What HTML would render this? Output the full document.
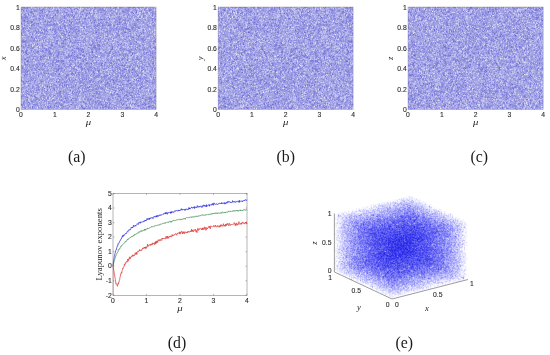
<!DOCTYPE html>
<html lang="en"><head><meta charset="utf-8"><title>Figure</title>
<style>
html,body{margin:0;padding:0;background:#fff;}
body{width:550px;height:355px;overflow:hidden;}
svg{display:block;}
.t{font-family:"Liberation Sans",Arial,sans-serif;font-size:6.8px;fill:#2e2e2e;stroke:#2e2e2e;stroke-width:0.12px;}
.i{font-family:"Liberation Serif","Times New Roman",serif;font-style:italic;font-size:8.5px;fill:#222;}
.s{font-family:"Liberation Serif","Times New Roman",serif;font-size:8.7px;fill:#222;}
.c{font-family:"Liberation Serif","DejaVu Serif",serif;font-size:15.8px;fill:#1a1a1a;}
</style></head><body>
<svg width="550" height="355" viewBox="0 0 550 355">
<defs>
<filter id="hzf" x="-5%" y="-5%" width="110%" height="110%" color-interpolation-filters="sRGB">
<feTurbulence type="fractalNoise" baseFrequency="0.7" numOctaves="2" seed="11" result="n"/>
<feColorMatrix in="n" type="matrix" values="0 0 0 0 1  0 0 0 0 1  0 0 0 0 1  1 0 0 0 0" result="na"/>
<feComposite in="SourceGraphic" in2="na" operator="arithmetic" k1="1.6" k2="0.2" k3="0" k4="0"/>
</filter>
</defs>
<defs><svg id="sc" width="135.2" height="102.6" viewBox="0 0 135.2 102.6"><rect width="135.2" height="102.6" fill="#a0a0e4"/><g transform="scale(0.1)" fill="none" stroke-linecap="round"><path d="M27 20h0m5-17h0m-5 23h0m-14-11h0m15 18h0m0 4h0m-14-13h0m16 5h0m-20-23h0m11 2h0m-17 19h0m27-27h0m32 10h0m-22 6h0m38 18h0m-23 2h0m-9-20h0m12-4h0m3 27h0m2-31h0m35 14h0m9 1h0m-24-8h0m31 12h0m7-11h0m18 17h0m11-19h0m17 10h0m20-3h0m-23-20h0m2 7h0m19 4h0m-21 23h0m31-21h0m-28 15h0m27 5h0m14-17h0m-2 1h0m26-10h0m-26 25h0m0-5h0m20-7h0m-12 6h0m32-24h0m28 2h0m4 34h0m-8-9h0m-8-8h0m32-12h0m15 4h0m-25 0h0m-5-12h0m29 12h0m50 24h0m-20-11h0m9 3h0m-19 1h0m70-29h0m-9 12h0m-23 15h0m26 1h0m3-14h0m-29 18h0m-2-33h0m71 15h0m6-8h0m19 21h0m-18-25h0m21 4h0m37 24h0m-2-9h0m4 9h0m8-4h0m-10-24h0m-17-3h0m9 15h0m-8-8h0m18 1h0m-2 17h0m18-24h0m23 14h0m-4 9h0m20-7h0m-32 5h0m59-23h0m-12 35h0m10-6h0m-17-5h0m35-14h0m24 21h0m-6-28h0m7 34h0m11-15h0m37-8h0m5-5h0m-23 19h0m6 7h0m3-24h0m40 9h0m-16 16h0m5-14h0m19-13h0m-33-2h0m57-4h0m5 5h0m-2 17h0m-16 7h0m16-13h0m47 9h0m6-7h0m0-13h0m0 1h0m-22 24h0m21-20h0m38 20h0m-17-10h0m24 12h0m-36-3h0m14-14h0m-8-6h0m10 17h0m51-2h0m-17-25h0m44 35h0m-5-20h0m2 0h0m11 20h0m-4-14h0m-4-16h0m44 18h0m13-21h0m-6 4h0m-22 7h0m2 0h0m30 9h0m-12-3h0m46 9h0m-23-14h0m22-7h0m14 2h0m8 8h0m-11-9h0m70 23h0m-7-12h0m10-9h0m-25 14h0m31-4h0m-28 17h0m38-37h0m0 0h0m-9 0h0m22 31h0m11-15h0m24 5h0m-1-23h0m12 20h0m-16-16h0m-10 32h0m0-28h0m36 29h0m-1-19h0m-6 11h0m22-16h0m1-8h0m11 12h0m-7-14h0m3 10h0m0 10h0m54 0h0m-4 14h0m-19-33h0m-7 32h0m67-19h0m-10-14h0m-19 4h0m36 30h0m-26-12h0m14-23h0m6 13h0m-11 21h0m-12-19h0m53 20h0m6 2h0m-21-13h0m-1 9h0m1 0h0m12-10h0m-4-12h0m54 3h0m-25 14h0m5-18h0m22 65h0m-25-31h0m15 16h0m5-18h0m-30 15h0m-13-3h0m11 15h0m-11-7h0m11-22h0m4 24h0m-54-11h0m-7 2h0m17 15h0m-14-9h0m-23-22h0m-7 4h0m-5 22h0m-18-27h0m17 22h0m-21-17h0m3 11h0m-31 22h0m0-16h0m12-15h0m-62 19h0m30-11h0m-35-12h0m32 12h0m6-2h0m-5 20h0m1 2h0m-13-13h0m3-19h0m-21 18h0m31-17h0m-44 32h0m-3-19h0m2-5h0m6 9h0m-5 4h0m-23 5h0m28-16h0m-35-10h0m-40 7h0m2 22h0m5-2h0m20 6h0m-1-37h0m-15 32h0m22-4h0m-6-3h0m4 13h0m2-4h0m-60-34h0m-11 24h0m19-16h0m-7 15h0m11-11h0m7 6h0m-10-16h0m-3 26h0m-52 2h0m19-8h0m11-6h0m-37 6h0m34 3h0m-35 2h0m26 4h0m-29 0h0m-35-30h0m21 1h0m-50 32h0m20-9h0m6 9h0m-46-7h0m-33 3h0m23-4h0m-15-12h0m-8 15h0m31-18h0m-20-8h0m-19 0h0m-18 36h0m-9-26h0m24 14h0m-34-7h0m-23-13h0m-40 15h0m3-3h0m0 5h0m21-19h0m-6 17h0m-17 4h0m-3-17h0m1-2h0m-39-4h0m-2 22h0m12-15h0m-17 5h0m-1 9h0m-24 7h0m11 3h0m-2-6h0m1 0h0m-13-27h0m19 38h0m-8-25h0m-58-9h0m-4-1h0m16 16h0m15 18h0m-21-5h0m16-12h0m-31 3h0m26-16h0m-32 31h0m-25-6h0m23-30h0m-25 4h0m31 13h0m-28 9h0m-9-4h0m-17-4h0m-23 14h0m6-13h0m23 0h0m-35-8h0m-24 24h0m26-15h0m1-12h0m-15-2h0m-33 29h0m4-35h0m-21 15h0m-14-14h0m9 15h0m4-1h0m-41 12h0m15 8h0m-13-27h0m0 0h0m24-5h0m-75 8h0m10-3h0m25 11h0m-26-22h0m-11 31h0m-14 3h0m-26-16h0m5 6h0m23 2h0m-68 7h0m8 6h0m27-27h0m-34-2h0m4-3h0m27 3h0m-23 4h0m-42 24h0m31-13h0m-37-15h0m22 16h0m-53-9h0m2-14h0m-13 34h0m33-28h0m-18-9h0m23 17h0m-19 3h0m-13-3h0m1 4h0m-9 1h0m-15-3h0m-42 6h0m-9 11h0m-6-18h0m26-16h0m-31 24h0m15-25h0m23 19h0m-74 12h0m11-18h0m0 15h0m3-23h0m10-1h0m-27 0h0m9 15h0m16-2h0m2-1h0m-38 13h0m-21 2h0m-5-22h0m26 17h0m6-10h0m2 21h0m-42 1h0m0-7h0m-28-25h0m-1 28h0m24 30h0m-27-9h0m17 12h0m-15-12h0m11 19h0m-11-1h0m9-28h0m-1 16h0m45 5h0m12-26h0m-9 20h0m-2-9h0m-18 15h0m33 7h0m-30-21h0m0 17h0m28-27h0m-22 8h0m49-6h0m-5-3h0m-4 31h0m-6 2h0m9-27h0m26 11h0m20-5h0m-9-2h0m23 2h0m-12 17h0m12-1h0m-35-29h0m75 11h0m-8-4h0m12 5h0m-18-10h0m3 29h0m-4 6h0m37 0h0m-13-3h0m0-3h0m28-21h0m3-9h0m-20 9h0m12 20h0m-5-28h0m5 34h0m10-32h0m22 4h0m6-2h0m-6-3h0m8-2h0m4 32h0m22-1h0m-2-11h0m1-17h0m24 26h0m3-6h0m1-6h0m0-19h0m2 9h0m6 13h0m2 10h0m15-28h0m-17 15h0m17-17h0m41 35h0m7-8h0m38-13h0m5 18h0m-1-7h0m-33-10h0m11-16h0m10 15h0m11-3h0m-13-1h0m29 9h0m-10-20h0m16-1h0m6 11h0m-9 19h0m23-30h0m42 5h0m-8 11h0m-6-3h0m-21 7h0m29-19h0m23 8h0m-8 6h0m21 15h0m3-29h0m-28 23h0m4 6h0m9-23h0m53 15h0m6-11h0m-23-3h0m63 9h0m-11 1h0m-22-1h0m17-14h0m57 12h0m-1 3h0m-22-16h0m4 3h0m-9 26h0m9-15h0m-17 22h0m7-6h0m22-20h0m-28 24h0m48-17h0m13-9h0m5 26h0m-7-31h0m-20 32h0m17-13h0m18-10h0m15 12h0m-10-24h0m30 20h0m-12-1h0m-4-13h0m1 16h0m56 14h0m47-13h0m-36-5h0m45 19h0m12-18h0m-5 17h0m-10-16h0m28 10h0m8-7h0m24-15h0m-8 0h0m-11 26h0m28-8h0m25 8h0m-9-12h0m17-18h0m11 12h0m-23 5h0m-2-13h0m25-9h0m-9 17h0m-19 0h0m8-11h0m55 26h0m-14-7h0m18 10h0m-13-19h0m41-7h0m5 7h0m5-15h0m-29 37h0m65-17h0m-6-4h0m6 0h0m45 4h0m-22-19h0m-2 33h0m13-27h0m-11-5h0m5 26h0m28-24h0m11 21h0m13-11h0m12 5h0m35 0h0m-9-17h0m-14 35h0m11 0h0m2-18h0m19 12h0m-5-33h0m30 29h0m8-22h0m-17 2h0m3 2h0m2 14h0m50 1h0m6 6h0m2-24h0m30-8h0m-26 33h0m23-22h0m0 22h0m-31 3h0m66-27h0m-4-6h0m-6 24h0m-12 5h0m11-14h0m0 37h0m-12-7h0m11 25h0m3-11h0m-13 15h0m19-37h0m-8 9h0m15 3h0m-33 6h0m-4-7h0m-1-11h0m-9 3h0m-16 7h0m29 29h0m-30-14h0m-10-3h0m-15 11h0m-13-25h0m22 16h0m-13-24h0m-13 24h0m5 4h0m-45-1h0m9-23h0m6 27h0m15-21h0m-6 19h0m-18-28h0m17 5h0m-60 28h0m-3-27h0m18-4h0m-12 9h0m3-9h0m-5 15h0m-41-3h0m31 2h0m0-12h0m-74 33h0m29-35h0m-69 1h0m20 15h0m-18 0h0m30-5h0m-59-10h0m13 14h0m-10-7h0m-12-8h0m4-1h0m8 11h0m-11 18h0m4-10h0m-6 16h0m7-37h0m-30 36h0m-23-15h0m24-1h0m0 16h0m1-31h0m5 0h0m-16 32h0m5-34h0m18 34h0m-48-24h0m7 23h0m-38-11h0m26 6h0m-62-26h0m-20 30h0m7-19h0m-9-16h0m-12 31h0m4 8h0m-7-1h0m-39-33h0m15 4h0m5 14h0m10-22h0m-30 4h0m26-5h0m-9 28h0m-49 11h0m3-20h0m15 15h0m-18-27h0m20-3h0m-30 11h0m-34 16h0m4-25h0m12 0h0m-15 9h0m11 23h0m-22-31h0m25 6h0m-14 19h0m16-25h0m-66 26h0m10-18h0m14 24h0m-13-29h0m-49 17h0m12 6h0m-7-22h0m28-11h0m-15 20h0m-26 11h0m-4-16h0m-24-6h0m20-8h0m-13 22h0m20 4h0m-17 9h0m9-25h0m-60-8h0m7 28h0m15-26h0m-7 0h0m-15 5h0m15 15h0m4 11h0m-38-24h0m6 21h0m-6-28h0m-3 21h0m0-5h0m-58-4h0m-4-6h0m-2 26h0m-2-19h0m21 17h0m2-23h0m-17 10h0m19 9h0m14-7h0m-9 9h0m-56 3h0m-7 2h0m16-24h0m-53 16h0m-8-27h0m3 21h0m29 6h0m-12 0h0m12-15h0m-49 0h0m14-1h0m-15 2h0m12-14h0m-38 37h0m-17-25h0m-18-6h0m24 3h0m-11 21h0m-48 7h0m0-5h0m20-34h0m-25 5h0m36 29h0m-6-6h0m-5-8h0m-28 8h0m1-7h0m18 2h0m-32 10h0m-23-2h0m16-14h0m-16 7h0m8-5h0m-10-1h0m-17 1h0m-6 15h0m-24-24h0m-8 0h0m0 25h0m8 4h0m-36-32h0m-18 25h0m-18-28h0m36 1h0m-37 7h0m33 19h0m-42-4h0m-16-4h0m13 16h0m8-16h0m-29-19h0m18 29h0m10-25h0m-13 23h0m5 0h0m-57-2h0m18-11h0m-5-14h0m2 28h0m-5-6h0m-26-3h0m-4-9h0m-1-6h0m-11 10h0m13-3h0m-5 9h0m9 46h0m-29-24h0m2 18h0m24-15h0m4 29h0m-20-26h0m-3 26h0m21-13h0m-36-20h0m62 5h0m16-6h0m-21 33h0m22-8h0m-12-25h0m35 34h0m9-17h0m-7 4h0m15-10h0m16 12h0m-11-11h0m34-9h0m-6 13h0m-14-17h0m17 12h0m-24-11h0m47-4h0m-1 2h0m-2 20h0m-8-15h0m10 1h0m-15 6h0m74 3h0m-27 1h0m4-17h0m55 17h0m3 10h0m-24 4h0m12-31h0m7-1h0m-6 18h0m54 9h0m-27 1h0m11-8h0m-18-5h0m21 2h0m38-12h0m-5 17h0m7 17h0m-16-23h0m32-16h0m-28 9h0m17 9h0m42-16h0m-25 8h0m-3 6h0m57-14h0m16 36h0m-2-14h0m-30 8h0m35-17h0m-30 12h0m30-6h0m-12-10h0m-6 25h0m22 2h0m0-12h0m25 5h0m6-26h0m32 32h0m-18-21h0m-1 5h0m9 9h0m3-18h0m10-7h0m16 15h0m27-13h0m3 28h0m17 1h0m-6-28h0m32 31h0m18-6h0m-1-11h0m18 13h0m-5-32h0m-12 3h0m48 15h0m8 3h0m-6 11h0m8-3h0m-11 4h0m1-20h0m32 19h0m10-18h0m3-6h0m52 5h0m-4-16h0m-7 28h0m2-6h0m-16 11h0m6-24h0m54 18h0m-18-20h0m-1 17h0m14 9h0m-27-21h0m24-3h0m-18 19h0m-5 6h0m56-34h0m-5 15h0m19 12h0m-29-22h0m18 19h0m-3 4h0m60-4h0m-35-8h0m33 9h0m-21 2h0m8-10h0m15-6h0m16 23h0m-4-3h0m8-12h0m4-11h0m-7 22h0m-10-10h0m42-1h0m18 10h0m-9 2h0m-5-3h0m38 5h0m16-21h0m-15 3h0m-2-6h0m-8 7h0m54-3h0m-12-10h0m35 4h0m22 29h0m-8-10h0m0-11h0m-4-12h0m-7 0h0m14 32h0m-6-19h0m35-14h0m1 3h0m9 6h0m0 6h0m2-5h0m14 1h0m40 9h0m-17 2h0m6-18h0m4 26h0m0-19h0m-8 12h0m26-21h0m38 32h0m28-33h0m38 13h0m-12-5h0m23 26h0m-10-9h0m46 0h0m-9-9h0m-21-14h0m8 24h0m8 10h0m9-28h0m-22 8h0m5-15h0m10 1h0m5 32h0m22-6h0m8-23h0m0 24h0m1 7h0m-1-7h0m-9-9h0m16 43h0m-2 2h0m-10 7h0m-3-33h0m-40 8h0m9 20h0m8-22h0m-51 23h0m-2 8h0m-5-12h0m9-5h0m2-7h0m-32 17h0m-2-7h0m-4-24h0m12 5h0m-45 7h0m-17-10h0m21 13h0m-19-7h0m4 4h0m-10 8h0m-12-17h0m-20 29h0m15-12h0m-23-16h0m-23 7h0m17-5h0m-6 12h0m0 0h0m-27 8h0m26-27h0m-34 29h0m-16-12h0m12 4h0m-24-5h0m10-16h0m11 26h0m-16-13h0m5 14h0m-16-10h0m-26-12h0m0 24h0m2-5h0m19-19h0m-22 27h0m-12-10h0m23 14h0m-1-26h0m-54 26h0m12-11h0m-6-13h0m1 8h0m-55 6h0m35-16h0m-10 12h0m-6-6h0m9-7h0m-20 23h0m22-14h0m-39 14h0m-18-27h0m2 3h0m15 4h0m-8 8h0m-14 16h0m-40-26h0m24 1h0m-16 14h0m6 12h0m-53-22h0m7 2h0m-10-17h0m-5 19h0m-1 1h0m22 11h0m11-22h0m-13 24h0m-56 1h0m6-34h0m7 15h0m-5 19h0m-16-22h0m10 13h0m10-12h0m-5 10h0m-38-17h0m17 0h0m-9 24h0m10-9h0m-19-4h0m-3-9h0m15-1h0m-49 8h0m-47-11h0m2 1h0m14-2h0m8 36h0m0-1h0m-63-24h0m14 25h0m8-20h0m-7-15h0m-9 9h0m14 1h0m-7 15h0m-17 1h0m-25-7h0m-14-4h0m11 15h0m-21-10h0m18 9h0m-54-19h0m16 17h0m12-14h0m-15-13h0m17 12h0m-5 10h0m-34-5h0m-25-6h0m19 21h0m-4-20h0m-10 3h0m4 12h0m-21 1h0m1-22h0m-33-4h0m3 4h0m-4 18h0m9 1h0m-44 6h0m4-19h0m-13 17h0m12-32h0m-11 20h0m35-1h0m-28 14h0m15-30h0m-51 14h0m25-17h0m-21 18h0m14 7h0m3-12h0m-6 22h0m-18-27h0m25-1h0m-55 7h0m5 23h0m3-10h0m-17 1h0m-13-8h0m-3 9h0m-24-9h0m3 6h0m19 4h0m-55 6h0m-18-13h0m13 12h0m2-15h0m-10 6h0m22-26h0m-8 38h0m-29-14h0m7 14h0m-30-33h0m-2 30h0m29-14h0m-39-18h0m-10 0h0m-12 13h0m-2 17h0m-35-6h0m9-21h0m4-3h0m-21 21h0m27-22h0m-16 20h0m12 7h0m-63 3h0m-4-26h0m6 10h0m-10 14h0m12-18h0m12 18h0m-25-3h0m-32-6h0m-5-13h0m27-8h0m-4 18h0m0-12h0m-38 5h0m-3 5h0m-18 11h0m10-5h0m6-3h0m-6-17h0m-5 0h0m-7 45h0m3 23h0m15-24h0m7 30h0m-28-14h0m30-12h0m19-2h0m5 9h0m20-17h0m39 34h0m0-13h0m-20-6h0m2-1h0m-2-2h0m52-12h0m9 19h0m-2-13h0m6 12h0m-12 20h0m-8-35h0m-12-3h0m53 24h0m19-1h0m-2-13h0m-19 27h0m-5-31h0m4 31h0m3-35h0m10 6h0m24 11h0m-10-18h0m34 1h0m-2 19h0m-17-1h0m-8-5h0m19 14h0m46 0h0m-11-26h0m-7 33h0m16-5h0m41-15h0m-20 10h0m-14 1h0m18-9h0m5-16h0m48 11h0m-11 23h0m-8-1h0m2-28h0m-10 0h0m20 21h0m-23 0h0m22-6h0m1-11h0m-10 5h0m5-7h0m52 13h0m-19 12h0m-2-10h0m47-2h0m18 14h0m-34-15h0m22-22h0m-5 28h0m-13 3h0m22-4h0m23 12h0m12-38h0m14 30h0m-29 7h0m7-36h0m-12 33h0m10-25h0m40 19h0m-7-20h0m31 30h0m-33-26h0m22 0h0m6 6h0m-22-2h0m6-17h0m-15 15h0m42-11h0m32 22h0m-14-25h0m8 15h0m10 12h0m38 11h0m-19-39h0m-2 29h0m10-29h0m-8 30h0m-13-27h0m65-1h0m-27 21h0m16 14h0m15-10h0m-3-21h0m-22 3h0m53-6h0m17 13h0m-34 10h0m5 9h0m17-12h0m49-1h0m-10-20h0m46 2h0m-30 14h0m31-3h0m-27 5h0m22-1h0m5-4h0m-22 10h0m48-12h0m-17 8h0m7 8h0m19-2h0m21-14h0m17 21h0m-8-7h0m47-19h0m12-8h0m-19 7h0m1-6h0m-16 8h0m22 23h0m24-21h0m18 1h0m-16-6h0m22 25h0m40-12h0m-23 20h0m17-37h0m-12 21h0m4-1h0m34-5h0m0-13h0m20 26h0m-26-2h0m19 11h0m1-19h0m-11-13h0m63 8h0m-7 11h0m-32-14h0m32 11h0m-21 0h0m27-12h0m32-1h0m-18-6h0m-6 10h0m1 0h0m1-4h0m26 20h0m-22-8h0m67 3h0m-31-1h0m-4-19h0m6 21h0m7-5h0m5-9h0m-6-9h0m60 31h0m-25-30h0m48 29h0m17-17h0m2 17h0m-12-31h0m-6 24h0m-20-24h0m65 9h0m5 23h0m-26-8h0m15 7h0m7-15h0m38 17h0m4-27h0m-8 12h0m-9 11h0m67-9h0m-26 1h0m7 13h0m-15-23h0m-3 25h0m49-22h0m21 28h0m0 31h0m-4-24h0m-14 14h0m-7-6h0m-39 8h0m20 9h0m-21-15h0m-15-20h0m5 19h0m-14-5h0m-61 20h0m18 3h0m11-14h0m4-11h0m-21 18h0m23-25h0m-13 33h0m-50-16h0m10-17h0m14 16h0m-7-10h0m-24-2h0m14 8h0m-60 6h0m35-16h0m-14-1h0m-18 17h0m-6-3h0m-19-2h0m15 8h0m-5-19h0m-12-8h0m-4 31h0m-14-11h0m-36 10h0m9-14h0m22-6h0m-14 18h0m-42-2h0m1-22h0m1 16h0m-13 5h0m14-6h0m-50-10h0m29 20h0m-6 0h0m-25-28h0m18 19h0m-1-2h0m-23 10h0m13-23h0m-37 15h0m-14 13h0m3-30h0m24 16h0m6 4h0m-46 2h0m-21 2h0m3-22h0m-35 11h0m-10 17h0m-5-14h0m24 0h0m-40-14h0m-14 34h0m6-30h0m6 14h0m-31 3h0m0 0h0m-25-8h0m28-17h0m-22 7h0m7 31h0m-29-36h0m-9 15h0m15 5h0m-59 2h0m9 13h0m-13-34h0m-17 33h0m-36-21h0m4-3h0m-3 6h0m-6 18h0m-23-14h0m1 13h0m-42-26h0m4-8h0m-14 9h0m5 13h0m-42-9h0m-4 15h0m4 3h0m4-11h0m-11-21h0m26 23h0m13 10h0m-17-4h0m-33 1h0m-25-26h0m0 31h0m4-9h0m26 0h0m-62 0h0m-5-17h0m-6 20h0m5-29h0m32 3h0m-11 30h0m-44-27h0m9-1h0m-20 0h0m19 24h0m-19-28h0m-1 26h0m4-28h0m4 2h0m4 30h0m13-13h0m-39 11h0m-17-16h0m-17 20h0m30 3h0m-1-14h0m-52-1h0m15-12h0m-25-1h0m-5 17h0m6 11h0m-15-13h0m-17-2h0m1-22h0m-19 33h0m-36-10h0m22-8h0m11 21h0m-64-10h0m-9-1h0m15 7h0m8 6h0m11-21h0m-31-17h0m-34 5h0m1 31h0m16-27h0m0-6h0m-11 26h0m1-25h0m-7 15h0m-27 0h0m-19 15h0m24 1h0m-8-29h0m-4 18h0m11 12h0m-19-28h0m-12 11h0m34 1h0m-49-6h0m4 9h0m10 10h0m-32-32h0m17 29h0m-22-10h0m21-5h0m-32 3h0m-22-16h0m-26 37h0m-10-34h0m22 20h0m-12 33h0m-20 16h0m17 3h0m-6-16h0m7 3h0m12 2h0m2 0h0m-14 4h0m-14-18h0m72-2h0m-15 24h0m14-9h0m-30-2h0m4-6h0m-9 15h0m62 5h0m-5-10h0m-1-17h0m25 11h0m8-10h0m23 17h0m-32-4h0m9-21h0m0-3h0m-2 9h0m57 11h0m-21-12h0m19 8h0m-22 8h0m3-12h0m59 3h0m11 13h0m-9 10h0m-4-19h0m49 19h0m5 0h0m-13-6h0m-16-13h0m61 20h0m-26-11h0m57-10h0m-20 17h0m38-18h0m1-3h0m-30-5h0m28 21h0m6-7h0m7-8h0m24 13h0m-17 1h0m22 8h0m24-11h0m3-26h0m-2 27h0m10-20h0m-22 2h0m18 29h0m0-32h0m9 4h0m-8 23h0m-23-25h0m14 7h0m23-12h0m4 2h0m8 29h0m-4-29h0m8 34h0m34-17h0m-13 8h0m15-16h0m19 25h0m-9-20h0m-12 6h0m45-13h0m0 26h0m-3-7h0m12-13h0m-15-5h0m38 17h0m-5 4h0m22-1h0m-22-24h0m18 5h0m14 15h0m-17 7h0m-13-2h0m20-15h0m-13-4h0m3-3h0m51 26h0m-6-29h0m5-9h0m5 36h0m4-12h0m-7 15h0m-9-21h0m13-10h0m11 18h0m20 13h0m-16-21h0m1-5h0m-2 7h0m66 3h0m-21-16h0m-7 6h0m8-13h0m59 18h0m-34 20h0m29-31h0m5 9h0m0-10h0m-2-5h0m41 21h0m-33 13h0m28-2h0m-20-32h0m5 8h0m-12 0h0m33 7h0m-8-2h0m-20 24h0m55-11h0m-3-16h0m21 7h0m16-7h0m21 6h0m-3-12h0m5 1h0m-31 20h0m31 11h0m2-17h0m1 3h0m18-20h0m3 20h0m42-12h0m-3 20h0m-17-24h0m-4 12h0m35-11h0m24 24h0m-9-3h0m29 6h0m-27-3h0m26-27h0m-36 19h0m59-4h0m18-11h0m-5 3h0m-2 14h0m11 2h0m24-6h0m-24-16h0m47 16h0m-4-12h0m9 7h0m13-17h0m-9 34h0m59-27h0m-37-1h0m33 25h0m3 3h0m-7-7h0m-14-5h0m37-20h0m62 5h0m-18-1h0m17 8h0m-27-14h0m19 21h0m-10-10h0m6 27h0m4-6h0m35-23h0m-11-4h0m17-4h0m-11 26h0m58-25h0m-34 32h0m11-3h0m16-9h0m-14 5h0m51-1h0m-11-8h0m8-12h0m-19 26h0m9-31h0m6 4h0m-5 19h0m-7 22h0m-37-3h0m4 26h0m25-2h0m-27 7h0m-41-13h0m4-20h0m-16 19h0m-20-4h0m18-1h0m-12 15h0m6-8h0m-11 6h0m-21 5h0m-27-5h0m23-8h0m-29-17h0m5-3h0m18 16h0m1 11h0m1-22h0m-2-2h0m-31 8h0m-28-1h0m13 26h0m-12-17h0m21 1h0m-51-10h0m12-5h0m-24 31h0m9-25h0m3 2h0m2 2h0m-16 1h0m-31 1h0m7 8h0m-26-15h0m-31-6h0m20 28h0m-58-2h0m32-15h0m-22 2h0m-3 6h0m9-18h0m-51 20h0m-8 13h0m0-29h0m-10 29h0m-23-14h0m12-18h0m7 22h0m-29-5h0m33-22h0m-49-1h0m8 2h0m-21 30h0m-10-14h0m30 9h0m-55-8h0m14-4h0m-45-4h0m-7 17h0m-4 0h0m14 6h0m-18-19h0m-5 10h0m16-11h0m4 8h0m-52 15h0m-4-37h0m7 18h0m1 14h0m5-9h0m-44-14h0m10 12h0m11 5h0m-2-20h0m-29 12h0m14 7h0m-58-6h0m6-3h0m27-12h0m-25 21h0m16 2h0m-28-1h0m-9-3h0m-30-7h0m29 9h0m-29 8h0m-7-33h0m1 14h0m-31 25h0m8-25h0m-51 11h0m-1-23h0m-5 30h0m-14-2h0m-19 2h0m-6-4h0m-31-20h0m1-8h0m-23 3h0m-14-2h0m10 33h0m12-22h0m-1-9h0m-3 33h0m-17-33h0m-29 25h0m5 10h0m-16-7h0m14-13h0m-15 1h0m-1 5h0m-1-20h0m-12 0h0m-33 0h0m35 32h0m-11-30h0m-9 18h0m-7 11h0m-25-10h0m8-4h0m-2-3h0m-8 0h0m13 16h0m-76-11h0m21 5h0m-16 3h0m-20 5h0m-20-34h0m11 20h0m-2-2h0m2 10h0m19-4h0m-13 10h0m-48-4h0m-11-31h0m1 16h0m4-14h0m2 15h0m-31 10h0m15-28h0m-28 14h0m19 3h0m-3-6h0m-40 4h0m4-9h0m3 27h0m-7-17h0m-19 8h0m10-16h0m13 21h0m-30-4h0m-24-5h0m-4-9h0m-3 11h0m10 8h0m-39-11h0m-9 9h0m19 9h0m-17-9h0m15-13h0m-9 62h0m-1-8h0m9-1h0m7-25h0m40 1h0m-15 20h0m-4 15h0m11 0h0m-6-11h0m13-23h0m39 3h0m6 4h0m-21-5h0m7 30h0m-1-21h0m27-12h0m12 32h0m-15-15h0m15 10h0m-3-28h0m14 16h0m32-15h0m4 5h0m-1 24h0m-1 3h0m-4-28h0m-1 7h0m-9 8h0m0-11h0m10-8h0m39 11h0m-8-6h0m26 6h0m-32-2h0m10 22h0m7 3h0m-21 1h0m51-17h0m1-2h0m17 1h0m3 1h0m-16 12h0m3-12h0m22-19h0m29 18h0m-25 15h0m8-26h0m0 0h0m-11 6h0m50 6h0m-12 14h0m36 1h0m-3-28h0m-23-5h0m69 15h0m-20 12h0m13-26h0m16 0h0m-6 1h0m12 1h0m-11 7h0m20 8h0m-12-19h0m59 35h0m-8-19h0m-12 15h0m7-16h0m35-10h0m25 14h0m-17 14h0m32-19h0m16 4h0m-27 7h0m34-17h0m44 19h0m-15-6h0m-8-8h0m-6 2h0m24-1h0m-20-8h0m-12 12h0m11-6h0m43 3h0m20-1h0m-31 20h0m17-11h0m11-25h0m-17 21h0m63-16h0m-6 1h0m30 16h0m14-12h0m-7 18h0m-15-20h0m31-7h0m8 19h0m23-2h0m-13-13h0m2-4h0m0 9h0m-14-6h0m19 25h0m46-29h0m-14 17h0m3 8h0m1-10h0m-16 6h0m11-13h0m48-9h0m-19 22h0m5-10h0m8 25h0m41-27h0m-16-10h0m13 1h0m-10 25h0m3-26h0m57 27h0m1-19h0m-20 30h0m-2-17h0m22-3h0m-6 7h0m11-16h0m-6 11h0m42 19h0m-24-24h0m-1-4h0m12 23h0m-13-12h0m7 12h0m-4-29h0m50 16h0m11 15h0m1-20h0m6-2h0m20 9h0m17-16h0m-28-3h0m-3 30h0m27-13h0m1 3h0m-29-24h0m60 34h0m-11-4h0m-11-18h0m36 23h0m39-19h0m-8 11h0m-21 2h0m19-1h0m47 5h0m-7-13h0m-1 0h0m5 12h0m45-31h0m-19 9h0m-9-4h0m29 22h0m-23-9h0m-10 3h0m21 2h0m4-11h0m-26-4h0m24-6h0m-25 35h0m72-29h0m-9 15h0m12 9h0m-15 3h0m-10-27h0m52-4h0m8 32h0m2-32h0m-34 17h0m25-5h0m-24-6h0m64-2h0m1 18h0m-20-15h0m6-11h0m-3 36h0m6-29h0m48 20h0m0-19h0m-4-6h0m12 5h0m-25-5h0m14 15h0m6 5h0m5 36h0m-10-4h0m6 11h0m-8-9h0m-25 4h0m-20 1h0m-4-17h0m11 16h0m8 3h0m9 8h0m-6-10h0m6-16h0m-41 20h0m-18-18h0m11 8h0m-15 8h0m20 12h0m-21-21h0m25 10h0m-73-3h0m17 1h0m16-10h0m-32 11h0m9 10h0m-1-5h0m21 5h0m-31-13h0m-41 2h0m31 11h0m4-24h0m-11-1h0m-25 7h0m-17 10h0m-8-26h0m0 26h0m-18-7h0m-12-13h0m-13 2h0m-9-8h0m6 19h0m23 8h0m-6-14h0m4 5h0m1 20h0m5-8h0m-30-28h0m-3 18h0m-37-16h0m15 10h0m4 0h0m-11 12h0m-11 7h0m-34-31h0m14 30h0m-20-14h0m20-17h0m-20 1h0m10 21h0m-54 2h0m36 1h0m-24-13h0m21-7h0m-32 33h0m21-4h0m4 0h0m-61-14h0m17 15h0m-5-20h0m-10 15h0m23-13h0m-10-7h0m-55 10h0m4-10h0m4-5h0m-6 3h0m-7 11h0m36 16h0m-29-13h0m-35-14h0m-13-2h0m29 27h0m-30-14h0m23 1h0m12 18h0m-27-30h0m26 24h0m-55-11h0m-3 16h0m-12-17h0m8 3h0m-12-2h0m-1-7h0m-7 9h0m-29-4h0m-9-17h0m-28 31h0m-35-14h0m20-4h0m8-13h0m-9 7h0m0-7h0m2 15h0m-31 21h0m33-31h0m-33 11h0m11-4h0m-36 10h0m1 8h0m-38-18h0m5-11h0m1 4h0m-15-5h0m-20 24h0m6 8h0m-22-34h0m-8 11h0m-30 2h0m22-10h0m-22 33h0m1-29h0m-17 13h0m-1 14h0m-4-20h0m1-14h0m-34 38h0m15-37h0m15 16h0m-29 5h0m-6 7h0m-37-27h0m30 23h0m-29-11h0m30 7h0m-46 9h0m0-21h0m7-6h0m-20 3h0m-9 29h0m23-27h0m-52 29h0m2-23h0m-9-13h0m4-2h0m17 16h0m-27-14h0m29 0h0m-12 27h0m-6-7h0m-17 6h0m-13-21h0m-22 22h0m-30-20h0m-9-5h0m2 18h0m13 2h0m6 11h0m-19 4h0m6-9h0m1-20h0m12 13h0m-32-4h0m-23-19h0m-7 13h0m30-3h0m-5-8h0m-45 11h0m-17 14h0m17-13h0m-8-6h0m-39 3h0m5-4h0m-15 1h0m34 5h0m-19-10h0m13 0h0m-27 23h0m10-26h0m16 38h0m7-34h0m-39 6h0m-25 19h0m8-21h0m3 30h0m-19-31h0m16 27h0m17-20h0m-8-7h0m-23 5h0m-16 21h0m-12 4h0m15-10h0m-8-26h0m0 30h0m-22-12h0m-1-16h0m-37 12h0m0-15h0m2 3h0m5 1h0m10-2h0m-7 15h0m17 20h0m-12-12h0m-19 12h0m19-10h0m12 9h0m-2-4h0m-16-20h0m7 24h0m-9-11h0m-3-24h0m3 3h0m18 0h0m-42 11h0m1 21h0m-20-33h0m22 9h0m-10 1h0m-19 26h0m44 31h0m13 7h0m7-9h0m-27-23h0m12 7h0m8 21h0m5-5h0m-13 6h0m30-17h0m19-11h0m-21 14h0m47-8h0m23 1h0m-26 21h0m7-20h0m61 1h0m7 0h0m-6-9h0m1 24h0m-31 3h0m62-20h0m-20 3h0m14-14h0m8 4h0m12-1h0m-24 1h0m23 10h0m-11 3h0m-18 6h0m32-21h0m24 18h0m2-5h0m23-4h0m-5 13h0m1-12h0m5 22h0m-2-8h0m11-1h0m40 11h0m-20 0h0m9-10h0m10 9h0m-19-35h0m31 16h0m2 4h0m-28-22h0m25 20h0m-5-18h0m16 2h0m6 29h0m17-2h0m-16-12h0m17 0h0m11 9h0m-25-21h0m-8 10h0m19 10h0m12-10h0m-9 18h0m31-24h0m22 25h0m-35-26h0m27 6h0m6 5h0m39-10h0m-15 16h0m16-24h0m-7 21h0m-18-14h0m26 26h0m-21-14h0m41-13h0m-6 9h0m11-15h0m4 2h0m-18 8h0m3 22h0m21-4h0m-31 3h0m72 5h0m-26-31h0m-4-7h0m29 13h0m-17 3h0m9 15h0m-11 4h0m11-10h0m46 8h0m-28-9h0m34 2h0m-1 7h0m-27-7h0m14-2h0m-15-20h0m-7 13h0m71-13h0m2 10h0m-20-10h0m-1 33h0m8-36h0m0 0h0m14 16h0m9 14h0m2-10h0m71 3h0m-24-4h0m16 7h0m-1-7h0m8-15h0m-11-3h0m13 31h0m-37-8h0m39-12h0m-32-11h0m57 16h0m-1 19h0m-4-35h0m1-3h0m11 15h0m-1-4h0m-27 9h0m8 19h0m-7 0h0m10-2h0m-5 0h0m36-16h0m-4 6h0m24-16h0m-10 6h0m-3-10h0m25 22h0m-28-1h0m40-27h0m25 35h0m-23-34h0m16 1h0m-4 5h0m-15 12h0m61-6h0m-2-4h0m1 2h0m-21 21h0m8-1h0m55-15h0m1 9h0m-24-18h0m46-3h0m-2 18h0m11 13h0m32-23h0m15-9h0m9 27h0m27-30h0m9 23h0m-13-11h0m2 18h0m-1 6h0m28 0h0m-3-37h0m18 4h0m6 18h0m-15-18h0m-14 11h0m70-3h0m-31 6h0m22-17h0m4 6h0m3 14h0m42 4h0m-24-8h0m-3-12h0m1 2h0m67 10h0m-28-3h0m1 8h0m27 15h0m-23-23h0m-8 22h0m3-22h0m63 21h0m-22-14h0m5-19h0m-1 34h0m28-18h0m38 15h0m-2 3h0m0-27h0m-34 28h0m54-30h0m12 4h0m10 6h0m-12-4h0m-15-5h0m27 18h0m29 7h0m-23-10h0m0 24h0m-2 19h0m6 13h0m-2-10h0m19-24h0m-36 3h0m-17 13h0m-9 16h0m-41-34h0m13 20h0m26-1h0m-3-11h0m0-6h0m-33 9h0m25 4h0m-1 14h0m-45 0h0m-4-18h0m21 25h0m-31-12h0m10-9h0m-47-13h0m7 32h0m6-15h0m-13-10h0m-11 0h0m11 11h0m-6-17h0m33 17h0m-31 0h0m20-18h0m-42-4h0m-12 36h0m-10-25h0m-2 1h0m38-12h0m-2 23h0m-38-15h0m-28 16h0m-4 9h0m27-31h0m-49 12h0m0-12h0m0 8h0m-12 10h0m3 9h0m-35 7h0m17-11h0m-24-25h0m-13 3h0m6 7h0m7-4h0m-33-7h0m-4 2h0m-16 4h0m30 8h0m-20-11h0m27 14h0m-14-4h0m-52 12h0m25-17h0m-35 21h0m-8-29h0m-12 28h0m5 6h0m-13-19h0m-10 16h0m20-22h0m-16 20h0m-45 7h0m-1-1h0m24-24h0m4 2h0m-1 6h0m-56-6h0m-13-13h0m21 7h0m13 29h0m-36-25h0m-25 0h0m9-7h0m-49 30h0m23-4h0m-14 2h0m-16-11h0m27-1h0m-29 2h0m30 16h0m-52-24h0m14 13h0m3-6h0m-28-21h0m-43 7h0m-6-6h0m13 9h0m11 21h0m-40-11h0m9-12h0m-13 5h0m2 13h0m-15 6h0m10-9h0m-22-14h0m-23 19h0m-1 8h0m-52-23h0m23 3h0m0-13h0m-20 31h0m-17-17h0m9-3h0m-33 14h0m6-8h0m21-13h0m-18-7h0m2 10h0m20 22h0m-27-28h0m1 13h0m-32-13h0m-28 14h0m-22 17h0m3-19h0m-7 9h0m36 8h0m-18-10h0m4 0h0m-10-9h0m-12-2h0m-25 12h0m-3-4h0m-8 1h0m29 6h0m-35-10h0m21-1h0m-52-1h0m28 10h0m-35 4h0m-1-6h0m21 14h0m11-30h0m-4 28h0m-55-26h0m13-2h0m-15 21h0m25 10h0m-34-1h0m-1 1h0m-29-17h0m0-12h0m15-4h0m-3 34h0m-63-2h0m19-27h0m-11 6h0m-39 14h0m23-25h0m4-3h0m-25 17h0m-15-11h0m-19 3h0m-18 6h0m21-8h0m0-7h0m-32-1h0m-17 1h0m23 8h0m-53 15h0m-2-3h0m-15-17h0m11 18h0m15 6h0m-9-10h0m13-2h0m-6 7h0m-5 0h0m-19-7h0m-10 17h0m3-24h0m-5-9h0m5 9h0m-4 45h0m-22 4h0m2-17h0m20 3h0m-32 10h0m4-12h0m0 28h0m30-24h0m12 12h0m29 17h0m-17-7h0m7 10h0m-4-21h0m-19-2h0m43-6h0m-4 12h0m14 2h0m16 6h0m-26-29h0m69 10h0m-8 23h0m-20-11h0m52 6h0m4-18h0m-3 0h0m-5-7h0m-5 19h0m17-11h0m-26 2h0m73 20h0m-23-32h0m6 12h0m1-11h0m-5 29h0m-15-27h0m22 11h0m-15-9h0m7 19h0m4 2h0m15-20h0m-20 10h0m5 16h0m26-16h0m18 0h0m-18 12h0m18-20h0m-16 11h0m2 2h0m28-21h0m41 22h0m-18-20h0m18 18h0m-33-22h0m15 7h0m-5 28h0m44-22h0m21 1h0m-28 9h0m17 15h0m26-8h0m10 2h0m-17-21h0m4 28h0m-5-30h0m69 22h0m-22-18h0m12-8h0m-17 11h0m67-3h0m-19-5h0m12 21h0m8-17h0m-7 2h0m1 16h0m28 6h0m-1-20h0m-6 7h0m-5-11h0m15-8h0m7 5h0m-20 20h0m55 3h0m-15 1h0m15-17h0m-11 21h0m10-15h0m-10 17h0m7-38h0m7 12h0m28 18h0m18-16h0m-15 15h0m20-30h0m-28 1h0m11 15h0m59 2h0m-39 17h0m27-8h0m-26-22h0m3 2h0m0 30h0m48-33h0m9-2h0m-8 3h0m25 23h0m-11-7h0m-23-15h0m25 0h0m15 10h0m17-11h0m0 1h0m-13 22h0m8 11h0m9-33h0m-23 20h0m19-17h0m-13 29h0m70-10h0m-26-28h0m50 9h0m-19 3h0m39 15h0m12 12h0m-3-10h0m26 2h0m-21-21h0m-10-1h0m8-7h0m18 31h0m-27-20h0m30 5h0m-33-15h0m2 23h0m73-6h0m-25 19h0m-1-27h0m14 22h0m-23-3h0m70-3h0m-8-23h0m-20 11h0m20 21h0m6-8h0m-23 7h0m27-7h0m-1 8h0m-18-36h0m37 9h0m22-2h0m4 13h0m-7-15h0m-18 3h0m19 4h0m-29 2h0m59 14h0m-8-14h0m-1 21h0m52-17h0m-6 2h0m-5 4h0m2-15h0m-14 16h0m35 3h0m-32 0h0m61-1h0m4-4h0m-10-23h0m-7 0h0m-10 19h0m-3 2h0m70-15h0m-14 31h0m13-28h0m-11 4h0m15 24h0m-10-12h0m-20-19h0m7 26h0m42-6h0m16-19h0m-21 2h0m-4 5h0m7 17h0m9-8h0m-5 7h0m6 6h0m24-6h0m1-5h0m4-1h0m22 13h0m-4-9h0m-1 8h0m31-24h0m16 12h0m-26-21h0m72 4h0m-28 27h0m5-3h0m11 0h0m37-28h0m-15 18h0m10 17h0m20-34h0m-30 29h0m22-6h0m1-18h0m-19 5h0m-9 18h0m-1-19h0m9 22h0m43-5h0m-7 8h0m-3-7h0m3-25h0m-2 45h0m3-5h0m16-1h0m-9 7h0m-14 25h0m28-22h0m-63 2h0m28 1h0m-3-13h0m-25 18h0m17 11h0m-2-26h0m8 11h0m-47-5h0m-4-11h0m2 16h0m18 6h0m-35 12h0m22-18h0m-61-19h0m24 28h0m-2-3h0m-9-17h0m21 26h0m-27-21h0m-3 25h0m-2-29h0m2 29h0m20-16h0m-23 16h0m-23-31h0m-9 3h0m-51 10h0m8-15h0m12 4h0m0 13h0m-14 8h0m22-30h0m-14 23h0m-21 1h0m-1 6h0m-30-26h0m30 21h0m-28-25h0m-29 19h0m-17 4h0m38 2h0m-37-3h0m35 10h0m-13-28h0m-14 23h0m-23-9h0m-10 18h0m19-37h0m-5 0h0m3 27h0m1-11h0m-45 9h0m-23 1h0m-4-13h0m28-2h0m7 24h0m-26-33h0m10 2h0m-3-4h0m5 0h0m-5 22h0m-21-18h0m-11 33h0m-1-36h0m-12 17h0m-28-4h0m-10 25h0m-11-38h0m28 2h0m2 32h0m-51-8h0m-8-8h0m-11 1h0m-4 2h0m35 16h0m0-30h0m1 20h0m-72 4h0m9-13h0m23-8h0m-8 14h0m-21-7h0m-28-17h0m-2 36h0m-13 0h0m23-18h0m-23-11h0m10 29h0m22-7h0m-8 8h0m-21-28h0m-40-2h0m0 11h0m4 19h0m12-6h0m-7-22h0m6 10h0m-9-19h0m-38 0h0m18 10h0m-27-3h0m22-8h0m-10 36h0m3-8h0m-28 7h0m-10-13h0m-15-3h0m28 4h0m-12 4h0m-56-4h0m9 6h0m-7-10h0m22-1h0m-25-16h0m3 33h0m-8-19h0m7-1h0m25 7h0m-31 15h0m-36-3h0m21-6h0m3-24h0m-22 1h0m-20 22h0m-4 11h0m11-11h0m-34-9h0m36 17h0m-26-12h0m-9-9h0m-5 3h0m-9 9h0m-3-23h0m-11 22h0m-47-17h0m-7 19h0m-31-20h0m-6 5h0m34 20h0m-30-15h0m-1 19h0m-4-27h0m31 21h0m-32-7h0m29 16h0m-61-12h0m4 2h0m11-13h0m-9 21h0m4-21h0m-11-5h0m-3 19h0m5-7h0m25-7h0m-65 22h0m6-23h0m14 4h0m6 11h0m-13-28h0m-62 22h0m4 7h0m31-25h0m-38 17h0m23 16h0m-6-18h0m5-7h0m-62 23h0m26 0h0m-2-35h0m-53 26h0m9 3h0m11-3h0m-29-20h0m25 15h0m-41 4h0m-16 4h0m-3-15h0m12 12h0m0-1h0m-11-26h0m-15 35h0m-5-27h0m-15 8h0m15 10h0m5-16h0m-36 2h0m-19-11h0m-18 30h0m34-11h0m-12 9h0m-32 5h0m-13-5h0m14-25h0m-21 33h0m24-17h0m-29-14h0m10 15h0m-45-19h0m6 9h0m2-1h0m14 17h0m-20-21h0m21 53h0m-12-8h0m16 20h0m1-10h0m15-8h0m-7 18h0m19-15h0m-7 22h0m-12-35h0m16 28h0m3-28h0m-2 7h0m-10 13h0m40-2h0m-2-4h0m0 20h0m24-10h0m-8-14h0m-24 10h0m61-13h0m0-10h0m-15 14h0m0 13h0m10-18h0m12-9h0m7 35h0m-7-21h0m8-13h0m-15-1h0m55 6h0m-37 9h0m6-1h0m31 9h0m-3 12h0m-2 2h0m25-16h0m4 0h0m-21 9h0m31-2h0m-25-3h0m22-15h0m-21 25h0m23-7h0m40 1h0m5-2h0m-31-14h0m10 9h0m3 8h0m7-15h0m33 16h0m6-19h0m2 20h0m-19-14h0m-6 0h0m47-16h0m11 22h0m-14-24h0m19 5h0m-23 15h0m3 1h0m28-17h0m-8 24h0m13-21h0m25 24h0m0-5h0m0 5h0m12-32h0m-27 35h0m12-2h0m17-25h0m25 6h0m9-4h0m-7 6h0m49 22h0m31-14h0m-16-22h0m8 5h0m-5-6h0m24 18h0m1 6h0m-12 11h0m27 1h0m2-11h0m14-1h0m-6-8h0m-17 15h0m14-16h0m36 9h0m-8-8h0m9-5h0m-5 23h0m12 2h0m5-19h0m26-2h0m38-1h0m22-3h0m4-4h0m-31 14h0m1-16h0m33 23h0m12-19h0m8-2h0m6 27h0m29-9h0m-14-10h0m1-2h0m6 25h0m0-12h0m-5-26h0m11 10h0m-10-10h0m56 3h0m1 18h0m-12 15h0m3 1h0m21-32h0m-15 1h0m13 12h0m-11-11h0m53 19h0m-9 11h0m0-31h0m12 10h0m-16-12h0m18 28h0m-5-31h0m21 11h0m22-7h0m-30 8h0m1 6h0m12-3h0m-9-17h0m62 33h0m-24 2h0m-4 2h0m42-32h0m24 17h0m-22-20h0m16 3h0m8 7h0m21 8h0m9 2h0m6 6h0m1-17h0m-10 5h0m12 10h0m23 1h0m6-1h0m-20-7h0m19-19h0m12 20h0m-30 17h0m65-8h0m-24 10h0m30-2h0m-13-33h0m-18 16h0m3-1h0m39-12h0m24-7h0m12 8h0m-6 7h0m-5-1h0m-24-3h0m29 22h0m35-27h0m-6 5h0m17 16h0m-12 1h0m38 2h0m-23-10h0m-1 14h0m38-2h0m11-31h0m-9 16h0m28 6h0m-15 7h0m-6-30h0m-7 38h0m11-37h0m57 27h0m2-12h0m-31 20h0m6 0h0m22-15h0m-12-7h0m44 0h0m0 19h0m-7 6h0m-4-37h0m-7 6h0m23-5h0m-7 25h0m-4 9h0m28 26h0m4 6h0m19-5h0m-55-21h0m7 21h0m13-6h0m-7 8h0m-42-14h0m-2-11h0m-13 22h0m6-2h0m-25 1h0m-27 1h0m36 8h0m-21-1h0m2 1h0m-20 4h0m-20 0h0m-7-31h0m4 3h0m4-1h0m10 32h0m5-6h0m-5-12h0m-25-14h0m5 28h0m-14-23h0m-6 25h0m-15-18h0m21-3h0m-15-12h0m-21 26h0m-12-7h0m-19 6h0m-6-3h0m4-8h0m-24-4h0m-15 17h0m-3-29h0m19 29h0m13-8h0m-8-19h0m-20 2h0m10 23h0m-18-26h0m-17 2h0m-16 0h0m0 17h0m14-7h0m14 1h0m-4 11h0m-69 3h0m9-25h0m0 12h0m-6 4h0m2 13h0m2-16h0m29-17h0m-3 24h0m-72-17h0m6 21h0m0 4h0m12-20h0m11 5h0m7 6h0m-6-22h0m-29 9h0m-11 26h0m-17-17h0m-28-12h0m2-2h0m-9 1h0m14 24h0m-20-28h0m-1 21h0m-20 9h0m-28-15h0m23-6h0m11 9h0m0-12h0m-21 16h0m-17 4h0m38-18h0m-60 19h0m-13-19h0m20-8h0m-8 19h0m0-18h0m-27 11h0m-9 23h0m-2-25h0m-9 15h0m16-24h0m-16 27h0m-3-22h0m31 15h0m-61-20h0m-3 7h0m17 28h0m-3-29h0m-13-1h0m-40 24h0m16-27h0m2 25h0m4-6h0m-25-17h0m-36-7h0m5 10h0m3 2h0m-5-7h0m0 28h0m1-6h0m-7-26h0m-5 2h0m-9 36h0m-11-36h0m-28 22h0m9 6h0m-1-16h0m-40 14h0m7-21h0m-5 31h0m26-29h0m-22 10h0m20-15h0m-29 19h0m-3-17h0m-21 22h0m14-27h0m-8 10h0m-17 26h0m-46-19h0m21-18h0m4 6h0m6 30h0m-19-34h0m0 25h0m-5-4h0m1-16h0m4-5h0m-51 22h0m31 10h0m-6 2h0m-30-19h0m2-14h0m-34 8h0m8 12h0m-3-3h0m9 17h0m9-16h0m-13 16h0m-22-23h0m-14 10h0m8 3h0m-50-6h0m-5 17h0m23-9h0m-8-15h0m8-13h0m-60 14h0m5 20h0m-20-27h0m12 28h0m16-5h0m6-17h0m-6 16h0m-31-20h0m-22 9h0m-5 3h0m7-14h0m4 1h0m-46-7h0m-3 15h0m13-15h0m-29-2h0m0 37h0m16-37h0m-1 12h0m-28 21h0m-26 4h0m35-4h0m-8-6h0m-49 0h0m-14-11h0m-17 17h0m-33-29h0m2 6h0m-32 32h0m22 24h0m-1 4h0m-7-10h0m-13-5h0m48 16h0m3-26h0m-3 24h0m15-7h0m5 0h0m14-9h0m-2 12h0m12 4h0m7-20h0m8 8h0m-1-10h0m-10-1h0m-1 6h0m39 3h0m-20-13h0m30 29h0m-18-4h0m-4-10h0m2 21h0m-4-1h0m16-17h0m-2-9h0m22-6h0m12 28h0m3-7h0m20-6h0m-26-16h0m46 20h0m-13-3h0m13-18h0m-15 33h0m2-3h0m71-2h0m1 1h0m-6 5h0m-8-28h0m17 22h0m23-7h0m-16-3h0m13 15h0m-19-7h0m25-29h0m-11 7h0m60 21h0m-15-17h0m18 15h0m-27-8h0m58-11h0m-10 20h0m1 2h0m1-2h0m6-25h0m-25 7h0m65 0h0m6 27h0m-22-1h0m28 0h0m-4-31h0m2 23h0m-23-28h0m46 15h0m-1 9h0m1 8h0m-11 0h0m61-31h0m-16 22h0m-9-7h0m0-10h0m9 25h0m4-15h0m-2 10h0m18 3h0m32-7h0m-3-13h0m-18 9h0m18-16h0m-19-1h0m9 11h0m-10 10h0m23 4h0m6 11h0m-9-29h0m27 9h0m-8-12h0m21 24h0m12 0h0m5-8h0m-16-16h0m19 31h0m24-28h0m-2 31h0m14-37h0m-1 19h0m-1 18h0m-21-19h0m15-20h0m-14 6h0m41 10h0m3 16h0m-4-26h0m-13 9h0m18 24h0m11-16h0m3-23h0m-20 1h0m26 33h0m13-26h0m-5 23h0m7-24h0m-4-2h0m24 26h0m-16-18h0m-4 19h0m-16-19h0m9 2h0m13-4h0m48 23h0m-23-10h0m57 10h0m7-27h0m4-6h0m-22 27h0m10-17h0m-7 20h0m31-1h0m32-16h0m-17 4h0m-19 9h0m36 2h0m-1 0h0m-36 3h0m22-31h0m49 0h0m-6 37h0m-17-19h0m15 19h0m-11-30h0m30-8h0m24 6h0m-22 33h0m29-10h0m1-22h0m-27 20h0m5-7h0m25 1h0m-5 9h0m21 1h0m15-15h0m-29 22h0m21-33h0m-16 8h0m-1 7h0m2 18h0m-3-25h0m26 6h0m12-14h0m34 28h0m-1 5h0m-7-17h0m11 17h0m-38-32h0m11 18h0m67 0h0m-9-11h0m-9 4h0m-18 8h0m8-1h0m28-10h0m30 5h0m4-10h0m-7 18h0m10-9h0m-2 3h0m36-3h0m-25-4h0m14 2h0m19 6h0m-21-19h0m38 4h0m-11 17h0m10-15h0m20-3h0m-4 8h0m-17 19h0m24-28h0m25 19h0m-12-18h0m2 7h0m22-2h0m-18 24h0m-2-18h0m36 16h0m15-27h0m12 28h0m0-1h0m-2-6h0m-25 4h0m4-22h0m6 8h0m41 14h0m-1-22h0m7 6h0m-5-1h0m-1 9h0m-10-10h0m22 6h0m-26-9h0m7-6h0m3-3h0m-17 16h0m26 7h0m10-1h0m9 9h0m14 6h0m18-10h0m-22-25h0m3 1h0m-6 17h0m15-10h0m-23 21h0m49-5h0m-2-20h0m-2-5h0m-6 9h0m0 30h0m-7 5h0m1-5h0m-28 38h0m-37-24h0m-8-13h0m18 34h0m5-23h0m-30 21h0m-33 2h0m23 3h0m-3-26h0m-13 25h0m-1-23h0m0-9h0m-13 16h0m-29-22h0m12 6h0m-27 8h0m-23-8h0m7 1h0m16 18h0m-11-3h0m-18 14h0m-2-3h0m-40-27h0m5 9h0m3-1h0m-8-13h0m19 21h0m11 6h0m-18-27h0m3 3h0m-41 6h0m13 11h0m-10-6h0m-49 8h0m22-5h0m-32-1h0m21-8h0m-3 8h0m-50-3h0m-8-1h0m28 14h0m9 2h0m-74 8h0m0-8h0m8-22h0m-11 8h0m-21 19h0m-15-25h0m21 9h0m-19 3h0m-45 3h0m34-17h0m-31 6h0m22-11h0m-20 30h0m8-20h0m-30 5h0m-19-15h0m-16 26h0m9 9h0m-17-5h0m-11 3h0m16-35h0m-20 30h0m-23-3h0m16-23h0m-27 2h0m23 15h0m-14 9h0m-38-13h0m-4 13h0m-13 7h0m-3-5h0m24-19h0m-4-8h0m-14 32h0m-2 0h0m-43-19h0m0 16h0m-23-30h0m-17 17h0m33 11h0m-31-25h0m7 21h0m9-1h0m-40 11h0m3 0h0m4-13h0m-1-22h0m-3 19h0m8 10h0m-11 5h0m12-32h0m-61 27h0m13-3h0m2-4h0m-11-3h0m21-21h0m-30 37h0m17-9h0m13-7h0m-71 6h0m10 11h0m-9-15h0m19-6h0m9 18h0m-36-11h0m-25 1h0m12-4h0m-12-5h0m4 22h0m1-22h0m15 13h0m-40-12h0m-27 8h0m29-1h0m-25 10h0m7-12h0m13 0h0m-24-4h0m5-14h0m-24 16h0m0-9h0m6-1h0m-15-4h0m4 16h0m-30 0h0m-11-1h0m-13-4h0m11 21h0m-35 0h0m-2-3h0m-19-27h0m0 12h0m21-9h0m-44 13h0m-17 0h0m19 7h0m-12 1h0m10 6h0m2-2h0m-37-1h0m7-34h0m-48 2h0m-25 19h0m0-9h0m7 12h0m-40 7h0m25 6h0m3-14h0m3 0h0m-75-18h0m27 2h0m1 11h0m-22 15h0m23-3h0m6-27h0m-23-1h0m20 19h0m-3 1h0m-15 5h0m15 10h0m-70-34h0m33 23h0m-8-19h0m8 13h0m-15-17h0m-19 31h0m-17-30h0m-25 20h0m36-20h0m-19 7h0m-13 11h0m17 20h0m-11 33h0m-6-17h0m47-15h0m23 12h0m-26 21h0m5-35h0m4 30h0m35-22h0m-1 21h0m22-22h0m-21-9h0m40 17h0m25 18h0m-5-9h0m29 5h0m-3-8h0m9-24h0m-16 1h0m5 11h0m1-10h0m-3 24h0m29 11h0m9-28h0m6 18h0m18 9h0m-7-33h0m-19 23h0m-9-21h0m34 11h0m31 2h0m-16-18h0m21 27h0m-6-24h0m5 25h0m-4 5h0m12-26h0m-19 8h0m27-15h0m-1 5h0m28 32h0m-23-3h0m3-5h0m0-4h0m59-18h0m-24 11h0m29 14h0m-4 7h0m-16-3h0m-1-16h0m8 9h0m-4-5h0m-12-13h0m10 14h0m49-13h0m-1 9h0m-25-12h0m70 13h0m-1-16h0m-7 2h0m-22 4h0m4 5h0m11-16h0m23 25h0m-15 8h0m22-26h0m5 4h0m-8 23h0m23-15h0m-16 16h0m59-34h0m-25 0h0m33 27h0m-25 5h0m23-25h0m-6-2h0m-9 25h0m43-2h0m-22-20h0m4 28h0m10-4h0m37 2h0m-9-4h0m13-16h0m5-6h0m9 29h0m-17-36h0m19 35h0m-20-33h0m18 32h0m-14-15h0m34-3h0m19 9h0m-11 3h0m16-8h0m2-8h0m-24-11h0m22 11h0m-18 8h0m52-18h0m-23 34h0m2-35h0m17 3h0m-15 16h0m24 14h0m3-30h0m-22 17h0m13 15h0m42-16h0m4 11h0m-6-27h0m-15 13h0m-9-20h0m3 0h0m3 23h0m9 12h0m51-9h0m-20-20h0m25 20h0m3 5h0m-4-17h0m-24 12h0m15-11h0m47 13h0m-31-1h0m37-17h0m-29-5h0m0 10h0m-8-10h0m15 32h0m2-26h0m12 21h0m29-19h0m2 8h0m14-14h0m-29-7h0m16 4h0m-18 22h0m35 6h0m0 7h0m-9-33h0m-21 10h0m57 15h0m-4-25h0m-19 20h0m73-1h0m-32-24h0m27 5h0m-23 10h0m48 17h0m24-12h0m-6 10h0m-28-28h0m6 35h0m14-34h0m-17 27h0m49-10h0m9 2h0m8-13h0m1 15h0m-35 14h0m26-4h0m-5-28h0m28 27h0m0-5h0m10-29h0m12 32h0m-14-12h0m5-2h0m-22-9h0m74 23h0m-26-15h0m10-16h0m-7 15h0m41-8h0m19-1h0m-24 11h0m2-11h0m8-1h0m-2-2h0m29 28h0m-2-14h0m9-1h0m18-8h0m16-5h0m26 13h0m-1 3h0m-28-20h0m14 32h0m-1-10h0m16-14h0m-24 2h0m34-7h0m22 18h0m-11-16h0m-11 11h0m57 20h0m-16-24h0m13 3h0m10-5h0m-17-3h0m26 18h0m18 12h0m9-29h0m-10 16h0m45 11h0m10-30h0m4 23h0m-12-12h0m-15 31h0m19 6h0m-13-7h0m-36 5h0m6 16h0m-9-25h0m16 16h0m-63 3h0m7-16h0m3 7h0m20-8h0m4 20h0m-37 8h0m6-28h0m24 9h0m4 18h0m-47-27h0m-46 34h0m18 0h0m-25-30h0m-8 19h0m31-6h0m-9-10h0m-4 24h0m-5-4h0m-43-17h0m-10-9h0m17 27h0m11-19h0m-54 11h0m-9 11h0m27-16h0m1-7h0m-26-8h0m9 8h0m16 3h0m-14-5h0m-21 19h0m4-11h0m1-7h0m-24 8h0m-12 16h0m20-23h0m-24-1h0m18 10h0m-4-18h0m-35 21h0m-11-16h0m-5 12h0m17-9h0m11 16h0m-2-1h0m-75 10h0m8 3h0m26-25h0m-33 16h0m-3-2h0m19 8h0m-58-11h0m0-16h0m18 13h0m-16 17h0m17-21h0m3-18h0m-9 15h0m10-14h0m-33 30h0m-8 1h0m5-12h0m-26-12h0m21-3h0m-55 20h0m-30-10h0m-6 20h0m27-25h0m-79 16h0m0-12h0m23-12h0m-3 33h0m2-13h0m-2-20h0m-8 18h0m15-5h0m-24 23h0m3-29h0m-7 25h0m-1-23h0m-21 0h0m4 23h0m15-31h0m-18 23h0m20-3h0m-18 16h0m-42-31h0m5 23h0m-16-3h0m6-27h0m-26 12h0m-27-9h0m10-2h0m0 33h0m-37-23h0m-10 3h0m0 2h0m22-4h0m-53 15h0m11-13h0m-2 24h0m6-6h0m-7-31h0m-18 6h0m-10 3h0m-20 7h0m22 2h0m-4 19h0m-30-13h0m25-20h0m-59 6h0m-4 27h0m2-21h0m28-5h0m-7-9h0m12-1h0m-1 17h0m-15 4h0m-44 5h0m-3-19h0m-14 5h0m0-12h0m28 9h0m10 17h0m-58-17h0m1 9h0m-3 14h0m-18-30h0m27 2h0m-17-1h0m-11-4h0m-9 2h0m1 34h0m2-35h0m-10 26h0m10-6h0m-11-7h0m9-1h0m-26 11h0m32-20h0m-45 32h0m-3 0h0m-23-27h0m22-4h0m3 12h0m-43-4h0m-6-13h0m-48 26h0m3-25h0m-37 7h0m-5 1h0m2 24h0m12-13h0m-22 4h0m-47-10h0m1 0h0m1-12h0m23 30h0m-42-6h0m3 8h0m0-20h0m2-6h0m-10 25h0m-6-25h0m-6-2h0m-25-8h0m4 9h0m4 12h0m-31 17h0m-29-22h0m-1 18h0m19-9h0m-3-20h0m-39 6h0m-18 1h0m3-1h0m0 13h0m0 42h0m17-26h0m-15 16h0m-11 5h0m11-11h0m29 1h0m23 20h0m-1-5h0m-10-20h0m7 17h0m44-18h0m-21-3h0m7 4h0m28 6h0m31 16h0m-11-25h0m5 17h0m-10-9h0m16 13h0m-16-8h0m33-13h0m-4 25h0m1-2h0m33-7h0m-15-15h0m39 24h0m19-4h0m-37-13h0m27 17h0m-10-21h0m5 1h0m16-1h0m29 24h0m4-8h0m-32 11h0m28-2h0m-29 6h0m29-35h0m24 10h0m-6-10h0m17 11h0m-11-1h0m64 4h0m-33 3h0m12-16h0m20 32h0m-27-31h0m43 2h0m-9 14h0m17-19h0m-14 27h0m7-24h0m55 28h0m-26-25h0m3 13h0m-3 1h0m0-4h0m12 4h0m28 9h0m26-25h0m-28 10h0m30 21h0m-8-10h0m-18 9h0m32-36h0m-32 36h0m75 0h0m-21-6h0m-1-12h0m-12-1h0m15 12h0m59-17h0m-37 26h0m13-10h0m-14 8h0m27 0h0m18-24h0m3 6h0m24 5h0m32-5h0m47 15h0m-18-20h0m-7 26h0m-2 0h0m-5-9h0m11-12h0m28-6h0m2 3h0m13 9h0m-2 9h0m1 5h0m12-6h0m5-1h0m-5-2h0m13-25h0m0 9h0m17 0h0m11-10h0m6 30h0m-10-24h0m-16 6h0m25 16h0m13-9h0m-1 3h0m18 8h0m13-19h0m7 9h0m47-6h0m2 3h0m28 17h0m32-33h0m-24 32h0m4-1h0m19 2h0m4-11h0m-3-17h0m-11 6h0m30 24h0m-8-17h0m26 16h0m-25-19h0m1 12h0m19-10h0m3 3h0m35-14h0m9 26h0m-7-18h0m-5 1h0m12 14h0m7-16h0m28 7h0m15-18h0m-4 0h0m-25 23h0m24-11h0m19-12h0m19 13h0m-5-19h0m-17 13h0m4 21h0m-1-26h0m19 29h0m-9-21h0m17-9h0m7 26h0m28-15h0m-1 5h0m2 1h0m-21-24h0m1 6h0m14 2h0m-3 3h0m23 9h0m8 8h0m3-10h0m38 1h0m-18 6h0m32 2h0m5 11h0m40-27h0m-24 23h0m13 1h0m-26-12h0m22-17h0m-12 18h0m30-16h0m17 17h0m9 14h0m-19-16h0m54 16h0m-15-6h0m-7-10h0m20 13h0m-3-3h0m-9-11h0m51 5h0m-5-13h0m-4 9h0m-8 8h0m29-9h0m-5-11h0m-5-1h0m6 2h0m-16 63h0m2-23h0m-8 21h0m23-17h0m-11 22h0m10-11h0m-45 5h0m4-25h0m-18 19h0m-4-26h0m34 27h0m-26-5h0m-52-7h0m7 6h0m-2-16h0m9 1h0m13 3h0m8-5h0m4-2h0m-7 12h0m-72 10h0m28 5h0m-17-16h0m-11-10h0m2 29h0m3-1h0m-37-22h0m31 24h0m-18-23h0m14 18h0m0 5h0m-38-5h0m-17-28h0m15 16h0m-5 13h0m-28-13h0m-4-14h0m-7-2h0m-21 9h0m-1 22h0m4 8h0m23 0h0m-23-23h0m-49 8h0m25-14h0m-1-8h0m11 31h0m-15-31h0m-9 28h0m-26-19h0m-12-7h0m6-3h0m-16 37h0m12-30h0m0-7h0m-19 2h0m1 14h0m-28 19h0m9-9h0m12-14h0m5 23h0m-35-29h0m-43 7h0m20 21h0m-4 0h0m17-17h0m-8-16h0m-5 6h0m14-3h0m-57-3h0m20 25h0m-35-11h0m4 19h0m20 3h0m-62-4h0m16 2h0m-3-21h0m-5 20h0m18-26h0m7-9h0m-35 21h0m-38 18h0m32-26h0m-11 21h0m-25-11h0m17-11h0m21 5h0m-42 13h0m-13 8h0m8-18h0m-25-1h0m4-3h0m-19 13h0m-29-8h0m25 14h0m-24-16h0m34 3h0m-14 6h0m-58 9h0m-3-30h0m-3 13h0m13-17h0m-23 33h0m-13-28h0m12-3h0m-8 9h0m15-7h0m-18 26h0m-42-8h0m-15 7h0m24-16h0m14-1h0m-6-13h0m3 25h0m-16-4h0m10 9h0m-5-3h0m3-2h0m-100 10h0m25-4h0m0-26h0m-9 31h0m5-24h0m-43 1h0m-1-12h0m-43 30h0m-21-6h0m14 9h0m9 0h0m-8-20h0m-1-14h0m16 5h0m-19 0h0m25 30h0m-32-1h0m-18-27h0m-24-2h0m32 20h0m-26-15h0m2 4h0m23 20h0m-7-4h0m-43-29h0m-16 29h0m24-16h0m-2 15h0m-6-1h0m-12-24h0m6 23h0m-15-8h0m-33-8h0m3 7h0m20-14h0m0 26h0m-28-30h0m-5 10h0m-3 14h0m-13-6h0m11-3h0m-36-11h0m-21 30h0m13-12h0m-19-14h0m16 25h0m7-14h0m-66 13h0m4-15h0m23-1h0m-5 9h0m-24-26h0m-2 29h0m-22 7h0m-6-37h0m10 11h0m11 27h0m-14-3h0m-14-34h0m16 9h0m-32-2h0m5-4h0m-22 5h0m10 4h0m-26 5h0m-37-4h0m7-4h0m6-5h0m16 16h0m-15 15h0m14-6h0m7-21h0m-14 14h0m-33 11h0m-17-16h0m-2-8h0m13-3h0m13 32h0m-14-32h0m-4 1h0m-29 20h0m1-7h0m-11 11h0m-17 19h0m7 27h0m1-27h0m0 10h0m10-16h0m-22 10h0m10 24h0m19-27h0m5 18h0m32-18h0m-26-5h0m24 12h0m12-8h0m-4 12h0m2 10h0m-28 3h0m42-1h0m29-1h0m-17-3h0m-19-13h0m31 21h0m-30-35h0m65 9h0m10-11h0m-35 32h0m-2 4h0m15-21h0m-2-11h0m-10 7h0m12 4h0m5 9h0m38-17h0m-8 0h0m8 25h0m-1-9h0m18-18h0m-36 9h0m4 11h0m36-12h0m3-7h0m30 15h0m-27-4h0m11 17h0m58 1h0m-15-33h0m-9 31h0m26-26h0m-35 4h0m34 14h0m-10 10h0m-22-32h0m18-2h0m24 1h0m24 20h0m-17 7h0m3 5h0m-14-1h0m56-6h0m7-4h0m-2-18h0m14-2h0m-28 16h0m28 8h0m-23-9h0m19-5h0m2 12h0m-15-22h0m49 1h0m2 2h0m8 0h0m-25 24h0m7 0h0m-20 6h0m41-14h0m11-2h0m-2-12h0m-11-10h0m27 32h0m8-28h0m-33 18h0m70 2h0m-2 9h0m-15 6h0m20-28h0m-8-11h0m-14 36h0m5 0h0m56-35h0m-11 11h0m-3-1h0m-1 6h0m-16 20h0m16-22h0m56 7h0m-15 7h0m18-9h0m27-19h0m-2 12h0m-4-10h0m17 8h0m-26 9h0m26-8h0m-31 18h0m68-25h0m-29 32h0m18-15h0m-17-1h0m28 2h0m-22 9h0m43 4h0m22-29h0m-2 28h0m1-8h0m-30-22h0m14 1h0m-13 14h0m56 12h0m10-24h0m-16 8h0m-6-1h0m-3-6h0m62 28h0m3-32h0m-27 32h0m21-28h0m25 12h0m6-16h0m-12 21h0m1-14h0m8 21h0m4-21h0m-7-1h0m58 11h0m-10 6h0m-9 6h0m-3-21h0m7-1h0m-6 10h0m-7-1h0m37 15h0m-38-23h0m5 0h0m62-8h0m-12 13h0m-11 21h0m26-23h0m-19-10h0m5 32h0m2-32h0m-12 6h0m-1 22h0m0-13h0m11-2h0m43-8h0m-12 5h0m-4 22h0m33-25h0m-26-11h0m-1 12h0m2 25h0m-1-39h0m51 28h0m-11-1h0m21-3h0m-10-15h0m-13 5h0m44-8h0m-6 33h0m6-12h0m27-21h0m3-2h0m11 19h0m-11 16h0m16-22h0m13-8h0m6 28h0m0-5h0m-10-30h0m-4 14h0m34 12h0m-14-6h0m12 4h0m-6-25h0m-1 15h0m70 2h0m-28-3h0m14 6h0m13-14h0m1 22h0m-13 7h0m-5-25h0m7 6h0m50 8h0m-18-18h0m19 5h0m-17-6h0m-6 11h0m39 9h0m15-8h0m0-11h0m-14 13h0m2 12h0m7-21h0m-13 14h0m46-9h0m22-7h0m-28 0h0m14 6h0m9 12h0m2-24h0m10 22h0m8-21h0m6 11h0m14 16h0m3 5h0m-4-36h0m2 6h0m-2 3h0m4 23h0m-30-16h0m67 3h0m5 9h0m-36 7h0m16-8h0m-7-21h0m25-2h0m-28 27h0m58-11h0m-7-8h0m-15 17h0m17 32h0m8-13h0m-9-5h0m-20 6h0m27 2h0m-21-10h0m-5 10h0m-42-10h0m13 11h0m26-3h0m-35 0h0m6-1h0m12-7h0m-20 24h0m32-13h0m-57-2h0m-10-5h0m7 4h0m1 15h0m-36-12h0m20 0h0m-34 9h0m25-13h0m-67 16h0m32-12h0m-53-2h0m-43-1h0m16 6h0m-26-2h0m-31 2h0m13-12h0m-8 19h0m-10-14h0m-7 13h0m12-21h0m9 6h0m-49-3h0m19 16h0m-30-6h0m-20-7h0m7 17h0m-13-7h0m-44 4h0m-2-18h0m-4 2h0m-7 9h0m29 9h0m-27-11h0m-1 11h0m-17-6h0m-31-5h0m-3-9h0m-31 21h0m34-8h0m-57 5h0m2-14h0m-17 1h0m13 12h0m-4-10h0m2-6h0m-18 4h0m-18-1h0m-17 8h0m28 6h0m-55-20h0m21 3h0m-5 11h0m-71-11h0m21 8h0m-6 0h0m4 8h0m19-7h0m-37 3h0m-26-15h0m11 16h0m-16-6h0m12 9h0m-57-18h0m17 17h0m8-1h0m4-2h0m-19-9h0m18 15h0m-19-5h0m-4 6h0m10-7h0m-11-12h0m-5 4h0m-44 15h0m20-6h0m-31 7h0m-6-23h0m-69 19h0m-10 4h0m-14-2h0m-50 5h0m16-24h0m-4 17h0m-34 6h0m-25-7h0m-18-15h0m-12 14h0m-33-11h0m-7 19h0m10-2h0m16-2h0m-19-15h0m21-1h0m-22 10h0m-10 5h0m-9-17h0m3 14h0m-16-1h0m-17 3h0m5-18h0m-24 10h0m1 0h0m8-11h0m-21 12h0m-9 10h0m15 3h0m-42-24h0m-49 0h0m-9 16h0m-24-10h0m24-3h0m-75 18h0m3-6h0m16-12h0m-1 15h0m-28-13h0m-12 17h0m5-20h0" stroke="#5c5cd6" stroke-width="9" stroke-opacity="0.75"/><path d="M3 7h0m11 5h0m19 20h0m-16 7h0m8-17h0m21 11h0m-3-12h0m26 12h0m-19-25h0m40 14h0m-3-5h0m16-4h0m-22 14h0m38-18h0m-14-7h0m1 3h0m9 25h0m-1 1h0m16-15h0m21-2h0m-8 2h0m-20-12h0m56 4h0m-14-4h0m3 25h0m24-23h0m-18 8h0m24 3h0m-29 13h0m34-7h0m16-23h0m-11 10h0m-6 4h0m25-11h0m-11 6h0m53 0h0m3 12h0m-4 9h0m-14-20h0m1 8h0m-12-10h0m8 27h0m68-3h0m-22-15h0m6 16h0m11-5h0m-24 6h0m17-30h0m-22-4h0m23 16h0m21 12h0m0-22h0m21 19h0m-27-14h0m33 10h0m-29-2h0m2-4h0m-4-6h0m58 24h0m-5-18h0m-2-9h0m6 19h0m13-7h0m-14 2h0m-16-16h0m67 1h0m-25 21h0m25-2h0m-23-15h0m44 24h0m25-7h0m-27-23h0m16 12h0m-26-14h0m43 16h0m15 15h0m-12 7h0m24-33h0m-13 19h0m14-10h0m-12-12h0m25 10h0m18 20h0m8 2h0m-30 2h0m33-36h0m-12 6h0m9 17h0m-31 2h0m11-19h0m15-6h0m48 14h0m-22-15h0m-5 38h0m27-4h0m-15 2h0m14-13h0m-8 1h0m5-1h0m4-13h0m-19 3h0m19-2h0m10-6h0m10 14h0m20 19h0m-27-14h0m4-10h0m-8 23h0m20-23h0m56-8h0m-5 14h0m-6 4h0m-15-7h0m62-14h0m-29 13h0m21-6h0m-7-10h0m2 30h0m11 2h0m29 6h0m7-14h0m-29-1h0m4-11h0m19 21h0m-17-29h0m71-1h0m2 4h0m32-7h0m-30 14h0m34 11h0m0-10h0m20 7h0m7-2h0m-7 13h0m-11-30h0m27 26h0m33-18h0m10-6h0m-26 12h0m6 12h0m35-2h0m29 10h0m-3-9h0m1 10h0m-29-8h0m16 9h0m-22-21h0m14 8h0m33-15h0m5-2h0m21 23h0m-17-31h0m-10 2h0m4 12h0m40 7h0m28-16h0m-30 8h0m-9 15h0m67-9h0m-19-15h0m60 28h0m-7-15h0m3 11h0m-9 8h0m21-15h0m40 2h0m1-11h0m-22 6h0m58-4h0m-29 1h0m13 11h0m13 0h0m-28-15h0m8 11h0m11-12h0m-4 18h0m26-3h0m23 5h0m-8-16h0m21-13h0m-4 1h0m-3 7h0m-29 20h0m58-11h0m4 5h0m2-7h0m1 14h0m-13-5h0m19-25h0m-12 4h0m8 11h0m31-3h0m8 26h0m27-7h0m4-25h0m0 20h0m11 8h0m-7-28h0m-23 24h0m16-2h0m-1-18h0m-6 29h0m9 12h0m-35 21h0m-15-13h0m18 3h0m-21 3h0m-1 7h0m22-29h0m-37 19h0m1-20h0m8 14h0m-32 19h0m-6-1h0m31-7h0m4-13h0m-41-11h0m-8-2h0m6 3h0m-16 11h0m1-16h0m3 3h0m12 12h0m-67-1h0m2 8h0m-4-18h0m23 24h0m-4-11h0m-14 7h0m28-9h0m-28 11h0m6-25h0m16 31h0m-4-16h0m-3 14h0m-13-11h0m13 9h0m13-17h0m-46 25h0m-14-15h0m-15 18h0m6-24h0m11 11h0m-13-25h0m16 4h0m-41 27h0m18-24h0m-35 5h0m-1-2h0m14 24h0m4-35h0m-3 25h0m-17 2h0m32 2h0m-32 1h0m-25 8h0m-10-6h0m17 2h0m-42-13h0m-20 11h0m18-4h0m-19-3h0m16 12h0m21-11h0m-31-10h0m-15-16h0m7 8h0m-8 4h0m-18 14h0m3 5h0m4-12h0m-30 18h0m-12-14h0m3 11h0m13-29h0m2 2h0m-60 8h0m17-8h0m-16 20h0m20 7h0m-49-26h0m-12 13h0m17 9h0m-9 3h0m16-11h0m-5 10h0m-35-23h0m-22 21h0m13-7h0m-31 3h0m-29 12h0m15-31h0m-3 24h0m3-4h0m-29-13h0m-16 0h0m0 5h0m15-12h0m-5 31h0m-8-4h0m11-34h0m-8 24h0m-13-12h0m-25 0h0m1-9h0m-4 32h0m10-25h0m1 20h0m-9-19h0m6-10h0m-16 8h0m-3 7h0m21-6h0m-30-9h0m22 38h0m-39-1h0m-16-35h0m27 27h0m-8-15h0m-21-14h0m20 2h0m-40 11h0m-24 9h0m29 15h0m-10-12h0m-3-5h0m-49 11h0m-9 1h0m19-17h0m0-13h0m17 7h0m-35-8h0m6 18h0m20-15h0m-5 3h0m3 20h0m-16-7h0m-32-11h0m-14 3h0m7 11h0m-7 0h0m1-5h0m-16 7h0m-6-1h0m-15-3h0m-44 4h0m28-9h0m-31 18h0m7-33h0m-2 3h0m23 2h0m-34 27h0m-23-34h0m-2 22h0m-4-6h0m9 12h0m-1 1h0m-2 4h0m-9 1h0m-5-3h0m-38 6h0m36-33h0m-10 35h0m-3-29h0m-58 28h0m0-19h0m17-7h0m8 17h0m3 5h0m-14-15h0m-55 5h0m32 9h0m-14-1h0m10-16h0m-32 12h0m28-15h0m-17 3h0m-8 16h0m-34-9h0m16 2h0m-22-21h0m24 10h0m-15 2h0m4 6h0m8-12h0m-26 13h0m-21 10h0m-15-14h0m19-9h0m7-1h0m-52 0h0m-11 11h0m31 16h0m-46-13h0m-3-3h0m-14 4h0m21-4h0m1 7h0m-31-13h0m8 21h0m5-17h0m-52 11h0m-1-2h0m5 6h0m2-5h0m-6-26h0m-9 10h0m-37 5h0m4-9h0m10 27h0m10-3h0m-7-14h0m-50-1h0m-2-3h0m24 10h0m-13 12h0m-9-34h0m8 39h0m-7 10h0m9-10h0m2 28h0m51-21h0m-5-6h0m1 5h0m10 22h0m9-11h0m27-16h0m-7 18h0m6 11h0m-20 5h0m-2 3h0m23-38h0m-14 7h0m-7-8h0m11 31h0m26-5h0m29-14h0m-9-12h0m-21 36h0m20-13h0m32 1h0m-19-12h0m0 12h0m13-14h0m-11 3h0m15-13h0m51 1h0m-17 22h0m20 12h0m-28-21h0m1 22h0m31-10h0m8-12h0m-3 19h0m1 6h0m2-34h0m28 1h0m-32-4h0m21 31h0m45-18h0m10 0h0m-9-5h0m-12 1h0m24-4h0m18 13h0m-6 7h0m60-15h0m0 6h0m-11-18h0m-7 20h0m11 6h0m-5 11h0m45-35h0m-24 36h0m5-17h0m17-8h0m-6-12h0m52 34h0m-17-8h0m13-1h0m-8-13h0m22 11h0m17 13h0m7-5h0m12-11h0m-32 13h0m22-11h0m-5-6h0m51 11h0m1-14h0m-23-12h0m22 0h0m-3 8h0m-2 27h0m-2 1h0m-20-38h0m40 7h0m27 1h0m9-5h0m-16 1h0m-22 4h0m9 29h0m14-23h0m-6 12h0m59-14h0m-4 10h0m-15 5h0m13-11h0m-27 22h0m11-27h0m6 0h0m-1 8h0m15-17h0m35 15h0m6-14h0m-14 18h0m-5 6h0m-4-2h0m11-10h0m18-5h0m19-2h0m-2 15h0m-18-15h0m-1 6h0m55 6h0m21-4h0m-9-3h0m5 2h0m5-13h0m-21 11h0m16 18h0m-17-22h0m4-5h0m5 22h0m16 2h0m1-18h0m10 16h0m26-20h0m-10 23h0m-3-12h0m0 15h0m27 2h0m-6-10h0m50-4h0m8-5h0m0 24h0m-23-11h0m7 5h0m19-17h0m-21-5h0m14 11h0m28-5h0m-2 8h0m32-1h0m-15-8h0m-12 5h0m-8 3h0m33-7h0m-10 14h0m-22-28h0m64 25h0m-23-18h0m7 7h0m27-10h0m-19 3h0m16 4h0m-9-6h0m-22 12h0m15-7h0m-3 11h0m44-20h0m-18-3h0m35 8h0m20 27h0m12-19h0m-6 19h0m-14-31h0m22 13h0m-15 2h0m25-12h0m17 11h0m-15-9h0m6 7h0m25 2h0m-1 0h0m41 9h0m-17-20h0m-3 15h0m12-20h0m21 29h0m0 0h0m26-31h0m-5 30h0m-22-16h0m15 13h0m36-14h0m15 21h0m-20-8h0m-9-12h0m25-10h0m-22 12h0m9-13h0m5 2h0m5 29h0m-14 2h0m59-6h0m-23-5h0m22 10h0m-18-16h0m-2-3h0m18 20h0m-11-34h0m-8 20h0m0-5h0m-1 18h0m-5-31h0m54 20h0m23 6h0m-26 4h0m-10-6h0m29-29h0m-11 12h0m-4-1h0m1-8h0m57 22h0m-28 12h0m-6-25h0m15-6h0m22 18h0m-12-11h0m27 9h0m8-17h0m-13 17h0m2-22h0m17 29h0m-21-12h0m11 57h0m-7-15h0m21 16h0m-16-2h0m-9-30h0m-3 11h0m16 6h0m-37-16h0m-9 4h0m11 30h0m-9 1h0m7-12h0m-13-4h0m-38-1h0m6-14h0m-7 25h0m10-33h0m-14 24h0m23 4h0m8 8h0m-71-2h0m32-7h0m-26 2h0m-1-25h0m25 10h0m-9-7h0m-45 7h0m-50-1h0m-11 21h0m13-33h0m24 29h0m-22-16h0m-2-8h0m-33 13h0m5 12h0m0 0h0m9-23h0m-34 21h0m31-22h0m-39 28h0m-15-1h0m0-4h0m2-28h0m-48 4h0m1 31h0m12-11h0m-10 4h0m9-8h0m-15-15h0m-4 10h0m16 12h0m-49 10h0m27-39h0m-62 12h0m-12 6h0m5-5h0m-10 10h0m-7 2h0m-14-11h0m14 23h0m5-26h0m-17 6h0m-59 12h0m9-19h0m17-1h0m8-8h0m-4 24h0m4 1h0m-46 5h0m-5-16h0m10 17h0m-16-5h0m-59-17h0m29 17h0m-8 6h0m-14-13h0m-7-2h0m9 13h0m-21 8h0m-10-35h0m14-3h0m-40 12h0m-32-6h0m7 28h0m-6-19h0m1-7h0m2 22h0m19-8h0m-16 8h0m14-31h0m-21 5h0m-17 29h0m-4-28h0m0 16h0m-9-3h0m18 7h0m-51-10h0m6-1h0m-12 18h0m28-4h0m-1-10h0m-16-15h0m-20 7h0m1 25h0m22-16h0m-59 2h0m29-17h0m-19 16h0m16-6h0m-48 10h0m-3 11h0m16-17h0m1-2h0m-66-6h0m13 8h0m14-4h0m-61-4h0m-6 23h0m26-26h0m-5 18h0m-28-10h0m-1 3h0m29 19h0m-55-6h0m11-28h0m-15 31h0m-9-19h0m27-13h0m-9 25h0m-46 11h0m10-37h0m-23 21h0m21-2h0m-20 14h0m-6-23h0m-21-5h0m13 16h0m-3-19h0m-9 29h0m12 2h0m-14-2h0m-38-32h0m-17 19h0m1-6h0m7-4h0m16 27h0m9-26h0m3 17h0m-38-19h0m-23 12h0m-4-6h0m15-7h0m-16 26h0m24-29h0m-76 19h0m30-11h0m-28 14h0m0 1h0m18-6h0m-21-8h0m-19 16h0m-10 8h0m-10-4h0m7-32h0m6 27h0m25-13h0m-36-8h0m-11 24h0m3-12h0m-18 11h0m-13-3h0m25-6h0m-33-6h0m-32-11h0m32-5h0m-6 8h0m-55 5h0m5 20h0m-36-4h0m-16-13h0m11 27h0m7 19h0m12 12h0m-11-1h0m-16-13h0m16 16h0m-18-11h0m58-14h0m7 10h0m-27-8h0m5-8h0m-6-2h0m45 33h0m5-21h0m0 21h0m1-15h0m16-19h0m-30 34h0m9-24h0m59 11h0m-10 14h0m3-26h0m55 16h0m-17-6h0m-20-6h0m24-14h0m5 18h0m38 19h0m-13-35h0m-14 19h0m6-19h0m6-3h0m-3 26h0m2-7h0m28-16h0m17-2h0m13 35h0m6-27h0m37-9h0m-11 36h0m6 2h0m-1 0h0m-18-34h0m56-4h0m28 4h0m20 7h0m-13 7h0m-2 5h0m9-10h0m-3 3h0m-18-16h0m38 28h0m31-22h0m-26-4h0m10 27h0m19-14h0m-33 20h0m42-30h0m11 8h0m5-5h0m-7 8h0m58-14h0m2-2h0m-4 29h0m-23-22h0m-3-6h0m35 10h0m32 10h0m5 6h0m-9-3h0m30 0h0m13 10h0m-7-15h0m-15 5h0m47-3h0m15 3h0m-9-11h0m0 9h0m43 1h0m3-2h0m-26 6h0m20 6h0m11-11h0m11-6h0m19 0h0m13-5h0m1 8h0m-8 11h0m-12-16h0m-7-9h0m56-3h0m8 11h0m0-6h0m42 17h0m-17 10h0m-13-32h0m35 14h0m3-4h0m41-2h0m8 18h0m1 9h0m12-25h0m52 4h0m-15-11h0m12 22h0m-18 7h0m18-17h0m27 16h0m-19-32h0m31 1h0m-5 27h0m9 0h0m-8 0h0m36-2h0m-8-3h0m27-4h0m1-14h0m4-4h0m60 11h0m-4 25h0m-8-8h0m6-17h0m-19 22h0m25-9h0m-4-4h0m-20-5h0m27-11h0m26 7h0m-10-7h0m11 5h0m-21-5h0m56 31h0m34-36h0m11 21h0m1-1h0m-15-16h0m26 13h0m17 12h0m15-20h0m-22 1h0m17 7h0m-16 13h0m20-14h0m16 6h0m23-14h0m-6 28h0m15-31h0m36 29h0m-3-15h0m-12-8h0m3 1h0m-14 8h0m8-10h0m-1 13h0m0-11h0m8-2h0m4 14h0m19-15h0m6-5h0m20 0h0m-4 32h0m-13 1h0m3 36h0m13 1h0m-6-9h0m-4-17h0m3 28h0m2-5h0m-8-12h0m8 9h0m-56-11h0m1-7h0m7 19h0m1-4h0m-6-2h0m-1-5h0m23-16h0m-49 27h0m-8-11h0m9 2h0m-14 17h0m-1-4h0m-15-23h0m-31 0h0m39 6h0m-19-3h0m7-7h0m-21 12h0m30 6h0m-32 4h0m4-22h0m-7 12h0m-18 5h0m-8 3h0m-1-1h0m14 11h0m-24-24h0m21 26h0m11-13h0m-40 8h0m3-20h0m0 5h0m-61-7h0m-16-9h0m14 8h0m-45 27h0m15-34h0m-12 30h0m21-33h0m-42 32h0m-19 0h0m-34-13h0m-5-16h0m-30 18h0m-1-17h0m-30-5h0m-14 0h0m15 29h0m-42-3h0m3-15h0m-5-4h0m-13-5h0m-17 22h0m3 13h0m32-37h0m-17 35h0m12-26h0m-20 15h0m-31 7h0m3-9h0m-5 2h0m-11-14h0m29-10h0m-61 11h0m24 26h0m-4-33h0m-31 3h0m6 10h0m24-6h0m-5 10h0m-17 18h0m-35-17h0m-9-9h0m10 16h0m17-5h0m-23-18h0m25-1h0m-61 23h0m-3-27h0m21 1h0m-11 31h0m-9-9h0m-42-14h0m-2 0h0m-4 1h0m24 28h0m-24-32h0m31 26h0m-31-29h0m24 14h0m-45 0h0m-12-15h0m20 36h0m-16-38h0m-7 4h0m-10 2h0m28 19h0m-17 5h0m3-17h0m23 14h0m-35-22h0m11 21h0m-3-3h0m9 6h0m-29-3h0m4-23h0m-2 35h0m4-38h0m-9 19h0m-25 15h0m6-16h0m-15-10h0m-3 5h0m-69 15h0m0-2h0m21 7h0m-21-23h0m-17 19h0m-6-20h0m-6-8h0m10 7h0m-2-8h0m-12 38h0m18-16h0m-11-7h0m-43-10h0m19 19h0m5 7h0m-22-3h0m9-11h0m-14 13h0m16-26h0m-63 8h0m22 6h0m14 5h0m-52-18h0m-60 7h0m22 8h0m-17-18h0m25-2h0m-10 12h0m-24 0h0m2-6h0m-2 30h0m6-37h0m13 33h0m-24-14h0m-29 1h0m15-14h0m10 3h0m5 4h0m-5 3h0m-9 19h0m-19-15h0m-35-20h0m4 37h0m-35-22h0m10 24h0m-27-3h0m-1-35h0m30 35h0m2-9h0m-1 12h0m-31-36h0m19 5h0m11 15h0m-44-21h0m-11 23h0m18 2h0m-30 2h0m-26 4h0m-16-7h0m3-4h0m20 12h0m10 4h0m-38-17h0m-11 4h0m1-20h0m-22 32h0m29-27h0m-28-10h0m27 1h0m-21 23h0m-49-9h0m1 11h0m-1-25h0m12 0h0m-13 14h0m19 58h0m-13-27h0m16 29h0m51 0h0m-15-27h0m4 17h0m-15-4h0m21 18h0m-13-30h0m8 9h0m12-2h0m-22 4h0m38-11h0m16 10h0m-13 8h0m9 8h0m34-25h0m-10 28h0m14-28h0m-11 16h0m6 1h0m21 9h0m17 0h0m8-6h0m-7 5h0m22 2h0m-17-5h0m42-28h0m-18 1h0m16 15h0m1-18h0m52 24h0m-24-15h0m32-8h0m17 3h0m-8 9h0m-12 6h0m0-12h0m39 10h0m-11 12h0m-16-4h0m0-1h0m20-2h0m-12-11h0m26-12h0m-5 23h0m-1-17h0m2 2h0m19 19h0m-1-14h0m-14 1h0m45-13h0m17 25h0m-14 5h0m17-1h0m-20-4h0m20-10h0m-16-5h0m20 23h0m14-31h0m3 29h0m8 1h0m25-19h0m21 14h0m6-24h0m-27 20h0m7 9h0m36-6h0m26-28h0m-24 30h0m10-15h0m0-14h0m15 36h0m-32-8h0m41 9h0m10-4h0m5-13h0m32 1h0m26 6h0m-5 6h0m2-7h0m-5 1h0m44-20h0m-4 0h0m-23 13h0m6-14h0m30 7h0m15 5h0m8-6h0m6 5h0m-25 6h0m53-1h0m13-4h0m-31 18h0m-1-9h0m52-19h0m6 24h0m-14 0h0m9-15h0m34 4h0m26-19h0m-1 8h0m-1 22h0m-29-7h0m56-22h0m-3 8h0m0 27h0m18-15h0m-22-17h0m21 26h0m43-29h0m-20 27h0m1 8h0m54-29h0m-7 2h0m21 19h0m13 2h0m20-28h0m-25 15h0m-12-1h0m28-10h0m-2 19h0m-12-28h0m-6 26h0m5 11h0m13-10h0m51-8h0m-7-6h0m-6 15h0m10-25h0m0 32h0m-30-35h0m5 11h0m14 6h0m3 3h0m-1-20h0m21 6h0m28 23h0m22-5h0m-13 2h0m13-20h0m12-4h0m2 37h0m9-10h0m8-13h0m28 16h0m-3-8h0m-24 7h0m30-21h0m-6 28h0m-7-27h0m-23 24h0m9-18h0m60-2h0m-21 15h0m12 7h0m-2 0h0m-9-21h0m8-12h0m-1 17h0m43-13h0m8-1h0m-26 23h0m13 6h0m4-9h0m12-4h0m37 16h0m-14-5h0m-12-34h0m64 0h0m-11 20h0m-7 11h0m-9-1h0m0-26h0m35 13h0m-9 19h0m-25-35h0m1 3h0m72 13h0m-19 4h0m1 4h0m20-24h0m1 1h0m-18 18h0m38 13h0m-2 4h0m-6-10h0m6-9h0m8 21h0m7-25h0m-12 17h0m9 39h0m-24-3h0m28-9h0m-11-4h0m-24-1h0m-30 9h0m-2-1h0m1 18h0m21-8h0m-5-20h0m-17 23h0m-33-30h0m-10 14h0m29 19h0m5-3h0m-13 5h0m1-5h0m9-11h0m-62 7h0m-2-27h0m9 6h0m18-5h0m-12-1h0m-6 7h0m-24 14h0m3-16h0m-31 15h0m-14-5h0m-2-17h0m-6 15h0m-9 2h0m-15-10h0m-32 29h0m27 0h0m-3-31h0m-25 17h0m11 8h0m-7 8h0m-11-14h0m-37 1h0m20-18h0m-12-6h0m-2 31h0m-5-15h0m-34-12h0m7 31h0m12-12h0m-6 4h0m-8-15h0m-14 11h0m10 0h0m-8-21h0m8 26h0m6-5h0m-24-3h0m6 16h0m-4-27h0m-27 16h0m12-8h0m-43-14h0m2 6h0m-9 11h0m30 11h0m-29-30h0m-39 19h0m19 16h0m3 1h0m-17-22h0m8-13h0m-12 7h0m-8-6h0m9 7h0m22 12h0m-32-9h0m-36-15h0m25 25h0m-28-3h0m6 6h0m9 2h0m-20-10h0m-4-16h0m-1 32h0m-15-6h0m-18 8h0m10-22h0m16-13h0m-18 20h0m27-5h0m-69-11h0m32 14h0m-9-8h0m-66 16h0m25-16h0m3-9h0m-32 23h0m16-18h0m8-4h0m-30 24h0m-10-11h0m-1-11h0m-9 28h0m-3-35h0m19 9h0m8 22h0m-19-14h0m-48 13h0m16 7h0m1-36h0m-14 35h0m-7-22h0m2-11h0m-38 4h0m13-2h0m9 14h0m-14 15h0m9-13h0m9-3h0m-22-12h0m8 27h0m-43-32h0m-1 24h0m3-11h0m-7-13h0m-4 30h0m23 8h0m5-20h0m-31 4h0m-47-7h0m3 19h0m-3-5h0m26 5h0m-25-1h0m-27-11h0m3 3h0m16-3h0m-55-12h0m-7 24h0m7-25h0m12 15h0m-15-20h0m-41 15h0m16 11h0m-29-28h0m6 11h0m31-5h0m-25 6h0m3 7h0m-5-8h0m19 16h0m-24-3h0m12-23h0m1 28h0m-39-1h0m-21-2h0m23 4h0m-63-29h0m23-1h0m-3 1h0m-15 35h0m11-30h0m-44-8h0m2 29h0m12 6h0m-6-18h0m-8-12h0m23 24h0m0-6h0m-4 7h0m-29-13h0m17 8h0m-17-4h0m23-11h0m-59 23h0m31 1h0m-18-27h0m6 21h0m7-28h0m-2 10h0m3 4h0m-4 5h0m-64 8h0m0-13h0m11-14h0m6 30h0m-14-30h0m-6 13h0m31-9h0m-36 13h0m-14-18h0m-9 1h0m-6 20h0m2 16h0m19-12h0m-13-23h0m-53 16h0m24 19h0m-4-36h0m-4 13h0m-2 10h0m-1-11h0m5-9h0m-38 35h0m-15-17h0m4-12h0m-11-6h0m27 3h0m-67 10h0m-26 1h0m19 3h0m-2 18h0m-21-23h0m-3 20h0m4-21h0m15 19h0m1-19h0m-21 35h0m-3 27h0m68-14h0m-28-20h0m44-1h0m5 31h0m10 6h0m40-36h0m16 3h0m-32 26h0m22-29h0m8 28h0m-6-24h0m-27-7h0m47 1h0m8 38h0m-2-25h0m5 14h0m-11-21h0m22 19h0m-28 6h0m29 7h0m14-10h0m27-21h0m-26 30h0m25-15h0m-20-8h0m20 6h0m-17-2h0m-6 1h0m10 3h0m47 16h0m2-10h0m-8-16h0m1 2h0m30 19h0m5-19h0m15 12h0m16-19h0m15 14h0m-23 1h0m34-16h0m-35 10h0m77 22h0m-1-8h0m-21-2h0m-12-23h0m24 33h0m-1-30h0m-6 19h0m18-20h0m-23 27h0m56-4h0m-31-3h0m15-24h0m10 2h0m13 28h0m-20-12h0m34-22h0m25 21h0m-18 13h0m2-8h0m2-6h0m11-15h0m-1 29h0m9-12h0m20-5h0m13 5h0m-11-22h0m30 16h0m-2-16h0m4 2h0m26-1h0m31 23h0m-9 8h0m-16-3h0m10-5h0m-1-22h0m20-2h0m-16 11h0m6 14h0m43-16h0m-13-8h0m-6 5h0m-5 26h0m33-6h0m1 2h0m18-9h0m5-19h0m0 34h0m-12-27h0m24-7h0m-20 12h0m42 17h0m7 8h0m-16-23h0m0 25h0m9-18h0m4-14h0m8 30h0m-11-30h0m6 32h0m41-15h0m-5-14h0m18-8h0m-5 30h0m-8-30h0m25 3h0m19 6h0m-9 1h0m-3 26h0m-1-32h0m-14 14h0m63-2h0m-11 14h0m-11-12h0m24-9h0m-9 0h0m-1 3h0m21 20h0m3-1h0m17-9h0m4-11h0m-10 3h0m22 14h0m-28 7h0m15-25h0m28 6h0m19 16h0m-7-19h0m-4 23h0m-16 0h0m34-33h0m-12 16h0m-23 5h0m35 11h0m-26-27h0m49-5h0m21 13h0m-2-15h0m-21 7h0m9-7h0m-19 33h0m25-27h0m-26-1h0m16 23h0m10-22h0m-13 16h0m-8 8h0m-6 3h0m73-9h0m-8 11h0m0 0h0m-11-13h0m-17-10h0m31 15h0m16 4h0m31-19h0m-1-2h0m-33 6h0m27 3h0m-10 7h0m13 8h0m7-9h0m6 8h0m15-26h0m10 22h0m-5-30h0m29 0h0m2 7h0m0 18h0m44-15h0m9 4h0m-13 22h0m4-29h0m53 19h0m-27 4h0m17-1h0m-19-1h0m-2 1h0m15 4h0m6-2h0m-14-5h0m23 5h0m42-7h0m-5-25h0m38 13h0m-12 22h0m-6-20h0m2-7h0m-1 12h0m63-12h0m2 27h0m-10-8h0m-11 4h0m19-18h0m-35 19h0m46-30h0m6 2h0m15 58h0m0-19h0m-1 6h0m3-4h0m-26 20h0m18-7h0m-27 13h0m-7-21h0m4 7h0m-6-12h0m-65 1h0m3 2h0m0 21h0m5-6h0m-7-4h0m15 15h0m9-2h0m-6-20h0m-52 6h0m23 14h0m-18-4h0m8-29h0m-16 32h0m32-7h0m0-6h0m-11-15h0m-66 19h0m1-15h0m32-6h0m-7 2h0m10 7h0m-5 4h0m-34 18h0m-19-8h0m17 7h0m-22-4h0m-29-1h0m-15-7h0m30-7h0m-37-3h0m30-1h0m-12 20h0m11-5h0m-59 1h0m15-15h0m-13-6h0m-3-2h0m-4 7h0m18 10h0m10 19h0m-11-10h0m-16-7h0m-22 17h0m-7-32h0m-8 33h0m15-2h0m-40 1h0m-20-13h0m9-20h0m-53 14h0m18 7h0m-13-15h0m12 26h0m14-34h0m4 15h0m-32 5h0m-9-19h0m-34 7h0m13 8h0m-51-2h0m-2 18h0m30-9h0m-9 6h0m12-26h0m-15 23h0m-3 5h0m-40-33h0m11 23h0m-25-6h0m-14-9h0m0-5h0m-39 8h0m-10 2h0m13 21h0m-54-30h0m-14 31h0m30-6h0m-42 2h0m-5-6h0m3-20h0m-23 20h0m20-15h0m-11-7h0m-6 9h0m-39 12h0m22 9h0m1-31h0m-1 18h0m-6-9h0m-1-1h0m-11-2h0m-8-7h0m24 37h0m-1-20h0m7-17h0m-49 17h0m-22 1h0m21-9h0m-6 23h0m12-23h0m-9 4h0m-5-10h0m-58 8h0m22-2h0m9 12h0m-56-13h0m0 10h0m20 2h0m-22 2h0m15-14h0m-18 6h0m5-10h0m-9 25h0m-16-22h0m-16 22h0m19-26h0m-23-3h0m-13 9h0m-65-1h0m18 7h0m-1-2h0m-10-6h0m-13 21h0m1 6h0m0-10h0m8-22h0m-49 9h0m7 10h0m2-16h0m-14 1h0m27 15h0m-69 3h0m38-26h0m-27 2h0m-11 32h0m-20-31h0m-17 31h0m9-33h0m14 21h0m-18-10h0m19-6h0m-18 29h0m2-35h0m-24 1h0m-4 33h0m11-10h0m-6-14h0m6 24h0m-42 4h0m-1-24h0m-13 23h0m-5-12h0m1-16h0m-9 27h0m-3-2h0m-39-11h0m17 7h0m14-26h0m-2 32h0m-4-29h0m-17 7h0m4-13h0m-16 18h0m17-7h0m-1 6h0m-20 18h0m3-20h0m-3 6h0m-24-17h0m11-5h0m10 30h0m-15-19h0m9-11h0m10 30h0m-17-10h0m-32-17h0m-3 27h0m0-13h0m-8 1h0m-44 2h0m10-14h0m2 15h0m12 4h0m-19-10h0m-18-8h0m32-1h0m-14 61h0m-16-20h0m23 19h0m-7-3h0m-13-6h0m45 9h0m25 6h0m4-12h0m-38 10h0m4-11h0m12-11h0m-14 30h0m43 0h0m11-30h0m-15 26h0m61-26h0m-6 2h0m12 7h0m-12-3h0m19 24h0m-34-8h0m26-9h0m-26 5h0m33-17h0m29-5h0m-17 17h0m19 7h0m-26-11h0m23-16h0m-1 13h0m0-12h0m3 28h0m-19-16h0m14 24h0m5-36h0m-14 24h0m60 4h0m-25-19h0m6 7h0m-10 17h0m1-31h0m63 0h0m-8 0h0m8 14h0m-9-18h0m-9 6h0m59 29h0m-23-16h0m16 6h0m16 8h0m-1-31h0m16 30h0m21-13h0m-14 19h0m-13-37h0m32 1h0m-22 18h0m64-7h0m-10 15h0m-19 8h0m28-1h0m-18-19h0m10 20h0m0-28h0m18 1h0m6 23h0m-1-10h0m-11 13h0m3-18h0m25 9h0m-12-13h0m47-3h0m-8 27h0m-5-35h0m8 24h0m11-12h0m-17-14h0m10 34h0m26-15h0m14-10h0m6 6h0m-14 15h0m-7-17h0m48 14h0m10-3h0m5 8h0m-2-32h0m-27 19h0m14-18h0m30 30h0m11-31h0m25 3h0m11 4h0m11 0h0m6 11h0m11 1h0m15-11h0m18 7h0m-14-15h0m-3 18h0m-5 14h0m-9-29h0m47 33h0m3-36h0m1 30h0m-9-10h0m46 18h0m4-8h0m59 8h0m-1-31h0m-3 2h0m47 0h0m-19 7h0m-9 13h0m4-24h0m-10 24h0m25-20h0m42 19h0m-20 3h0m20-18h0m2-5h0m-13 1h0m-13 0h0m44 7h0m-6 16h0m3-25h0m-7-2h0m4 28h0m30 4h0m13-30h0m24 26h0m3-21h0m-2-5h0m-7 19h0m-16-13h0m-4 19h0m-1-21h0m19 7h0m-6-5h0m-6 21h0m32-15h0m13-9h0m2 10h0m-6 6h0m10-24h0m48-1h0m2 1h0m6 37h0m-30-1h0m54-18h0m7-16h0m-27 1h0m28 0h0m-31 6h0m21-2h0m44-4h0m8 12h0m-27 1h0m55 21h0m17-22h0m-2 0h0m-19-14h0m14 35h0m29-31h0m0 0h0m13 7h0m-24 13h0m2-10h0m28-15h0m-36 36h0m43-25h0m-6-11h0m36 34h0m9-28h0m32 31h0m-9-32h0m40-6h0m-26 3h0m19 27h0m4 3h0m8-9h0m-8-24h0m-19 14h0m7 7h0m45 3h0m11 11h0m-23-11h0m0-8h0m17 47h0m-13-16h0m-44 13h0m-1 2h0m22-3h0m3 16h0m-61-34h0m27 23h0m-20-20h0m-13 5h0m21 17h0m-62-19h0m8 10h0m-8 10h0m12 5h0m1-29h0m-3 18h0m5-4h0m-24-10h0m-25 24h0m0-21h0m4 3h0m-12 15h0m8 10h0m7-10h0m-11 1h0m16-4h0m13 2h0m-26-3h0m21 8h0m-61-26h0m0 28h0m27 2h0m-10-4h0m4-1h0m-30-25h0m-13 13h0m13-16h0m-32 29h0m16-1h0m-5-3h0m12-23h0m-59-3h0m12-1h0m-8 11h0m-4-5h0m16 9h0m4 1h0m-4 0h0m-24-6h0m-20 7h0m13-9h0m-31 11h0m7-17h0m27 13h0m-43 1h0m-12-18h0m15 20h0m-2-9h0m-35 18h0m18 10h0m-8-15h0m22-19h0m-63 31h0m13-4h0m-12-16h0m25-12h0m-51 26h0m-5-20h0m-10 25h0m15-17h0m-8 14h0m-26-25h0m-1 31h0m-24-10h0m13-22h0m-43 12h0m12 1h0m6-15h0m-33 19h0m20-23h0m-11 32h0m-8-27h0m10-2h0m0 9h0m14-3h0m-57 11h0m25-17h0m-70 0h0m17 30h0m-11 5h0m6-12h0m-8 0h0m10-22h0m-48 18h0m1-21h0m8 20h0m-1 11h0m-4-11h0m-36-4h0m-12 20h0m-9-37h0m-23 25h0m24-5h0m-19 9h0m-50-17h0m-8 10h0m6-13h0m1-6h0m-23 28h0m14-27h0m-36 34h0m5-16h0m-48-9h0m17 13h0m17-21h0m-21 2h0m11 8h0m-23 11h0m15 11h0m-24-28h0m-29 12h0m-3-20h0m34 18h0m-30-7h0m-1-12h0m26 10h0m-1 25h0m-19-5h0m-4-8h0m22 0h0m-33-16h0m-8 1h0m-65-1h0m34 5h0m-57-7h0m15 24h0m-11 7h0m-18-10h0m-7 9h0m-14-28h0m6 2h0m5-5h0m-56 27h0m-17-25h0m24 5h0m-2 3h0m-59 15h0m18-7h0m-17 0h0m14-7h0m-2 18h0m-23-20h0m2 25h0m-29 0h0m18-33h0m13 14h0m-34 15h0m31-21h0m-12 8h0m-52 15h0m18-25h0m-26 12h0m9-22h0m25 30h0m-19-22h0m4 28h0m-60-25h0m4 25h0m7 2h0m24-30h0m-22-6h0m21 25h0m-11-1h0m-2 12h0m-39-18h0m13-16h0m2 26h0m-18-23h0m8-1h0m-60 23h0m26-8h0m1-18h0m-31 23h0m1 12h0m19-5h0m-4 0h0m-6-18h0m1 33h0m16-7h0m5 15h0m-35 7h0m48-11h0m-10-9h0m25 34h0m13-25h0m-28-12h0m9 19h0m-5 18h0m17-35h0m1 5h0m-27 17h0m-4 2h0m70 5h0m-10 0h0m7-1h0m33-27h0m10-1h0m-27 4h0m12 20h0m1 12h0m12-9h0m41-25h0m-4 23h0m-7-19h0m3 1h0m31 1h0m18-7h0m42 32h0m3-9h0m-17-1h0m2-17h0m-4 26h0m20 3h0m-10-17h0m-27 5h0m37-6h0m-34 5h0m75-2h0m-35-14h0m36 23h0m-4-3h0m2-23h0m-15 29h0m-3-12h0m6 5h0m54-4h0m-11-10h0m-15-2h0m10 26h0m9-4h0m-10-30h0m49 7h0m-7 9h0m-15 18h0m20-13h0m-1 12h0m34-3h0m-21-24h0m-1 14h0m27-4h0m-19-13h0m25 12h0m-4 14h0m-10-13h0m-5-12h0m44-6h0m1 0h0m-8 0h0m36 34h0m20-4h0m-24 6h0m-3-2h0m20-1h0m47-2h0m-12-27h0m15 24h0m34-19h0m25 28h0m-9-23h0m13 10h0m-3-12h0m24 20h0m-32-23h0m15 18h0m48-6h0m2 11h0m0-8h0m-27 0h0m5-3h0m8-12h0m24-9h0m-13 0h0m34 22h0m11-14h0m7 7h0m-14-9h0m7 27h0m21-1h0m22-29h0m-22 32h0m29-32h0m-10 35h0m5-33h0m-10-3h0m33 4h0m-6 20h0m2-16h0m-6 21h0m11-17h0m-4-1h0m11 1h0m-1 22h0m-1-18h0m6-11h0m-6 7h0m46 18h0m-9-29h0m-11 27h0m4-5h0m44-25h0m-7 30h0m-2-14h0m31 8h0m-19-7h0m-14 13h0m0-1h0m48-26h0m20 0h0m-29 33h0m2-25h0m4 2h0m4 3h0m29 15h0m4-4h0m14 2h0m-13-4h0m-8 9h0m4-12h0m21 6h0m-12 4h0m33-6h0m4-9h0m9 2h0m14-5h0m-27 17h0m27-2h0m-17 2h0m-14 6h0m23-5h0m30-19h0m-13 8h0m19 7h0m35 6h0m-7-6h0m-1-7h0m26 4h0m-22-17h0m61-3h0m-13 9h0m11 0h0m-28 2h0m17 16h0m-15-25h0m16 16h0m16-7h0m-28 8h0m3 2h0m22-18h0m-34 4h0m67-2h0m-5 9h0m3 14h0m-6-25h0m4 14h0m-18-18h0m65 26h0m-5-13h0m-11-10h0m-15 8h0m37-10h0m42-2h0m-25 28h0m1 0h0m4-10h0m-8 14h0m10 0h0m-2-8h0m50 11h0m4-8h0m-27-29h0m31 3h0m-16 8h0m-21 21h0m66-19h0m-6 24h0m-17-23h0m59-12h0m-7 75h0m7-11h0m-7-21h0m-14 14h0m23-14h0m-59 17h0m-3 11h0m15-32h0m17 10h0m-64 11h0m10-7h0m13-3h0m-11-3h0m8 16h0m-12-12h0m-8-12h0m-24 25h0m-15-24h0m6 14h0m-2-7h0m-55 4h0m5 16h0m4-9h0m-4 15h0m7-6h0m20 6h0m-1 0h0m-11-16h0m19-12h0m-37 12h0m15 4h0m-15-15h0m-19 6h0m-22-4h0m5 15h0m-40-27h0m-5 12h0m2 5h0m15-15h0m-2 34h0m11 3h0m-19-23h0m11 1h0m-49-5h0m1 12h0m28-6h0m-14 11h0m-11-6h0m-21 9h0m-28-3h0m20-10h0m-14 1h0m19 6h0m-32-12h0m-2-12h0m-11 36h0m11-33h0m-19 20h0m1 12h0m-34-25h0m-9 21h0m-14-26h0m27 1h0m-60 7h0m1 13h0m23-26h0m4 35h0m-8-13h0m-64-4h0m3-9h0m20 9h0m-44-16h0m12 26h0m3-30h0m-15 36h0m-16-13h0m23-23h0m-14 5h0m7 9h0m-11-6h0m-28 10h0m-12 9h0m-10-24h0m32-3h0m-14 4h0m-3 22h0m2-25h0m15 3h0m-55 13h0m-13-15h0m0-2h0m17 25h0m-12-2h0m-3 2h0m7-25h0m-1 32h0m24-30h0m-7 19h0m-16 5h0m-22 12h0m-15-10h0m5-11h0m-16-1h0m-23-9h0m-1 15h0m-23 8h0m20-25h0m-5 20h0m-44 13h0m-10-6h0m31-20h0m-13 27h0m-59-20h0m24 6h0m13-3h0m-19-19h0m-6 3h0m19 3h0m-9-1h0m9-2h0m-10 22h0m-22-4h0m-38 8h0m1-26h0m34 6h0m3 15h0m-39-18h0m20 18h0m-31-18h0m-10 17h0m-11-20h0m4 16h0m-24-11h0m0 15h0m4-21h0m-16 1h0m-9 25h0m2-19h0m20 16h0m4-3h0m-44-20h0m9 25h0m1-21h0m-29-5h0m-43 3h0m17-5h0m1 1h0m7 27h0m-60-8h0m11 2h0m-5 5h0m-52-4h0m11-20h0m9 28h0m-23-4h0m27-24h0m-10 18h0m-55-15h0m15 27h0m12-7h0m-4 4h0m-11-17h0m-44 0h0m-11 22h0m29-10h0m8-13h0m-10-1h0m-17 25h0m4-14h0m23-10h0m-14 20h0m-29-10h0m-20-24h0m-8 39h0m1-14h0m-45-12h0m25-12h0m-18 14h0m16 19h0m7-2h0m-8-6h0m-13-15h0m-3 3h0m-10 2h0m-20-14h0m-14 11h0m-40 8h0m4-5h0m-9 3h0m14 20h0m-26-30h0m-24 21h0m22 6h0m-15-11h0m-1 27h0m-5 3h0m32 17h0m-6-20h0m-22-7h0m23 30h0m-6-33h0m-13 18h0m-7-15h0m3 4h0m11 6h0m13 21h0m43-7h0m-11 4h0m-13-30h0m42 7h0m-9-6h0m11 24h0m37 10h0m9-36h0m-14-1h0m-2-1h0m22 2h0m-16 34h0m37-23h0m9 13h0m11-18h0m-4 31h0m21-9h0m22-3h0m-25-27h0m8 15h0m13 18h0m-6 4h0m34-28h0m12 20h0m-15-6h0m15-10h0m-7 12h0m-12-19h0m-2 7h0m24 1h0m20-14h0m14 26h0m-3-26h0m-13 2h0m68 4h0m-16 31h0m-5-12h0m1-12h0m32-8h0m-3 24h0m2-22h0m13 3h0m-4-4h0m32 12h0m4 1h0m46 3h0m8 3h0m9-5h0m-1-17h0m2 6h0m-21 1h0m17 10h0m38 5h0m11 10h0m-5-27h0m-6-8h0m-24 9h0m28 23h0m19-5h0m-3-4h0m9-6h0m-8 8h0m10-8h0m14-6h0m-33 10h0m8 9h0m-3-26h0m31-4h0m16 17h0m10-17h0m35 32h0m17 2h0m-8-18h0m-1 8h0m41-2h0m-26-17h0m52 27h0m22-29h0m0 20h0m-32 4h0m11-13h0m-13 7h0m60 16h0m-8-2h0m-9-19h0m39-9h0m5 17h0m-7 1h0m49 12h0m15 2h0m-6-24h0m5-2h0m5-10h0m33 15h0m8-8h0m7 9h0m3-6h0m-32 18h0m4-21h0m-10 27h0m56-22h0m6 20h0m-14 3h0m30-19h0m4-16h0m25 17h0m-27 11h0m28-22h0m-19 23h0m10-16h0m58 20h0m-21-8h0m-15-13h0m25 21h0m48-35h0m-21 6h0m12 8h0m26 1h0m20 0h0m2-5h0m-26 25h0m14-31h0m5 25h0m-12-13h0m-12 17h0m25-22h0m13 1h0m20 4h0m14-3h0m-33-6h0m35 19h0m-29-27h0m17 34h0m21-26h0m7 18h0m-5 9h0m29 3h0m-24-34h0m2 32h0m58-15h0m-23-2h0m-3-9h0m27 7h0m-19 3h0m6 10h0m24-12h0m0-6h0m16 13h0m5-23h0m8 5h0m16-1h0m16-6h0m-2 18h0m3 3h0m-16 7h0m-9 10h0m38-10h0m25-27h0m-8 11h0m12 11h0m-10-11h0m15 20h0m-11-12h0m40 9h0m-6-25h0m2 11h0m-6 21h0m10 3h0m8 13h0m-24 4h0m3-14h0m-6 14h0m-21-6h0m-15 8h0m4 9h0m-12-3h0m12-23h0m-8 0h0m4 20h0m-41-8h0m15-3h0m-6 2h0m3-6h0m-2 27h0m5-12h0m13-1h0m-75 9h0m22-11h0m16 12h0m-13 6h0m-29-7h0m-24-1h0m19-22h0m7-3h0m-37 14h0m13 20h0m-7-22h0m31 0h0m-51-7h0m1 8h0m-17-15h0m22 10h0m-9 10h0m9 1h0m6-15h0m-8 18h0m7-12h0m-62 0h0m5-1h0m3-12h0m-40 26h0m5-1h0m-17-9h0m11-1h0m-17 24h0m30-27h0m-15 25h0m-59-37h0m4 13h0m15-8h0m14 4h0m-48 28h0m-5 1h0m-6-35h0m-3 24h0m-42-16h0m22 27h0m4-24h0m-32 4h0m31 14h0m-67-28h0m-2 21h0m4 3h0m-11-5h0m23 3h0m1-14h0m-9-5h0m-45 21h0m22-9h0m-8 6h0m-6 4h0m-14-28h0m3 21h0m17 1h0m-3-21h0m-10 34h0m5-1h0m-56-10h0m31-24h0m-16 30h0m-5-16h0m17 22h0m4-1h0m-35-36h0m-7 12h0m7 19h0m-2-26h0m-23-2h0m-27-1h0m10 4h0m-24 27h0m-5-16h0m-8 9h0m2-22h0m-59 33h0m-1-14h0m-13-10h0m-27 23h0m12-4h0m-6-32h0m3 39h0m-27-20h0m-16-3h0m-19 3h0m30 14h0m-21 0h0m-7-5h0m26 10h0m-15-6h0m-1-5h0m-15-22h0m3 15h0m19 3h0m-36-14h0m4 3h0m-32-3h0m24-7h0m7 5h0m-9 29h0m4-34h0m-55 9h0m2-7h0m-11 21h0m13-20h0m19 25h0m-20-4h0m-7 11h0m5-12h0m-15-5h0m-33 16h0m20-19h0m4 16h0m-19-2h0m-5-9h0m-44-2h0m20 3h0m9 16h0m1-35h0m3 12h0m-18-16h0m-30 35h0m-22-26h0m-15-7h0m-29 1h0m22 33h0m-45-36h0m-13 24h0m11-8h0m6 10h0m-21-21h0m35 13h0m-26 9h0m-47 2h0m3-8h0m26-12h0m-15-4h0m21 10h0m-69 23h0m22-33h0m0 25h0m-69-12h0m19-4h0m-1 23h0m-16-12h0m9 10h0m-44-14h0m17-18h0m-57 16h0m6 18h0m24-25h0m-42-5h0m-15 24h0m14-10h0m0-12h0m-24 1h0m-15-2h0m-33-7h0m15 61h0m10 2h0m5 1h0m-28 13h0m66-18h0m5-3h0m-4 1h0m-16 6h0m24-3h0m25-5h0m8 15h0m-17-9h0m23 15h0m-10-33h0m-17 13h0m11 18h0m4-13h0m38 5h0m-9-21h0m10-1h0m1 10h0m1-11h0m-3-3h0m13 1h0m-30 0h0m36 18h0m29 18h0m-8-25h0m-16 4h0m22-13h0m-29 30h0m56-27h0m1 20h0m3 5h0m-22-3h0m15-17h0m-1 9h0m-5-16h0m41 10h0m5 20h0m11-19h0m2 19h0m34-18h0m-16-1h0m9 2h0m-11-18h0m23 0h0m-6 12h0m-14 7h0m26-11h0m-1-8h0m19 1h0m8 13h0m5-1h0m-14 14h0m-8-21h0m37 18h0m13-5h0m-9 17h0m31-36h0m-8 10h0m14 19h0m9 0h0m6 2h0m21-22h0m-30 7h0m23 1h0m-9 6h0m0 3h0m-19-8h0m52 2h0m26 0h0m11 1h0m2-9h0m0 3h0m36-1h0m15 21h0m-10-17h0m4 3h0m23 6h0m32 2h0m-29-23h0m9-2h0m-5 18h0m51-14h0m19 8h0m-19-11h0m49 4h0m-4-1h0m11 22h0m3-17h0m21-1h0m-6 24h0m7-14h0m6-8h0m3-1h0m-10-9h0m41 8h0m4 20h0m-3-30h0m14-1h0m-34 30h0m41 2h0m8 5h0m-3-24h0m-6 3h0m32-11h0m-2 5h0m-29 4h0m7-1h0m31-6h0m-38-4h0m50-2h0m24 15h0m-31 20h0m26-3h0m-28-31h0m5 13h0m32-6h0m-3-10h0m-22 38h0m45-12h0m-14 2h0m28-25h0m5 11h0m0-11h0m-3 34h0m0-14h0m-25-6h0m22-17h0m-25 23h0m22 16h0m26-16h0m7 10h0m-1-30h0m0 4h0m10-1h0m25 32h0m20-25h0m-21 18h0m23-15h0m-26 16h0m-8 6h0m22-33h0m39-3h0m-5 27h0m1-10h0m9 15h0m48 4h0m-34-21h0m26 20h0m-26-5h0m29-6h0m-1-1h0m13-10h0m12 23h0m7 1h0m-16-10h0m17-21h0m35-5h0m13 3h0m6-6h0m-27 37h0m12-12h0m-9-8h0m-13 20h0m63-11h0m7 11h0m33-6h0m10 6h0m-10 2h0m-20-21h0m29-18h0m17 3h0m10 29h0m3-23h0m13 6h0m-17-2h0m6 24h0m-11-34h0m6 2h0m4 1h0m6 19h0m19 4h0m-7-2h0m36-23h0m-13 0h0m-3 15h0m-12-9h0m3-2h0m15 26h0m3-34h0m4 14h0m27 0h0m-12 10h0m-1 3h0m16-27h0m43 34h0m-19-34h0m20 36h0m-27-20h0m18 2h0m-21 7h0m9-23h0m20 15h0m-21 23h0m5 35h0m11-20h0m-9 0h0m-19 6h0m-20 16h0m-9-34h0m7 24h0m18-24h0m-25 21h0m17 15h0m-6-4h0m11-5h0m7-11h0m-23 5h0m-32-10h0m18 3h0m-2-8h0m-14-5h0m-19 7h0m-9-6h0m-18 18h0m4-3h0m2-20h0m-3 4h0m-8 19h0m-26-13h0m-20 12h0m32-20h0m-17-1h0m-26 28h0m-18 4h0m-2 0h0m-15-17h0m39 4h0m-11 15h0m-17-8h0m-41 10h0m22-36h0m-7 31h0m13 4h0m-34-14h0m-29-15h0m-15 22h0m25-12h0m-53 22h0m5-12h0m-33-26h0m-17 20h0m2 17h0m7-3h0m6-8h0m7-19h0m-5 7h0m-34-12h0m6 6h0m-35 25h0m13-20h0m-3 16h0m-5-15h0m-21 19h0m-21-29h0m28 22h0m-28-17h0m-11 7h0m-10 8h0m-3 14h0m-35-2h0m-9-26h0m9-7h0m-23 1h0m-30 29h0m22-1h0m-29 5h0m5-2h0m20-13h0m-47-20h0m-11 7h0m-12 10h0m-20-5h0m2-12h0m-6 22h0m9 3h0m2-3h0m2-19h0m-13 21h0m21 8h0m-29-22h0m-7-3h0m5-10h0m-14 30h0m-25-30h0m-21 38h0m-2-27h0m-12-7h0m-48 26h0m4-20h0m26 11h0m2-18h0m-34 17h0m34 7h0m-69-24h0m-6 35h0m38-6h0m-3 2h0m-14-32h0m-14 30h0m12-1h0m-10-16h0m-10-3h0m30-2h0m-15 16h0m2-11h0m-24-2h0m-15-3h0m2 1h0m7 17h0m-3-19h0m-15-3h0m-9 11h0m15 18h0m-1-25h0m24 10h0m-54 11h0m2 0h0m-22-27h0m-8 34h0m-34-19h0m2-17h0m10 17h0m24-18h0m-10 32h0m-42 5h0m-14-14h0m8 1h0m9 8h0m6-6h0m-35-17h0m-10 24h0m-12-5h0m5-10h0m-21 6h0m37-2h0m-39 1h0m36-2h0m-20 2h0m-40-11h0m11 2h0m10 5h0m-24-1h0m4 0h0m4 14h0m-7-23h0m7 19h0m1-1h0m-49-11h0m24 15h0m-11-14h0m-26-18h0m2 13h0m14-12h0m1 1h0m2 34h0m17-33h0m-73 27h0m5-23h0m0 23h0m17-15h0m0 11h0m-19-10h0m-13-13h0m-22 36h0m12-35h0m-20 5h0m3 7h0m27 18h0m-12-7h0m-1-6h0m19-9h0m-47-12h0m-18 4h0m15 22h0m5 10h0m-73-26h0m25-7h0m-25 24h0m-10-4h0m-5 10h0m12-29h0m-69-2h0m-4 5h0m15 23h0m8-21h0m-12 1h0m1 32h0m2 7h0m9 2h0m-16-9h0m40 3h0m14 9h0m46-10h0m-8 34h0m-23-4h0m5-6h0m8 10h0m12-19h0m-18-10h0m30 17h0m19-21h0m-14 28h0m36-18h0m-9 19h0m-26-18h0m7 4h0m9-19h0m11 25h0m24 7h0m5-2h0m-1-2h0m2 2h0m-11-28h0m4 8h0m-5-9h0m63 37h0m-22-5h0m26-8h0m-4-26h0m4 38h0m-17-37h0m57 7h0m-12 8h0m15 15h0m-5-27h0m-9 28h0m-7-20h0m42 23h0m18 1h0m-18-11h0m-8-14h0m-12 16h0m22 8h0m2 2h0m-19 0h0m38-22h0m20-10h0m-9 20h0m11-3h0m-5-9h0m-11 18h0m43-24h0m-9 11h0m9-2h0m4 1h0m45 2h0m-2 5h0m18-16h0m38 7h0m-20-11h0m14 28h0m-21-14h0m39 20h0m6-34h0m-2 22h0m8-7h0m30-13h0m3-4h0m26 2h0m-16 14h0m10 9h0m-28 2h0m25 1h0m-1-6h0m50-21h0m-25 4h0m-4 3h0m1 11h0m65-4h0m-32-11h0m19 16h0m37-5h0m-8 21h0m11-36h0m10 30h0m-2-17h0m-30 2h0m56-10h0m12 25h0m-25-29h0m5 0h0m47 29h0m12-23h0m11 12h0m-1-20h0m40 0h0m-25 13h0m9-12h0m7 0h0m-1 0h0m-23 11h0m-4 23h0m22-31h0m3 28h0m46-13h0m4 7h0m-8 8h0m9-17h0m14 4h0m28-5h0m29 6h0m-20 13h0m29-12h0m-8 8h0m-22 6h0m32 0h0m25-36h0m51 34h0m-21-22h0m24-13h0m38 28h0m4-10h0m-6-13h0m-24 14h0m13 5h0m2-21h0m32 28h0m6-29h0m-19 23h0m70 5h0m2-30h0m-17 25h0m0-20h0m4 7h0m-14 19h0m2-7h0m21-7h0m5-14h0m1 14h0m31 11h0m-16 8h0m10-19h0m1-16h0m-14 11h0m17 21h0m-22-22h0m19 18h0m30 4h0m-5-29h0m17 27h0m-19-27h0m14-1h0m59 25h0m-11 3h0m4-11h0m-15-7h0m22-1h0m-16-11h0m10 14h0m-27 5h0m22 10h0m49-9h0m-8-12h0m4-7h0m-18 2h0m11 4h0m-2 26h0m36-32h0m8 9h0m-9 13h0m10-23h0m-13 4h0m-8 26h0m15-22h0m23 12h0m26 33h0m-21 17h0m3-11h0m10 17h0m-40-13h0m7-15h0m-18-4h0m-2 23h0m-28 8h0m-9-1h0m-7-22h0m3-2h0m15 13h0m9-17h0m-9 15h0m-5-4h0m-34-3h0m13-14h0m-35 20h0m19-10h0m8 6h0m-61-11h0m5-2h0m13 30h0m-26 4h0m26-6h0m-46-1h0m-4-8h0m-14 8h0m4-9h0m4-21h0m-44 26h0m27 7h0m-28-19h0m-38-15h0m20-1h0m-23 1h0m-5 23h0m-25 4h0m-12-15h0m28-8h0m-19 25h0m0 5h0m-36-30h0m11 2h0m-1 26h0m-27-33h0m33 36h0m-4-24h0m-4 24h0m-20 3h0m6-13h0m-35 3h0m16-11h0m-24 14h0m3-7h0m-11 0h0m-5-19h0m-2 10h0m-21 23h0m8-26h0m-92 21h0m29 2h0m-7-32h0m-6-3h0m-5 21h0m-15-18h0m13-4h0m-15 18h0m21 4h0m-27 1h0m-19 6h0m10-17h0m9 18h0m-1-4h0m-44-17h0m-18 19h0m-10-20h0m29 25h0m-69-9h0m-2 4h0m27-27h0m4 6h0m-11-3h0m-9 4h0m7 21h0m-59-29h0m39 21h0m-4 14h0m-6-8h0m-19 10h0m-40-27h0m18 20h0m-15-15h0m-12 1h0m1-10h0m10 31h0m-33-23h0m3 12h0m-13-1h0m5-24h0m-11 8h0m21 22h0m15-17h0m-34-7h0m-27 26h0m9-31h0m-11 20h0m22 13h0m-15-30h0m15 21h0m-71 1h0m11 0h0m-8 8h0m23-23h0m-24 24h0m-22-12h0m-1 11h0m-5-30h0m2 28h0m2-2h0m-60-12h0m19-2h0m-18 18h0m26-34h0m-32 12h0m1 22h0m24-13h0m-42-18h0m-18 18h0m8-14h0m3 18h0m-28-20h0m5 7h0m-22 23h0m20-29h0m-39 8h0m-16 9h0m-5 1h0m-3-12h0m4 7h0m1-9h0m-53 18h0m13 1h0m-12-24h0m25 1h0m-51 23h0m-2-2h0m2 5h0m3-22h0m5 17h0m9-28h0m2 37h0m-22-19h0m-25 2h0m-27 10h0m1-28h0m31 12h0m-8 16h0m-52-8h0m-4-22h0m7 28h0m13-20h0m11 16h0m-12 11h0m-28-30h0m-26 24h0m17-8h0m5-12h0m-15 13h0m-11 15h0m21-12h0m-1-8h0m-1 18h0m-48-18h0m5-6h0m-16 20h0m3-29h0m1 25h0m-7-9h0m9-16h0m3 14h0m-2-7h0m23 3h0m-15 0h0m-61 22h0m23-5h0m-24 0h0m0-29h0m-1 5h0m17 14h0m-4-10h0m2 20h0m-4-24h0m3 71h0m18 1h0m-7-7h0m34-18h0m11 5h0m-23 11h0m-7 0h0m22 1h0m9-27h0m-24 1h0m56 30h0m-21 1h0m9-26h0m9-2h0m16 19h0m10-6h0m20-17h0m2 23h0m48-20h0m-3 33h0m-12-26h0m12-12h0m42 4h0m-30 4h0m-5 14h0m35-18h0m-6 26h0m-30 9h0m77-21h0m-13-5h0m10 19h0m-31-24h0m1 23h0m31-27h0m-19 29h0m-13-5h0m5-24h0m3 10h0m22 20h0m-23-7h0m62 12h0m-12-7h0m-16-8h0m15-14h0m3-7h0m7 23h0m-24 13h0m2-10h0m64-2h0m-6-27h0m3 28h0m-2-6h0m6 13h0m-2-21h0m41-3h0m-22 28h0m11-20h0m-6 9h0m20 2h0m-19-16h0m55-1h0m-10-4h0m-15-1h0m31 21h0m-26-9h0m2 13h0m10-4h0m9-11h0m9-7h0m37 7h0m-20 16h0m-15 2h0m9-20h0m-9-11h0m73 15h0m2 10h0m-20-16h0m18-14h0m-11 37h0m1-12h0m30 14h0m-6-6h0m25 6h0m-21-26h0m59 12h0m-31 4h0m14 8h0m24-6h0m-17-12h0m-20-14h0m34 21h0m-18-26h0m1 33h0m18 0h0m38-12h0m-35-9h0m34-6h0m-12 18h0m2-1h0m-16 6h0m17 6h0m-22-31h0m64 21h0m-22 6h0m3 3h0m59-17h0m-1-7h0m-5 7h0m-5-6h0m-2 23h0m-7-22h0m11 2h0m49-6h0m-12 1h0m16 22h0m2 4h0m35 0h0m-25-24h0m16 25h0m1-6h0m3-8h0m15 13h0m-37-35h0m35 30h0m9 3h0m31-25h0m-9 0h0m-23 23h0m40 0h0m20-4h0m5 2h0m-26 3h0m27-9h0m-25 12h0m8-19h0m25 9h0m-22-19h0m0 13h0m-2-4h0m26-9h0m22 28h0m6 0h0m45-8h0m-11-1h0m-13 13h0m-8-22h0m45-16h0m27 10h0m-29 24h0m-4-30h0m3 22h0m22-2h0m-14 14h0m-10 0h0m80-31h0m15 3h0m-11 19h0m28-12h0m-25-3h0m22 8h0m-29 6h0m14-18h0m18 22h0m4-22h0m10 16h0m20 6h0m-1-21h0m-12 1h0m49-2h0m-5 16h0m-1 1h0m34-27h0m0 4h0m-6 1h0m10 5h0m-1 12h0m14 9h0m-9-31h0m-15 28h0m57-23h0m3 34h0m-2-17h0m-8-7h0m-2 2h0m22-16h0m-4 26h0m-24-6h0m70 16h0m-6-11h0m7 1h0m-27 3h0m1-2h0m10-9h0m-20-18h0m13 38h0m21-18h0m-2 13h0m20-23h0m-5-3h0m-6 21h0m6-27h0m18 19h0m3-21h0m16 11h0m22-1h0m-13-7h0m-7 18h0m13-5h0m-19 63h0m26-38h0m-39 2h0m-15 19h0m21 13h0m-32-4h0m2-9h0m17-22h0m7 12h0m-54 4h0m17-16h0m3 9h0m-8 14h0m-24-3h0m14 13h0m18-22h0m5 13h0m-19 7h0m-16-29h0m-39 29h0m16-25h0m10 26h0m-15-3h0m22-1h0m-45 4h0m-4-10h0m-24-10h0m23 12h0m3 9h0m-9-25h0m-53-4h0m7 11h0m-11-4h0m31 10h0m-76-12h0m36 25h0m-16-28h0m12 18h0m-19-23h0m3 28h0m-49-5h0m18 0h0m-21-4h0m-8 17h0m-34-13h0m28-8h0m-9-16h0m9 27h0m-8-20h0m-15 4h0m-24 16h0m-14-14h0m26-3h0m-35 1h0m-13 9h0m-26-1h0m7 3h0m7-18h0m-11 3h0m28 10h0m2-5h0m-58-2h0m4 2h0m-3 2h0m-12 13h0m16-19h0m-8 1h0m23 15h0m-1-24h0m-18 15h0m17 3h0m-34-2h0m-14 21h0m-12-27h0m17-2h0m-5-2h0m7 0h0m-26 22h0m5-24h0m-48 28h0m10-20h0m14-11h0m-12 29h0m-39-17h0m-9-6h0m-5 23h0m16-15h0m-43 0h0m12 20h0m-8-1h0m-20-27h0m-20 2h0m-11 6h0m21 14h0m-4-9h0m11 15h0m-18 1h0m-51-16h0m17-8h0m9 18h0m-21 1h0m-46-28h0m0 13h0m2-14h0m-11 17h0m-8 10h0m-4 4h0m-21-5h0m20 9h0m7 1h0m5-26h0m-51-6h0m-21 10h0m-40 8h0m23 13h0m-3-27h0m-21 16h0m4-8h0m18 18h0m-16-19h0m-3-7h0m19-4h0m-10 17h0m10-4h0m-65-10h0m34 15h0m-15-12h0m5-10h0m12 3h0m-65 28h0m6-20h0m-10 21h0m-6-26h0m9 3h0m21 15h0m-20 12h0m-45-36h0m-30 31h0m-10-19h0m12-6h0m-19 18h0m29-9h0m-25-8h0m19 4h0m2-6h0m0 25h0m13 7h0m-45-12h0m4-7h0m-10-20h0m-7 11h0m-27 28h0m-32-2h0m-30-4h0m13-20h0m-5 3h0m9 10h0m-8-21h0m13 20h0m5 9h0m-61-29h0m19 25h0m-12 2h0m-4-9h0m-17-15h0m28 14h0m6-3h0m-17 16h0m-31-31h0m-16-4h0m4 25h0m-2-13h0m13 14h0m-28 6h0m17 6h0m17-17h0m-13 8h0m5-21h0m-51 20h0m11-5h0m10-11h0m-74 9h0m23-6h0m-38 1h0m-23-3h0m29-6h0m-29 25h0m17-6h0m6-1h0m-13-21h0m-10 21h0m12 40h0m43 9h0m20 2h0m-13-33h0m11 4h0m-1 7h0m-14-10h0m-22 0h0m7-1h0m-3 0h0m74 29h0m-31-7h0m23-1h0m-9 6h0m-14-22h0m-1 6h0m-4 15h0m75-26h0m-13-2h0m-20 19h0m-3 12h0m37-16h0m-31 9h0m-7-22h0m69 7h0m-24-10h0m4 5h0m11 6h0m-2-5h0m-3 7h0m-6 14h0m-8-11h0m20 14h0m37 5h0m-4-3h0m-2-4h0m9-11h0m19 13h0m12 1h0m-2 1h0m-6-32h0m11 28h0m14-23h0m-15 15h0m37 5h0m-3 5h0m0-7h0m29-19h0m-30 32h0m-1-18h0m23-6h0m-8-2h0m13 24h0m-4-20h0m25 0h0m-13 15h0m2 8h0m-2-1h0m30-17h0m2-16h0m-32 32h0m12-5h0m41 8h0m1-8h0m1-28h0m-14 19h0m67 4h0m-24 12h0m5-27h0m-4 19h0m8-9h0m5-12h0m55-2h0m4 20h0m-9-22h0m32 29h0m5-18h0m-7 21h0m5-15h0m-10-9h0m-7-8h0m-2 6h0m13 21h0m-18 7h0m35-19h0m15-8h0m1 16h0m25-14h0m36 10h0m-8 6h0m9-1h0m-12 9h0m-7-13h0m3-2h0m22-8h0m25 24h0m10-27h0m1 3h0m1 10h0m-16 0h0m54-16h0m-33 28h0m17-27h0m22 9h0m13 3h0m25 7h0m-27 4h0m13-4h0m-5-6h0m36-10h0m18 21h0m-31 2h0m28-31h0m6 9h0m7-5h0m74 9h0m-22-5h0m13 7h0m-28-1h0m55-6h0m4 8h0m-11 5h0m42 2h0m13 11h0m-14 0h0m10-23h0m12 6h0m-7 13h0m-24-28h0m48 15h0m2-6h0m21 12h0m-8-11h0m-13 14h0m-1-12h0m22 21h0m-7-34h0m16 1h0m22 31h0m-4-12h0m29-8h0m13 1h0m-15-16h0m12 8h0m-16 19h0m15 9h0m11-37h0m33 30h0m10-3h0m-23-11h0m25-17h0m-23 16h0m39 0h0m-7 4h0m30 14h0m-15-18h0m-15 16h0m16-14h0m-14-17h0m61 13h0m0-5h0m-24 7h0m11 13h0m13-22h0m-1 26h0m12 5h0m10-35h0m25 4h0m-17 0h0m-14 32h0m31-39h0m8 4h0m-17 32h0m-21-7h0m37-11h0m2 15h0m37-11h0m2-4h0m-33 6h0m36-15h0m20 0h0m-11 22h0m22-21h0m24-7h0m-16 6h0m22-4h0m25 1h0m14 33h0m-20-10h0m1 4h0m27-10h0m-23-10h0m-3 36h0m8 28h0m15-9h0m-30 10h0m-2-32h0m-44 7h0m4-1h0m-6-12h0m-9 20h0m-46-15h0m14-4h0m-9 28h0m-6 1h0m23-9h0m-32-13h0m10 13h0m12-7h0m-18 13h0m9-5h0m-25-13h0m-5 4h0m8 20h0m-18-11h0m-28 7h0m-22-17h0m10 12h0m-5 12h0m2 2h0m-13-11h0m1-8h0m-16 6h0m-25 7h0m17-26h0m-9 12h0m25 14h0m-13-15h0m-11-5h0m-2 14h0m15 7h0m0-26h0m-18 27h0m-32-29h0m-12 14h0m8-13h0m14 33h0m-5 0h0m8-2h0m-6-20h0m12 16h0m-33-32h0m-14 34h0m-8-29h0m-9 19h0m24-19h0m-47-5h0m-39-1h0m-7 28h0m-1-9h0m-14-10h0m20 4h0m-10-13h0m4 11h0m-12 12h0m31-12h0m-39 18h0m-17-7h0m-10 11h0m23-27h0m-58 15h0m-12-4h0m20 12h0m-13-28h0m-1 19h0m-6 0h0m13 0h0m-33 18h0m-2-26h0m1 6h0m12 15h0m-14-22h0m-19 8h0m-36-13h0m31 8h0m-17-10h0m15 1h0m-65-3h0m1 18h0m24-19h0m1 19h0m-75-19h0m13 31h0m-27 7h0m2 0h0m-20-21h0m5-18h0m0 21h0m7 16h0m-9-25h0m21 24h0m-35-13h0m-23 4h0m-2-25h0m16 10h0m-6-11h0m14 17h0m-11-1h0m-41-6h0m-4 12h0m1-18h0m14-5h0m-3 13h0m-33 10h0m38-5h0m-16-6h0m-20 21h0m-33-30h0m7 36h0m-52-39h0m31 7h0m-72 12h0m16-13h0m3 28h0m-14 0h0m-18-34h0m-29 30h0m7 3h0m14-19h0m17-8h0m-8 4h0m-18 29h0m-24-11h0m-13-27h0m11 24h0m-26-19h0m6 17h0m20-1h0m-16-1h0m20-20h0m-42 26h0m-21-3h0m19 4h0m-15 10h0m18-36h0m9 15h0m-18 7h0m-57-24h0m-4 8h0m30 4h0m-8 0h0m1-2h0m-20 6h0m22 19h0m-41 2h0m-3-1h0m-19 0h0m31-18h0m0-3h0m-8 2h0m1 16h0m-53-8h0m4-25h0m-13 17h0m22 9h0m10-21h0m-26 34h0m-14-28h0m-17-10h0m-17 19h0m0-7h0m37 22h0m-13-10h0m-8 7h0m11-1h0m-58-31h0m-42 13h0m1-10h0m-6 17h0m3 4h0m7 14h0m-8-20h0m29-6h0m1-8h0m-16 33h0m-25-29h0m4 4h0m-8-5h0m-20 3h0m-8 15h0m-30-22h0m3 27h0m20-29h0m-14 13h0m-14 6h0m10-3h0m11 55h0m-27-32h0m0 37h0m0-2h0m14-31h0m55 6h0m-30-3h0m22 13h0m-13 10h0m-4-5h0m15 14h0m-13-22h0m29-9h0m25 11h0m2 4h0m2 8h0m11-8h0m-27 3h0m9 9h0m-14 1h0m64-34h0m-19 21h0m-5 16h0m2-34h0m10 2h0m49 28h0m2-24h0m-8 3h0m-4-3h0m3-10h0m6 29h0m-8-2h0m28-14h0m16 18h0m-21-23h0m13 24h0m3-31h0m22 0h0m-3 35h0m19-2h0m-10-14h0m22-17h0m0 16h0m-21 3h0m4-19h0m-2 16h0m21-3h0m7 10h0m-34-23h0m78 19h0m-33-9h0m24 7h0m-26 14h0m70-18h0m-6 14h0m0-10h0m-28 7h0m16-18h0m32 13h0m22 12h0m-1 0h0m-6-7h0m15-27h0m-11 34h0m49-19h0m-6 9h0m5-22h0m-35-3h0m62 35h0m2-25h0m-3 3h0m-16-1h0m3-2h0m9 4h0m19 22h0m-18-2h0m14-27h0m31-2h0m-6-1h0m-5 16h0m9 10h0m-20-26h0m16-3h0m-17 18h0m78 11h0m-9-21h0m6 26h0m-32-1h0m19-34h0m54 33h0m-16-26h0m-9 20h0m14-26h0m11 8h0m-9 12h0m-19-1h0m-8 19h0m28-20h0m-5 4h0m43-1h0m-6-17h0m4 25h0m-8-18h0m-5-1h0m23 12h0m-34-14h0m32-1h0m-1 6h0m2 12h0m6 6h0m0-6h0m27 0h0m12-16h0m-6 24h0m6-17h0m11 14h0m1-7h0m9-14h0m24 7h0m24 16h0m-21-9h0m13-19h0m-15 28h0m44-16h0m8 21h0m-16-12h0m3-21h0m20 34h0m27-39h0m-9 30h0m5 2h0m30-25h0m2 21h0m-23-18h0m64 1h0m-27-1h0m4-9h0m11 14h0m7-11h0m36-4h0m4 2h0m-1 29h0m-16-12h0m-2 11h0m14-28h0m23 14h0m-11 6h0m23-22h0m-22 9h0m19 7h0m-17-14h0m17 32h0m-4-32h0m3 36h0m35-38h0m20 9h0m3-9h0m-27 29h0m4-8h0m20 4h0m-28 0h0m48 10h0m10-4h0m9 6h0m-17-34h0m-12 20h0m32-1h0m5 4h0m28-1h0m-23-7h0m5-17h0m19 12h0m2 8h0m-25-13h0m-7 27h0m18 0h0m35 1h0m15-15h0m-10 5h0m-5-9h0m21 22h0m-10-37h0m-4 30h0m-4-4h0m11 9h0m11-9h0m-25-1h0m4-11h0m23 2h0m0 1h0m8 15h0m26-10h0m-26 2h0m55-19h0m0 8h0m-11 2h0m16-17h0m16 0h0m24 23h0m9 16h0m40-20h0m-8-18h0m-2 19h0m-13-19h0m13 24h0m-14 1h0m-13 10h0m56-34h0m15 10h0m7-7h0m-8 10h0m22 0h0m13 14h0m5-5h0m-11-5h0m-17 13h0m14-14h0m14 29h0m-23 7h0m-5 10h0m-33-6h0m24-17h0m-20 9h0m25 14h0m-76-18h0m26 13h0m-22 7h0m13-14h0m-52-9h0m-22 9h0m-22-3h0m22 3h0m-23 6h0m14-7h0m17 12h0m-44-18h0m-19-4h0m23 0h0m-11 5h0m-1 18h0m-32-22h0m-3 10h0m-3-8h0m15-1h0m-49 20h0m-9 2h0m-22-1h0m-5-7h0m-25-16h0m23 18h0m-20-1h0m-47-16h0m25 12h0m-3-5h0m11 15h0m-25-2h0m-6-6h0m0-2h0m24-1h0m-66 5h0m3-11h0m14 17h0m-16-7h0m-15 8h0m-47-8h0m-52 0h0m23-1h0m-30-7h0m3-9h0m-26 11h0m-7 0h0m3 8h0m-45 1h0m22-12h0m-31 2h0m-18-1h0m3 9h0m-9-15h0m3 11h0m-32 8h0m-12-15h0m2 13h0m-3-18h0m-46 18h0m-6-11h0m-32-5h0m7-4h0m-16 15h0m7-1h0m3 7h0m-18-7h0m-24 7h0m25-18h0m-6 18h0m-64-7h0m-4 5h0m14-13h0m12-6h0m-57 2h0m-14 19h0m-18 5h0m-40-3h0m13-18h0m-16 13h0m5-1h0m-31-6h0m-21 6h0m11-12h0m-46 8h0m-8 10h0m-4-5h0m29-6h0m-56 1h0m-5-5h0m-11 7h0m-2 6h0m-3-12h0m-22-6h0m10 9h0m-61-4h0m1 4h0m1-11h0m1 5h0m-31 19h0m14-25h0m10 7h0m-53-4h0m3 14h0m-52-4h0m0-2h0m11-3h0m4 14h0m-28 4h0m-18-9h0m-3-17h0m-13 10h0m-1 1h0m-6-10h0m1 20h0" stroke="#fff" stroke-width="9" stroke-opacity="0.62"/></g></svg></defs>
<use href="#sc" x="21" y="7"/>
<rect x="21" y="7" width="135.1" height="102.6" fill="none" stroke="#303060" stroke-width="0.5" stroke-opacity="0.45"/>
<text class="t" x="21.0" y="117.4" text-anchor="middle">0</text>
<text class="t" x="54.8" y="117.4" text-anchor="middle">1</text>
<text class="t" x="88.5" y="117.4" text-anchor="middle">2</text>
<text class="t" x="122.3" y="117.4" text-anchor="middle">3</text>
<text class="t" x="156.1" y="117.4" text-anchor="middle">4</text>
<text class="t" x="19.8" y="112.3" text-anchor="end">0</text>
<text class="t" x="19.8" y="91.8" text-anchor="end">0.2</text>
<text class="t" x="19.8" y="71.3" text-anchor="end">0.4</text>
<text class="t" x="19.8" y="50.7" text-anchor="end">0.6</text>
<text class="t" x="19.8" y="30.2" text-anchor="end">0.8</text>
<text class="t" x="19.8" y="9.7" text-anchor="end">1</text>
<text class="i" x="88.5" y="124.9" text-anchor="middle" textLength="5.4" lengthAdjust="spacingAndGlyphs">μ</text>
<text class="i" transform="translate(6.3 58.3) rotate(-90)" text-anchor="middle">x</text>
<g transform="translate(353.29999999999995 7) scale(-1 1)"><use href="#sc"/></g>
<rect x="218.1" y="7" width="135.00000000000003" height="102.6" fill="none" stroke="#303060" stroke-width="0.5" stroke-opacity="0.45"/>
<text class="t" x="218.1" y="117.4" text-anchor="middle">0</text>
<text class="t" x="251.8" y="117.4" text-anchor="middle">1</text>
<text class="t" x="285.6" y="117.4" text-anchor="middle">2</text>
<text class="t" x="319.4" y="117.4" text-anchor="middle">3</text>
<text class="t" x="353.1" y="117.4" text-anchor="middle">4</text>
<text class="t" x="216.9" y="112.3" text-anchor="end">0</text>
<text class="t" x="216.9" y="91.8" text-anchor="end">0.2</text>
<text class="t" x="216.9" y="71.3" text-anchor="end">0.4</text>
<text class="t" x="216.9" y="50.7" text-anchor="end">0.6</text>
<text class="t" x="216.9" y="30.2" text-anchor="end">0.8</text>
<text class="t" x="216.9" y="9.7" text-anchor="end">1</text>
<text class="i" x="285.6" y="124.9" text-anchor="middle" textLength="5.4" lengthAdjust="spacingAndGlyphs">μ</text>
<text class="i" transform="translate(203.4 58.3) rotate(-90)" text-anchor="middle">y</text>
<g transform="translate(408 109.6) scale(1 -1)"><use href="#sc"/></g>
<rect x="408" y="7" width="135.20000000000005" height="102.6" fill="none" stroke="#303060" stroke-width="0.5" stroke-opacity="0.45"/>
<text class="t" x="408.0" y="117.4" text-anchor="middle">0</text>
<text class="t" x="441.8" y="117.4" text-anchor="middle">1</text>
<text class="t" x="475.6" y="117.4" text-anchor="middle">2</text>
<text class="t" x="509.4" y="117.4" text-anchor="middle">3</text>
<text class="t" x="543.2" y="117.4" text-anchor="middle">4</text>
<text class="t" x="406.8" y="112.3" text-anchor="end">0</text>
<text class="t" x="406.8" y="91.8" text-anchor="end">0.2</text>
<text class="t" x="406.8" y="71.3" text-anchor="end">0.4</text>
<text class="t" x="406.8" y="50.7" text-anchor="end">0.6</text>
<text class="t" x="406.8" y="30.2" text-anchor="end">0.8</text>
<text class="t" x="406.8" y="9.7" text-anchor="end">1</text>
<text class="i" x="475.6" y="124.9" text-anchor="middle" textLength="5.4" lengthAdjust="spacingAndGlyphs">μ</text>
<text class="i" transform="translate(393.3 58.3) rotate(-90)" text-anchor="middle">z</text>
<text class="c" x="76.7" y="162.3" text-anchor="middle">(a)</text>
<text class="c" x="285.8" y="162.3" text-anchor="middle">(b)</text>
<text class="c" x="479.2" y="162.4" text-anchor="middle">(c)</text>
<text class="c" x="177" y="348.2" text-anchor="middle">(d)</text>
<text class="c" x="404.3" y="348.2" text-anchor="middle">(e)</text>
<rect x="113" y="193.5" width="134" height="101.80000000000001" fill="#fff" stroke="#6c6c6c" stroke-width="0.5"/>
<text class="t" x="113.0" y="303.1" text-anchor="middle">0</text>
<text class="t" x="146.5" y="303.1" text-anchor="middle">1</text>
<text class="t" x="180.0" y="303.1" text-anchor="middle">2</text>
<text class="t" x="213.5" y="303.1" text-anchor="middle">3</text>
<text class="t" x="247.0" y="303.1" text-anchor="middle">4</text>
<text class="t" x="111.8" y="297.5" text-anchor="end">-2</text>
<text class="t" x="111.8" y="283.0" text-anchor="end">-1</text>
<text class="t" x="111.8" y="268.4" text-anchor="end">0</text>
<text class="t" x="111.8" y="253.9" text-anchor="end">1</text>
<text class="t" x="111.8" y="239.3" text-anchor="end">2</text>
<text class="t" x="111.8" y="224.8" text-anchor="end">3</text>
<text class="t" x="111.8" y="210.2" text-anchor="end">4</text>
<text class="t" x="111.8" y="195.7" text-anchor="end">5</text>
<path d="M113.0 295.3v-1.4M113.0 193.5v1.4M146.5 295.3v-1.4M146.5 193.5v1.4M180.0 295.3v-1.4M180.0 193.5v1.4M213.5 295.3v-1.4M213.5 193.5v1.4M247.0 295.3v-1.4M247.0 193.5v1.4M113 295.3h1.4M247 295.3h-1.4M113 280.8h1.4M247 280.8h-1.4M113 266.2h1.4M247 266.2h-1.4M113 251.7h1.4M247 251.7h-1.4M113 237.1h1.4M247 237.1h-1.4M113 222.6h1.4M247 222.6h-1.4M113 208.0h1.4M247 208.0h-1.4M113 193.5h1.4M247 193.5h-1.4" stroke="#6c6c6c" stroke-width="0.5" fill="none"/>
<text class="i" x="180.0" y="310.6" text-anchor="middle" textLength="5.4" lengthAdjust="spacingAndGlyphs">μ</text>
<text class="s" transform="translate(101.6 244.3) rotate(-90)" text-anchor="middle">Lyapunov exponents</text>
<path d="M113.3 266.2V295.3" stroke="#e03030" stroke-width="0.6" stroke-opacity="0.55"/>
<path d="M113.0 266.2 L113.3 268.0 L113.7 269.9 L114.0 271.8 L114.3 273.6 L114.7 275.7 L115.0 277.6 L115.4 279.4 L115.7 282.1 L116.0 284.2 L116.4 283.7 L116.7 284.3 L117.0 284.9 L117.4 286.3 L117.7 285.1 L118.0 283.4 L118.4 284.1 L118.7 282.2 L119.0 282.4 L119.4 280.4 L119.7 279.5 L120.1 276.7 L120.4 276.3 L120.7 274.0 L121.1 273.1 L121.4 272.4 L121.7 273.4 L122.1 270.7 L122.4 269.3 L122.7 268.2 L123.1 268.7 L123.4 267.2 L123.7 267.1 L124.1 266.4 L124.4 264.2 L124.8 265.3 L125.1 264.0 L125.4 262.7 L125.8 263.4 L126.1 262.4 L126.4 261.7 L126.8 261.4 L127.1 262.2 L127.4 260.7 L127.8 259.2 L128.1 261.3 L128.4 258.9 L128.8 259.2 L129.1 259.5 L129.5 256.8 L129.8 257.5 L130.1 259.0 L130.5 257.6 L130.8 256.9 L131.1 257.3 L131.5 256.3 L131.8 256.7 L132.1 255.8 L132.5 254.8 L132.8 256.4 L133.2 255.4 L133.5 255.7 L133.8 254.9 L134.2 255.8 L134.5 255.0 L134.8 254.4 L135.2 253.2 L135.5 252.7 L135.8 254.6 L136.2 253.9 L136.5 252.4 L136.8 254.4 L137.2 252.8 L137.5 252.2 L137.9 250.8 L138.2 251.0 L138.5 251.7 L138.9 251.5 L139.2 251.2 L139.5 249.5 L139.9 251.0 L140.2 250.7 L140.5 249.9 L140.9 250.1 L141.2 250.0 L141.5 250.6 L141.9 249.4 L142.2 249.6 L142.6 248.0 L142.9 248.2 L143.2 248.6 L143.6 247.8 L143.9 248.5 L144.2 247.0 L144.6 247.8 L144.9 247.0 L145.2 248.5 L145.6 246.8 L145.9 248.4 L146.2 248.5 L146.6 246.8 L146.9 247.2 L147.3 246.1 L147.6 244.1 L147.9 246.6 L148.3 246.3 L148.6 245.4 L148.9 245.0 L149.3 245.4 L149.6 245.3 L149.9 244.3 L150.3 244.3 L150.6 245.5 L150.9 244.5 L151.3 244.3 L151.6 245.1 L152.0 243.7 L152.3 244.6 L152.6 242.8 L153.0 243.3 L153.3 243.3 L153.6 243.7 L154.0 243.1 L154.3 244.6 L154.6 243.7 L155.0 242.2 L155.3 244.2 L155.7 241.5 L156.0 243.6 L156.3 241.2 L156.7 242.5 L157.0 240.9 L157.3 241.3 L157.7 242.6 L158.0 240.0 L158.3 239.7 L158.7 240.8 L159.0 240.8 L159.3 240.6 L159.7 241.1 L160.0 239.2 L160.4 240.4 L160.7 239.9 L161.0 240.3 L161.4 240.0 L161.7 240.4 L162.0 238.1 L162.4 239.1 L162.7 238.0 L163.0 238.7 L163.4 239.1 L163.7 238.7 L164.0 238.8 L164.4 238.2 L164.7 238.4 L165.1 238.2 L165.4 239.1 L165.7 238.5 L166.1 236.2 L166.4 238.1 L166.7 238.4 L167.1 237.0 L167.4 236.0 L167.7 238.4 L168.1 237.2 L168.4 237.4 L168.7 238.3 L169.1 236.0 L169.4 236.6 L169.8 236.4 L170.1 237.0 L170.4 235.8 L170.8 236.6 L171.1 236.1 L171.4 236.8 L171.8 236.8 L172.1 234.5 L172.4 236.0 L172.8 235.2 L173.1 235.4 L173.5 235.6 L173.8 235.5 L174.1 234.4 L174.5 235.1 L174.8 234.9 L175.1 234.6 L175.5 233.5 L175.8 233.8 L176.1 234.0 L176.5 234.7 L176.8 235.3 L177.1 233.2 L177.5 233.0 L177.8 233.9 L178.2 233.2 L178.5 232.9 L178.8 232.7 L179.2 232.5 L179.5 233.6 L179.8 231.8 L180.2 234.1 L180.5 232.2 L180.8 232.5 L181.2 232.1 L181.5 231.1 L181.8 231.4 L182.2 233.6 L182.5 234.0 L182.9 231.8 L183.2 233.3 L183.5 232.4 L183.9 231.6 L184.2 233.7 L184.5 234.0 L184.9 231.9 L185.2 232.0 L185.5 232.2 L185.9 231.9 L186.2 232.6 L186.5 233.1 L186.9 231.9 L187.2 232.5 L187.6 233.0 L187.9 231.1 L188.2 231.5 L188.6 231.1 L188.9 232.2 L189.2 231.9 L189.6 232.1 L189.9 231.9 L190.2 230.9 L190.6 231.7 L190.9 230.7 L191.3 230.6 L191.6 229.1 L191.9 232.0 L192.3 229.9 L192.6 230.7 L192.9 230.6 L193.3 231.8 L193.6 230.9 L193.9 229.7 L194.3 230.4 L194.6 230.2 L194.9 230.5 L195.3 229.1 L195.6 230.1 L196.0 231.9 L196.3 230.5 L196.6 231.6 L197.0 232.7 L197.3 230.2 L197.6 228.5 L198.0 229.6 L198.3 230.6 L198.6 230.3 L199.0 228.4 L199.3 229.2 L199.6 229.3 L200.0 229.3 L200.3 229.1 L200.7 228.4 L201.0 228.6 L201.3 228.8 L201.7 229.8 L202.0 228.4 L202.3 229.4 L202.7 227.8 L203.0 229.8 L203.3 228.7 L203.7 228.5 L204.0 229.6 L204.3 226.9 L204.7 227.1 L205.0 228.7 L205.4 227.5 L205.7 227.8 L206.0 230.4 L206.4 227.8 L206.7 228.0 L207.0 227.8 L207.4 228.8 L207.7 228.0 L208.0 227.9 L208.4 226.6 L208.7 227.3 L209.1 227.5 L209.4 226.1 L209.7 227.9 L210.1 227.7 L210.4 228.8 L210.7 225.8 L211.1 226.3 L211.4 226.3 L211.7 226.4 L212.1 226.8 L212.4 226.7 L212.7 227.0 L213.1 226.9 L213.4 226.6 L213.8 225.3 L214.1 226.1 L214.4 226.6 L214.8 227.0 L215.1 227.0 L215.4 225.0 L215.8 225.9 L216.1 226.3 L216.4 226.6 L216.8 227.2 L217.1 226.3 L217.4 225.4 L217.8 226.5 L218.1 226.3 L218.5 226.2 L218.8 225.9 L219.1 227.4 L219.5 226.1 L219.8 226.6 L220.1 225.1 L220.5 226.5 L220.8 225.3 L221.1 224.4 L221.5 226.0 L221.8 226.2 L222.1 225.4 L222.5 225.6 L222.8 226.4 L223.2 225.1 L223.5 223.7 L223.8 225.6 L224.2 225.5 L224.5 226.2 L224.8 225.0 L225.2 226.3 L225.5 226.2 L225.8 224.0 L226.2 225.9 L226.5 224.1 L226.8 223.7 L227.2 224.8 L227.5 224.5 L227.9 223.2 L228.2 225.0 L228.5 225.3 L228.9 226.0 L229.2 224.7 L229.5 223.4 L229.9 223.8 L230.2 225.4 L230.5 225.3 L230.9 225.0 L231.2 224.2 L231.6 224.6 L231.9 224.2 L232.2 224.1 L232.6 224.6 L232.9 224.3 L233.2 224.1 L233.6 224.3 L233.9 223.7 L234.2 222.5 L234.6 223.6 L234.9 224.0 L235.2 225.5 L235.6 223.6 L235.9 225.6 L236.3 225.1 L236.6 223.1 L236.9 223.2 L237.3 223.9 L237.6 225.2 L237.9 224.0 L238.3 224.2 L238.6 223.1 L238.9 221.6 L239.3 223.3 L239.6 224.2 L239.9 224.5 L240.3 223.5 L240.6 223.5 L241.0 224.3 L241.3 223.2 L241.6 224.2 L242.0 222.2 L242.3 222.2 L242.6 222.2 L243.0 223.5 L243.3 222.6 L243.6 223.1 L244.0 223.3 L244.3 223.2 L244.6 224.0 L245.0 224.1 L245.3 222.1 L245.7 222.9 L246.0 222.5 L246.3 221.8 L246.7 224.1 L247.0 223.3" fill="none" stroke="#e03030" stroke-width="0.7" stroke-linejoin="round"/>
<path d="M113.0 266.2 L113.3 264.5 L113.7 263.1 L114.0 261.7 L114.3 260.5 L114.7 259.5 L115.0 258.4 L115.4 257.3 L115.7 256.2 L116.0 256.2 L116.4 254.2 L116.7 253.7 L117.0 252.7 L117.4 252.7 L117.7 252.0 L118.0 251.6 L118.4 249.7 L118.7 250.1 L119.0 248.9 L119.4 249.1 L119.7 248.3 L120.1 248.5 L120.4 247.5 L120.7 246.6 L121.1 246.9 L121.4 245.6 L121.7 245.5 L122.1 245.6 L122.4 245.0 L122.7 244.5 L123.1 244.0 L123.4 243.8 L123.7 243.6 L124.1 243.0 L124.4 242.9 L124.8 242.7 L125.1 241.9 L125.4 241.2 L125.8 241.8 L126.1 240.9 L126.4 240.9 L126.8 240.7 L127.1 239.7 L127.4 239.9 L127.8 238.9 L128.1 239.5 L128.4 238.8 L128.8 238.7 L129.1 238.7 L129.5 237.9 L129.8 237.9 L130.1 237.4 L130.5 237.4 L130.8 237.5 L131.1 237.0 L131.5 236.7 L131.8 236.1 L132.1 236.6 L132.5 236.0 L132.8 236.4 L133.2 235.3 L133.5 235.8 L133.8 235.8 L134.2 235.0 L134.5 234.4 L134.8 235.1 L135.2 234.8 L135.5 234.4 L135.8 234.4 L136.2 233.6 L136.5 233.9 L136.8 233.7 L137.2 233.0 L137.5 233.3 L137.9 232.7 L138.2 233.0 L138.5 233.0 L138.9 233.0 L139.2 231.5 L139.5 232.1 L139.9 231.8 L140.2 231.7 L140.5 231.5 L140.9 231.3 L141.2 230.5 L141.5 231.4 L141.9 231.5 L142.2 231.1 L142.6 231.1 L142.9 230.2 L143.2 230.0 L143.6 230.5 L143.9 230.5 L144.2 230.0 L144.6 229.2 L144.9 230.6 L145.2 229.2 L145.6 229.7 L145.9 228.8 L146.2 229.4 L146.6 229.0 L146.9 229.3 L147.3 229.0 L147.6 228.0 L147.9 228.1 L148.3 228.4 L148.6 228.4 L148.9 228.7 L149.3 228.0 L149.6 227.7 L149.9 227.6 L150.3 227.5 L150.6 227.8 L150.9 227.3 L151.3 227.1 L151.6 226.5 L152.0 226.2 L152.3 226.8 L152.6 226.9 L153.0 226.6 L153.3 226.6 L153.6 226.6 L154.0 226.2 L154.3 226.5 L154.6 225.7 L155.0 225.9 L155.3 225.7 L155.7 225.7 L156.0 225.8 L156.3 225.8 L156.7 225.4 L157.0 225.4 L157.3 225.0 L157.7 225.0 L158.0 225.4 L158.3 224.8 L158.7 225.2 L159.0 224.8 L159.3 224.6 L159.7 225.2 L160.0 224.3 L160.4 224.2 L160.7 224.2 L161.0 224.2 L161.4 224.1 L161.7 224.2 L162.0 223.8 L162.4 223.8 L162.7 223.5 L163.0 223.9 L163.4 223.3 L163.7 223.2 L164.0 223.2 L164.4 223.2 L164.7 222.8 L165.1 223.5 L165.4 222.7 L165.7 222.6 L166.1 222.5 L166.4 222.4 L166.7 222.7 L167.1 222.5 L167.4 222.1 L167.7 222.1 L168.1 222.1 L168.4 222.6 L168.7 221.8 L169.1 221.5 L169.4 221.4 L169.8 221.6 L170.1 222.2 L170.4 221.2 L170.8 221.5 L171.1 222.3 L171.4 221.2 L171.8 221.8 L172.1 221.6 L172.4 221.3 L172.8 220.5 L173.1 221.0 L173.5 220.7 L173.8 220.1 L174.1 220.1 L174.5 220.6 L174.8 220.6 L175.1 220.9 L175.5 220.6 L175.8 220.2 L176.1 220.1 L176.5 220.1 L176.8 219.7 L177.1 220.3 L177.5 220.0 L177.8 219.6 L178.2 219.6 L178.5 219.3 L178.8 219.5 L179.2 219.7 L179.5 219.4 L179.8 219.8 L180.2 220.0 L180.5 219.1 L180.8 219.2 L181.2 219.0 L181.5 219.7 L181.8 219.2 L182.2 219.2 L182.5 219.2 L182.9 219.6 L183.2 218.9 L183.5 218.4 L183.9 218.5 L184.2 218.8 L184.5 218.5 L184.9 218.1 L185.2 219.4 L185.5 218.3 L185.9 218.0 L186.2 217.9 L186.5 217.5 L186.9 217.6 L187.2 217.9 L187.6 217.8 L187.9 217.6 L188.2 218.0 L188.6 217.7 L188.9 217.3 L189.2 216.9 L189.6 217.6 L189.9 217.5 L190.2 217.3 L190.6 216.9 L190.9 217.3 L191.3 216.7 L191.6 217.5 L191.9 217.2 L192.3 217.1 L192.6 216.7 L192.9 216.6 L193.3 217.4 L193.6 217.1 L193.9 216.6 L194.3 216.9 L194.6 217.2 L194.9 216.2 L195.3 216.3 L195.6 216.3 L196.0 216.6 L196.3 216.0 L196.6 216.4 L197.0 215.8 L197.3 216.5 L197.6 216.4 L198.0 216.0 L198.3 216.3 L198.6 215.7 L199.0 215.8 L199.3 216.2 L199.6 215.8 L200.0 215.9 L200.3 215.4 L200.7 215.9 L201.0 215.7 L201.3 215.1 L201.7 214.7 L202.0 214.7 L202.3 215.3 L202.7 215.2 L203.0 214.7 L203.3 215.3 L203.7 215.5 L204.0 215.1 L204.3 214.9 L204.7 215.3 L205.0 215.5 L205.4 215.4 L205.7 214.6 L206.0 215.1 L206.4 214.8 L206.7 214.6 L207.0 214.4 L207.4 214.7 L207.7 214.4 L208.0 214.8 L208.4 214.6 L208.7 214.8 L209.1 213.9 L209.4 214.3 L209.7 214.5 L210.1 214.3 L210.4 214.2 L210.7 213.8 L211.1 214.6 L211.4 214.4 L211.7 214.1 L212.1 213.0 L212.4 213.5 L212.7 213.8 L213.1 213.5 L213.4 213.0 L213.8 213.8 L214.1 213.8 L214.4 213.1 L214.8 213.3 L215.1 213.2 L215.4 213.6 L215.8 212.7 L216.1 212.7 L216.4 213.1 L216.8 213.0 L217.1 213.9 L217.4 212.9 L217.8 213.2 L218.1 212.9 L218.5 212.8 L218.8 213.1 L219.1 213.5 L219.5 212.8 L219.8 213.1 L220.1 212.9 L220.5 213.0 L220.8 212.8 L221.1 213.5 L221.5 212.2 L221.8 212.5 L222.1 212.1 L222.5 211.8 L222.8 212.4 L223.2 213.1 L223.5 212.7 L223.8 212.8 L224.2 212.5 L224.5 212.2 L224.8 212.9 L225.2 212.0 L225.5 212.7 L225.8 212.0 L226.2 212.1 L226.5 212.1 L226.8 212.0 L227.2 212.1 L227.5 212.1 L227.9 212.4 L228.2 211.8 L228.5 211.1 L228.9 211.0 L229.2 211.2 L229.5 211.3 L229.9 211.8 L230.2 211.0 L230.5 211.5 L230.9 211.5 L231.2 211.5 L231.6 211.3 L231.9 211.5 L232.2 211.3 L232.6 211.6 L232.9 211.3 L233.2 210.3 L233.6 211.1 L233.9 211.2 L234.2 210.8 L234.6 210.7 L234.9 211.4 L235.2 211.0 L235.6 210.5 L235.9 210.7 L236.3 210.8 L236.6 210.2 L236.9 211.0 L237.3 210.7 L237.6 210.8 L237.9 210.1 L238.3 211.3 L238.6 210.8 L238.9 210.7 L239.3 210.2 L239.6 210.2 L239.9 209.9 L240.3 210.9 L240.6 210.0 L241.0 210.4 L241.3 210.5 L241.6 210.0 L242.0 210.5 L242.3 210.9 L242.6 210.2 L243.0 210.6 L243.3 210.3 L243.6 209.8 L244.0 209.8 L244.3 209.3 L244.6 209.9 L245.0 210.4 L245.3 210.1 L245.7 210.1 L246.0 210.2 L246.3 209.5 L246.7 209.9 L247.0 210.3" fill="none" stroke="#3f8f4f" stroke-width="0.7" stroke-linejoin="round"/>
<path d="M113.0 266.1 L113.3 263.2 L113.7 260.7 L114.0 258.6 L114.3 256.6 L114.7 255.1 L115.0 253.4 L115.4 252.2 L115.7 250.8 L116.0 249.6 L116.4 249.7 L116.7 247.9 L117.0 247.1 L117.4 245.9 L117.7 246.0 L118.0 243.5 L118.4 243.7 L118.7 243.7 L119.0 243.4 L119.4 241.9 L119.7 241.2 L120.1 241.0 L120.4 239.9 L120.7 239.8 L121.1 238.6 L121.4 238.8 L121.7 237.9 L122.1 236.9 L122.4 235.5 L122.7 237.1 L123.1 236.4 L123.4 236.2 L123.7 234.8 L124.1 235.6 L124.4 234.8 L124.8 234.2 L125.1 234.4 L125.4 234.0 L125.8 233.4 L126.1 234.0 L126.4 233.2 L126.8 232.3 L127.1 231.7 L127.4 231.6 L127.8 232.2 L128.1 231.1 L128.4 230.1 L128.8 230.0 L129.1 230.0 L129.5 230.2 L129.8 229.1 L130.1 229.5 L130.5 229.6 L130.8 229.1 L131.1 227.6 L131.5 228.0 L131.8 227.3 L132.1 228.0 L132.5 226.9 L132.8 227.6 L133.2 227.1 L133.5 225.3 L133.8 226.1 L134.2 226.6 L134.5 226.2 L134.8 225.7 L135.2 225.0 L135.5 225.8 L135.8 226.3 L136.2 225.3 L136.5 224.9 L136.8 224.6 L137.2 223.7 L137.5 224.1 L137.9 223.7 L138.2 224.6 L138.5 223.3 L138.9 222.4 L139.2 223.0 L139.5 223.1 L139.9 223.0 L140.2 221.8 L140.5 223.3 L140.9 222.6 L141.2 222.1 L141.5 221.8 L141.9 222.3 L142.2 221.7 L142.6 221.9 L142.9 221.5 L143.2 221.5 L143.6 221.9 L143.9 221.1 L144.2 220.5 L144.6 221.4 L144.9 220.8 L145.2 220.1 L145.6 221.0 L145.9 220.1 L146.2 220.7 L146.6 219.3 L146.9 218.5 L147.3 218.5 L147.6 219.7 L147.9 219.0 L148.3 219.2 L148.6 219.1 L148.9 218.1 L149.3 219.7 L149.6 218.1 L149.9 218.7 L150.3 217.7 L150.6 218.3 L150.9 218.6 L151.3 218.0 L151.6 217.6 L152.0 217.9 L152.3 217.5 L152.6 218.0 L153.0 218.8 L153.3 216.9 L153.6 216.9 L154.0 217.1 L154.3 217.0 L154.6 216.3 L155.0 217.1 L155.3 217.1 L155.7 216.7 L156.0 215.8 L156.3 217.2 L156.7 215.6 L157.0 216.6 L157.3 216.7 L157.7 215.2 L158.0 215.9 L158.3 216.5 L158.7 215.9 L159.0 215.0 L159.3 214.8 L159.7 215.6 L160.0 215.0 L160.4 214.7 L160.7 215.4 L161.0 214.7 L161.4 214.9 L161.7 215.1 L162.0 214.9 L162.4 214.5 L162.7 214.4 L163.0 214.7 L163.4 214.5 L163.7 213.5 L164.0 214.0 L164.4 213.5 L164.7 213.2 L165.1 213.5 L165.4 212.4 L165.7 214.1 L166.1 213.1 L166.4 213.6 L166.7 212.3 L167.1 212.3 L167.4 214.3 L167.7 213.7 L168.1 212.6 L168.4 212.5 L168.7 212.4 L169.1 212.8 L169.4 212.4 L169.8 212.2 L170.1 212.5 L170.4 211.8 L170.8 213.6 L171.1 211.9 L171.4 212.8 L171.8 211.5 L172.1 212.1 L172.4 212.4 L172.8 211.6 L173.1 212.3 L173.5 212.2 L173.8 212.5 L174.1 211.5 L174.5 211.2 L174.8 210.8 L175.1 211.4 L175.5 210.6 L175.8 211.1 L176.1 211.1 L176.5 210.7 L176.8 210.3 L177.1 211.0 L177.5 210.9 L177.8 210.8 L178.2 210.6 L178.5 211.1 L178.8 209.9 L179.2 210.6 L179.5 210.1 L179.8 210.7 L180.2 210.0 L180.5 209.9 L180.8 210.3 L181.2 208.8 L181.5 209.7 L181.8 208.8 L182.2 209.2 L182.5 210.1 L182.9 209.9 L183.2 209.3 L183.5 209.5 L183.9 209.4 L184.2 209.5 L184.5 210.3 L184.9 209.4 L185.2 210.4 L185.5 208.9 L185.9 209.4 L186.2 209.4 L186.5 209.0 L186.9 208.7 L187.2 209.6 L187.6 209.7 L187.9 209.3 L188.2 209.8 L188.6 209.1 L188.9 207.5 L189.2 209.0 L189.6 207.9 L189.9 209.1 L190.2 208.0 L190.6 208.3 L190.9 208.1 L191.3 207.7 L191.6 206.9 L191.9 207.8 L192.3 207.8 L192.6 208.3 L192.9 207.4 L193.3 207.8 L193.6 207.1 L193.9 207.6 L194.3 206.5 L194.6 208.6 L194.9 207.5 L195.3 206.8 L195.6 207.4 L196.0 207.6 L196.3 207.3 L196.6 207.9 L197.0 206.9 L197.3 205.5 L197.6 206.2 L198.0 207.5 L198.3 207.3 L198.6 207.0 L199.0 206.1 L199.3 207.1 L199.6 207.0 L200.0 206.0 L200.3 205.9 L200.7 206.6 L201.0 207.0 L201.3 207.2 L201.7 206.6 L202.0 207.5 L202.3 205.7 L202.7 206.4 L203.0 205.7 L203.3 204.9 L203.7 205.2 L204.0 206.5 L204.3 205.3 L204.7 205.1 L205.0 206.1 L205.4 206.2 L205.7 205.7 L206.0 206.5 L206.4 204.6 L206.7 206.8 L207.0 206.0 L207.4 205.5 L207.7 205.4 L208.0 205.1 L208.4 205.0 L208.7 205.3 L209.1 204.4 L209.4 206.3 L209.7 205.0 L210.1 205.3 L210.4 204.8 L210.7 204.7 L211.1 205.3 L211.4 205.1 L211.7 204.2 L212.1 204.4 L212.4 205.0 L212.7 203.4 L213.1 203.1 L213.4 205.3 L213.8 204.2 L214.1 202.9 L214.4 203.8 L214.8 204.1 L215.1 204.3 L215.4 204.5 L215.8 204.2 L216.1 204.4 L216.4 203.6 L216.8 204.2 L217.1 204.2 L217.4 204.6 L217.8 203.9 L218.1 204.3 L218.5 203.8 L218.8 203.1 L219.1 203.4 L219.5 203.3 L219.8 203.4 L220.1 203.5 L220.5 203.5 L220.8 203.6 L221.1 202.9 L221.5 204.0 L221.8 202.5 L222.1 203.2 L222.5 203.6 L222.8 203.4 L223.2 203.5 L223.5 203.0 L223.8 203.4 L224.2 202.3 L224.5 203.4 L224.8 204.2 L225.2 203.3 L225.5 204.0 L225.8 202.8 L226.2 202.1 L226.5 202.3 L226.8 203.4 L227.2 203.0 L227.5 201.5 L227.9 202.3 L228.2 202.5 L228.5 201.8 L228.9 201.0 L229.2 201.6 L229.5 202.2 L229.9 202.1 L230.2 201.9 L230.5 202.5 L230.9 202.8 L231.2 202.1 L231.6 202.6 L231.9 202.1 L232.2 201.9 L232.6 200.6 L232.9 202.4 L233.2 201.9 L233.6 201.9 L233.9 201.5 L234.2 201.1 L234.6 202.0 L234.9 202.1 L235.2 202.6 L235.6 202.1 L235.9 201.2 L236.3 201.5 L236.6 202.1 L236.9 201.6 L237.3 201.4 L237.6 201.1 L237.9 201.7 L238.3 201.4 L238.6 202.3 L238.9 201.9 L239.3 200.2 L239.6 202.4 L239.9 201.3 L240.3 200.9 L240.6 201.2 L241.0 201.4 L241.3 201.0 L241.6 200.9 L242.0 200.9 L242.3 201.9 L242.6 200.9 L243.0 201.2 L243.3 201.0 L243.6 200.5 L244.0 200.3 L244.3 200.1 L244.6 200.8 L245.0 200.0 L245.3 199.8 L245.7 199.8 L246.0 199.6 L246.3 200.5 L246.7 200.4 L247.0 199.8" fill="none" stroke="#2828d8" stroke-width="0.7" stroke-linejoin="round"/>
<g fill="#2626ea" fill-opacity="0.0145" filter="url(#hzf)"><path d="M392.0 298.5L468.0 279.0L410.0 252.0L334.0 271.5z"/><path d="M392.0 297.5L468.0 278.0L410.0 251.0L334.0 270.5z"/><path d="M392.0 296.5L468.0 277.0L410.0 250.0L334.0 269.5z"/><path d="M392.0 295.5L468.0 276.0L410.0 249.0L334.0 268.5z"/><path d="M392.0 294.5L468.0 275.0L410.0 248.0L334.0 267.5z"/><path d="M392.0 293.5L468.0 274.0L410.0 247.0L334.0 266.5z"/><path d="M392.0 292.5L468.0 273.0L410.0 246.0L334.0 265.5z"/><path d="M392.0 291.5L468.0 272.0L410.0 245.0L334.0 264.5z"/><path d="M392.0 290.5L468.0 271.0L410.0 244.0L334.0 263.5z"/><path d="M392.0 289.5L468.0 270.0L410.0 243.0L334.0 262.5z"/><path d="M392.0 288.5L468.0 269.0L410.0 242.0L334.0 261.5z"/><path d="M392.0 287.5L468.0 268.0L410.0 241.0L334.0 260.5z"/><path d="M392.0 286.5L468.0 267.0L410.0 240.0L334.0 259.5z"/><path d="M392.0 285.5L468.0 266.0L410.0 239.0L334.0 258.5z"/><path d="M392.0 284.5L468.0 265.0L410.0 238.0L334.0 257.5z"/><path d="M392.0 283.5L468.0 264.0L410.0 237.0L334.0 256.5z"/><path d="M392.0 282.5L468.0 263.0L410.0 236.0L334.0 255.5z"/><path d="M392.0 281.5L468.0 262.0L410.0 235.0L334.0 254.5z"/><path d="M392.0 280.5L468.0 261.0L410.0 234.0L334.0 253.5z"/><path d="M392.0 279.5L468.0 260.0L410.0 233.0L334.0 252.5z"/><path d="M392.0 278.5L468.0 259.0L410.0 232.0L334.0 251.5z"/><path d="M392.0 277.5L468.0 258.0L410.0 231.0L334.0 250.5z"/><path d="M392.0 276.5L468.0 257.0L410.0 230.0L334.0 249.5z"/><path d="M392.0 275.5L468.0 256.0L410.0 229.0L334.0 248.5z"/><path d="M392.0 274.5L468.0 255.0L410.0 228.0L334.0 247.5z"/><path d="M392.0 273.5L468.0 254.0L410.0 227.0L334.0 246.5z"/><path d="M392.0 272.5L468.0 253.0L410.0 226.0L334.0 245.5z"/><path d="M392.0 271.5L468.0 252.0L410.0 225.0L334.0 244.5z"/><path d="M392.0 270.5L468.0 251.0L410.0 224.0L334.0 243.5z"/><path d="M392.0 269.5L468.0 250.0L410.0 223.0L334.0 242.5z"/><path d="M392.0 268.5L468.0 249.0L410.0 222.0L334.0 241.5z"/><path d="M392.0 267.5L468.0 248.0L410.0 221.0L334.0 240.5z"/><path d="M392.0 266.5L468.0 247.0L410.0 220.0L334.0 239.5z"/><path d="M392.0 265.5L468.0 246.0L410.0 219.0L334.0 238.5z"/><path d="M392.0 264.5L468.0 245.0L410.0 218.0L334.0 237.5z"/><path d="M392.0 263.5L468.0 244.0L410.0 217.0L334.0 236.5z"/><path d="M392.0 262.5L468.0 243.0L410.0 216.0L334.0 235.5z"/><path d="M392.0 261.5L468.0 242.0L410.0 215.0L334.0 234.5z"/><path d="M392.0 260.5L468.0 241.0L410.0 214.0L334.0 233.5z"/><path d="M392.0 259.5L468.0 240.0L410.0 213.0L334.0 232.5z"/><path d="M392.0 258.5L468.0 239.0L410.0 212.0L334.0 231.5z"/><path d="M392.0 257.5L468.0 238.0L410.0 211.0L334.0 230.5z"/><path d="M392.0 256.5L468.0 237.0L410.0 210.0L334.0 229.5z"/><path d="M392.0 255.5L468.0 236.0L410.0 209.0L334.0 228.5z"/><path d="M392.0 254.5L468.0 235.0L410.0 208.0L334.0 227.5z"/><path d="M392.0 253.5L468.0 234.0L410.0 207.0L334.0 226.5z"/><path d="M392.0 252.5L468.0 233.0L410.0 206.0L334.0 225.5z"/><path d="M392.0 251.5L468.0 232.0L410.0 205.0L334.0 224.5z"/><path d="M392.0 250.5L468.0 231.0L410.0 204.0L334.0 223.5z"/><path d="M392.0 249.5L468.0 230.0L410.0 203.0L334.0 222.5z"/><path d="M392.0 248.5L468.0 229.0L410.0 202.0L334.0 221.5z"/><path d="M392.0 247.5L468.0 228.0L410.0 201.0L334.0 220.5z"/><path d="M392.0 246.5L468.0 227.0L410.0 200.0L334.0 219.5z"/><path d="M392.0 245.5L468.0 226.0L410.0 199.0L334.0 218.5z"/><path d="M392.0 244.5L468.0 225.0L410.0 198.0L334.0 217.5z"/><path d="M392.0 243.5L468.0 224.0L410.0 197.0L334.0 216.5z"/><path d="M392.0 242.5L468.0 223.0L410.0 196.0L334.0 215.5z"/><path d="M392.0 241.5L468.0 222.0L410.0 195.0L334.0 214.5z"/></g>
<g fill="none" stroke="#1c1ce6" stroke-width="5.6" stroke-linecap="round" stroke-opacity="0.25"><path id="pc" transform="scale(0.1)" d="M4164 1991h0m0 3h0m-63-6h0m24-10h0m-60 10h0m33-22h0m-22 28h0m-66-2h0m23 5h0m-15-6h0m2 0h0m21-3h0m-50 7h0m-279 54h0m22-2h0m57-14h0m-18 10h0m57-17h0m12 13h0m-26-1h0m30 7h0m7-7h0m33 7h0m-11-25h0m-4 13h0m8 0h0m-15 11h0m67-30h0m14 30h0m-15-11h0m6-10h0m-30 22h0m-6 1h0m36-14h0m-26 7h0m-2-17h0m1 8h0m89 4h0m-24-18h0m1 20h0m18-3h0m-36 1h0m36 13h0m-7 1h0m-11-20h0m15 14h0m-16-34h0m12 35h0m1 6h0m12-2h0m-30-7h0m-17-9h0m56 18h0m3-28h0m37-1h0m-29 21h0m-10-36h0m21 40h0m-14 0h0m31-5h0m-18 5h0m5-41h0m-17 6h0m-5 23h0m8-33h0m19 48h0m-24-2h0m0 1h0m23-33h0m7 13h0m1-14h0m-13 26h0m16 9h0m-35-21h0m-6 5h0m31-15h0m-28 9h0m-7 2h0m67 14h0m-8-18h0m-12 15h0m-1-1h0m40-4h0m-8 8h0m-13 7h0m8-23h0m1 21h0m-1-6h0m-18-4h0m2-9h0m26 7h0m-14-27h0m-2 22h0m-14-8h0m-6-18h0m45 31h0m1-22h0m-19 30h0m-9 5h0m15-41h0m11 34h0m-30 0h0m27-40h0m23 3h0m-5 19h0m14-18h0m6 21h0m-19 21h0m14-34h0m-6 31h0m3-17h0m-12-1h0m9-4h0m13-8h0m-30 7h0m20 8h0m20 1h0m-19 8h0m-6-18h0m0 0h0m12 7h0m55 19h0m12-15h0m3-1h0m-15-4h0m-31-1h0m14 6h0m-11 4h0m9 12h0m-5-5h0m31-21h0m-20-18h0m36 35h0m12-6h0m16 15h0m-35-41h0m15 29h0m18-13h0m10 24h0m-42 0h0m56-2h0m-6-18h0m101 70h0m-43-24h0m8 5h0m-5-4h0m-54 26h0m22-2h0m-1-30h0m19 16h0m-37-15h0m36 28h0m-2-27h0m-2-3h0m2-8h0m-45 25h0m35 11h0m-7-12h0m-10 9h0m26-33h0m-43-2h0m42 12h0m-92 15h0m21-25h0m-2 22h0m3-9h0m-20-17h0m15 35h0m11 9h0m-16-13h0m28 5h0m-17-28h0m-7 11h0m17 14h0m-19-16h0m-12 15h0m-2-23h0m29 3h0m-4-12h0m4 20h0m8 20h0m-22-3h0m-35-7h0m6-22h0m-31 34h0m2-4h0m17-7h0m5-32h0m-12 16h0m-13 19h0m3 11h0m4-41h0m24 16h0m-18-23h0m4 45h0m-19-27h0m45-17h0m-8 20h0m-1-10h0m-30 1h0m35 3h0m-9 1h0m5 16h0m-31-17h0m-8-7h0m5 30h0m-54 6h0m3-37h0m29 29h0m-34-37h0m36 7h0m-13-1h0m-12 32h0m-7-7h0m36 10h0m-28-22h0m23 28h0m-31-36h0m19 20h0m-4 5h0m-16-8h0m20 16h0m19-43h0m-24 28h0m-7 19h0m1-36h0m-11-6h0m44 0h0m-15 30h0m-18-9h0m-12-23h0m23 39h0m-2-29h0m12 9h0m-29-11h0m17 34h0m3-37h0m-4 7h0m-48 30h0m8-41h0m-26 42h0m-4-7h0m21 5h0m26-23h0m-15 11h0m-8-17h0m2 31h0m-3-39h0m26-2h0m-41 33h0m5-25h0m28-10h0m0 26h0m-37-12h0m25 7h0m15-20h0m-21 6h0m16 15h0m-6 8h0m8 1h0m-5 9h0m-12-34h0m-18 28h0m12-10h0m17 1h0m-7-10h0m6-12h0m-31 15h0m-21-20h0m2 39h0m-13-13h0m8 15h0m12-15h0m-11 18h0m-11-19h0m-15-9h0m33-8h0m11 20h0m-7 3h0m4-28h0m-17 17h0m10-10h0m10 35h0m-46-22h0m1-8h0m38 0h0m6 21h0m-18-29h0m-15 16h0m-6-16h0m26 39h0m14-25h0m-40 20h0m35-42h0m-16 41h0m4-7h0m7 11h0m7-15h0m-12-4h0m-9-20h0m17 13h0m-42 13h0m-32-12h0m-8 2h0m-2-1h0m42 21h0m-32-33h0m22 30h0m-36-34h0m33 6h0m-9 10h0m-2 22h0m-8-6h0m8-38h0m-12 27h0m28-26h0m-10 6h0m-14 26h0m-5 2h0m34-3h0m-6-19h0m-7 33h0m-5-15h0m-43-22h0m-25 35h0m-10-11h0m22 0h0m12 8h0m4-34h0m-32 30h0m-6-19h0m13 18h0m24 1h0m-34-7h0m43-28h0m-36 38h0m-27 1h0m-29-13h0m41-23h0m-8 42h0m-36-42h0m23-5h0m16 39h0m-6-38h0m-8 13h0m1 19h0m18 0h0m-38-32h0m19 42h0m-23-31h0m14 12h0m0-4h0m-7-2h0m18 22h0m21 0h0m-27-5h0m-30-3h0m-32 13h0m-8-31h0m42 24h0m-13-1h0m-11-18h0m2 20h0m2-21h0m17 8h0m-17 6h0m13 13h0m-6-44h0m-24 37h0m28-35h0m-3 9h0m-3 11h0m-16-20h0m-5 32h0m-42-17h0m25 15h0m2-30h0m-37 39h0m29-37h0m-2 25h0m7 2h0m-23-9h0m11 22h0m11 3h0m-8-31h0m-24 29h0m-7-34h0m48 25h0m-9-1h0m9-24h0m-84 14h0m31 19h0m-36-6h0m19 0h0m8 9h0m3-23h0m-27-1h0m-43-6h0m3 8h0m-29 5h0m-6 0h0m-25 13h0m-19 4h0m-198 36h0m-10 11h0m44-5h0m2 3h0m12-18h0m-11 23h0m63 0h0m-30-21h0m16 5h0m-29 16h0m36 0h0m9 1h0m-11-37h0m-35 6h0m40 0h0m-4 31h0m55-11h0m-18 11h0m-9-16h0m12 4h0m-15-1h0m3 11h0m15-40h0m-13 39h0m28-22h0m-4 10h0m15 2h0m30-34h0m9 3h0m-41 11h0m1 3h0m15 15h0m11-18h0m15-8h0m0 0h0m-17 32h0m61-12h0m-39-18h0m42 27h0m3-26h0m-34 35h0m17-44h0m0 23h0m-16-15h0m-4 33h0m16-30h0m2 22h0m9-1h0m9-32h0m-1 46h0m-18-39h0m-16 1h0m-3 4h0m32-14h0m0 34h0m12-5h0m14 11h0m5-6h0m4 4h0m14-13h0m10-1h0m-31-12h0m30 14h0m-36 16h0m24-29h0m-18 16h0m2-3h0m-16 13h0m31-28h0m0 14h0m22 1h0m27 22h0m-9-43h0m22 19h0m-9 24h0m-23-6h0m15-40h0m-9 20h0m-10 16h0m-1-37h0m27 48h0m-4-15h0m9-31h0m-3 43h0m-20-41h0m6 35h0m1-23h0m-9 3h0m31-2h0m-17 22h0m-21-13h0m1-5h0m34 11h0m5-15h0m-5-6h0m24 29h0m16-35h0m6-1h0m-29 33h0m37-18h0m-21-16h0m3 41h0m15-8h0m-2-27h0m-8 17h0m-9 16h0m-8-39h0m-18-4h0m27 43h0m19-24h0m-18 21h0m8-25h0m-33 26h0m-3-30h0m31 35h0m-3-1h0m12-42h0m-15 31h0m42-22h0m24 37h0m-18-1h0m-21-7h0m6-21h0m37-2h0m-33 29h0m31-11h0m-29-8h0m26 16h0m-32 1h0m11-26h0m3-5h0m-6-9h0m-11 16h0m33-12h0m-31 24h0m38 3h0m2-36h0m-9 16h0m8 10h0m0-26h0m-5 8h0m34 36h0m6-7h0m-23-28h0m16-2h0m-17 19h0m22 5h0m16-14h0m4-9h0m-8 26h0m-3-23h0m-31 3h0m-6 9h0m-1-18h0m23-3h0m25 34h0m-16 3h0m-12-24h0m-5-6h0m-5 31h0m32-14h0m-34-22h0m33 14h0m-17 13h0m-3-22h0m48 37h0m11-15h0m-21-25h0m38-5h0m0 9h0m-1 33h0m-30-33h0m4 24h0m13 12h0m-14-36h0m-5-8h0m34 11h0m-12 1h0m-11 31h0m20-15h0m-15 4h0m-30 5h0m36-9h0m-33-25h0m34 32h0m-7 9h0m-20-38h0m20 10h0m-27-3h0m37 26h0m-7-13h0m-25-25h0m24 5h0m-3 8h0m0 4h0m4 15h0m15-28h0m-27-1h0m8 27h0m15-17h0m4-2h0m-2 34h0m-40-7h0m-5 0h0m11 5h0m13-44h0m36 46h0m38-4h0m-20-8h0m0 9h0m16-35h0m-39 8h0m22 25h0m21-10h0m-21 15h0m-6 0h0m-2-26h0m-4-8h0m11 3h0m-13 26h0m24-25h0m8 23h0m0-40h0m-11 22h0m-1 18h0m-28-7h0m23-9h0m-20-24h0m2 8h0m28 22h0m-11 10h0m-2-14h0m21-6h0m-43 15h0m44-36h0m-9 28h0m-20 2h0m17 8h0m3-34h0m-35-1h0m21 31h0m21-12h0m-5-7h0m2 13h0m-29 2h0m48-5h0m-5-11h0m40 7h0m-6 17h0m-25-27h0m-8 36h0m-6 0h0m1-13h0m20-23h0m-19 2h0m40-3h0m3 21h0m-35-19h0m-4 28h0m26-7h0m9-2h0m5 9h0m-45-33h0m23 7h0m-14-1h0m-11 11h0m15-7h0m26 15h0m-30 8h0m5 9h0m13-33h0m17 32h0m-2-4h0m-38-39h0m9 43h0m19-8h0m-2-8h0m-12 11h0m-12-5h0m35-32h0m-20 29h0m-4 14h0m-20-14h0m41-25h0m-24 4h0m74 12h0m-23 10h0m-1-19h0m3 11h0m27-11h0m-9 10h0m-24 4h0m21 12h0m-13-10h0m13-25h0m-22 15h0m-1 13h0m33 7h0m4-33h0m-22 23h0m-8-10h0m-19 11h0m49-22h0m-24-3h0m3 38h0m3-37h0m8 9h0m7 4h0m-19 19h0m-16 5h0m-2-10h0m5-31h0m-13 39h0m22 0h0m-22-11h0m15-31h0m3 33h0m-13-29h0m14 22h0m0-26h0m-17 8h0m32 30h0m-13-17h0m-11 8h0m20-1h0m-30 0h0m27-31h0m5 8h0m-5 8h0m-24-11h0m14 22h0m41-20h0m27 32h0m-11-25h0m16 16h0m-31-25h0m4 27h0m-5-3h0m2-25h0m11 29h0m2-9h0m-4-9h0m12 6h0m-11 18h0m-20-3h0m25 7h0m-19-17h0m36-10h0m-36 28h0m23-7h0m19-5h0m-4 4h0m-42 6h0m-1-1h0m22-40h0m13 13h0m-13 29h0m11-33h0m-28 12h0m-3 1h0m35 10h0m-11-4h0m13-5h0m-4-10h0m10 32h0m-14-11h0m-29-31h0m44 19h0m-13 13h0m4-32h0m1 3h0m-23 40h0m-2-2h0m18-29h0m-20 30h0m10-35h0m15 38h0m-11-28h0m-24 21h0m17-6h0m28 5h0m-13 4h0m-3-40h0m8-1h0m-22 42h0m56-17h0m-19-28h0m20 36h0m-2 7h0m2-12h0m-10-9h0m19 1h0m3 2h0m-24-6h0m9-15h0m-9 36h0m22-19h0m-9-22h0m-20 19h0m11-8h0m16 26h0m10 11h0m-41-43h0m18 13h0m21 28h0m2-14h0m25 13h0m-11-33h0m11-10h0m20 47h0m-5-18h0m11 13h0m0-3h0m5-3h0m-19-2h0m4-23h0m-17 15h0m5-10h0m-18-9h0m32 17h0m-17-18h0m2 14h0m18 21h0m7-20h0m-10-18h0m0 7h0m-9-8h0m-1 28h0m19-31h0m-4 20h0m-16 16h0m2 5h0m21 5h0m-2-33h0m-21 16h0m-12-7h0m20 25h0m5-42h0m-20 5h0m5-2h0m14 21h0m26 19h0m0-1h0m20-21h0m-25 2h0m-2-15h0m12-11h0m-10 25h0m27 10h0m-12-10h0m-11-13h0m30 16h0m-2 4h0m-39 0h0m27-29h0m-5 16h0m-18 5h0m27 8h0m-16 9h0m-4-44h0m39 43h0m15-24h0m24 17h0m5-16h0m-33-7h0m7 31h0m-8-9h0m38 2h0m-24 3h0m24-1h0m-3-34h0m2 22h0m-8 15h0m-16-31h0m19 3h0m29 16h0m-10-30h0m7 43h0m-8-15h0m-1-4h0m-5 12h0m37 3h0m-3-22h0m-36-7h0m-1 36h0m22-8h0m7-27h0m14 11h0m-30 26h0m27-8h0m-25-23h0m-4 27h0m86-12h0m-1-12h0m-1 13h0m-31-2h0m27 10h0m0 8h0m-34-26h0m13 19h0m-21-4h0m11-23h0m4 17h0m0-1h0m-5 6h0m74 9h0m20-3h0m16 2h0m-18-7h0m130 60h0m-81-3h0m-15-8h0m-19 0h0m3-9h0m-21-2h0m27 14h0m-24 1h0m15-21h0m8-14h0m-13 40h0m-53-14h0m4-27h0m22 2h0m-27 34h0m-7-9h0m47-2h0m-37 17h0m16 2h0m-27-29h0m6 26h0m5-11h0m22 4h0m3-24h0m-18-9h0m8 8h0m-9-6h0m10 3h0m-22 30h0m-23-23h0m-33 21h0m41-28h0m-40 15h0m25 22h0m10-17h0m-25-5h0m17-4h0m10 24h0m-1-16h0m6-12h0m-30 0h0m19-12h0m-14 22h0m15 5h0m5-7h0m-21 3h0m10 20h0m15-33h0m-31-15h0m-8 20h0m7 22h0m25-20h0m-33-10h0m44 9h0m2 2h0m-42 16h0m29 4h0m-40-32h0m2 11h0m-22-9h0m3 8h0m11-2h0m-5 17h0m5 10h0m7-41h0m-42 20h0m25 19h0m15-42h0m-40 38h0m38 8h0m-24-19h0m-6-26h0m5 9h0m-13 30h0m43-1h0m-15-25h0m-16-2h0m-16 27h0m2-26h0m25 25h0m-3-13h0m-3-16h0m0 22h0m-39-3h0m-11 8h0m15-21h0m4 28h0m-34-8h0m5 2h0m10-28h0m0 2h0m-18-13h0m15 31h0m17-12h0m-13 15h0m3 13h0m1-31h0m10 0h0m-28-2h0m25 15h0m3-22h0m-5 35h0m-21-43h0m33 15h0m0 33h0m-24-31h0m5 20h0m-14-8h0m35 6h0m-13 2h0m-33 1h0m-42-33h0m1 33h0m4 4h0m11-22h0m-2-16h0m22 39h0m-6 5h0m-12-15h0m6 10h0m-17-30h0m13-6h0m-21 42h0m24-35h0m-18 22h0m-7 8h0m13-16h0m3-28h0m-7 19h0m-2 17h0m34-2h0m-36-8h0m39-6h0m-6-15h0m-6 33h0m9-32h0m-5 33h0m1-11h0m-11-5h0m-14 14h0m10-33h0m12 9h0m-2 35h0m-19-41h0m22 4h0m4-2h0m-4-6h0m-40 19h0m-49 26h0m34-31h0m-5 4h0m2 20h0m-24-5h0m33-19h0m-35 20h0m34 9h0m-5-18h0m9 2h0m-7 13h0m-4-20h0m-6-9h0m-27 0h0m27 22h0m-26-11h0m35 8h0m-4-26h0m3 42h0m13-22h0m-16 13h0m-26-21h0m41 8h0m1 6h0m-15-30h0m-2 45h0m4-7h0m-27-33h0m21 3h0m-16 9h0m-9-17h0m37 11h0m5 1h0m-46 23h0m2 11h0m30-23h0m13-11h0m-7 1h0m4 11h0m-34 1h0m3-9h0m16 8h0m-15 0h0m21 18h0m1-45h0m-11 27h0m-19 20h0m23-3h0m12-43h0m-24 25h0m-59 18h0m37-43h0m5 19h0m-29-13h0m17 16h0m-36-21h0m14 28h0m0-13h0m0 3h0m-5-18h0m32 42h0m-20-14h0m-14-25h0m-6 43h0m10-39h0m-6-5h0m2 22h0m6 11h0m9 3h0m1-11h0m-4-27h0m-13 46h0m4-13h0m16-9h0m-12 21h0m-5-1h0m11-8h0m9-36h0m15 1h0m-15 43h0m10-1h0m-31-42h0m2 11h0m7 9h0m3-1h0m11-19h0m-8 29h0m-22-21h0m28 8h0m-14 27h0m9-5h0m6-22h0m-21-6h0m3 29h0m23-28h0m-18 13h0m19 17h0m11-4h0m-13-34h0m-31 39h0m24-25h0m-1-11h0m13 37h0m3-37h0m0 1h0m-2 8h0m-24 3h0m1 18h0m29-27h0m-32 28h0m18-39h0m1 10h0m-55 2h0m19 30h0m-19-3h0m14 2h0m-17-17h0m22-15h0m-42 30h0m38-26h0m-36 26h0m13-17h0m3-14h0m-3 17h0m-15-11h0m15-8h0m15 31h0m-21-13h0m-12-1h0m3 11h0m-4-12h0m43-16h0m-9 22h0m-26 10h0m7-33h0m4 22h0m-3 20h0m23-39h0m-25 27h0m3-6h0m7-7h0m-16-1h0m24-20h0m15 31h0m-11 14h0m-34-17h0m23-18h0m17-6h0m-37 5h0m35 15h0m-2 11h0m7-18h0m-6 29h0m-37-4h0m-3-43h0m37 45h0m-36-23h0m5 22h0m-1-3h0m4 7h0m15-24h0m-6 20h0m2-29h0m-17 11h0m21 13h0m21-21h0m-34 17h0m31-31h0m-12 19h0m-20-17h0m-5 2h0m18-6h0m9 14h0m-11-8h0m-7 32h0m6-14h0m21-3h0m-24 10h0m25-23h0m-59 14h0m16-10h0m-47 24h0m16-39h0m-3 8h0m-12 22h0m-2 8h0m17-16h0m24-9h0m-15 10h0m-5 24h0m13-1h0m-3-14h0m-1-17h0m-12 33h0m20-45h0m0 7h0m-14 13h0m13 15h0m-12-34h0m-4 25h0m2 19h0m-4-43h0m26 35h0m-21-28h0m-25-2h0m35 21h0m7-3h0m-18 10h0m-11 1h0m24-24h0m-21-1h0m32 20h0m-31 1h0m16-20h0m13-1h0m-4-4h0m-35 30h0m4-33h0m31 42h0m-34-28h0m33 27h0m-36-41h0m-1 12h0m36 2h0m-24 5h0m33-8h0m-13 14h0m-21-28h0m-15 18h0m43 22h0m1-13h0m-8 17h0m-43-8h0m-9-31h0m13 17h0m-41 21h0m14-24h0m-11-18h0m13 10h0m-17 28h0m33-25h0m-17-17h0m23 30h0m-13-10h0m-25-7h0m17-12h0m23 33h0m-28-32h0m14 23h0m-10 16h0m3 7h0m2-33h0m-23 13h0m38-3h0m0-8h0m-33 22h0m33-34h0m-33 22h0m-6-15h0m15 4h0m-1 8h0m-14 11h0m38-22h0m-20 13h0m-13-1h0m17-19h0m-5 26h0m-7-28h0m-7 5h0m18 16h0m-9-12h0m30-7h0m-29 5h0m14 3h0m0 32h0m-2-41h0m-20 6h0m17 15h0m3 14h0m-14-20h0m-10 27h0m36-19h0m-17 4h0m8-8h0m-11-17h0m28 40h0m-29-23h0m-13-13h0m38 37h0m-13-43h0m-3 41h0m-1-7h0m-14-10h0m6 10h0m10-17h0m17-11h0m-38 2h0m35 32h0m-33-30h0m-39 15h0m20-30h0m-21 5h0m-7 12h0m-5-10h0m33 23h0m-37 11h0m16-10h0m-2-10h0m13 3h0m-1 18h0m16 1h0m-45-44h0m36 9h0m-12 34h0m3 2h0m-6-6h0m12-27h0m-7 24h0m-25-33h0m28 46h0m14-17h0m-5-13h0m-31-1h0m17 23h0m-18-18h0m40-8h0m-39-5h0m35 8h0m-7-14h0m-29 35h0m18 9h0m8-21h0m14-10h0m-1-11h0m1 40h0m-9-17h0m-36-16h0m14 22h0m13 2h0m9-19h0m-35-1h0m24 16h0m11-4h0m-2-23h0m-11 3h0m-22 40h0m16-14h0m11-21h0m-2 35h0m-6-25h0m-20 0h0m9 16h0m24-18h0m-33-21h0m17 19h0m4-10h0m-5 33h0m-15-18h0m-35 3h0m-15-25h0m20 24h0m-3 3h0m24-26h0m-10 21h0m-34-25h0m45 45h0m-28-29h0m16 20h0m-4 11h0m-24-22h0m41 24h0m-25-37h0m2 24h0m-13-33h0m16 6h0m-3-1h0m-10 35h0m28-18h0m-34 20h0m36 3h0m-10-21h0m-22-19h0m13 20h0m5 14h0m-2 3h0m-11-12h0m24 15h0m-8-40h0m-32 12h0m40 12h0m-40 13h0m1 2h0m1-23h0m39 13h0m-2-2h0m-37 11h0m2-17h0m8 7h0m-13-10h0m-23-3h0m10 16h0m-15-11h0m-3-2h0m5-9h0m8 5h0m-18 15h0m12-34h0m-6 12h0m-7-10h0m-3-4h0m5 38h0m-14 2h0m31-4h0m1-16h0m4 20h0m11-16h0m-44-9h0m25 11h0m-28 13h0m8-4h0m36 5h0m-42-1h0m21-17h0m-15 11h0m15 14h0m16-6h0m1-32h0m-15 32h0m15-23h0m-5 3h0m-31 11h0m45-18h0m-11 28h0m-36-18h0m5 23h0m13-38h0m-7 4h0m0 29h0m31-12h0m0-18h0m0 36h0m-40-13h0m15-33h0m-66 45h0m13-26h0m13-3h0m12 10h0m2-13h0m6-2h0m-38 34h0m35-2h0m-6-8h0m-12-14h0m-25 2h0m16 17h0m6-30h0m-14-12h0m12 25h0m-18-5h0m11-10h0m-3 15h0m15 23h0m11-49h0m-2 15h0m-32 30h0m35-33h0m8 30h0m-31 7h0m-6-38h0m-9 22h0m40 1h0m-3 14h0m0-30h0m-9-13h0m7 0h0m-36 32h0m37 10h0m-34-1h0m1-25h0m-1 25h0m33-8h0m-12-16h0m-12-14h0m3-7h0m28 33h0m-16-27h0m5 37h0m-27-29h0m18 23h0m16-11h0m-59-20h0m-12 8h0m5-1h0m10 11h0m-11 7h0m12 15h0m9-37h0m-30 5h0m24-14h0m-11 45h0m17-18h0m-12-14h0m6 6h0m-6 23h0m-20 0h0m16-26h0m5-13h0m0 12h0m-12-5h0m18 32h0m10-9h0m-42 15h0m38-22h0m-21 15h0m-10-5h0m33-19h0m-8 13h0m-11-11h0m-15 26h0m33-3h0m-3-26h0m-5 20h0m0-5h0m0 16h0m-7-19h0m6 11h0m-12-27h0m3-10h0m-3 44h0m-6-31h0m20 30h0m-2-3h0m-12-32h0m-6 38h0m30-45h0m-66-1h0m-22 44h0m20-13h0m-5 6h0m19-3h0m-9-32h0m-17 30h0m20 14h0m-34-11h0m6-21h0m37 12h0m-18 19h0m-11-25h0m19-2h0m-33 19h0m10-16h0m-7 24h0m31-13h0m-18-30h0m11 22h0m16-27h0m-33 35h0m8-1h0m15-11h0m-3-9h0m-12 19h0m2-29h0m-20 27h0m16-8h0m-15-3h0m9-13h0m13 12h0m-22 13h0m32-3h0m-30 5h0m21-32h0m11 0h0m-23 4h0m13 22h0m-3-22h0m-50 3h0m-2 10h0m8-13h0m-15 24h0m14-13h0m-12 5h0m5 10h0m-6-31h0m1 44h0m28-5h0m-41-18h0m3 6h0m18-26h0m-14 42h0m18 4h0m-11-46h0m-1 14h0m29 7h0m-23-15h0m6 16h0m13-2h0m-10 5h0m-17-3h0m-2 12h0m-28 13h0m-20-15h0m30 12h0m-1-16h0m-9-18h0m-38 21h0m46 13h0m-23-10h0m1-21h0m23 28h0m-47-37h0m22 12h0m-8 7h0m-7 24h0m38-12h0m-44 12h0m39-13h0m-34-1h0m31-9h0m-27 7h0m30 15h0m-11-16h0m1-5h0m-11-3h0m1-2h0m-7-20h0m30 31h0m-40 13h0m2-16h0m0-13h0m-32 31h0m-11-38h0m31 1h0m-1 37h0m-29-16h0m14 6h0m5-34h0m14-1h0m1 13h0m-42 28h0m8 3h0m6-25h0m-19 27h0m48-9h0m-8-34h0m7 3h0m-37-4h0m16 11h0m-10 4h0m-14-15h0m9 37h0m-2 1h0m26-18h0m-5-2h0m-17 22h0m-36-5h0m-12-9h0m-10-20h0m-3 25h0m17-8h0m26 7h0m-40-25h0m0 34h0m9-3h0m11-28h0m-4 34h0m25-32h0m-45 27h0m3-40h0m44 34h0m-33-10h0m-9-3h0m43 8h0m-32-2h0m29 16h0m-17-8h0m13-26h0m-9 37h0m-3-31h0m11 10h0m-31 13h0m2-24h0m-48 16h0m31 13h0m-24 1h0m28-29h0m-2 1h0m-35 6h0m9-20h0m19 39h0m-11-16h0m-29-7h0m31-6h0m14 19h0m-32-31h0m21 44h0m-20 0h0m-4-30h0m37 9h0m-1 23h0m-33-19h0m-2 2h0m36-8h0m-36 8h0m15-28h0m-27 2h0m-23 44h0m-2-23h0m23-19h0m-7 6h0m-35-7h0m4 14h0m20 6h0m-56 20h0m18-43h0m-12 10h0m20-1h0m-20 9h0m-6 21h0m15-7h0m-1-34h0m1 2h0m1 15h0m-3-12h0m-28 30h0m30-22h0m-18 66h0m8-12h0m-4 17h0m16-29h0m-35 35h0m27-20h0m11 10h0m55 17h0m-7-38h0m-8 10h0m10 10h0m-2 9h0m-2-1h0m-26-8h0m-9 8h0m45-12h0m-17-23h0m11 6h0m-5-9h0m4 42h0m-22 6h0m-6-36h0m33 22h0m-27 1h0m45-28h0m-15 38h0m7-24h0m11 21h0m13-40h0m-4 4h0m-13 4h0m24-5h0m1 12h0m7 13h0m-39-16h0m17-13h0m-24 17h0m43 3h0m-32-3h0m3 22h0m21-16h0m-3 2h0m9-25h0m-39 44h0m43-41h0m-6 30h0m5 12h0m-19-23h0m43-3h0m31 14h0m-17-4h0m-19 8h0m0-2h0m15-3h0m-19-26h0m32 13h0m-41 24h0m28-21h0m-21-5h0m5 28h0m26-42h0m-23 36h0m0-33h0m-7-4h0m14 24h0m-21-11h0m1 5h0m16 11h0m-16-28h0m14 8h0m32 23h0m-21-20h0m4 31h0m44-39h0m-20 7h0m37-11h0m-6 25h0m0-6h0m5-22h0m-17 28h0m-7-27h0m15 39h0m-22 1h0m38-25h0m-7 4h0m6 19h0m-18-37h0m-17 27h0m11 19h0m-10-13h0m20-27h0m-17 17h0m-6-5h0m39-4h0m-48 14h0m42 5h0m-24-19h0m17 10h0m-13 3h0m-9-2h0m0-3h0m10 12h0m-17-17h0m37 7h0m-26-22h0m-2 2h0m15 21h0m-21 12h0m24-32h0m-7 31h0m13-15h0m-2-4h0m-2-9h0m-16 19h0m-3-8h0m7-8h0m65 6h0m2-4h0m4 9h0m-17 15h0m-4 5h0m-3-44h0m15 24h0m1-7h0m11 25h0m-8-20h0m-24 15h0m15 7h0m2-21h0m-3-8h0m14-10h0m-25 37h0m13-35h0m13 6h0m-24 33h0m-3-37h0m21 1h0m8 31h0m-19-20h0m-15 17h0m-12-28h0m8 23h0m21-5h0m2 9h0m16-2h0m-41 4h0m-2-8h0m39 16h0m-15-8h0m-24 5h0m16-28h0m-12 0h0m3-10h0m33 3h0m-13 34h0m-31 1h0m37-36h0m0 18h0m2 10h0m-23-36h0m78 33h0m-35 11h0m20-28h0m-27 24h0m20-1h0m-14-34h0m24 2h0m6 16h0m-26 7h0m21-6h0m-1 14h0m-5-21h0m14 25h0m-5 5h0m10 2h0m-6-30h0m6 19h0m-47-9h0m19 15h0m-2-4h0m5-33h0m-2 16h0m-13 21h0m22-14h0m-19 3h0m-7-15h0m25-16h0m-2 22h0m16-19h0m5 33h0m-11-7h0m-19-22h0m17 8h0m6 17h0m-28-13h0m31 24h0m-8-43h0m-23 37h0m-1 3h0m-7 6h0m5-3h0m27-8h0m-32 5h0m1 3h0m12-20h0m29-6h0m-21 11h0m38-2h0m11 21h0m24-32h0m-2 13h0m-24 18h0m-14-44h0m35 0h0m-12-1h0m-22 40h0m28-25h0m-34-2h0m39 28h0m-13 2h0m15-12h0m-10-24h0m13 4h0m-46 8h0m39-15h0m-8 7h0m9 11h0m-16 4h0m5-5h0m0 22h0m9-40h0m-12-3h0m-19 6h0m25-5h0m16-4h0m-49 35h0m13 5h0m-3 0h0m15-7h0m5-18h0m-2 3h0m-20 12h0m32-1h0m-24-17h0m15 19h0m-6 12h0m1-12h0m-21 1h0m-4-28h0m14 34h0m32-25h0m-41 17h0m13-12h0m-9 22h0m38 0h0m19-30h0m-7 19h0m34-20h0m-31 22h0m-5-17h0m30-13h0m11 8h0m-29 11h0m1-12h0m20 12h0m-16 9h0m7-6h0m-7-16h0m18 42h0m-40-20h0m39 3h0m-33-9h0m39-15h0m-18 1h0m-26 40h0m34-22h0m-10-5h0m1 17h0m19-26h0m-8-3h0m-16 37h0m-8-8h0m25 10h0m-41-47h0m10 16h0m23-1h0m-4 0h0m-9-1h0m7 23h0m-9-26h0m30 15h0m-20-21h0m7 41h0m-15-24h0m13 3h0m-3-19h0m-3 33h0m2-27h0m-26 35h0m-3-8h0m41-11h0m-33-17h0m6 24h0m9 10h0m-7-8h0m56 9h0m9-24h0m-30-7h0m6-16h0m-1 28h0m37 11h0m-28-35h0m-4 1h0m8 42h0m-3-29h0m2-11h0m-14 3h0m-1 3h0m19 30h0m25 1h0m-16-41h0m10 12h0m-17 31h0m0-23h0m8-24h0m11 41h0m-36-13h0m18 5h0m-24 6h0m30-33h0m-11 12h0m-17 17h0m23-28h0m0 3h0m10 3h0m-18 21h0m7 15h0m-1-25h0m-7 20h0m18-25h0m10 1h0m-25 4h0m-8 21h0m35-8h0m-45-21h0m7 17h0m1-25h0m4 34h0m-14-6h0m16-10h0m29 15h0m-28-27h0m19-3h0m-25-6h0m38 32h0m-43-15h0m34-9h0m2 18h0m41 6h0m-11-5h0m-22-8h0m41 0h0m-8-15h0m15 31h0m-8-26h0m-16 29h0m10-35h0m-14 24h0m5-15h0m3 10h0m-9-3h0m10-21h0m19 41h0m-30-40h0m-5 15h0m29 23h0m-40-1h0m6-37h0m15 25h0m5-23h0m-23 12h0m10 4h0m34 20h0m-1-3h0m-45-13h0m3-7h0m43 30h0m-44-8h0m39-4h0m-1 9h0m-35-32h0m21 22h0m-15-8h0m9 17h0m6-45h0m-26 40h0m27-20h0m-3 25h0m7-15h0m-10 2h0m14 8h0m-18-9h0m-16-4h0m14 16h0m29-36h0m-42 26h0m32-20h0m-1 4h0m-29 32h0m39-34h0m-46-11h0m28 19h0m-11-12h0m16 14h0m11-3h0m-41-11h0m96 28h0m-35-7h0m28-18h0m-16-7h0m12 23h0m-11-28h0m-23 38h0m17-17h0m21-4h0m-30 4h0m-8-18h0m1 36h0m9-37h0m33 14h0m-34 2h0m-12 18h0m25-2h0m7-2h0m5-29h0m8 18h0m-22-5h0m-21 14h0m-3-17h0m28 8h0m-23-22h0m36 1h0m-8 11h0m-1 19h0m-21 14h0m38 2h0m-42-16h0m20-2h0m7-1h0m-7-29h0m12 9h0m-19 20h0m13-10h0m-7 4h0m-8 21h0m31-33h0m-35 35h0m23-33h0m-8 12h0m12 7h0m1-19h0m-9 20h0m-6 3h0m1-21h0m5-13h0m-27 5h0m38 22h0m-35-15h0m25 3h0m14 8h0m-19-12h0m5 7h0m-20-6h0m-11 30h0m36-10h0m28-26h0m18 2h0m8 38h0m-18-26h0m21 26h0m-45-19h0m16 20h0m24-14h0m-13-24h0m-28 29h0m43-31h0m-31-6h0m21 11h0m0-9h0m-30 41h0m2-8h0m24 9h0m-28-23h0m-1 16h0m33-27h0m-1 13h0m0-1h0m3-18h0m2 29h0m-7-21h0m-23 3h0m6 7h0m9 11h0m-22-9h0m43 0h0m-22 4h0m0-8h0m-18-13h0m42 1h0m-35 35h0m15-40h0m24 42h0m-40-10h0m24-23h0m-26 29h0m28-19h0m-27-13h0m40 22h0m-34-7h0m-12-12h0m26 17h0m14-30h0m1 20h0m-29-14h0m4-2h0m27 0h0m-37 2h0m22 7h0m10 25h0m4-34h0m3 4h0m-47 38h0m9-18h0m25-23h0m-31 20h0m33 2h0m11-15h0m-7-14h0m46 43h0m-7-39h0m-6 28h0m-17 5h0m42 5h0m-7-20h0m-13 0h0m10-13h0m-12 28h0m8-32h0m4 18h0m-37 12h0m33-7h0m8-11h0m-42-2h0m25 2h0m16-9h0m8 19h0m-22 7h0m19-10h0m-6-2h0m3 23h0m-14-30h0m5 1h0m-12-6h0m-21 9h0m41 20h0m-35 3h0m19-30h0m10 37h0m-31-45h0m31 17h0m-4-6h0m-21-12h0m4 23h0m26 16h0m-4-26h0m-26-5h0m35-11h0m-15 11h0m1 8h0m17-16h0m-29 10h0m28 26h0m-16-4h0m-8-28h0m-4-3h0m7 42h0m16-40h0m-4 27h0m-9 11h0m4-4h0m-30 6h0m28-35h0m-28-2h0m-4-6h0m48 39h0m-42-7h0m31-35h0m-12 17h0m-4-9h0m5-5h0m17 2h0m-2 35h0m-35-24h0m21 33h0m-13-11h0m5-30h0m-6 32h0m-1-35h0m3 26h0m16 4h0m4-18h0m8 15h0m-1 2h0m-33 6h0m5-38h0m-3 10h0m6 2h0m-11 27h0m21-32h0m47 32h0m22-2h0m-21-21h0m-23 14h0m-1-7h0m16-12h0m29 11h0m-31 15h0m12-2h0m15-20h0m-18 30h0m-3-21h0m-15 5h0m30-2h0m-1-14h0m-15 24h0m-15-20h0m-2-2h0m18-6h0m6 24h0m-26-9h0m38-21h0m-36-3h0m25 37h0m-9-4h0m-1-19h0m22 12h0m-32 7h0m21-21h0m-8 4h0m25 19h0m-46-27h0m36 36h0m-7-6h0m-19-1h0m34-16h0m-12-8h0m15 11h0m-26-22h0m9 31h0m-28-15h0m11 20h0m20-25h0m13-14h0m-33 24h0m23 21h0m-3-28h0m11-18h0m-17 32h0m70 2h0m-31-14h0m26-4h0m-22 9h0m-19 14h0m0-37h0m16 16h0m1 14h0m-17-7h0m22 5h0m17 14h0m-25-6h0m12-9h0m-9 11h0m19-7h0m11 15h0m-31-15h0m4-9h0m24-6h0m-6 27h0m-30-34h0m4 12h0m24-5h0m-8-13h0m16 5h0m-1-6h0m-28 4h0m18 10h0m-23-1h0m31 7h0m-37 11h0m20 6h0m14 5h0m-32-7h0m2-19h0m12 1h0m14 12h0m-9-21h0m0 18h0m10-10h0m3-6h0m-19 21h0m25-26h0m-2 6h0m-38 4h0m17 11h0m6 8h0m12-14h0m-13-15h0m9 10h0m-30-18h0m20 2h0m18 26h0m-8-19h0m-18 34h0m23-40h0m-41 14h0m2 1h0m31 28h0m-4-34h0m2-7h0m7-3h0m5 7h0m0 4h0m-43 22h0m3 12h0m22-12h0m-18-12h0m22 4h0m-2-1h0m-10-22h0m34-2h0m21 42h0m12-11h0m-22-14h0m24 6h0m-8 0h0m0 15h0m0-36h0m12 41h0m0-13h0m-16 7h0m21-25h0m-3-3h0m-23-4h0m26-6h0m-29 6h0m-10 17h0m13 19h0m-6-4h0m36-4h0m-31 1h0m8-33h0m3-2h0m-3 33h0m5-34h0m16 30h0m-47-31h0m2 14h0m46 19h0m-19-12h0m-6 11h0m24 16h0m-34-9h0m13-13h0m-24 8h0m23-4h0m0 18h0m-18-20h0m26-2h0m-27 5h0m4-23h0m25 20h0m-29-26h0m-5 7h0m42 36h0m1-33h0m-31-11h0m-7 23h0m43 14h0m-10 2h0m-27-15h0m20-19h0m-29 38h0m31 2h0m-1 2h0m-21-11h0m24 3h0m-9-9h0m-16-18h0m-1 26h0m7-25h0m26 25h0m-19-24h0m3 10h0m2 3h0m-8-7h0m-19 26h0m38-2h0m-12-17h0m5-18h0m-17-9h0m-7 1h0m11 44h0m-9-19h0m26-8h0m35 4h0m25-22h0m-20 9h0m-23 6h0m39-5h0m4 21h0m-12-22h0m3-3h0m2 3h0m-31 23h0m9-4h0m22-16h0m-24 7h0m5 17h0m24-37h0m-31 40h0m17-9h0m0-1h0m-15 4h0m23-12h0m-2-9h0m-22 26h0m7-31h0m-21-2h0m41 38h0m-8-22h0m-27 8h0m12 16h0m-16-29h0m26 18h0m0-19h0m-14-8h0m-3 19h0m-6 18h0m37-44h0m-1 15h0m-26 20h0m10-28h0m-5 14h0m-14-15h0m12 22h0m-19-10h0m41-3h0m-12 10h0m7 14h0m-6-19h0m6-13h0m-34 35h0m1-23h0m37-17h0m-22 38h0m6-36h0m-1-4h0m0 41h0m11-7h0m-11 5h0m4-39h0m-16 23h0m7 24h0m-13-48h0m37 20h0m6 21h0m-24-38h0m11 37h0m-15-27h0m-18 33h0m41-13h0m-40 14h0m40 1h0m-20-35h0m-13 27h0m33-8h0m52 14h0m-26-35h0m17 38h0m-21-3h0m1-23h0m24 22h0m-13-23h0m-8 3h0m18-7h0m-25 10h0m4-27h0m2 14h0m15-2h0m1 19h0m-32-16h0m33 3h0m-33 28h0m41-43h0m-9 20h0m-1 7h0m8-10h0m-25-8h0m12-9h0m-9 26h0m-19-24h0m0 38h0m11-27h0m19 24h0m-10-7h0m-14-1h0m4 0h0m10 8h0m-9 7h0m-6-15h0m22-5h0m22 3h0m-38-7h0m38 21h0m-21-36h0m2 17h0m-29 6h0m44-16h0m-22 28h0m4-5h0m-17-16h0m-8 22h0m20-4h0m2-33h0m-12 2h0m37 1h0m-20-10h0m6 27h0m-29-3h0m32-15h0m-6 38h0m-28-46h0m14 17h0m21 23h0m-21-22h0m-5-1h0m17-2h0m-23 25h0m87-10h0m-25-21h0m12 35h0m-18-19h0m14 19h0m17-42h0m-13 24h0m9 11h0m-12 4h0m14-41h0m-18 33h0m23-33h0m-27 9h0m-2 30h0m-12-7h0m1 6h0m10 1h0m-13 8h0m34-26h0m-3 11h0m-29-26h0m42 40h0m-32-36h0m-10 21h0m36-28h0m-1 44h0m-37-26h0m33 12h0m7 11h0m-3-27h0m-22-9h0m20 2h0m-11-8h0m-28 25h0m17 9h0m28-19h0m-2 13h0m-25 5h0m-11 8h0m2-27h0m38 11h0m-35 18h0m-6-27h0m-2 0h0m35-20h0m-37 18h0m-1-14h0m48 7h0m25 6h0m-20 7h0m-2-24h0m12 22h0m-14-5h0m24-3h0m4-4h0m12 15h0m-9 7h0m-23-6h0m-6-18h0m12 24h0m35-30h0m-9 47h0m-17-23h0m20-4h0m-18-21h0m-23 7h0m0 15h0m4-6h0m0-11h0m43 23h0m-48 3h0m31-23h0m-17 17h0m8-14h0m-16 20h0m28-26h0m8 22h0m-5 17h0m2-38h0m2 16h0m-13 12h0m-24-19h0m18 12h0m25 15h0m7-3h0m8-12h0m8-27h0m23 9h0m-6 28h0m-2-24h0m-15 22h0m16-2h0m-33-21h0m24 15h0m20-27h0m-27 29h0m-9-14h0m18 24h0m1-14h0m-14 3h0m32-16h0m-9 32h0m-24 2h0m24-26h0m-30 25h0m15-40h0m-8 21h0m13 6h0m3-15h0m6-14h0m-5 32h0m-6 0h0m15 7h0m0-1h0m-39 3h0m41 2h0m-16-31h0m10 17h0m-32-13h0m12 23h0m1-35h0m13 39h0m4 0h0m-34-38h0m7 29h0m35-37h0m-9 41h0m-16 4h0m18-12h0m-35 10h0m0-4h0m24-22h0m26-18h0m33 4h0m2 43h0m9-46h0m-18 35h0m-16-6h0m22-1h0m-13-22h0m7 14h0m-8-19h0m-16 43h0m27-37h0m-30 22h0m17 18h0m18-2h0m-28-4h0m14 7h0m-5-41h0m16 36h0m5-3h0m-35-38h0m42 13h0m-19 21h0m3 0h0m-21-13h0m19-17h0m-18 20h0m55-19h0m34 18h0m-42 8h0m25-11h0m-14 0h0m0 15h0m14-38h0m-3 15h0m13 10h0m5 4h0m-33 2h0m-12-26h0m39 18h0m-1-10h0m-27 20h0m13 11h0m-22-28h0m40 18h0m-21 9h0m-21-14h0m-1 15h0m68-39h0m10 30h0m18 13h0m-14 1h0m0 0h0m-26-43h0m17 20h0m22 9h0m-1 0h0m-24-32h0m-11 8h0m61 24h0m-11-17h0m1 31h0m12 0h0m26-12h0m-43 2h0m18-4h0m-13-8h0m40 19h0m0 32h0m3-9h0m-23-17h0m11 12h0m-35 27h0m25 6h0m-15-47h0m13 40h0m-13-14h0m26 2h0m-3-6h0m-61 7h0m-14-28h0m-14 46h0m42-1h0m6-9h0m-15-32h0m-19-1h0m9 27h0m4 12h0m-24-10h0m44 0h0m0 13h0m-9-7h0m-15 5h0m-12-29h0m5 23h0m5-19h0m-6 14h0m10-7h0m21 21h0m0-44h0m-4 15h0m-41-4h0m18 1h0m-42 5h0m4 21h0m-20-26h0m6 3h0m1 12h0m4-5h0m-21 5h0m7-29h0m-3 31h0m10-29h0m-13 46h0m7-25h0m-4 8h0m20 16h0m-1-4h0m-13-35h0m-2-4h0m32 29h0m5 13h0m-26-15h0m2 2h0m-5-22h0m-17 6h0m2-10h0m-3 32h0m26 1h0m-14-4h0m16-33h0m-2 7h0m-16-5h0m15 31h0m-15 4h0m32 2h0m-22-8h0m-16-10h0m30 3h0m-68-22h0m-11 28h0m24-4h0m-8-4h0m-15-26h0m-2 11h0m1 37h0m14-44h0m-9 8h0m27 2h0m-10-1h0m-2 13h0m2 8h0m10 9h0m12-2h0m-40 1h0m10-4h0m7-38h0m11 40h0m-37-2h0m5 3h0m-5-20h0m18 13h0m-6 5h0m36 9h0m-7-8h0m-23-18h0m25 18h0m-4-4h0m1-34h0m-10 0h0m-18 18h0m-1 19h0m21-29h0m-23 37h0m-13-22h0m-22 13h0m20-5h0m-7 0h0m-7-12h0m-21 10h0m0-19h0m-6 36h0m7-8h0m38-11h0m-42 5h0m23-31h0m-28 36h0m36 6h0m-32-39h0m35 25h0m-26-26h0m19 18h0m-5-13h0m-16 14h0m21-11h0m5 21h0m-28-34h0m16 32h0m-2-24h0m25 1h0m-40-2h0m2 23h0m-8-17h0m39 23h0m-9-1h0m-23-29h0m-4 17h0m37-8h0m-2 12h0m-19-24h0m-10 27h0m15-1h0m18 6h0m-14-11h0m-16-22h0m-12 16h0m28 21h0m-31-28h0m45 17h0m-16 2h0m-13-23h0m-1 23h0m25 4h0m-2-13h0m-3-11h0m-1 9h0m-24 19h0m0-13h0m36-18h0m-11 41h0m-23-29h0m-51 29h0m31-23h0m-19-11h0m-17 19h0m0-11h0m41-6h0m-24 9h0m-6-14h0m23 21h0m1-14h0m-22 15h0m28-23h0m-45-2h0m31 8h0m1 26h0m-25-41h0m-8 4h0m43 8h0m-33 34h0m14-28h0m15-4h0m-8 2h0m0 12h0m8 5h0m-27 12h0m-5-4h0m-1-14h0m0-26h0m38 32h0m-43-28h0m16 20h0m4-20h0m-6 26h0m31-32h0m-38 47h0m-1-14h0m24-27h0m13 0h0m-34 28h0m24-7h0m5-19h0m-26 40h0m13-27h0m2-17h0m6 3h0m-35 39h0m35-33h0m-14-5h0m-61 39h0m12 2h0m5-8h0m18-13h0m-11 17h0m-34-8h0m40 5h0m-26-10h0m17 10h0m-31-24h0m36-13h0m-5 3h0m-25 2h0m22 31h0m3 3h0m11-27h0m-4 7h0m-12 5h0m9-11h0m12-18h0m-11 24h0m-31-14h0m12 39h0m26-27h0m5 16h0m-28 10h0m9-13h0m-24 9h0m20-19h0m-14 8h0m33 4h0m-30 8h0m34-42h0m-4 41h0m0-19h0m-4 9h0m-2 10h0m9-25h0m-46 12h0m16 17h0m21-39h0m-13 30h0m21-21h0m-33 17h0m25-26h0m-26 32h0m26-29h0m-16 20h0m-4 13h0m-68-30h0m0 10h0m33-8h0m-4 4h0m16 1h0m-41 6h0m-4-14h0m21 22h0m5-7h0m2-8h0m5 7h0m15-13h0m-13 1h0m12 4h0m-39-13h0m18 32h0m-21-20h0m17-5h0m-8 1h0m-1-7h0m27 21h0m-16 13h0m21-20h0m-8-8h0m-10 21h0m-19-12h0m26 25h0m13-18h0m-47-3h0m26 11h0m-16-2h0m34-26h0m0 5h0m-31 29h0m-2 0h0m0-43h0m-5 7h0m8 27h0m31-26h0m-37-9h0m34 37h0m-42 1h0m4-13h0m38-2h0m4-15h0m-31 21h0m3 7h0m21-20h0m9 3h0m-36-12h0m21 14h0m-30-17h0m30 30h0m5 2h0m-18 8h0m-2-23h0m5-20h0m-13 4h0m14 27h0m-12-12h0m-11 28h0m30-14h0m-5-2h0m-18 3h0m35-8h0m-23 12h0m5-17h0m16-17h0m0-4h0m-21 11h0m29 15h0m-54 12h0m1-18h0m-12 15h0m-11 0h0m-9 4h0m24 3h0m8-6h0m-2-1h0m-33 13h0m32-25h0m-22-3h0m12 3h0m-29-19h0m15 34h0m19-18h0m-2-21h0m-31 9h0m12 38h0m29-19h0m-5 18h0m-30-2h0m22-13h0m4-29h0m2 26h0m1-9h0m8 5h0m-36 17h0m24-16h0m-4-6h0m3 19h0m-18 10h0m-2-24h0m2 16h0m15-4h0m7-12h0m5-6h0m-38 22h0m30-14h0m-27 2h0m25 17h0m-9-34h0m-20-6h0m6 17h0m6 9h0m14-4h0m-11-25h0m19 42h0m-9-39h0m-22 28h0m6-32h0m-11 19h0m39 2h0m-23 14h0m8 7h0m18-31h0m-12 15h0m-6-4h0m-15-4h0m6-17h0m-14 23h0m11-17h0m24 40h0m-31 0h0m2-30h0m30 8h0m-8-22h0m10 12h0m-41 21h0m42-34h0m-34 34h0m30-4h0m-30-27h0m19 34h0m-2 9h0m-4-10h0m24-9h0m-2-18h0m-8 14h0m7-11h0m-33 10h0m18-16h0m-21-6h0m28 41h0m-22-25h0m1 3h0m-13 18h0m39-13h0m-86 14h0m33-39h0m-15 11h0m9 18h0m-11-5h0m-20 2h0m29-22h0m-11-1h0m20 18h0m-7 26h0m16-27h0m-45 15h0m46-4h0m-28-31h0m-4 21h0m7 10h0m18 7h0m-4-32h0m-4 4h0m-19-7h0m5 16h0m29 9h0m-19-11h0m-18-9h0m-11 37h0m40-44h0m9 38h0m-15-20h0m9 15h0m-26-23h0m27 36h0m-23-31h0m27-2h0m-16 19h0m-5-26h0m-15-4h0m-10 40h0m31-11h0m-16 6h0m11-5h0m-10 6h0m-10-40h0m29 6h0m4-4h0m5 31h0m-18-32h0m-20 7h0m40 29h0m-36-24h0m27-11h0m-25 27h0m-13-13h0m31 29h0m-16-5h0m4-15h0m8-20h0m4-1h0m-16 12h0m2 21h0m16 11h0m6-17h0m-6-14h0m-26-6h0m13-9h0m22 13h0m-9-4h0m6 10h0m-15 25h0m-7 2h0m-17-6h0m45-39h0m-43-3h0m10 47h0m33-43h0m-30 22h0m11 6h0m9 10h0m-23-33h0m34 7h0m-18 3h0m-54 23h0m-9-21h0m-16 14h0m41-27h0m5 20h0m-24-19h0m-7 17h0m6 2h0m21 12h0m-30-35h0m11 13h0m-9 28h0m19-17h0m13-16h0m-1 23h0m-41 2h0m9 10h0m-2-40h0m28 12h0m-6 27h0m-4-7h0m-2-24h0m-8 13h0m3-29h0m6 7h0m-24 28h0m39-19h0m2 17h0m-2-11h0m-9 3h0m9-10h0m-34 9h0m2-2h0m-7 5h0m7-15h0m35 18h0m-18-17h0m-20-8h0m4-3h0m13 35h0m-6-2h0m-8 0h0m-6 5h0m41-40h0m-43 43h0m17-43h0m10 36h0m-13-35h0m-3 36h0m21-17h0m-30 9h0m34 6h0m-14 7h0m-12-5h0m-8-38h0m14 43h0m16-35h0m-2-3h0m-11 15h0m-19-7h0m42-2h0m-38 16h0m35 7h0m-39-4h0m38 18h0m-41-27h0m25 20h0m-4 7h0m17 0h0m3-14h0m-10-15h0m-8-13h0m16 18h0m-29 12h0m20-2h0m-16-10h0m20 9h0m5-23h0m9 17h0m-28 18h0m17-22h0m-12 15h0m-19-22h0m20-11h0m21 18h0m-38 26h0m-31-10h0m3-9h0m-24-7h0m24-16h0m-22-2h0m18 35h0m19-30h0m-24 0h0m-20-2h0m8-7h0m6 41h0m25-29h0m-38 21h0m15-18h0m-2-16h0m-12 32h0m13 2h0m-14-32h0m28 1h0m1 42h0m-23-37h0m26-2h0m14 32h0m-1-14h0m-43-10h0m5-10h0m35 44h0m-17-28h0m-16 24h0m34-43h0m-12 15h0m-11-2h0m9-14h0m-6 16h0m23 15h0m-7-9h0m-25 14h0m-16-15h0m9 4h0m28-7h0m-24 11h0m22 8h0m-24-24h0m19 15h0m-7-24h0m-13 9h0m30 20h0m-1 13h0m-12-40h0m-6-1h0m24 15h0m-18-3h0m5 30h0m-31-43h0m25 34h0m14-13h0m-17 0h0m-3 18h0m23-40h0m-37 25h0m26-18h0m6-1h0m6 23h0m-43 9h0m10-25h0m28 26h0m-32-11h0m7-19h0m13 37h0m10-4h0m-37-41h0m24 14h0m-23-14h0m41 4h0m-11-8h0m2 14h0m5 9h0m-12 23h0m-9-23h0m-7-23h0m29 6h0m6 21h0m0 19h0m-7-30h0m-31-10h0m-26-5h0m10 22h0m-3-12h0m-1 13h0m-13 6h0m-22 8h0m39-12h0m-13 3h0m-28-7h0m39 10h0m-19 17h0m20-22h0m-8 9h0m-19-4h0m13-6h0m12 21h0m6-45h0m-20 33h0m-22 2h0m22-32h0m14 5h0m-14 24h0m-11-5h0m-4-10h0m-3-9h0m22 18h0m10-26h0m-9 39h0m15-1h0m-29-23h0m19 8h0m-26 7h0m29 14h0m-25-7h0m22-31h0m-28 31h0m22 6h0m6-15h0m-29 16h0m24-15h0m11 3h0m-4-17h0m5-3h0m-42 18h0m23 6h0m19 2h0m-16-17h0m21 23h0m1 1h0m-34-31h0m-10 16h0m39-32h0m4 3h0m-15 36h0m-3-37h0m-20 17h0m10-9h0m-8-9h0m-9-1h0m44 14h0m-41 6h0m43 22h0m-23-38h0m12 5h0m-30 7h0m27-15h0m-23 13h0m-5-1h0m40 14h0m-31 5h0m34 6h0m-31-38h0m20 27h0m-38-7h0m3 18h0m36-36h0m-17 6h0m-7 38h0m18-17h0m5 2h0m-14-7h0m2 10h0m16-22h0m-14 11h0m4 6h0m11-9h0m-17 21h0m11-23h0m-12-17h0m14 33h0m-13-18h0m-6 8h0m16 8h0m-6-15h0m19 20h0m-85-10h0m13-3h0m16 25h0m-26-5h0m21-38h0m-23 26h0m-5 15h0m-8 0h0m18-4h0m17-19h0m-2-3h0m-24-19h0m-8 19h0m45 20h0m-33-18h0m1 8h0m-5-21h0m38 23h0m-18-23h0m9 18h0m-3-25h0m-31 33h0m17 9h0m7-31h0m-30 30h0m29 0h0m-15-39h0m5 20h0m-15-19h0m13 16h0m25 12h0m-22-28h0m27 10h0m-32 26h0m-2-23h0m35 0h0m1-18h0m-26 34h0m10 10h0m-16-22h0m13-4h0m-9 15h0m4-24h0m11 7h0m-31 30h0m9-18h0m2-15h0m30 25h0m-2-35h0m-2 15h0m1-17h0m-36 19h0m12 24h0m15-5h0m-26-37h0m34 44h0m-26-26h0m-16 25h0m48-12h0m-36-16h0m8 14h0m1-31h0m5-1h0m20 22h0m-16 21h0m-19-21h0m-5-22h0m42 25h0m-32-19h0m17 13h0m15 3h0m-7 1h0m-34 23h0m9-44h0m-15 37h0m47 4h0m-20-17h0m9-7h0m-11 30h0m10-49h0m7 0h0m-7 45h0m1-36h0m-21 15h0m-10 12h0m-2-16h0m-1-17h0m46 28h0m-4-29h0m-41 11h0m1 32h0m1-41h0m-55 7h0m45-3h0m-24 37h0m-20-26h0m6 7h0m-3 22h0m36-1h0m-33-30h0m9-4h0m14 1h0m-18 30h0m0-20h0m25 25h0m-36-46h0m9 8h0m-11 25h0m7-35h0m31 2h0m-28 26h0m-5-17h0m-2 6h0m43 29h0m-17-30h0m-25 7h0m15-3h0m30 14h0m-19 12h0m10-43h0m-30 10h0m16-13h0m0-1h0m-18 42h0m28-37h0m1 39h0m-4 3h0m-32-35h0m23 30h0m12-33h0m-11 24h0m24-26h0m-35 27h0m12-30h0m-3 35h0m0 3h0m18 2h0m-16-39h0m-10 12h0m31 15h0m0-9h0m-10 10h0m-29-22h0m28 29h0m3-15h0m-35-18h0m21 5h0m-22 17h0m-2-10h0m44 24h0m-21 0h0m-22 6h0m0-34h0m1-3h0m43 10h0m0 7h0m-36-3h0m36-5h0m3-10h0m-2 19h0m-41-20h0m10 25h0m6 12h0m5-40h0m-9 31h0m30 7h0m1-15h0m-3-22h0m-20 14h0m-13-15h0m-3 34h0m1 7h0m-17-13h0m2 11h0m-6-36h0m-24 34h0m15-29h0m-9 12h0m-12-12h0m26 29h0m-29-5h0m43-36h0m-18 19h0m15 18h0m-9 9h0m-10-2h0m-20-25h0m33-2h0m7 13h0m-1-4h0m-7 2h0m7-15h0m-38 31h0m37-27h0m-38-7h0m-6 13h0m26-20h0m17 21h0m-33-16h0m31 35h0m-38-18h0m31-28h0m-32 34h0m36-22h0m-21-8h0m-2 3h0m-12 31h0m23-7h0m22-21h0m-38 29h0m25 0h0m2-35h0m-24 8h0m34 30h0m-41-30h0m15 12h0m13-8h0m14 23h0m-16 1h0m-27 3h0m3 4h0m36-33h0m-42-6h0m20 40h0m-13-46h0m4 47h0m0-11h0m6 4h0m18-34h0m-4 8h0m-15-8h0m4 6h0m18 7h0m-8-17h0m2 39h0m-35-33h0m46 28h0m1-13h0m-23 20h0m-21-18h0m7 14h0m34-24h0m-15 23h0m-57-24h0m-21 0h0m17-1h0m-14 4h0m20-19h0m18 38h0m-28 4h0m27-37h0m-26 29h0m1-31h0m-15 4h0m20 15h0m23-20h0m4 11h0m-2 30h0m-30-20h0m10-10h0m7 32h0m-28 1h0m28-23h0m14-12h0m-34 37h0m33-30h0m-8 17h0m-12-23h0m15 25h0m-19-32h0m1 15h0m-19 26h0m21-9h0m-5-31h0m19 28h0m4-14h0m-5 9h0m-31 8h0m31 8h0m6-14h0m-4-28h0m-29 30h0m19-18h0m18-6h0m-5 20h0m-7-15h0m6 6h0m-38 22h0m17-19h0m22 7h0m-25-21h0m21 13h0m-13 12h0m-10 10h0m10-43h0m13 5h0m-10 15h0m1 23h0m-30-41h0m42 41h0m-27-26h0m13 10h0m16 8h0m-11-12h0m-24 2h0m32-21h0m3 17h0m4-8h0m-31 19h0m0-28h0m-7 20h0m26 7h0m-6-27h0m0 10h0m-19 7h0m3 21h0m23-1h0m-25 0h0m-11-10h0m17-8h0m-1-22h0m6 32h0m5 9h0m-5-42h0m-45 6h0m-7 35h0m5-9h0m-26-15h0m4-12h0m35-4h0m1 34h0m-4-14h0m-24 8h0m27 19h0m-24-32h0m4 11h0m12 6h0m-7-25h0m-6 36h0m3-11h0m-21-22h0m13 17h0m36 4h0m0-30h0m-48 12h0m1 14h0m16 3h0m-6 10h0m-4-28h0m38 13h0m-42 15h0m5-22h0m-2-10h0m-4-3h0m39 28h0m-27-15h0m14 5h0m11 20h0m0-23h0m-22 15h0m30-16h0m-3-4h0m4 6h0m-7 17h0m-38 7h0m-1-26h0m22 8h0m-24 10h0m44-26h0m-5 25h0m-22-38h0m-15 19h0m4 19h0m36-23h0m-3-14h0m-19 46h0m14-7h0m-18-14h0m24 9h0m-33-32h0m1 31h0m10 2h0m-15-1h0m11-20h0m-14-12h0m39 28h0m0-7h0m-39 18h0m27-31h0m-1-2h0m12-7h0m9 1h0m-31 40h0m20-20h0m-50-13h0m-29 21h0m16-25h0m18-6h0m-18 3h0m6 31h0m-21 14h0m5-13h0m7 11h0m27-24h0m-12-18h0m-27 44h0m18-4h0m-2-23h0m19-16h0m-26 41h0m-4-30h0m21 32h0m-22-18h0m-10 10h0m41 7h0m5-2h0m-45 3h0m28-37h0m16 19h0m-12-3h0m1 7h0m7 0h0m-6-4h0m-14-14h0m22 16h0m-40-11h0m25-19h0m-19 25h0m19 2h0m-19 10h0m8-6h0m-11 6h0m38 1h0m-1 8h0m-2-25h0m-22-10h0m-9 24h0m32-4h0m-45 6h0m8-13h0m17-8h0m-2 7h0m12 10h0m-31 2h0m5 9h0m37-4h0m-38-42h0m19 39h0m15 0h0m-37-5h0m38-12h0m-2 18h0m-25 5h0m-13-10h0m9 12h0m26-26h0m1 16h0m-1 11h0m-35-35h0m19 21h0m3-10h0m7-7h0m12 10h0m4-9h0m-12-2h0m-68 8h0m24 8h0m2-29h0m-28 18h0m-5-17h0m12 4h0m-7 6h0m-2 18h0m15 16h0m-6-33h0m15 29h0m-24-21h0m28-23h0m-35 33h0m30-25h0m-17 16h0m-19 12h0m33 0h0m-28 7h0m29-35h0m8 16h0m-39-5h0m36 23h0m-16 0h0m-23-10h0m9 14h0m-9-9h0m10 4h0m26-2h0m5 9h0m-3-43h0m3-3h0m-38 34h0m24-25h0m-3 4h0m7-1h0m13 28h0m-27-8h0m27 14h0m-29-10h0m21-17h0m-18-7h0m-2 16h0m24-25h0m-25 34h0m16-37h0m-28 19h0m3 3h0m7 16h0m0 8h0m8-44h0m3 26h0m-25-14h0m20-4h0m5 24h0m-19-12h0m-22-20h0m15 13h0m-26-1h0m25 23h0m-9-31h0m-35-3h0m41 21h0m-34-23h0m16 29h0m9 1h0m-1-4h0m9-20h0m-8 9h0m-16 21h0m26-14h0m-39 7h0m12-2h0m17-26h0m-10 41h0m-11-20h0m33 15h0m-46-30h0m42-7h0m-9 4h0m-7 41h0m4-7h0m-7-3h0m-4-9h0m-19-13h0m31-11h0m14 28h0m1-27h0m-48 12h0m16-17h0m21 1h0m8 45h0m-29-31h0m27 11h0m-36-26h0m20 1h0m-25 30h0m35-32h0m-37 49h0m4-37h0m39 35h0m-37-27h0m35-19h0m-19 10h0m23 37h0m-41-19h0m34 15h0m8-5h0m-2 3h0m-4 2h0m-19-24h0m25 0h0m-9 14h0m-4-26h0m8 36h0m-35-27h0m25-17h0m-22 23h0m-4-11h0m3-7h0m32 41h0m-18-13h0m20 3h0m-32-29h0m32 38h0m-90-45h0m28 2h0m-1 10h0m0 26h0m3-32h0m-18 0h0m20 12h0m-1 23h0m-15-3h0m22 5h0m-33-4h0m27-38h0m-29 8h0m11-9h0m25 47h0m-5-9h0m4-14h0m-2-19h0m-32-4h0m15 22h0m7 24h0m-10-40h0m0 21h0m-13 18h0m0-40h0m34 11h0m6 10h0m-32-18h0m33 39h0m-44-41h0m20 32h0m11-25h0m-19 6h0m-10 3h0m-1 22h0m-7-28h0m-6 22h0m-33 5h0m14-43h0m-18 43h0m-3-36h0m38 5h0m-15 20h0m-8 15h0m-3-24h0m13-12h0m7 7h0m8-10h0m3 1h0m-14 10h0m-7-13h0m-9 41h0m16-20h0m15 1h0m-18-29h0m-19 35h0m24-19h0m5 21h0m-18-13h0m20-2h0m-32-4h0m-53 27h0m44-37h0m-27-5h0m26 30h0m-12-33h0m0 38h0m-9-2h0m-1-28h0m22 39h0m0-17h0m-6 19h0m-39-23h0m25-20h0m-18 32h0m22 11h0m13-17h0m-5-25h0m-76 33h0m34-12h0m-6 20h0m0-31h0m-7 1h0m16-17h0m-29 36h0m29 2h0m-6-21h0m-2 7h0m-30 3h0m37 0h0m1-8h0m-16 8h0m5-23h0m-22 15h0m6-12h0m19 12h0m-18-2h0m13 9h0m-26 1h0m-12 0h0m-16-4h0m-21-3h0m35 8h0m-8 7h0m-7 56h0m-24 3h0m39-23h0m-21-20h0m-1 24h0m38-3h0m25-11h0m-25-3h0m14 34h0m9 0h0m-22 2h0m19-18h0m13-23h0m-7 18h0m-11 5h0m19-14h0m2-9h0m-1 21h0m-3-5h0m-43 2h0m12 15h0m-9-5h0m28 12h0m-13-13h0m5-13h0m6-7h0m11-11h0m-16 5h0m31 28h0m17 3h0m-22 11h0m19-37h0m12-7h0m-11 22h0m-7 9h0m-10 9h0m16-6h0m-3-5h0m-1 8h0m-1-17h0m13-2h0m11 9h0m-12-14h0m8 22h0m8 2h0m-9-38h0m-14 43h0m3 4h0m8-11h0m14-21h0m-22 12h0m20-12h0m-31-5h0m-7 4h0m-1-14h0m0 33h0m20 9h0m2 3h0m-8-18h0m17 12h0m-31-8h0m43-18h0m-36-5h0m73 2h0m-29-9h0m27 23h0m-10 5h0m-6-6h0m-4 22h0m-9-39h0m12 17h0m-14 15h0m20-17h0m-3-19h0m2 11h0m20-13h0m-6 0h0m11 38h0m-18 8h0m18-6h0m-15-25h0m4 20h0m14-15h0m-11 7h0m-2 5h0m-4-33h0m17 6h0m-29 12h0m-4 9h0m25-23h0m-26 21h0m25 11h0m-29-26h0m75-2h0m-4-7h0m1 5h0m12 6h0m-2 20h0m-10 11h0m-28-3h0m8-5h0m-4-3h0m30 15h0m-37-24h0m43 4h0m-10-13h0m-28 20h0m-6-34h0m26 11h0m17 24h0m-41 2h0m21-7h0m14 3h0m-31-10h0m26-12h0m-24 25h0m28-32h0m3 0h0m-11 30h0m20-29h0m-33 22h0m24-6h0m-7-1h0m6-10h0m0 10h0m-30 20h0m24-34h0m16 42h0m-14-49h0m-28 48h0m28-8h0m14-21h0m-30 16h0m19 4h0m2 9h0m-7-5h0m-2 4h0m66-41h0m-44 8h0m16-2h0m1 26h0m29-10h0m-43-22h0m37 40h0m-23-12h0m18-12h0m-20 1h0m1-5h0m9-11h0m-5 33h0m-1-29h0m-12 35h0m27-28h0m-24 30h0m-6-10h0m37-27h0m-4-2h0m1 22h0m-9 15h0m-6-26h0m13 27h0m-31-46h0m9 38h0m33 3h0m-9-9h0m-33-8h0m-5-4h0m43 15h0m-17 9h0m5-42h0m-25 23h0m15-7h0m-3 21h0m15-5h0m11 1h0m-40 13h0m16-5h0m-20-25h0m38 20h0m-35 10h0m32-15h0m12-12h0m-27 4h0m11-1h0m-19-15h0m59 11h0m-12 17h0m17-19h0m-10 10h0m19 4h0m-13-13h0m6-20h0m5 46h0m-10-28h0m-2 11h0m20-1h0m-28-5h0m18 8h0m0-27h0m3 4h0m-20-4h0m-14 43h0m40-32h0m-26 3h0m-14 20h0m43 0h0m-22-9h0m19-24h0m-24-5h0m18 17h0m-14 24h0m7-3h0m16-31h0m-6 21h0m-21-4h0m21-1h0m-23-4h0m9 26h0m-2-17h0m-22-4h0m30 17h0m-12-27h0m27 35h0m-27-12h0m-13 9h0m9-16h0m25-10h0m-32-2h0m25 23h0m-2-28h0m-31-8h0m39 23h0m-21-4h0m13-4h0m-16-15h0m29 28h0m4-1h0m-20-8h0m11 25h0m-14-37h0m17-10h0m52 40h0m-15-5h0m15-7h0m-35 2h0m34 14h0m4-6h0m-23-10h0m1-19h0m24 19h0m-44 13h0m44-34h0m-47 27h0m6-30h0m34 21h0m-42-27h0m5 39h0m8-5h0m18-25h0m9 30h0m-10 10h0m3-12h0m8 1h0m-36-1h0m-4-7h0m33-10h0m-6 14h0m21-1h0m-40 15h0m8-32h0m-2-3h0m13 13h0m20 0h0m-20-19h0m17 4h0m-16 18h0m15-17h0m-27-6h0m9 12h0m-6-8h0m28 39h0m-17-11h0m-28-3h0m39-13h0m-26 26h0m13-41h0m-3 39h0m-9 1h0m-13-24h0m25 17h0m14-16h0m-19-17h0m5 25h0m-3-11h0m-11 28h0m22-49h0m-28 12h0m18 33h0m6-41h0m-16 11h0m24 32h0m-32-42h0m7 4h0m-5 40h0m31-6h0m-5-7h0m-1-12h0m-35-21h0m47 42h0m-35-12h0m33-12h0m-15 1h0m-12 12h0m8 13h0m8-39h0m-33 5h0m10 24h0m4 4h0m22-1h0m-23-9h0m33 18h0m-8-4h0m22-30h0m37-11h0m-25 19h0m-5-1h0m-3 0h0m3-14h0m-13 33h0m36-1h0m-30-25h0m0 29h0m-11-3h0m37-39h0m-14 31h0m25-33h0m-45 15h0m2 9h0m27 18h0m-22-17h0m22 9h0m-28-7h0m25 5h0m12 2h0m-30-1h0m36-14h0m-34-13h0m16 6h0m-27 18h0m34 9h0m-20-2h0m-2-3h0m-6-28h0m-6 42h0m20-12h0m9-25h0m13 18h0m-43 7h0m13 13h0m10-12h0m-6-19h0m-1 27h0m8-41h0m-4 5h0m4-7h0m-21 7h0m34 1h0m0 31h0m-14-34h0m16-5h0m-11 30h0m-22-29h0m2 46h0m7-47h0m-13 32h0m23-14h0m20-15h0m-46-4h0m43 7h0m-14 0h0m-21 21h0m38 12h0m-21 5h0m-4-32h0m13 13h0m-22 22h0m25-33h0m-1 15h0m-5 0h0m-29 4h0m34-27h0m-34 41h0m46-22h0m-49-13h0m39 14h0m-8 0h0m17 19h0m-38-10h0m39 7h0m-29-5h0m47-18h0m-9 1h0m28 25h0m-33-45h0m39 34h0m-3-2h0m-11-12h0m-28 2h0m42-8h0m-33-16h0m31 3h0m-24 15h0m5 15h0m27-11h0m-48 17h0m41-5h0m0-16h0m-26 7h0m-7-4h0m41 14h0m-29-9h0m8-3h0m-27-3h0m20-11h0m28 14h0m-48 16h0m21-1h0m15-6h0m-15 5h0m-12-11h0m-3-23h0m9 23h0m13-2h0m5-5h0m3 11h0m-21-10h0m32-17h0m-4 10h0m-18 13h0m20 20h0m-10-32h0m-4 5h0m-8 18h0m25-20h0m-5 11h0m-17 17h0m-4-35h0m-1 3h0m4 21h0m-21-31h0m23 8h0m-11-8h0m-14 3h0m17 11h0m9 16h0m3-8h0m-31-8h0m6-17h0m38 17h0m-41 1h0m45 8h0m-21 2h0m-8 3h0m14-31h0m-30 31h0m17 10h0m-18-14h0m4-21h0m31-5h0m0 35h0m-6-28h0m3 37h0m12 2h0m-32-15h0m28 11h0m-41-18h0m22-4h0m-19-15h0m5 30h0m7-9h0m24-27h0m-25 30h0m23 14h0m-17-43h0m21 29h0m-22-7h0m-12-21h0m11 29h0m29 2h0m-4 8h0m0-24h0m-7 10h0m-10-23h0m13 39h0m-21-42h0m-4 29h0m11 4h0m28 7h0m3-34h0m16 26h0m-13-33h0m1 35h0m37-6h0m-35-28h0m-3 14h0m0 13h0m6-9h0m-8 9h0m33-13h0m-5-1h0m-33-1h0m20 23h0m-11-4h0m28-3h0m-26 11h0m27-36h0m0 2h0m-31 0h0m-9 5h0m42 32h0m-16-25h0m-8 9h0m-6-9h0m17 9h0m-19-16h0m3-7h0m-8-1h0m24 10h0m3 8h0m-4-4h0m-14 17h0m-9-16h0m22-15h0m-20 34h0m12 11h0m2-18h0m-1 0h0m-17-7h0m1-10h0m32 7h0m-31 6h0m13-15h0m-1 30h0m-15-18h0m31 20h0m7-42h0m1 12h0m-22 24h0m24-8h0m-14-26h0m-23 35h0m6 2h0m33-23h0m0 2h0m-25-10h0m5 32h0m12 5h0m-37-46h0m2 46h0m32 2h0m-31-43h0m7 32h0m-6-30h0m-4 26h0m0 8h0m11-37h0m35 18h0m-21-8h0m21 19h0m-47 15h0m23-38h0m2-3h0m14 34h0m-16-39h0m30 14h0m35 5h0m1-5h0m-32-10h0m30 14h0m6 3h0m-33 1h0m15-18h0m-25 39h0m9-23h0m33 4h0m-30 18h0m19-40h0m-31 2h0m0 19h0m48-9h0m-18 20h0m9 6h0m-36-18h0m-1 6h0m33 2h0m-15 10h0m0-33h0m17 1h0m-29 22h0m35-10h0m2 16h0m-27-4h0m3-13h0m3 3h0m17-11h0m-7 1h0m3 32h0m-36 3h0m39-16h0m-21-11h0m2-14h0m-4-5h0m30 32h0m0-1h0m0 0h0m-45-7h0m1-11h0m18-3h0m-1 11h0m22-13h0m-33 21h0m31-11h0m-18 20h0m-17-36h0m-1 22h0m41-13h0m-8 7h0m-4-10h0m-15 28h0m-2-28h0m28-2h0m2 36h0m-1-10h0m0-8h0m2-27h0m0 1h0m-21-1h0m6 17h0m-4-1h0m-6-15h0m25 47h0m-17-13h0m9 0h0m-13 4h0m18-38h0m-30 4h0m-4 25h0m2-2h0m-5 18h0m-4-28h0m24-15h0m17 4h0m-2 24h0m-27-13h0m30-10h0m-41 41h0m3-41h0m-8-1h0m0 25h0m4-18h0m5 10h0m-6 0h0m22 0h0m-3 7h0m19 0h0m41-15h0m7 2h0m-39 26h0m23-30h0m-7-6h0m26 18h0m-20-19h0m-13 15h0m35 1h0m-31 22h0m-13-39h0m19-2h0m23 42h0m0-24h0m-11-8h0m11 3h0m-20 10h0m10-14h0m-17-10h0m-8 43h0m25 3h0m-10-31h0m19 19h0m3 10h0m-43-35h0m48-2h0m-36 36h0m30-24h0m-23 24h0m28-29h0m-39-10h0m39 42h0m-24-35h0m-22 10h0m38-9h0m-33 10h0m7 21h0m4-7h0m-6-26h0m23 0h0m-18 25h0m-12-16h0m29 13h0m-23-16h0m-1 10h0m33-15h0m-40 22h0m16 4h0m29-5h0m-35-9h0m-3-1h0m1-9h0m36 32h0m-43-8h0m20 5h0m16-19h0m-23-12h0m10 35h0m-23-46h0m37 12h0m-6 34h0m4-9h0m-17-25h0m2 7h0m-16 6h0m5 13h0m23-28h0m7-13h0m-3 39h0m-11 3h0m16-40h0m-41 36h0m-2 1h0m1 9h0m43-16h0m-36-24h0m-10 36h0m7-1h0m17 2h0m-24-23h0m3 3h0m12-22h0m13 37h0m64-22h0m-21-8h0m27 12h0m-2 15h0m-10 7h0m-25-5h0m30-32h0m-2 9h0m-34 9h0m22 8h0m-14-16h0m-13 29h0m20-11h0m-15-19h0m4-9h0m27 0h0m-23 1h0m34-3h0m-11-1h0m-24 40h0m32-24h0m-11-15h0m-32 43h0m-1-32h0m41 7h0m-40 17h0m27-20h0m-21-11h0m9 16h0m-5 11h0m32 1h0m-8-25h0m8 22h0m0-27h0m-3 42h0m-7-49h0m-2 1h0m8 13h0m-34 22h0m35 6h0m-36 4h0m-3-42h0m38-1h0m-39 36h0m23 3h0m-21-10h0m33-6h0m6-17h0m-16-9h0m-2 43h0m-13-10h0m26-33h0m3 16h0m-28 17h0m0-32h0m1 25h0m6-14h0m16 36h0m-32-5h0m41-2h0m-28-27h0m30-5h0m-32-7h0m18 29h0m-20 5h0m4-10h0m19-8h0m2-12h0m-28 27h0m18-30h0m16-3h0m-41 9h0m43-2h0m-13 18h0m1-25h0m-3 18h0m-17 19h0m31 9h0m6-17h0m-5-12h0m-18 26h0m-12-26h0m-11-3h0m-2 25h0m47-25h0m0 5h0m1-2h0m-38 24h0m87-30h0m-30 8h0m19 6h0m-11-25h0m20 10h0m-24 18h0m7-26h0m5-1h0m-10 7h0m9 31h0m-11-3h0m27-36h0m0 8h0m-45 40h0m0-17h0m16-30h0m13 26h0m-33 17h0m47-31h0m-13 4h0m-1-17h0m-7 1h0m-9 41h0m28-39h0m-41 38h0m10-31h0m35 39h0m-11-5h0m1-1h0m-16 1h0m3-22h0m-25-16h0m1 39h0m28-40h0m-26 10h0m9 23h0m4-37h0m14 26h0m2 15h0m-27 1h0m42-15h0m-29 19h0m7-10h0m17 9h0m-15-3h0m-20-27h0m13 13h0m23-24h0m-16-1h0m-10 29h0m13-5h0m-20 3h0m-4-21h0m27 21h0m-27-2h0m25-12h0m2-6h0m-12 12h0m8-7h0m-25 1h0m13-12h0m14 34h0m-31-31h0m8 2h0m36 34h0m-43-17h0m46-23h0m-8 17h0m8 1h0m-10-21h0m-29 40h0m5-30h0m20-11h0m-26 4h0m16 43h0m-1-44h0m-16 27h0m21 16h0m12-18h0m1-16h0m-25 7h0m-2 26h0m28-4h0m-6-41h0m-17 5h0m-3 40h0m12 2h0m15 1h0m51-32h0m-10 23h0m-25 6h0m23-34h0m-6 29h0m21-13h0m-40-6h0m36 7h0m5-18h0m-17 18h0m11-17h0m1 35h0m-11-8h0m8-14h0m-18 19h0m17-10h0m-8 13h0m4-41h0m-35 22h0m11 14h0m-6-2h0m12 3h0m0-3h0m20 1h0m-32-12h0m1 18h0m13-18h0m-2 19h0m7-10h0m0-8h0m-2-8h0m10-18h0m-22 32h0m-7 3h0m13-2h0m25-31h0m-29 10h0m-8-5h0m42-3h0m-10 23h0m-7-9h0m12-1h0m5 11h0m-45 2h0m40-10h0m-31-21h0m16 40h0m-16 5h0m-10-14h0m5 14h0m2-37h0m13 39h0m13-32h0m-14 13h0m11-27h0m14 0h0m-41 34h0m36 12h0m-26-37h0m26 36h0m-38-38h0m36 36h0m-2-4h0m-21-18h0m26 24h0m-40-43h0m37-4h0m-2 18h0m-5 27h0m-17-36h0m1 22h0m17-21h0m-10 32h0m18-41h0m-32 11h0m30-11h0m-18 30h0m0 0h0m-19-30h0m35 44h0m-34-10h0m7 11h0m34-16h0m1-2h0m-12-10h0m-4-16h0m-17 11h0m17 25h0m18-25h0m-34 16h0m-3 12h0m25-15h0m9 22h0m-4-17h0m-1 12h0m-21-13h0m27 16h0m2-20h0m-23 17h0m-19-43h0m-2 7h0m2 3h0m14 21h0m47-11h0m16-11h0m7 17h0m-15-23h0m16 36h0m-25-37h0m-8 6h0m18-3h0m9 1h0m-12 29h0m-5-34h0m-10 19h0m1 25h0m5-21h0m11-19h0m-15 25h0m38 11h0m-36-25h0m27-10h0m5 36h0m-11 5h0m-6-10h0m13-15h0m-31-12h0m11-6h0m19-5h0m-28 7h0m27 38h0m0 1h0m-25-36h0m25 14h0m-11 9h0m23 14h0m-37-16h0m10-31h0m2 47h0m25 2h0m-28-43h0m20 32h0m-32 4h0m39-9h0m-11 1h0m-26-28h0m20 14h0m0-20h0m9 26h0m-26 3h0m-2-15h0m14 14h0m-20-21h0m0-7h0m33 31h0m2 18h0m-20-20h0m-14-25h0m28 10h0m0 9h0m8 0h0m-39 6h0m10 15h0m-9-1h0m0-4h0m-3-8h0m10 15h0m39-42h0m-16 43h0m-13-17h0m6-9h0m16-17h0m-13 15h0m-20-14h0m5 6h0m34 36h0m-31-23h0m24 13h0m-29 9h0m35-25h0m-33-10h0m-4 7h0m38-16h0m-3 9h0m-14-7h0m-25 2h0m0 35h0m6-34h0m19 6h0m-18 0h0m21-11h0m-23 34h0m-6-14h0m36-3h0m-14 22h0m-20-29h0m-4 17h0m62 6h0m-11-8h0m8-5h0m17 12h0m-19 5h0m36-17h0m-4 25h0m-8-47h0m-17 2h0m6 1h0m-17 21h0m-5-3h0m18-8h0m30 1h0m-14-14h0m9 7h0m-1 4h0m-1 12h0m-4-8h0m-14 18h0m-3 1h0m23-27h0m-8 3h0m-5 35h0m-30-16h0m46-21h0m-34 36h0m30 5h0m0-11h0m-19 1h0m-15-7h0m29-2h0m-21 3h0m29-8h0m-1 21h0m-40-4h0m40-3h0m-17-16h0m-28-3h0m26 18h0m-7-25h0m-14-5h0m7-6h0m2 45h0m5-23h0m-19 18h0m35-3h0m-25 0h0m23-31h0m-20 20h0m5 17h0m9 3h0m4 0h0m-20-45h0m33 10h0m-8 17h0m-34-30h0m6 30h0m35-17h0m-29 36h0m27-35h0m-21 23h0m-9 2h0m9-32h0m-9 7h0m33 30h0m1-2h0m-14 1h0m-2-3h0m-25-4h0m2-23h0m28 26h0m-26 4h0m13-5h0m5-26h0m-6 2h0m-6 3h0m14-8h0m9 22h0m-37 18h0m35-10h0m2-6h0m-19 11h0m19-37h0m-11 34h0m-13 6h0m23-12h0m-26-14h0m38-19h0m33 16h0m-31-8h0m49-5h0m-48 29h0m45-33h0m-6 35h0m9-17h0m-5 19h0m-17-26h0m10-5h0m-36 39h0m1-12h0m27 11h0m-27-45h0m26 36h0m-9 13h0m28-5h0m-37-24h0m29 24h0m-12-38h0m-10 5h0m13 14h0m-27-4h0m19-18h0m16 31h0m-18-33h0m25 28h0m-10 5h0m-30-15h0m25 0h0m-1-17h0m-4 25h0m-21-19h0m-2 21h0m26 9h0m-14 10h0m20 1h0m8-48h0m-39 9h0m9 18h0m35 4h0m-26 13h0m28-23h0m-45-11h0m34-7h0m-38 4h0m7-1h0m-5 33h0m36-19h0m-25-14h0m-5-3h0m21-2h0m17 41h0m-19-6h0m-14-18h0m18 11h0m-2-25h0m12 41h0m-23-7h0m5-5h0m-9 4h0m21 0h0m-16-10h0m13 12h0m11-25h0m-11 17h0m-7 11h0m-5-10h0m18 10h0m6-12h0m-12-11h0m36-2h0m18 28h0m5-33h0m-39-3h0m18 12h0m-7 6h0m10-6h0m2 8h0m-5-6h0m23 8h0m-23 13h0m19-6h0m5-2h0m-30-1h0m-9 1h0m0 11h0m41-22h0m-38 1h0m7 6h0m-12 6h0m20-9h0m24-10h0m-29-3h0m-8 17h0m35 4h0m-7-15h0m-5 17h0m-19-1h0m-3-30h0m11 33h0m12-12h0m-3-8h0m-27-22h0m-2 37h0m27 5h0m-23-39h0m5 37h0m12-21h0m0 19h0m25-36h0m-27 7h0m-13 3h0m16 22h0m-14-34h0m22 9h0m1 27h0m14 9h0m-8-41h0m-3 26h0m-9-22h0m7 5h0m-5 25h0m-4-33h0m17 10h0m-31 26h0m-11-17h0m31 3h0m-11 2h0m16-7h0m-32-18h0m9 6h0m22 16h0m-30 12h0m6 9h0m-5 2h0m42-16h0m-25-24h0m69 13h0m-6-4h0m1-10h0m-19 20h0m24 16h0m-30-42h0m-2 33h0m33 0h0m-38-19h0m38-13h0m4 36h0m-21-16h0m14 18h0m-8-9h0m17 17h0m-7-34h0m-21 10h0m7 10h0m16 2h0m-29-21h0m-2 13h0m4-12h0m14 2h0m-30-1h0m14 16h0m18 5h0m14 9h0m-8-32h0m-26 21h0m5-11h0m-14 1h0m30 14h0m11-29h0m-38 36h0m22-9h0m-6-33h0m-22 41h0m18-39h0m14 17h0m14-16h0m-25-6h0m-16 25h0m-4 3h0m41-15h0m-28-1h0m-1-6h0m33 27h0m-30-1h0m22-14h0m-19-12h0m-20 11h0m8-15h0m-1 36h0m-5-9h0m26 13h0m-21-14h0m28-30h0m-33 23h0m20-9h0m-22 29h0m13-17h0m-6-12h0m32 0h0m-21 6h0m14-4h0m4 32h0m-35-34h0m31 34h0m-26-9h0m8-24h0m9-10h0m19 20h0m1-18h0m-40 11h0m15-4h0m58-2h0m-8 25h0m12 4h0m-2-3h0m-3 3h0m24 2h0m-10-27h0m-26 3h0m-11 11h0m-2-12h0m10-7h0m26 12h0m-25-24h0m19 49h0m-22-2h0m15-13h0m13 6h0m-26 1h0m8-29h0m26 2h0m-16 17h0m-5-31h0m5 42h0m17-1h0m-44-29h0m12 16h0m18-6h0m3 21h0m-6-3h0m6-35h0m-30 12h0m16-3h0m15 22h0m4 10h0m-11-36h0m-9 33h0m6-42h0m-1 13h0m-8 3h0m6-2h0m2 15h0m-19-15h0m3 3h0m-4 28h0m11-19h0m5 13h0m23 5h0m-14-34h0m-12-11h0m15 6h0m-4 31h0m8-35h0m-35 40h0m43-30h0m-1 18h0m2-7h0m-9 15h0m1-32h0m25 42h0m24-17h0m-32-12h0m14 7h0m17-21h0m-10-4h0m19 48h0m-43-28h0m24 18h0m0-30h0m20-5h0m-13 13h0m-20-1h0m8 26h0m28-34h0m-37 27h0m34 14h0m-17-43h0m-3-1h0m6 12h0m15 16h0m-19 7h0m-27-19h0m46-3h0m-10-2h0m-6 27h0m-8-11h0m-1 13h0m-5-14h0m-13 1h0m28-18h0m-5 34h0m9-29h0m-3-4h0m-30 2h0m13 20h0m-10-6h0m9-28h0m-7 40h0m10-32h0m21 37h0m-22-37h0m-13 29h0m33-37h0m8 30h0m6-33h0m4 41h0m-3 1h0m7 4h0m13-38h0m0 32h0m-19 3h0m25-28h0m7-5h0m9 1h0m-14-8h0m7 14h0m10-6h0m-39 33h0m24-43h0m-20 21h0m18-5h0m-14-17h0m-7 37h0m5-27h0m15 16h0m-24 13h0m36-33h0m-32 25h0m21-11h0m55 26h0m-32-13h0m26-28h0m4 36h0m-7-37h0m21 19h0m-25-23h0m-5 44h0m-7-40h0m-4 32h0m-5-2h0m32-9h0m5-15h0m10 16h0m-44 19h0m18-20h0m20-13h0m-6-4h0m-31-6h0m41 16h0m-28 8h0m0 18h0m30-25h0m-39 26h0m22-22h0m-27 11h0m27-12h0m-3-13h0m-12-6h0m13 42h0m-9-29h0m47 6h0m5 19h0m8-30h0m-4 5h0m-1 33h0m-15-31h0m-5 21h0m8 5h0m6-28h0m54 23h0m-32 41h0m-23-22h0m2 14h0m-14 14h0m30-32h0m-28 28h0m17-26h0m17-5h0m-79 3h0m-9 28h0m18-9h0m-18-11h0m5 16h0m32-18h0m-4 33h0m8-42h0m3 24h0m-32 8h0m-6-32h0m6 42h0m-4-9h0m-6-16h0m30-1h0m-32 0h0m14 5h0m-5-7h0m24 31h0m-17-46h0m17 7h0m-20 6h0m-15 5h0m35-12h0m-3 7h0m4-5h0m-53 18h0m8 7h0m-35 6h0m28-26h0m-14 33h0m24-16h0m-22-2h0m-2 14h0m4-31h0m20 23h0m-26 2h0m16-36h0m-33 15h0m39-2h0m5 23h0m-2 10h0m-11-41h0m-21 42h0m21-20h0m-25 13h0m15-4h0m-21-21h0m38 25h0m-13-19h0m-22 15h0m18-1h0m-16-28h0m12 31h0m-16-14h0m2-3h0m34-3h0m-25-13h0m21 4h0m-14 9h0m19-1h0m-26 12h0m-10-7h0m-49 2h0m-3-19h0m28 20h0m-16-2h0m-12-2h0m17 4h0m-18 0h0m21-13h0m-10 1h0m12 32h0m10-20h0m13 12h0m-4-36h0m-38 37h0m34-10h0m-12-16h0m12 37h0m-10-45h0m19 40h0m-22-29h0m2 4h0m-2-19h0m-23 44h0m24-3h0m-24 1h0m10-36h0m34 37h0m-35-10h0m34 4h0m-32-21h0m-6 30h0m33-36h0m-19 11h0m-3 4h0m-2-14h0m32 10h0m-21-2h0m-20-10h0m6 6h0m17-15h0m-25 11h0m42 10h0m-44-8h0m30 8h0m0-8h0m14 8h0m-29-8h0m-48-8h0m-8 25h0m-10-6h0m38-22h0m-25 2h0m28-2h0m3 46h0m0-10h0m-45 7h0m36-41h0m9 44h0m-37-44h0m1 42h0m-4-12h0m23 8h0m-5 1h0m20-15h0m-35-23h0m13 43h0m-3-34h0m27-6h0m-11 0h0m-2-1h0m5-2h0m-34 0h0m18 22h0m23 2h0m-38-7h0m6 19h0m35-33h0m-45 10h0m32-14h0m-35 11h0m9 16h0m23-18h0m-19-12h0m-14 15h0m20 8h0m22 23h0m-24-27h0m21 3h0m-26-5h0m-10 7h0m12 1h0m23 23h0m6-29h0m-3-1h0m-31 22h0m17-5h0m18 2h0m-23-17h0m5 6h0m-32-26h0m-21 9h0m-8 32h0m29-42h0m-39 5h0m26 17h0m12 12h0m-35-25h0m1 13h0m27-10h0m-15-10h0m8 44h0m-20-17h0m9-13h0m17 0h0m-18-9h0m-5 19h0m11 0h0m11-17h0m1 5h0m-19-8h0m13 7h0m-28-10h0m4 8h0m10 4h0m15 32h0m8-30h0m6 15h0m1-30h0m-30 11h0m-10 24h0m41-17h0m-16-1h0m5 19h0m8-36h0m0 27h0m2 10h0m-41-19h0m4-4h0m8 9h0m-12 19h0m10-6h0m4 6h0m-64-8h0m9 13h0m26-32h0m-29-11h0m4-4h0m34 23h0m-27-2h0m-20-10h0m6 20h0m32 5h0m-30-4h0m0-32h0m22 47h0m12-14h0m-4-20h0m5-13h0m-35 38h0m31-17h0m-18-22h0m16 0h0m-3 43h0m-21-5h0m10-37h0m13 14h0m-20 7h0m-18 6h0m7 9h0m12-12h0m7 13h0m-16 1h0m17-29h0m21 16h0m-24 0h0m11 15h0m0 0h0m5-29h0m-38 35h0m23-43h0m-3 12h0m-22 29h0m38-19h0m-36 14h0m33-10h0m-20-25h0m13 29h0m8-4h0m-8 15h0m2 2h0m8-2h0m-36-7h0m1-25h0m17 6h0m-18 17h0m40 11h0m-11-19h0m18-4h0m-8 1h0m3-7h0m-22 17h0m-18-27h0m8 37h0m9-37h0m25 34h0m-32-30h0m30 14h0m-22-17h0m13-9h0m-27 33h0m30-27h0m-8 32h0m14-11h0m-32 19h0m24-6h0m-7-24h0m-28-16h0m-2 29h0m-14 2h0m-3-5h0m9 1h0m-32 4h0m19 5h0m-22-4h0m6 7h0m31-12h0m-10-5h0m-5 26h0m-24-10h0m0-39h0m3 16h0m39-4h0m-6 18h0m-9 17h0m-4-29h0m-20 11h0m42-18h0m-28 9h0m-6-9h0m28-8h0m-6 14h0m9-6h0m-33 26h0m33-13h0m-29-20h0m24 24h0m-25 10h0m15-37h0m-4 26h0m-7 20h0m27-32h0m-46 3h0m11-9h0m7-7h0m12 24h0m-9 0h0m-9-23h0m-2 3h0m4 38h0m-10-5h0m-1 6h0m5-16h0m11-3h0m-7-10h0m17 3h0m1 29h0m-8-11h0m-12-33h0m15 16h0m15-3h0m-24 11h0m30 16h0m-42-28h0m7 18h0m-11-17h0m19 1h0m9 3h0m-23 1h0m-5-22h0m36 9h0m-24-9h0m-3 25h0m-10-20h0m39 19h0m-26-9h0m-4-12h0m2 17h0m-9-16h0m32 39h0m10-16h0m-31 9h0m31-19h0m-6 30h0m-23-12h0m3-3h0m-12 16h0m43-3h0m-28-32h0m-20 27h0m14-18h0m-35 23h0m6-43h0m-21 12h0m-15 21h0m17 8h0m14 4h0m-1-46h0m-22 20h0m41 18h0m-46-9h0m7-14h0m29-7h0m4 38h0m5-6h0m-33 6h0m13-20h0m-13-18h0m14 6h0m-26 16h0m1 18h0m1-26h0m16 4h0m6-6h0m11 23h0m-36-13h0m28-27h0m-3 43h0m8-25h0m-30-10h0m13 22h0m28-13h0m-46-4h0m40 10h0m-14-11h0m-26 3h0m4-13h0m30-1h0m-24-3h0m1 7h0m12 5h0m5 22h0m5-34h0m-22 40h0m25-42h0m-22 17h0m16 20h0m6-29h0m-14-4h0m-21 21h0m31-23h0m4 30h0m-14 13h0m7-1h0m-11-3h0m4-1h0m-19-19h0m12-18h0m-7 43h0m31-32h0m-29 20h0m-2 12h0m-1-8h0m36-7h0m6-4h0m-31-8h0m8 1h0m-16 1h0m32 24h0m3 2h0m4-39h0m-9 37h0m-1-35h0m-37 37h0m33-37h0m-29-7h0m10 33h0m26-11h0m-7-17h0m-33 7h0m17-10h0m-6 41h0m26-36h0m10-5h0m-9 16h0m-22 10h0m-7-24h0m2 23h0m21 6h0m0-2h0m-7-21h0m-9-12h0m23 3h0m-34 22h0m-1 17h0m4-23h0m0 21h0m28-6h0m-23-29h0m-4 21h0m11 13h0m25-36h0m-17-3h0m-4 47h0m-20-36h0m-5 16h0m20-19h0m26-1h0m-1 24h0m-38-26h0m-6 27h0m11-17h0m13 22h0m-11-27h0m-13 27h0m23 6h0m-14-36h0m31 31h0m-11-23h0m4-4h0m12 34h0m-34-23h0m8 0h0m-38 5h0m-22 5h0m-4 2h0m14 6h0m-19 6h0m8-13h0m1-33h0m-7 2h0m-3 21h0m35 5h0m-10 13h0m9 3h0m-25-3h0m2-9h0m10-15h0m6 21h0m-7 3h0m-19-40h0m25 43h0m13-14h0m-35 17h0m25-5h0m17-34h0m-22 33h0m15-23h0m-16 29h0m1-41h0m21 9h0m-13 31h0m-9 2h0m-23-39h0m47 17h0m-24 12h0m-1-31h0m9 4h0m-16 24h0m24 3h0m-36 9h0m-4-14h0m27-8h0m-19-18h0m-4 26h0m31-13h0m-2 24h0m-30-43h0m4 40h0m9-36h0m23 38h0m-38-28h0m46 32h0m-5-32h0m-15-11h0m0 23h0m18 10h0m-39-3h0m41 13h0m-5-45h0m-27 23h0m17-1h0m-3-9h0m18-10h0m-8 43h0m4-25h0m-39-21h0m13 23h0m-17-25h0m28 45h0m-25-34h0m45 11h0m-6 13h0m-16 10h0m-22-27h0m36-6h0m-38 19h0m34 5h0m-19-9h0m-16 4h0m3 2h0m41-2h0m-12 9h0m-23-20h0m30 13h0m-30-25h0m8 11h0m-5 1h0m34-20h0m1 17h0m-28 20h0m5-1h0m22 1h0m-15-25h0m-17 2h0m26 30h0m-32-34h0m10-1h0m12 19h0m1 8h0m-24-29h0m36 17h0m-16 20h0m0-17h0m18-12h0m3-3h0m0 13h0m-40 23h0m38-2h0m-11-8h0m-10-15h0m-18 19h0m26-18h0m14 0h0m-40-20h0m-26 27h0m-32-12h0m21 10h0m-8-29h0m30 31h0m0-9h0m-3 4h0m-37-8h0m44-19h0m-9 17h0m-19 5h0m-6 1h0m23-7h0m13-10h0m-12 43h0m-18-6h0m-15-27h0m18-9h0m8 22h0m18 0h0m-47-2h0m30 2h0m-14-23h0m3 38h0m-8-21h0m24-9h0m-9 31h0m8-44h0m-12 41h0m1-23h0m-21 29h0m24-26h0m-27-15h0m46 7h0m2 35h0m-36 0h0m11-30h0m7-15h0m-27 22h0m4 20h0m34-16h0m7-2h0m-47 17h0m4-30h0m10 7h0m9 19h0m16 6h0m-20-26h0m10 8h0m-25 6h0m32 10h0m6-20h0m-11 3h0m-29-15h0m34 21h0m-14-18h0m26 1h0m-35-3h0m26 23h0m8-14h0m-2 26h0m-25-14h0m-12 14h0m19-11h0m1-18h0m-12-14h0m17 43h0m-30-26h0m38 2h0m-37 10h0m-1-6h0m44-8h0m-24 7h0m-7 16h0m-16-5h0m14 0h0m14-11h0m18-11h0m-21 21h0m-15-19h0m1 8h0m25 1h0m-20 10h0m26 0h0m-34-14h0m18 25h0m-16-16h0m-7-10h0m28-16h0m8 9h0m-5 17h0m-25 2h0m38-34h0m-25 4h0m-2 0h0m-2 4h0m3 37h0m10-22h0m-19 1h0m-49 23h0m20-13h0m-2-34h0m2 10h0m-33 6h0m11 8h0m-11-13h0m26 2h0m21 21h0m-24 13h0m16-47h0m-20 43h0m-7-33h0m7-11h0m-11 4h0m19 40h0m21-25h0m-17 10h0m-20-18h0m6 25h0m-2-21h0m-15 2h0m2-10h0m7 33h0m26-13h0m10 19h0m-31-22h0m1 20h0m24-2h0m1-40h0m-8 35h0m15-8h0m-30 11h0m3-31h0m0-9h0m19 14h0m-24 20h0m22 1h0m-8-8h0m0 4h0m13-29h0m-34 7h0m25 39h0m-10-41h0m-10 28h0m20 7h0m-34-3h0m34-6h0m-1-24h0m-24 0h0m40-7h0m-9 11h0m8 13h0m-33-15h0m21 32h0m7-1h0m4-6h0m-5 2h0m-1-20h0m-36 5h0m43 9h0m-36-24h0m3 8h0m14 13h0m-14 10h0m5-36h0m3 24h0m-16-3h0m38 11h0m-45 6h0m17-9h0m1 12h0m-11-7h0m8-22h0m-11-14h0m-3 11h0m42-4h0m2 31h0m-7-17h0m-27-12h0m14 30h0m-22-35h0m23 4h0m-3 10h0m14 10h0m-16-28h0m25 29h0m-37-22h0m27 21h0m-33 8h0m26-20h0m-14 21h0m-12-15h0m6-11h0m26-3h0m13 30h0m-5-9h0m-10-24h0m1 23h0m-7-18h0m15 13h0m-7-7h0m-7 30h0m-12-4h0m6-20h0m-4-20h0m-4 45h0m9-35h0m-20 14h0m-9-25h0m-4 9h0m-35 23h0m4 2h0m39-27h0m-13-3h0m6 31h0m-40-14h0m10-22h0m-8 8h0m13 20h0m17-13h0m12 23h0m-21 6h0m-21-30h0m6 16h0m30-19h0m-18 3h0m13 2h0m-7 32h0m-10-43h0m21 34h0m-10-2h0m15-12h0m-4 19h0m-28-23h0m37-7h0m-12 20h0m-18-4h0m20-26h0m-16 20h0m-18-12h0m2-3h0m14 6h0m12 20h0m-2-3h0m-5 4h0m-15-12h0m19-9h0m1 31h0m9-45h0m-28 41h0m24-3h0m-24-27h0m4 9h0m20-17h0m-18-5h0m-4 43h0m7-32h0m16 17h0m-27 9h0m7-6h0m16 10h0m-7-17h0m-9 24h0m14-33h0m17-15h0m-19 8h0m4 14h0m-6 18h0m19-13h0m-29-8h0m17 11h0m-22-30h0m4 36h0m-5 10h0m7-12h0m-6 7h0m-3-21h0m10-2h0m-9 10h0m-4 2h0m-2-25h0m33 28h0m-19-16h0m-17-2h0m6 22h0m41 6h0m-26-20h0m3 23h0m24-12h0m-39-27h0m26 12h0m-8 20h0m-3 2h0m23-3h0m-34-28h0m1-3h0m-6 13h0m19-14h0m0 19h0m-11-18h0m15 30h0m12 11h0m-34-31h0m22 14h0m8-1h0m-2-27h0m3 22h0m-37-21h0m10 37h0m14-11h0m1-3h0m-21-3h0m9 4h0m13-1h0m9-25h0m-4 28h0m-28 13h0m41 2h0m-32-36h0m20-2h0m10-1h0m-5 42h0m-86-42h0m28 26h0m-20-28h0m10-2h0m-16 19h0m22-8h0m-27-10h0m21 32h0m14 5h0m-29-7h0m10-2h0m23-10h0m-33-11h0m35 36h0m-5-6h0m7-3h0m2 11h0m0-25h0m-4 14h0m6-15h0m1 3h0m-41 18h0m6-38h0m23 0h0m6 38h0m-21-30h0m3-3h0m14 23h0m-11-2h0m5 8h0m-27 0h0m2-19h0m20 21h0m16-21h0m-38-5h0m30-8h0m-36 32h0m2 0h0m4-4h0m13 9h0m5-4h0m25 5h0m-20-7h0m-14 4h0m2-29h0m-3 35h0m11-27h0m-13 20h0m-6-14h0m16 10h0m24-30h0m-21 20h0m15 3h0m-22-30h0m2 27h0m8-8h0m20 26h0m0-42h0m-31 15h0m20 15h0m-21-10h0m2-5h0m26 13h0m-36-27h0m-2 37h0m5-22h0m12 30h0m21-35h0m-25 7h0m-4 12h0m30 10h0m-24-10h0m23 2h0m-9 13h0m8-33h0m-42 3h0m28 20h0m-2-28h0m22-2h0m-16 8h0m10 31h0m-19-3h0m-21-6h0m18-37h0m-17 29h0m15 16h0m-8-24h0m16-21h0m-1 2h0m-11 30h0m6-19h0m13-13h0m-4 14h0m3 13h0m-27 1h0m27 11h0m-31-14h0m3 1h0m-3 9h0m27-8h0m-19-4h0m0-22h0m-10 11h0m11 3h0m-6 19h0m4-26h0m-9 1h0m4 1h0m11 8h0m34 20h0m-29-8h0m23-2h0m3 20h0m-83-8h0m28-31h0m-2-5h0m-31 19h0m13 14h0m14-33h0m-9 35h0m2-37h0m-2 40h0m-16-8h0m22-29h0m-5 0h0m-1 8h0m-13 16h0m33-18h0m-3 6h0m5 29h0m-14-8h0m11 10h0m-7-47h0m-31 24h0m39 3h0m-5-19h0m5-7h0m-20 44h0m-16-36h0m1 8h0m6 19h0m2-1h0m14 10h0m-17-11h0m11-9h0m3-18h0m-25 13h0m40 8h0m-27 3h0m11-11h0m-8 24h0m-6-3h0m13-9h0m-4 12h0m-21-28h0m33 6h0m10 7h0m-16-14h0m17 5h0m-37-19h0m39 37h0m-13-36h0m-21 15h0m27 11h0m6-3h0m-15-26h0m-13 16h0m-4 1h0m14 3h0m11-11h0m2 22h0m-29-27h0m-8 9h0m3-7h0m1 13h0m36-12h0m-18 9h0m15 15h0m-42-27h0m26 10h0m9 14h0m-32-10h0m20 26h0m-5-34h0m-4 28h0m-13-27h0m33 10h0m-4 9h0m1 12h0m-7 2h0m-16-10h0m-5 8h0m7-6h0m-10 4h0m5 1h0m33-20h0m-19 16h0m9 6h0m14-18h0m0 2h0m-40-4h0m-13 0h0m-32 21h0m14-22h0m19 24h0m2 0h0m-3-6h0m-39-32h0m19-7h0m0 16h0m12 21h0m13-16h0m-17 22h0m7-38h0m-32-7h0m11 32h0m25 2h0m-1 13h0m-9-13h0m-10 7h0m25-8h0m-23-15h0m10 19h0m-20 7h0m27 2h0m-31-14h0m39 9h0m-14 2h0m-20-10h0m6-13h0m22 16h0m2-35h0m-26 48h0m-14-8h0m32 1h0m-19-7h0m-14-25h0m1 9h0m46 4h0m-9-8h0m-6 15h0m-25 1h0m22-6h0m-18 23h0m9-10h0m-4-24h0m-15 10h0m34-6h0m11 24h0m-11-3h0m-11-7h0m-12-5h0m25-6h0m6-17h0m-31 19h0m27-17h0m-26 36h0m18-15h0m-29-21h0m6 21h0m38 17h0m1-42h0m-26 35h0m16-34h0m-35 3h0m32 28h0m2-6h0m-3-11h0m-6-10h0m-21 29h0m-5-32h0m4 11h0m42 6h0m-12-9h0m-68 35h0m27-14h0m-29 9h0m-12-24h0m45 9h0m0 11h0m-2-30h0m-36 32h0m-10-27h0m32-8h0m5 4h0m1 37h0m3-2h0m-40-20h0m35-16h0m-3 40h0m-6-6h0m-3-26h0m-9 17h0m20 7h0m-12-19h0m2 18h0m-15-36h0m0 14h0m-6-14h0m28 2h0m6 31h0m-24-9h0m-14 6h0m25-21h0m-13 15h0m-12 4h0m42-10h0m-17 27h0m6-42h0m-26 43h0m2-14h0m14 1h0m2 4h0m-1-20h0m-21 10h0m43-12h0m-43 17h0m37-9h0m-27-13h0m-4 35h0m8-24h0m-5-18h0m31 20h0m-16 8h0m-15 5h0m1-14h0m-7 4h0m17 20h0m-7-14h0m12-30h0m-2 18h0m-20-13h0m31 32h0m-5-6h0m4 10h0m-9-1h0m17-8h0m-29-21h0m30 21h0m-33-33h0m-5 7h0m40 34h0m-26-44h0m-4 31h0m21-17h0m-23 30h0m28-34h0m-30 34h0m11-25h0m1 19h0m8 10h0m-14-12h0m5-8h0m17 15h0m1-22h0m1 26h0m7-28h0m-45 20h0m20 7h0m-6-37h0m0-3h0m16 21h0m-30-28h0m30 47h0m7-42h0m-18-1h0m2 33h0m-21-32h0m5 9h0m20 15h0m4-14h0m16-13h0m-12 7h0m-61 36h0m11-9h0m3-32h0m-36 36h0m9-20h0m2 11h0m30 3h0m3-23h0m-11-1h0m8 5h0m-16 15h0m13 4h0m-2-23h0m0 7h0m-2 18h0m-32 2h0m33-12h0m-26 9h0m-1-19h0m34 29h0m-35-7h0m17 7h0m-22-27h0m3 12h0m34-29h0m-17 40h0m-23-11h0m6-14h0m9 6h0m-12-9h0m27 26h0m-1-39h0m10 46h0m-30 0h0m29-26h0m-17-7h0m10 31h0m4-2h0m-18-24h0m27-8h0m-21 24h0m-9 15h0m22-1h0m-25-42h0m-13 0h0m16 27h0m16 16h0m-32-43h0m43 18h0m-16-4h0m4 0h0m-6-17h0m16 45h0m-26-41h0m13 3h0m11 5h0m-13 2h0m16 24h0m-17-3h0m-11-12h0m32-21h0m-45 9h0m20-12h0m-17 16h0m34 25h0m5-6h0m-3 0h0m-28-8h0m-4-14h0m6-5h0m30 37h0m-32-28h0m-12 0h0m19 3h0m8 16h0m-14-20h0m-10-8h0m21 30h0m24-33h0m-28 11h0m-3-15h0m2 38h0m-2-25h0m22 32h0m-18-21h0m-20-20h0m43 15h0m-1 3h0m-22-23h0m26 40h0m-38-29h0m1 29h0m-61-36h0m38 38h0m-21-43h0m18 20h0m-31-9h0m32 33h0m-8-32h0m-11 30h0m-8-2h0m17-7h0m-2 7h0m-2-21h0m3 9h0m-4-28h0m-20 19h0m6-12h0m18 16h0m-18-17h0m30 28h0m-17-16h0m22 9h0m-3 9h0m-8 4h0m-6-39h0m20 45h0m-12-37h0m10 13h0m4-3h0m-18 26h0m18-24h0m-25-5h0m26-5h0m-22 26h0m-7-33h0m0 33h0m10-3h0m13 7h0m-1-19h0m-7-18h0m-20 31h0m-2 8h0m30-4h0m-38 9h0m25-7h0m-8-3h0m-2-19h0m17-15h0m9 37h0m-36-27h0m13-3h0m20 0h0m-21 37h0m19-31h0m-9-7h0m5 6h0m0 7h0m-20 20h0m33-21h0m-4-4h0m-42 7h0m36-13h0m2 15h0m8-22h0m-1-2h0m-9 45h0m-16-7h0m25-4h0m-54-38h0m-12 49h0m17-42h0m-16 8h0m13-3h0m-11 1h0m-21-3h0m21-9h0m12-1h0m-1 11h0m-32 19h0m-1 18h0m4-7h0m7 0h0m11-41h0m-29 24h0m19 25h0m-5-12h0m-4-8h0m6-20h0m1 5h0m21 30h0m-9-32h0m-18 3h0m10 32h0m13-27h0m8-18h0m-37 36h0m28-13h0m-27 8h0m-9-11h0m3-15h0m30 1h0m7 11h0m-8 10h0m7-17h0m-6 31h0m-10-29h0m16-13h0m-18 23h0m-4 1h0m24-25h0m-21 18h0m-3 18h0m20-24h0m9 2h0m-13 2h0m-12-3h0m13 1h0m-24 11h0m33-8h0m-21 20h0m-10 12h0m-5-44h0m5 10h0m17 33h0m-14-20h0m31 8h0m-12 1h0m-19 7h0m16-44h0m-7 0h0m-17 18h0m31-6h0m-4 4h0m1 31h0m-12-34h0m12 21h0m5 10h0m-74-22h0m20 3h0m4-9h0m-5-16h0m-2 1h0m13 44h0m-24-33h0m16-9h0m-32-2h0m29 32h0m5-27h0m-30 22h0m-13 12h0m37-30h0m-25 30h0m-7-6h0m0-20h0m36 21h0m-25-25h0m-5 37h0m37-13h0m-29 13h0m-7 0h0m25-8h0m-7-27h0m8 15h0m-2-26h0m0 48h0m10-42h0m-15 7h0m-12-6h0m2 27h0m-12-8h0m0-4h0m7-4h0m21 1h0m-3 21h0m-32-19h0m29-3h0m-18-4h0m-9-5h0m-4 10h0m2 10h0m36-16h0m-6 34h0m0-13h0m-8-13h0m22 21h0m-35-25h0m-3 11h0m21 12h0m4-17h0m-18 5h0m-9-9h0m26-8h0m-8 36h0m24 0h0m-2-16h0m-25-24h0m20 11h0m-27-5h0m-9 16h0m-53-6h0m5 23h0m31-41h0m3 19h0m-24-14h0m15 7h0m17 5h0m-24 1h0m-13 23h0m34-18h0m-2 16h0m-33-29h0m38 26h0m0-34h0m-15 18h0m9-16h0m-39 4h0m41 22h0m-3 6h0m-10-22h0m10-13h0m-41 40h0m21-40h0m26 3h0m-43 18h0m-5 5h0m47-18h0m-45 0h0m2 8h0m44 9h0m-28-2h0m17-16h0m-33 9h0m29 3h0m-5 22h0m14-38h0m7-4h0m-27 31h0m12-14h0m1 25h0m9-48h0m4 26h0m-36-17h0m17 8h0m13-2h0m-1 6h0m-21-12h0m-15 22h0m26 7h0m-8-14h0m20 21h0m-62-24h0m-25-20h0m28 2h0m12 23h0m-4-22h0m-41-1h0m39 17h0m-8 24h0m-20-33h0m-1 22h0m11 15h0m26-25h0m-32 3h0m3-12h0m19 19h0m-6-17h0m17 6h0m-40 11h0m-2 10h0m35-5h0m-27-10h0m17-3h0m-7-17h0m22 19h0m-9 16h0m-16-40h0m8 35h0m-19-4h0m14-18h0m-10 5h0m9 3h0m21-7h0m-16 15h0m-6-19h0m-42-7h0m-14 34h0m30-30h0m-7 11h0m-32-6h0m38 15h0m-23-5h0m-11-14h0m22 16h0m-10 4h0m20 6h0m-11-11h0m-5-12h0m6 1h0m4-12h0m-30 23h0m21-8h0m-3-14h0m11 41h0m-31-20h0m-5-17h0m41 19h0m6 18h0m-47-9h0m15-13h0m5-19h0m-2 22h0m9 8h0m3-33h0m0 31h0m-37 17h0m-23-2h0m4-29h0m2 2h0m-10 24h0m29-21h0m-23 10h0m5 4h0m-6-35h0m7 8h0m19 12h0m-30-19h0m5 18h0m-8 15h0m29-14h0m-15 12h0m-65 14h0m11-28h0m-7 21h0m-1-37h0m20 1h0m-25 20h0m14-21h0m18 29h0m-30-4h0m24 27h0m13 13h0m31 5h0m-10 14h0m-20-27h0m44 7h0m1 16h0m-32-17h0m30 28h0m2-2h0m-5-27h0m4 15h0m-17-15h0m-16-11h0m35 35h0m-1-35h0m-3-3h0m2 12h0m26 0h0m8 14h0m-11-21h0m-13 31h0m33 9h0m-22-6h0m-3-37h0m-5 42h0m40-35h0m-26 28h0m15-29h0m-14 15h0m-14-19h0m26 28h0m6-20h0m-4 28h0m-34-32h0m35 38h0m4-37h0m-3 2h0m0-3h0m-20 0h0m25-3h0m1-1h0m-10 26h0m-34-10h0m47 27h0m-49-8h0m23-24h0m63-7h0m7 25h0m-13-6h0m8 14h0m-2-4h0m-20-20h0m7 22h0m19-25h0m-18-9h0m15 9h0m-32 19h0m-4-29h0m19 0h0m13-6h0m-17 13h0m28 11h0m-5-20h0m-15 3h0m-5 14h0m-15 2h0m41 13h0m-3-26h0m-7 13h0m-22-22h0m3 37h0m-9-14h0m36-24h0m2 32h0m-20 13h0m1-22h0m-22 20h0m-6-24h0m20 11h0m19 7h0m-19-15h0m29 17h0m-15-3h0m-12-16h0m27 27h0m-45-19h0m5 15h0m36-21h0m0 24h0m-41-6h0m43-17h0m-37-10h0m29 15h0m-19-1h0m-11-27h0m51 34h0m17-3h0m22-6h0m-36 3h0m17-10h0m19-12h0m-46 21h0m-1-13h0m3 10h0m30 23h0m5-25h0m-13 27h0m-3-13h0m-20-35h0m25 44h0m15-26h0m-39-15h0m38 34h0m-35-34h0m11 4h0m30 10h0m-38 16h0m26-32h0m-15 14h0m2 13h0m-24-18h0m47-8h0m-15 40h0m8-18h0m-21-11h0m29 25h0m-38 0h0m38-11h0m-40-21h0m27-7h0m11 2h0m-22 19h0m25-16h0m-35 17h0m2 2h0m58-23h0m12 8h0m-5 17h0m-27 2h0m35 8h0m-39-27h0m45-8h0m-34 18h0m38 22h0m-33-27h0m25 11h0m-39 14h0m-1 7h0m22-3h0m-17-9h0m-5 0h0m24-21h0m4-13h0m20 35h0m-33-6h0m28 20h0m-2-21h0m-3 17h0m-28-4h0m-2-33h0m27-8h0m-21 40h0m-4-13h0m0 19h0m-9-4h0m35-12h0m-8-12h0m-11-9h0m7 26h0m-10-25h0m14-4h0m13 14h0m-32 14h0m37-20h0m-8 11h0m-35-11h0m42 14h0m-20 2h0m-22 6h0m29 2h0m-3-25h0m12 31h0m3 1h0m-45-42h0m8 2h0m7 36h0m15-1h0m-3-3h0m7-21h0m-1 15h0m-28-9h0m18-9h0m12 32h0m41-6h0m23-12h0m-24-11h0m12-11h0m-29 17h0m6 18h0m20 4h0m-34-21h0m25 7h0m-16 11h0m22-2h0m-24 3h0m28 4h0m-25-9h0m-5-5h0m23 0h0m16-26h0m-8 35h0m-22-38h0m32 18h0m-34 12h0m-6-25h0m43 19h0m-29 15h0m17 6h0m-3-38h0m-31 36h0m24-42h0m16 26h0m-14-21h0m1 27h0m18-4h0m-6-24h0m-23 23h0m17 11h0m-4-11h0m16 17h0m-11-35h0m11 27h0m-16-4h0m-32-24h0m4 4h0m37 2h0m-13 10h0m-22-5h0m5 14h0m13-12h0m21 11h0m-42-1h0m22 12h0m-21-43h0m36 17h0m-37 2h0m28-15h0m14 36h0m-44-41h0m0 5h0m32 16h0m-14 16h0m24 1h0m-8-4h0m-31-11h0m43 17h0m-17-4h0m-11-15h0m15 10h0m-3-20h0m-22 12h0m30-10h0m-29-13h0m11 30h0m-11 2h0m17-12h0m14-6h0m37 16h0m-16-20h0m-9-9h0m8 41h0m-3-27h0m-1 31h0m25-17h0m-19 5h0m18 10h0m18-37h0m-18 5h0m-29 20h0m13-35h0m18 44h0m-9-41h0m8 11h0m-11 25h0m-17 3h0m-3-3h0m28-31h0m17-2h0m-31 29h0m27 13h0m-14-18h0m-19 12h0m6 3h0m21-12h0m-27-28h0m40 11h0m-19 3h0m-2-8h0m-7 31h0m8 1h0m11-36h0m5-7h0m-12 15h0m14-2h0m2-7h0m-1 42h0m-17-19h0m12-12h0m-6 24h0m8 0h0m-27-29h0m11 17h0m-6 16h0m-19-8h0m17 3h0m-18-40h0m24 21h0m-12 14h0m3 12h0m29-33h0m-21 34h0m12-43h0m-13-1h0m18 25h0m-34 2h0m-1 9h0m5-4h0m-12-17h0m47 13h0m-47 16h0m16-39h0m27 23h0m-39-9h0m5 8h0m17-25h0m4 25h0m18-17h0m-4-12h0m4 25h0m-29 7h0m-17-23h0m14 12h0m56 14h0m-17-3h0m1 10h0m6-37h0m5 18h0m5-16h0m10 26h0m9-29h0m-20-1h0m15 7h0m-32 18h0m44-22h0m-20-3h0m-14 23h0m-14 12h0m47-30h0m-6 29h0m-34-37h0m6 35h0m17-9h0m-30 19h0m3 0h0m43-37h0m-47-10h0m33 44h0m-17-37h0m-6 1h0m38 34h0m-46-19h0m5 0h0m4 15h0m3-5h0m2-19h0m33 3h0m-13 4h0m-13-18h0m11 13h0m4-7h0m-30 2h0m18 12h0m6-13h0m-32 32h0m26 0h0m16 5h0m-13-20h0m18-2h0m-22-2h0m-2 22h0m15-11h0m-26 9h0m5 1h0m-10-19h0m-6 5h0m33 15h0m-23-33h0m21-10h0m2 27h0m7-22h0m7 18h0m-40-9h0m38 18h0m2-30h0m-25 38h0m-12 1h0m19-24h0m-9 25h0m-19-32h0m1-5h0m36 20h0m-5 13h0m-12-5h0m-18-25h0m27 4h0m-28-1h0m19 11h0m-19-21h0m7 5h0m20 2h0m-28 0h0m5 20h0m1-9h0m19 15h0m-15-28h0m-5 38h0m19-32h0m-14 26h0m8-27h0m12 16h0m-11-10h0m-8 12h0m11-7h0m-1-13h0m-17-2h0m33 33h0m-24-16h0m10-21h0m-16 14h0m-8 2h0m1 6h0m26 1h0m48-22h0m4 6h0m14 8h0m-41-20h0m-2 38h0m28-36h0m-27 46h0m29-38h0m-1 23h0m19 9h0m-23-29h0m17 36h0m-21-43h0m-4 1h0m-6-5h0m32 7h0m-36 37h0m4-33h0m-8-4h0m28-1h0m-31 1h0m33 21h0m10 18h0m-22-17h0m-10-2h0m28 7h0m-24-14h0m30 18h0m-29-40h0m11 28h0m-14 7h0m-1 13h0m-2-43h0m34 2h0m-29 11h0m-8 0h0m22 24h0m-24-35h0m-2 14h0m17 11h0m28-3h0m-19 6h0m11-6h0m-14-27h0m11 33h0m-10-27h0m-26-4h0m38 24h0m-8 10h0m-3-5h0m-8-20h0m-2 27h0m-1-10h0m18-7h0m-6-2h0m-22-20h0m18 5h0m15-6h0m-20 34h0m16 6h0m2-15h0m-17 15h0m16-9h0m10-24h0m-4 28h0m-35-16h0m6 12h0m17-4h0m9 21h0m-31-6h0m5-21h0m34 6h0m-16 19h0m6-26h0m9 29h0m-36-22h0m25-21h0m1 42h0m3-36h0m-24 21h0m31-24h0m-45 26h0m15-16h0m49-2h0m-10 26h0m-5-28h0m32 23h0m13-12h0m-3-24h0m-4 41h0m-6-35h0m-9 26h0m14-34h0m-25 28h0m24 8h0m-6 4h0m1 7h0m3 1h0m-1-21h0m-22 6h0m20-3h0m-32 19h0m32-15h0m9-4h0m-9 1h0m-13-10h0m29-8h0m-19 26h0m-20 3h0m12-18h0m23 13h0m-15 12h0m-18-43h0m24 14h0m10 22h0m0-34h0m-37 35h0m3-42h0m4 36h0m-6 4h0m24-9h0m4-4h0m-35 5h0m7-17h0m7-9h0m1 1h0m4 20h0m26-27h0m-36 2h0m-7 11h0m12 26h0m-8-31h0m24 1h0m5 5h0m-20 18h0m-16-28h0m10 23h0m26 9h0m-2-26h0m6 17h0m-41 2h0m15-27h0m24 46h0m1-22h0m-23 8h0m26 12h0m1-31h0m-9-9h0m-6-6h0m-28 15h0m11-14h0m0 22h0m23-16h0m-35 23h0m1-7h0m26 18h0m12-14h0m-36 3h0m5-15h0m40 5h0m-14-10h0m-8 13h0m-7-17h0m-18 19h0m7-10h0m39 2h0m-45 16h0m23 7h0m-1-37h0m20 3h0m-11 14h0m-22-5h0m16 24h0m-22-13h0m39-26h0m9 38h0m7-10h0m1-18h0m35 13h0m-25-7h0m21 0h0m-22-2h0m-21 25h0m31-5h0m-10-32h0m3 41h0m25-4h0m-11-16h0m-14-12h0m21 15h0m-20 7h0m-2-4h0m-21-16h0m30 12h0m17-16h0m-23 14h0m-25 0h0m-1 3h0m33-22h0m15 36h0m-3-28h0m-15 4h0m-4 19h0m-24-19h0m1 3h0m27 12h0m7-1h0m-10-7h0m-24-15h0m6 0h0m37 33h0m-32-31h0m6 22h0m18-18h0m-6 32h0m-1-17h0m-25-21h0m36 30h0m-23-29h0m11 20h0m-5 3h0m-4 16h0m-9-14h0m3-21h0m10-4h0m5 19h0m-21 11h0m26-3h0m-20 9h0m-8-45h0m23 17h0m-27 23h0m12-13h0m12-5h0m14 22h0m-13-26h0m-6-13h0m12 11h0m11 18h0m1-33h0m-18 21h0m13 20h0m-24-34h0m24 15h0m6-13h0m-3 38h0m0-24h0m-29-1h0m21-22h0m3 36h0m7-28h0m-24 5h0m10 15h0m3-29h0m-21 48h0m10-26h0m15 24h0m-16-32h0m9 2h0m4 9h0m6 21h0m-6-45h0m-17-2h0m6 44h0m9-39h0m-4 11h0m5 11h0m-31-19h0m19 38h0m20-29h0m-29 7h0m-5-9h0m5 15h0m6-24h0m19-2h0m-38-4h0m13 35h0m7 8h0m-15-4h0m32 10h0m11-36h0m-27 15h0m27 10h0m-3-1h0m-9-22h0m-23-13h0m-4 4h0m-4-1h0m-2 9h0m33-4h0m0 11h0m36-10h0m12 36h0m-26-9h0m-4-24h0m-5 34h0m36-24h0m-36 12h0m3-23h0m21 13h0m5-5h0m-5 16h0m5-11h0m-27-11h0m14-5h0m30 35h0m0 4h0m-34-2h0m-9-5h0m42-7h0m-31 9h0m24-25h0m5-3h0m-30 15h0m7 12h0m-6 5h0m3-2h0m13-13h0m-26 6h0m-1-21h0m20 11h0m10-23h0m6 11h0m-3 29h0m-23-4h0m-5-14h0m-1 17h0m12 0h0m-13-26h0m30 26h0m-1-28h0m8 3h0m-8 13h0m-2-3h0m-7-4h0m9-23h0m-7 29h0m20-7h0m-36-18h0m-4 30h0m5-23h0m-4-9h0m37-2h0m-8 5h0m-6 0h0m14 1h0m-43 28h0m43-3h0m-12 3h0m-11-28h0m11 9h0m-21 21h0m-5-34h0m10 13h0m0 17h0m18-23h0m-13-7h0m-9 21h0m-9 10h0m41-36h0m-8 29h0m-26 5h0m7 3h0m27-22h0m-24-1h0m8-1h0m-20 36h0m28-43h0m-16 34h0m-10-21h0m35-12h0m-4 10h0m-22 0h0m19-7h0m-2 11h0m2-14h0m-31 2h0m8 26h0m21 2h0m-36-30h0m0 4h0m18 20h0m-1 18h0m29-7h0m-40-34h0m31-4h0m-12 30h0m-4-25h0m-19 9h0m33 26h0m-16-20h0m-3-10h0m20 6h0m3 5h0m-38-1h0m15-19h0m25 21h0m-20-26h0m-17 28h0m-3 1h0m5 10h0m32 6h0m-36-11h0m-3 10h0m28-31h0m9-6h0m2 7h0m-29-11h0m17 28h0m-17 12h0m25-5h0m-30-23h0m75-5h0m-6 4h0m12 4h0m-11 0h0m-13 27h0m23-32h0m-35 35h0m22-42h0m-16 33h0m35 4h0m7-10h0m-16 13h0m-23-24h0m-6 6h0m32-15h0m9 9h0m-17-22h0m8 38h0m-21 0h0m-11 2h0m23 1h0m-13-18h0m-11-12h0m0 5h0m12-4h0m29 9h0m-22 19h0m9-6h0m9-1h0m-23 0h0m-5-7h0m11-19h0m-22 30h0m48-9h0m-44 12h0m36-4h0m-29 7h0m-9 3h0m46 3h0m-13-41h0m8 20h0m-16 7h0m11-35h0m-27 21h0m35 23h0m-10-22h0m2-11h0m-8 11h0m-18 18h0m17-12h0m4-18h0m11 15h0m-6 13h0m-33 4h0m-2 0h0m29 6h0m8-18h0m-16-7h0m18 10h0m2-18h0m-30 18h0m-14 7h0m33-20h0m7 20h0m-40 4h0m33-38h0m6-4h0m-18 14h0m-7 28h0m-12-42h0m5 6h0m35 41h0m-21-23h0m-10 5h0m7-29h0m19 44h0m-37-19h0m12-17h0m4 19h0m-5 0h0m17 4h0m-23-25h0m35 17h0m-25 23h0m19-35h0m-18 19h0m25 6h0m-17-11h0m9 7h0m-25-11h0m32 24h0m-39-10h0m13-24h0m-8 29h0m-4-20h0m-3-11h0m21 34h0m-8-17h0m18-18h0m-5 35h0m-3-44h0m-7 9h0m30 36h0m-17-39h0m-14 29h0m12-36h0m-11 33h0m0-9h0m13-6h0m-27 20h0m29 6h0m-16-12h0m6-29h0m26 13h0m-4-8h0m-23 30h0m10-17h0m-24-3h0m29-4h0m2 13h0m9-4h0m2 6h0m-40-6h0m2-3h0m20 12h0m19 2h0m-38-22h0m24-9h0m0 5h0m-7 34h0m51-6h0m-5-23h0m-7 15h0m14-11h0m18 11h0m-6-13h0m-21 11h0m-5 15h0m4-4h0m2 2h0m-3 5h0m15-33h0m-18 24h0m-7-4h0m3 2h0m11 7h0m-18 2h0m7-34h0m32 26h0m-29-34h0m31 12h0m-47 11h0m23 7h0m-16-2h0m23-1h0m-13 4h0m26-12h0m-7-1h0m-11 22h0m-23 9h0m39-10h0m-7-23h0m-12 4h0m4 8h0m11 2h0m-19-28h0m31 30h0m-6 10h0m-34-24h0m1 10h0m30-19h0m7 7h0m-2 25h0m-1-2h0m-4-11h0m2 20h0m-22-19h0m-4 14h0m17-18h0m7-14h0m-4 10h0m-21-10h0m20 28h0m5-22h0m-29 17h0m7-17h0m6-4h0m10 36h0m-10-19h0m-3-15h0m28 10h0m-41-3h0m-1 21h0m4-42h0m4 37h0m34-3h0m-11-29h0m-24 31h0m26-13h0m-27 19h0m8-15h0m-3-8h0m23 6h0m-9-25h0m11 38h0m-6-17h0m-7-6h0m-14 33h0m0-38h0m-1-5h0m19 40h0m2-43h0m2 35h0m-2-14h0m-14-22h0m27 6h0m-5 11h0m-34-9h0m-1 9h0m39 29h0m-45-44h0m26 20h0m16-1h0m-2 2h0m-21 20h0m6 3h0m6-4h0m-11-17h0m-3-8h0m-11-9h0m14 5h0m25-2h0m-5 14h0m-24-16h0m3 10h0m-19 8h0m38-16h0m-17-6h0m5 1h0m-6 26h0m-1 1h0m-8 12h0m-4-47h0m2 12h0m-6 35h0m14-23h0m45-3h0m13 15h0m-10 13h0m-13-3h0m43-5h0m-41-34h0m20 0h0m5 17h0m14-1h0m-25 3h0m-7 13h0m26 8h0m3-42h0m-38 31h0m41-6h0m-8 10h0m-20-24h0m12 13h0m6-26h0m-11 27h0m-1-16h0m10-9h0m-8 2h0m-7 35h0m10-28h0m-27 29h0m18-2h0m17-41h0m-34 49h0m39-41h0m-13 20h0m4 3h0m5-28h0m-4 31h0m4-25h0m-14 3h0m16 25h0m-34-22h0m5 0h0m2 17h0m6-16h0m17 25h0m-4-27h0m-9 22h0m-7-35h0m-16 43h0m37-20h0m-18-7h0m14-8h0m-26 1h0m42 30h0m-32-16h0m15-2h0m-2-16h0m-18 26h0m19 11h0m-24-31h0m33 2h0m-18-4h0m-4 22h0m2 2h0m-14-2h0m-3 7h0m8-23h0m38 13h0m-48 4h0m-1 6h0m45-29h0m-42 6h0m24 19h0m19-21h0m-22 20h0m-11-2h0m34 16h0m-16-13h0m13-16h0m-37 5h0m3-11h0m-2 2h0m31 9h0m-7-23h0m9 34h0m-25-12h0m20 17h0m-28-13h0m28-19h0m13 32h0m-17-12h0m-22 10h0m38 1h0m-3-32h0m-13 39h0m-28-39h0m38 0h0m-11 15h0m-11 20h0m18-39h0m-1 44h0m10-30h0m-24 20h0m1-5h0m-19 7h0m17-27h0m-12-10h0m25 21h0m0 3h0m6-20h0m-19 24h0m2 10h0m-2 8h0m43-5h0m5-41h0m-3 38h0m16-7h0m-2 5h0m-26-30h0m-2 7h0m37 1h0m-9-2h0m17 22h0m1-21h0m-6 7h0m-42-18h0m46-3h0m-43 34h0m32-4h0m-10-1h0m-1-28h0m-2 25h0m-1 22h0m4-34h0m18 25h0m-35-29h0m34 6h0m-24-12h0m5 6h0m22 14h0m-8 21h0m-21 1h0m-8-25h0m25-6h0m10 10h0m1 9h0m-27-29h0m-18 28h0m3 7h0m46-38h0m-17 34h0m-17 0h0m20 10h0m6-31h0m-19 4h0m22 18h0m-4 4h0m-36-3h0m32 2h0m11-28h0m-21 22h0m4-3h0m-17-19h0m18 32h0m1 4h0m-7-29h0m15 12h0m-12-26h0m10 0h0m-4 1h0m-24 21h0m-4 15h0m9-31h0m24 9h0m-32 7h0m31-6h0m-4-3h0m-17 21h0m9-3h0m0-32h0m8 37h0m1-23h0m-26-11h0m-6 17h0m8-4h0m26 2h0m7 18h0m-15-39h0m-11 27h0m29-9h0m-42-13h0m44 10h0m-16 31h0m13-34h0m-23-5h0m23 27h0m-7 11h0m-30-42h0m9 1h0m29 18h0m5 9h0m11-17h0m8-16h0m1 0h0m-13 8h0m39-3h0m-8 16h0m-16-2h0m7-19h0m-6 47h0m-6-2h0m17 2h0m-8-6h0m16-2h0m-27-30h0m9-2h0m3-5h0m-22 4h0m21 17h0m-18 24h0m36-12h0m-27-30h0m6 18h0m-6-7h0m7 25h0m13-38h0m0 20h0m-22-22h0m6 16h0m4 25h0m11-7h0m-32-34h0m7 0h0m10-1h0m11 44h0m-10-11h0m16 1h0m8 9h0m-4-17h0m-8 17h0m9-26h0m-11 0h0m-12-9h0m-17 37h0m41 2h0m-23-47h0m10 12h0m11 20h0m-8-30h0m-10 42h0m4-36h0m-12-6h0m-9 32h0m7 7h0m-1-9h0m21-17h0m-35-6h0m10 13h0m-4 14h0m7-24h0m21 29h0m-22-41h0m-8 25h0m39 5h0m-13 14h0m-17-37h0m14 38h0m-1-10h0m-22-12h0m0-10h0m38 33h0m-37-21h0m-1-22h0m34 37h0m-6-39h0m-13 16h0m28 0h0m-35 28h0m36 1h0m-41-18h0m-3-16h0m5 20h0m20 17h0m-27-31h0m-2 23h0m26-35h0m18 35h0m-45-4h0m4-5h0m3 14h0m39 2h0m-40-1h0m38-28h0m-20 22h0m-21-25h0m14 21h0m10-33h0m-10 8h0m-11 28h0m7-36h0m2 19h0m62 24h0m-12-13h0m-3-3h0m12 16h0m18-19h0m-36 10h0m13 2h0m-19-25h0m32 30h0m-4-42h0m-28 6h0m13 6h0m5 30h0m6 4h0m12-44h0m10-5h0m-8 25h0m11-9h0m-1 20h0m-43-19h0m-3 3h0m13 2h0m21-12h0m-30 25h0m17-22h0m16-13h0m-14 31h0m16 6h0m-14 12h0m-4-49h0m-17 8h0m34 25h0m-15 4h0m14 7h0m-26-24h0m16-16h0m-15 24h0m0-2h0m-10 14h0m16-28h0m-20-5h0m9 33h0m17-25h0m-24 26h0m33-3h0m-28 7h0m11-10h0m27-14h0m-5 12h0m-40 5h0m4-21h0m28 3h0m1 10h0m-26 4h0m20-11h0m8-13h0m-33 32h0m20-6h0m25 2h0m1 0h0m-47 7h0m14-7h0m9-25h0m7-8h0m-29 2h0m23 8h0m15 27h0m-1-18h0m-26-20h0m18 39h0m7-16h0m8-26h0m28 18h0m-6 30h0m27-40h0m-15-7h0m4 7h0m-13 17h0m22-3h0m-38 3h0m17-20h0m-5 5h0m19 13h0m11-20h0m-9 29h0m11-29h0m-30 34h0m-10-25h0m-1 11h0m-7 25h0m37-45h0m-16 2h0m-21 31h0m38-30h0m-3 40h0m-4-17h0m-6-1h0m15-27h0m-4 46h0m6-21h0m-7-20h0m-8 13h0m6 17h0m-26-14h0m16-7h0m4-5h0m-23 36h0m19-27h0m24-1h0m-41 10h0m-4 10h0m40-31h0m-42-3h0m14 31h0m10-6h0m-13-16h0m37 23h0m-23-31h0m-21 12h0m13 16h0m15-1h0m-14-8h0m-3-18h0m19 14h0m-15-6h0m-7 23h0m-9-6h0m-1-27h0m12 22h0m-8 20h0m11-12h0m12-30h0m-25 32h0m-5-28h0m32 0h0m-26 18h0m12 3h0m2 3h0m43 11h0m11-27h0m-13 21h0m29-17h0m-31-4h0m3 6h0m-9 11h0m26-26h0m16 8h0m-10 0h0m-21 32h0m-4-32h0m14-7h0m-2 21h0m-17 15h0m26-31h0m11 14h0m4-4h0m-22 6h0m2-2h0m-9 12h0m-16-30h0m40 1h0m8 38h0m-32-25h0m29 22h0m-22-1h0m-19-25h0m4 6h0m9 23h0m29-16h0m-7-33h0m3 46h0m-28-34h0m10 8h0m-19 17h0m12-29h0m16 28h0m-19-11h0m0 12h0m-9 4h0m-4-35h0m25 29h0m-4-25h0m-11 30h0m29-31h0m-2 9h0m-16-17h0m-22 20h0m45-3h0m-7 19h0m-9-30h0m-20-4h0m3 45h0m19-15h0m-4 9h0m-13-3h0m1-33h0m-11 30h0m-1-25h0m1 16h0m92 15h0m-31-7h0m-5 3h0m26 4h0m-14-40h0m1 35h0m9-19h0m-16 7h0m-13 10h0m39 0h0m-7-18h0m-1 11h0m-18-25h0m-5 38h0m0-24h0m13-8h0m-22 16h0m34-21h0m-18 2h0m10 35h0m-21 2h0m27-1h0m3-36h0m-28 15h0m-10-16h0m44 10h0m-15 8h0m9 12h0m-38-27h0m42 31h0m-19-22h0m1-12h0m12 31h0m-29-11h0m9 9h0m12 2h0m5-17h0m13-2h0m-5-15h0m-38 1h0m39 31h0m-39-16h0m32-14h0m12 5h0m45-1h0m-19 19h0m25-24h0m-41 31h0m2-8h0m8 22h0m12-13h0m7-25h0m-14 31h0m20-27h0m-35-9h0m28 5h0m13 28h0m-16-5h0m-14-24h0m-5 18h0m14 10h0m8-35h0m-2 17h0m-15 17h0m16 9h0m-2-21h0m13 14h0m-43-1h0m47-3h0m-10 0h0m9 9h0m-25-8h0m-22-4h0m42-29h0m3 21h0m-17 4h0m9-23h0m8 10h0m-44-3h0m29 35h0m-15-39h0m19 5h0m-10 33h0m67 0h0m-41-23h0m47-19h0m-19 4h0m-24 42h0m31-26h0m12 25h0m-34-21h0m15 9h0m-28-17h0m31 8h0m-4-17h0m4 21h0m-31 16h0m7-44h0m25 23h0m-31 1h0m11 8h0m32 11h0m-3-15h0m-28-6h0m29-10h0m-1 12h0m-28 17h0m19-31h0m10 19h0m24-9h0m9 25h0m-17-44h0m15 35h0m20-12h0m-8 17h0m-4-23h0m-29 14h0m-2 13h0m46-7h0m-39-2h0m8-18h0m-7 4h0m16 10h0m-24-20h0m35-7h0m13 25h0m-41 7h0m30 3h0m-37-20h0m6-22h0m51 30h0m38-24h0m-18 32h0m-15 9h0m-10-23h0m40-6h0m-16-9h0m1 36h0m12-7h0m-19 6h0m-16-16h0m31-28h0m-35 10h0m34 28h0m-13 2h0m6-7h0m-28-32h0m70 33h0m-48 26h0m27-11h0m-34 22h0m-13-12h0m10 16h0m-3-22h0m39 35h0m-23-27h0m19-7h0m0 44h0m-30-9h0m-19-24h0m-31 3h0m12 8h0m12 11h0m9-24h0m-31 10h0m29-20h0m-9 2h0m-30-5h0m14 26h0m-1-23h0m-4 41h0m26-23h0m-37 24h0m-1-13h0m38 12h0m-39-20h0m39-12h0m-4 31h0m9-8h0m-34-6h0m13-5h0m15 5h0m-21-19h0m-65-9h0m16 44h0m-17-23h0m40-6h0m-32 31h0m-4-28h0m21 29h0m12-39h0m-14 33h0m9-40h0m-25 27h0m-6-1h0m43-26h0m-8 29h0m2-22h0m-17 23h0m22-24h0m-7 3h0m-39 16h0m48-13h0m-1 18h0m-13-14h0m15-2h0m-41 3h0m20-14h0m11 17h0m-32 25h0m23-44h0m-27 38h0m13-24h0m3-13h0m-5 19h0m-47 16h0m-6 8h0m24-23h0m-32 18h0m15-36h0m17 28h0m-3-3h0m15-30h0m-30 12h0m3 22h0m-6 1h0m28-14h0m-24-23h0m6 7h0m14 7h0m-35-11h0m40 11h0m-5 2h0m-27 26h0m21 2h0m-13-19h0m-13 13h0m5 2h0m6-4h0m15-23h0m-9 24h0m23-34h0m-32 35h0m-7-18h0m30-11h0m4-1h0m-20 40h0m0-6h0m-21-27h0m1-13h0m15 41h0m-26-31h0m4 31h0m-10 3h0m-18-39h0m10 13h0m-14 5h0m-4 0h0m26 1h0m4-10h0m7 16h0m-22 14h0m-12-23h0m34-19h0m-11 41h0m-32-13h0m8-3h0m26-2h0m-22-1h0m-4-6h0m-10-11h0m47-3h0m-45 15h0m26 21h0m-25-7h0m19 2h0m14 3h0m-24-18h0m7-1h0m7 9h0m-26-15h0m37 5h0m-34 15h0m11 6h0m25-30h0m-17-3h0m2 32h0m-10 6h0m-5-20h0m6-25h0m-1 22h0m28-23h0m-20 47h0m11-6h0m11-7h0m-10-30h0m-28 15h0m6 3h0m0-10h0m-40-7h0m6 31h0m-15-29h0m33 6h0m-17 25h0m13 9h0m-38-17h0m41 19h0m-38-25h0m39-7h0m-33 8h0m31-15h0m-11 23h0m-10-11h0m13-15h0m-19 22h0m2-23h0m11 40h0m8-11h0m-30-7h0m17-4h0m-7-9h0m-15 1h0m27 32h0m14-1h0m-35-38h0m16 7h0m-20 5h0m38 15h0m-41 8h0m11-33h0m3 0h0m9 2h0m-18 32h0m14-26h0m16 20h0m-24-24h0m-4-15h0m12 43h0m10 0h0m-20-1h0m12-4h0m-12-12h0m-6-8h0m-1-3h0m3 17h0m26-14h0m-29 23h0m11-6h0m1-10h0m19 1h0m8 10h0m-16-18h0m-9-9h0m-64 33h0m37-27h0m-13-1h0m9 13h0m-22-4h0m28 23h0m-40-38h0m10 36h0m29 3h0m-15-21h0m-14 22h0m21-7h0m-19-7h0m27-32h0m5-1h0m-23 43h0m3-25h0m-19 25h0m25-41h0m9-2h0m0-1h0m-19 16h0m-21 11h0m15 10h0m4-4h0m4 12h0m-22-32h0m10-7h0m-5 34h0m7-11h0m6-8h0m6-7h0m4 35h0m13-15h0m-17-7h0m4-7h0m-8 20h0m-13-35h0m38 6h0m-1 38h0m-37-30h0m35 12h0m-37-20h0m20 12h0m8 7h0m4 13h0m-19-17h0m14-24h0m-28 1h0m-4-2h0m25 28h0m4 8h0m1-30h0m5 30h0m-2-17h0m-33-14h0m36 39h0m-30-8h0m10-15h0m-11 1h0m5-16h0m-11 36h0m42-18h0m-57-6h0m-7-14h0m8 34h0m-25-15h0m-2-9h0m29 26h0m-10 4h0m3 2h0m10-6h0m-3-27h0m-13 20h0m-14-15h0m15 1h0m-20-19h0m20 32h0m20-3h0m-4 1h0m5 17h0m-5-1h0m-6-13h0m-38-9h0m12-17h0m37 19h0m-1-23h0m-7 44h0m-12-31h0m11 9h0m-5 2h0m-5 19h0m-16-28h0m22 9h0m-28 10h0m7-16h0m-10 25h0m10-30h0m33 30h0m-37-26h0m16-19h0m-9 44h0m-7-5h0m6-13h0m7 0h0m24-6h0m-38-5h0m11-12h0m11 43h0m12-44h0m-26 29h0m19 16h0m-13-9h0m11 7h0m4-19h0m-13-14h0m14 14h0m-30-22h0m22 1h0m-26 7h0m40-7h0m-32 40h0m-5-5h0m-1-24h0m27 12h0m-10-4h0m-24 3h0m10 18h0m3 2h0m16-37h0m-29-6h0m18-5h0m9 37h0m17-9h0m-27-22h0m-5 37h0m25-12h0m-26 1h0m10-26h0m-2 34h0m-19-11h0m-21 8h0m-13 8h0m-16-3h0m32-43h0m15 6h0m-4-3h0m-37 24h0m8-12h0m16 33h0m-29-29h0m19 21h0m13-13h0m5 5h0m-16 9h0m-23-6h0m39-17h0m-19 7h0m0 2h0m-4-16h0m19 38h0m-35-38h0m49 35h0m-33-35h0m7 37h0m5-3h0m13-2h0m-26-5h0m3-28h0m-4 36h0m32-37h0m-6 32h0m-29-11h0m6 5h0m-11-33h0m34 2h0m-36 37h0m-3-34h0m17 33h0m-1-18h0m31-8h0m-30 2h0m8 12h0m-9 20h0m19 1h0m-31-17h0m34 8h0m-19 2h0m24-10h0m-21-22h0m-5 33h0m26-31h0m-36 22h0m8-28h0m28 30h0m1-21h0m-15 25h0m-20-39h0m18 37h0m-20-1h0m39-26h0m-12 10h0m-4-13h0m16 15h0m-46-23h0m32 3h0m-29 27h0m7 3h0m27-23h0m9 39h0m-39-4h0m40-38h0m-18 1h0m-24 27h0m21 2h0m8-14h0m11 5h0m-26-4h0m23 17h0m-42-41h0m17 46h0m5-21h0m10-10h0m-6 8h0m21-4h0m-32-2h0m20 28h0m-18-12h0m17-17h0m1 8h0m-73-22h0m28 35h0m-17 12h0m-7-40h0m14 4h0m2 29h0m-11-11h0m-19-17h0m15 0h0m30 21h0m-17-23h0m15 24h0m-10-9h0m2-24h0m-20 39h0m-7-26h0m-10-16h0m16 19h0m-7 20h0m32-8h0m-21 1h0m13 13h0m-5-12h0m7 7h0m-34-25h0m5-13h0m3 10h0m-6 33h0m28 1h0m-30-30h0m14 6h0m13-1h0m-21 26h0m-1-16h0m4-22h0m-10 18h0m41 0h0m-23-13h0m-6 28h0m21 1h0m-32-36h0m40 5h0m-18-1h0m13-5h0m-34 6h0m13 18h0m22 18h0m8-12h0m-40-18h0m12-14h0m-10 24h0m1-10h0m34 8h0m-19-21h0m-9 40h0m13-40h0m-20 26h0m41 2h0m-36-11h0m-4 0h0m-3 26h0m2-39h0m40 17h0m-34-22h0m17 32h0m-26-11h0m-2 24h0m2-41h0m3 12h0m14 17h0m-10 5h0m34-27h0m-31 13h0m21 18h0m-25-33h0m38 31h0m-33-28h0m3-5h0m12-8h0m-5 26h0m-12-17h0m-9 24h0m35 2h0m-5-10h0m14 15h0m-32 2h0m26-20h0m-44-9h0m-42 22h0m20-33h0m-8 24h0m-10-27h0m0 42h0m35-25h0m1 14h0m-16-12h0m-17-5h0m14-13h0m-23 42h0m14-29h0m-11 23h0m36 4h0m-13-23h0m1-8h0m9 11h0m-25-14h0m20 10h0m-33 7h0m42 20h0m-14-9h0m-18-14h0m20-9h0m-3 22h0m-26 6h0m25-3h0m-8-5h0m-10-28h0m9 37h0m29-1h0m-19-42h0m19 9h0m-11 40h0m-28-40h0m2-2h0m5 40h0m-12-17h0m33 17h0m-5-9h0m-27 6h0m31-34h0m5-6h0m-34 0h0m38 0h0m-37 26h0m-3 10h0m30-33h0m15 23h0m-13-18h0m0 33h0m-10-2h0m-23-42h0m16 22h0m-6-14h0m-13 15h0m20-18h0m-19 7h0m0 4h0m10 7h0m25-2h0m-28-2h0m-3 19h0m6 10h0m-1-5h0m28-40h0m-28 25h0m25-15h0m-27-11h0m34 23h0m-2 21h0m-38-46h0m18 4h0m14 19h0m-19 22h0m17 1h0m-25-11h0m42-8h0m-21 10h0m1-27h0m-26 9h0m29 7h0m-14-2h0m20 17h0m-4-16h0m11-9h0m-45 9h0m8-2h0m24 12h0m12-20h0m-34 11h0m31 12h0m5 1h0m-24-35h0m-15 14h0m35 7h0m-1-4h0m5 18h0m-20-36h0m-18 11h0m16-9h0m5 13h0m4 20h0m-7-24h0m6 21h0m16-32h0m-19 11h0m8 6h0m0-18h0m-30 29h0m9-28h0m24 32h0m-32-20h0m-53 19h0m4 6h0m-5-22h0m0 28h0m-3-6h0m28 5h0m-18-39h0m-9 24h0m13-25h0m30 40h0m-45-6h0m27-20h0m-17-20h0m1 28h0m21-6h0m-3-18h0m-13 13h0m-5-11h0m4 4h0m3 36h0m29-39h0m-6 6h0m4 30h0m-28-12h0m-5-31h0m8 48h0m23-32h0m-6-4h0m-16 31h0m0 6h0m23-36h0m-8 34h0m7-22h0m-13-19h0m-18 33h0m33-39h0m-14 3h0m5 39h0m-6 2h0m-19 5h0m10-9h0m14-14h0m-12 13h0m18-17h0m8 6h0m-42-27h0m-7 11h0m22 15h0m22-13h0m2 5h0m-3 15h0m0 0h0m-27-14h0m18 9h0m-6-29h0m-19 17h0m5-15h0m32 27h0m-14-23h0m-6 30h0m-24-30h0m-1 20h0m43 0h0m-7 1h0m-18-5h0m-9 20h0m-1-22h0m36-16h0m-16 4h0m-6 39h0m-2-11h0m-11-26h0m12 2h0m23-4h0m-24-7h0m24 43h0m-28-36h0m-10 19h0m2 13h0m23-24h0m-8-11h0m-12 2h0m12 40h0m-1-2h0m-9-4h0m-10-36h0m27 33h0m18 6h0m-45 1h0m39-33h0m-1 25h0m-31-18h0m-3 16h0m4-13h0m-7 26h0m4-2h0m15-44h0m20 6h0m-28 29h0m21-26h0m-17 32h0m26-36h0m-16 6h0m17-2h0m-6-7h0m-39 41h0m1-23h0m3-12h0m10-5h0m29 9h0m-35-6h0m-23 18h0m-37-24h0m30 37h0m-17-24h0m36 32h0m-3-32h0m-1-12h0m-6 1h0m-34-4h0m3 5h0m20 44h0m9-12h0m-35 1h0m24-6h0m13-6h0m-19-14h0m27 15h0m-10 19h0m-17 1h0m-1-34h0m-9 17h0m36 14h0m-31-27h0m-11 31h0m38-45h0m-34 28h0m-8 3h0m7 10h0m-7-14h0m3 11h0m-2-27h0m10 28h0m-9 3h0m6-20h0m24 14h0m-25-20h0m28-6h0m-30-7h0m-1 15h0m24-17h0m-15 7h0m-9 16h0m19 11h0m-16-27h0m3 15h0m6 23h0m-16-9h0m43-7h0m-8-2h0m11-3h0m-18-16h0m0-1h0m19 4h0m-19 16h0m-13-19h0m30-12h0m-18 13h0m-5-12h0m16 37h0m-35-26h0m43 24h0m0-15h0m-45-2h0m37 23h0m-18-5h0m-8-1h0m36 1h0m-32 0h0m30-11h0m-44-10h0m32 27h0m-29-10h0m34-2h0m8 18h0m-10-5h0m5-31h0m-23 23h0m-13-2h0m25-33h0m7 44h0m-25-2h0m11-13h0m-11 18h0m5-10h0m-16-36h0m14 21h0m25-20h0m-7 14h0m8 10h0m0-12h0m6 11h0m-17-2h0m-13 7h0m-17 16h0m40 1h0m-3-30h0m-18 9h0m20-3h0m-28 3h0m16 4h0m-21-1h0m32-21h0m8 40h0m-22-32h0m-10 14h0m-15 12h0m30-34h0m5 4h0m-30 15h0m35-19h0m-32-3h0m13-4h0m14 5h0m-32 34h0m23-21h0m8 9h0m-34 1h0m46-1h0m2-12h0m-1 19h0m-23-25h0m-6 26h0m30 7h0m-10-3h0m-11 6h0m-1-21h0m-11 14h0m13-38h0m12 41h0m-32-20h0m15-12h0m-4 8h0m14-8h0m15 6h0m-8-5h0m-86 2h0m-4 1h0m34 18h0m-21-31h0m3-1h0m22 3h0m-38 39h0m11-11h0m4 4h0m30-35h0m-33 44h0m26-13h0m-25-27h0m21-5h0m-26 32h0m-3-29h0m31 33h0m0-24h0m-25 1h0m-5-8h0m25 37h0m-3-24h0m3-17h0m-2 18h0m-8 6h0m-5 18h0m-3-37h0m14 36h0m16-24h0m-38-11h0m43 12h0m-5-16h0m-42 39h0m24-16h0m1 9h0m16-6h0m-16-16h0m6 30h0m15-28h0m-8 14h0m-4-1h0m-5 18h0m5-1h0m-29-30h0m-3 23h0m-3 3h0m48-19h0m1-15h0m-23-1h0m-7 41h0m-6-23h0m27-3h0m-28-9h0m27 36h0m-12-48h0m22 30h0m-9-6h0m-22 17h0m25-40h0m-42 46h0m6-34h0m5 2h0m25 5h0m-34-9h0m2 32h0m11 3h0m13-4h0m4-20h0m2-2h0m-30 8h0m13-24h0m-14 9h0m43 5h0m-30 16h0m17-11h0m-32 16h0m13-10h0m18-20h0m10 37h0m-8-15h0m-6-8h0m0 11h0m4-16h0m-28 31h0m30-45h0m5 23h0m-32-17h0m23 17h0m-27-7h0m40-3h0m-10 18h0m-5-1h0m-9-5h0m-10 16h0m31-15h0m-40 13h0m13 5h0m31-39h0m-14 39h0m11-21h0m1 7h0m-29-12h0m-10-17h0m25 27h0m-6-30h0m-4 4h0m5 35h0m23-7h0m-29-25h0m-18 34h0m0-29h0m37-2h0m-10 31h0m-17-42h0m-4 7h0m20 3h0m7 9h0m6 7h0m-25-1h0m7-18h0m-21 32h0m15 6h0m32-15h0m-41-24h0m-3 9h0m-11 14h0m-14 5h0m-23-5h0m15-30h0m-2 21h0m1-5h0m-3 23h0m-6-19h0m7-10h0m-5-6h0m0 40h0m7 5h0m-6-35h0m28 9h0m-30-10h0m4 30h0m28-38h0m-30-1h0m10 3h0m-1-1h0m-8-3h0m14 27h0m8-3h0m1 3h0m-35-23h0m9 25h0m0 5h0m-2 10h0m-4-41h0m30 0h0m9 43h0m-41-6h0m9-36h0m-5 4h0m7 17h0m19 5h0m-20 16h0m-2-37h0m22 37h0m-32-1h0m17-18h0m8-19h0m6 1h0m12 0h0m-11 1h0m-19 36h0m30-31h0m-42 11h0m0 0h0m25-19h0m13 26h0m-18 3h0m22 7h0m-6-38h0m-29 38h0m34-33h0m6-6h0m-34 35h0m16-15h0m-4-4h0m-2 20h0m9 2h0m7-14h0m-25-14h0m28 14h0m4-14h0m-15-2h0m-5 34h0m-25-11h0m7-18h0m1 11h0m5 12h0m-13-19h0m22-21h0m7 45h0m16-8h0m-43-15h0m25-1h0m17 16h0m-23-34h0m0 32h0m20-34h0m-7 39h0m12-31h0m-24 6h0m-17 27h0m28-18h0m-2-9h0m8 16h0m-2-4h0m-21-18h0m10 9h0m-1-20h0m-18 29h0m-4-17h0m8 30h0m26-33h0m-30 27h0m20-18h0m-2-14h0m-46 33h0m-6 1h0m-14-35h0m-5-2h0m19 11h0m-8 24h0m10-2h0m-20 0h0m0-30h0m4 12h0m8 12h0m17-2h0m-18 11h0m8-21h0m18 18h0m-32-28h0m20 32h0m-26-27h0m19 28h0m-9-5h0m-17 1h0m42 5h0m3-11h0m-18 10h0m22-38h0m-35 21h0m29 25h0m-31-28h0m30-20h0m-18 46h0m20-24h0m-22 21h0m11-11h0m-24 13h0m34-24h0m-34 5h0m27-21h0m-4 17h0m-25-18h0m12 11h0m17 29h0m-10-27h0m7 17h0m-3-34h0m17 27h0m-18 1h0m18-5h0m-12-18h0m-6 21h0m-29 0h0m7 17h0m2 6h0m13-11h0m17-36h0m-4 6h0m-9 12h0m-10 27h0m-1-6h0m7-24h0m-20-16h0m19 40h0m23-13h0m-15-11h0m-12 9h0m17-11h0m3-14h0m-24 27h0m19-11h0m-30-17h0m10 25h0m12-2h0m-6-1h0m-15 10h0m39-4h0m-8 18h0m-17-31h0m26-4h0m-39 5h0m0 1h0m3 24h0m-5-40h0m6 30h0m24 17h0m17-28h0m-30 9h0m27-4h0m-62 20h0m-26-42h0m37 18h0m-13 28h0m1-22h0m-21-3h0m11 4h0m-5-4h0m-9-2h0m-5 1h0m43 17h0m-39-29h0m-1-3h0m1 7h0m4-5h0m13 26h0m-10-21h0m-2-10h0m36-1h0m-2 23h0m-46-27h0m30 29h0m-28 20h0m44-39h0m1-10h0m-10 41h0m-18-11h0m-16-17h0m33 22h0m-1-32h0m-28 3h0m9 1h0m18 1h0m-30 35h0m9-41h0m22 15h0m10 26h0m-19-25h0m-11-18h0m-4 40h0m-10-15h0m34 17h0m-6-7h0m-24-29h0m27 40h0m-21-3h0m27-35h0m-36 18h0m1 1h0m24 9h0m13-2h0m-1 2h0m-31-11h0m15-25h0m21 43h0m-9 5h0m5-13h0m-25-9h0m-14-19h0m42 6h0m-31 6h0m-5-5h0m40-14h0m-22 45h0m14-31h0m-14 25h0m-18-26h0m-3 6h0m15-6h0m15 34h0m-22-43h0m2 2h0m34 34h0m-10-35h0m9 12h0m-43 10h0m11-5h0m32 12h0m-3-7h0m-21 3h0m22-5h0m-35-3h0m-10-20h0m19 16h0m-64-18h0m29 3h0m-4 46h0m0-34h0m-15 22h0m-12 3h0m10-22h0m30 7h0m-32-14h0m36 33h0m-24-44h0m-23 21h0m45-11h0m-40 18h0m-6 20h0m39-39h0m-24-2h0m33-3h0m-8 42h0m5-10h0m-7-12h0m-29 5h0m28 4h0m-25-27h0m-6 9h0m27 30h0m-14-4h0m-9-16h0m7 19h0m-3-35h0m-3-5h0m22 30h0m-1 6h0m-14-1h0m-2-21h0m31 2h0m-40 2h0m27-7h0m2 32h0m-35-29h0m39-16h0m-37 18h0m44-5h0m-34 7h0m-2 18h0m-6-14h0m42-2h0m-40 1h0m-3 12h0m36-6h0m9-11h0m-33 9h0m19-10h0m-10 4h0m-18 2h0m26 6h0m15-3h0m-13-3h0m-5-17h0m-10-8h0m29 2h0m-6 43h0m-18-45h0m-15 8h0m19-4h0m-2 44h0m-22-46h0m22 9h0m-2 17h0m-22 9h0m10-8h0m8-3h0m12 15h0m2-32h0m-11 4h0m4 7h0m0 14h0m13 13h0m1-33h0m-9 14h0m-23 12h0m14-36h0m21 41h0m-26-44h0m9 9h0m-19-5h0m24 37h0m1-5h0m-70 5h0m0 1h0m-11-38h0m12 2h0m10-6h0m-20 46h0m38-34h0m-6-11h0m-28 18h0m10 9h0m3 1h0m3 4h0m-16-12h0m11 24h0m-12-3h0m-1-4h0m37-29h0m-2 30h0m-33-26h0m-1-3h0m6-10h0m11 23h0m-8-19h0m-2 21h0m28-12h0m-24 2h0m23 0h0m-17-9h0m21 10h0m-26 6h0m-16-10h0m26 8h0m-23-7h0m1-2h0m33 26h0m-38-30h0m39 23h0m-1-5h0m-17-3h0m6 10h0m-11-4h0m-15-28h0m28 37h0m10-31h0m-14 30h0m-28-6h0m31 9h0m11-33h0m-34-2h0m28 27h0m-8-5h0m19 1h0m-4-28h0m-15 11h0m-7 5h0m19 3h0m1 15h0m-23-26h0m23-8h0m-11 43h0m3-33h0m-24 34h0m19-28h0m21 5h0m-16-15h0m8 35h0m-23-11h0m28 16h0m-31-1h0m30-41h0m-8 6h0m12-5h0m-15-5h0m15 18h0m-12 29h0m1-43h0m-24 31h0m1-30h0m-45 26h0m10-8h0m-14-11h0m-16-9h0m0 25h0m12-26h0m2 16h0m15 25h0m5-16h0m-9 4h0m6 1h0m-19-12h0m11 3h0m-20-4h0m16-9h0m-19 27h0m14-3h0m28-4h0m2-27h0m-16 21h0m16-20h0m-22 24h0m1 20h0m9-20h0m-5 15h0m-11-23h0m27-10h0m-27 1h0m30 3h0m-23 18h0m16-29h0m-23 9h0m-14 2h0m44-14h0m-2 3h0m-8 15h0m-20 13h0m-12 2h0m9 11h0m-2-28h0m37 32h0m-25-21h0m2 3h0m-12-15h0m-57 24h0m33-29h0m-6 16h0m16 13h0m-35-21h0m-6 29h0m31-12h0m-20 8h0m1-27h0m-1 12h0m27 21h0m-32-20h0m6 1h0m-10-25h0m15-4h0m22 37h0m-44-36h0m19 45h0m-9-4h0m6-19h0m19 22h0m-10-3h0m-10-17h0m5 13h0m-18-9h0m31-10h0m-21 23h0m25-17h0m2-11h0m2 5h0m-14-11h0m-6 14h0m4 21h0m0-43h0m-28 35h0m5 10h0m29-34h0m-22 10h0m22-17h0m-24-3h0m37 20h0m1 19h0m-22-31h0m5 34h0m8-27h0m10 6h0m-6 20h0m-5-23h0m11 15h0m-97-32h0m43 43h0m-15-5h0m-7-12h0m12-16h0m6 16h0m-3 0h0m-35-3h0m28 23h0m-7-25h0m-18-6h0m0-18h0m8 15h0m11 33h0m5-3h0m-9-8h0m6 9h0m-10-2h0m11-10h0m-15 14h0m28-17h0m7-31h0m-24 41h0m-16 2h0m-6-1h0m23-31h0m-24 13h0m22-21h0m-19 10h0m9-5h0m24 24h0m-18-22h0m-10 28h0m25-8h0m-10 10h0m-17-20h0m42-16h0m-6 17h0m-15 18h0m15-27h0m-34 6h0m40 12h0m-16-11h0m2 4h0m-19-20h0m11 24h0m-1 4h0m-36 12h0m-15-37h0m-7 28h0m25-25h0m-14 9h0m-8-3h0m22 34h0m-14-39h0m-26-1h0m3 35h0m27-30h0m-9 23h0m10 5h0m11-39h0m-8-3h0m1 12h0m2 24h0m-8 0h0m12-26h0m-9 27h0m-20-6h0m-3 3h0m23-24h0m-34 29h0m6-39h0m37 15h0m-27 8h0m-15-19h0m4 27h0m33-10h0m-9 18h0m-10-15h0m-11-10h0m36 11h0m-5-21h0m5 8h0m-31 5h0m19-13h0m-27 42h0m3-8h0m11-18h0m-11 16h0m34 8h0m-14 4h0m-16-11h0m10-30h0m12 14h0m-69 14h0m33-13h0m-30 10h0m16-17h0m-32 3h0m8 1h0m29 13h0m8 1h0m-36 14h0m2-31h0m35-4h0m-37-9h0m28 3h0m-19 41h0m18-2h0m-4-33h0m-8 16h0m7 5h0m-27-26h0m14 35h0m21-16h0m-23 12h0m-1-9h0m-46-5h0m-3 15h0m-1-30h0m18 35h0m-1-23h0m-18-10h0m-16 27h0m34-8h0m1 4h0m5 0h0m6 9h0m-14-4h0m-11-36h0m21 19h0m-30 16h0m26 2h0m-66-27h0m20 33h0m6-31h0m0-7h0m-25-4h0m3 8h0m-28 16h0m35 54h0m-20-20h0m24-11h0m8 25h0m-14 6h0m-4-4h0m-7-26h0m-18 11h0m39 36h0m-4-35h0m8 10h0m-33 12h0m37-4h0m1-14h0m35 28h0m-27-9h0m36 5h0m-6 1h0m-12-8h0m1-33h0m-4 11h0m8-10h0m2 17h0m7 26h0m-24-39h0m9 4h0m-26 10h0m30 7h0m12 5h0m-29 2h0m64-27h0m0 15h0m22-13h0m-48-4h0m25 4h0m-26 3h0m13 22h0m18-9h0m-18 11h0m1 3h0m2-38h0m31 25h0m-30-15h0m-2 14h0m-3 8h0m20-10h0m-18-9h0m18 29h0m-30-26h0m43 24h0m-6-3h0m-39-8h0m49 5h0m-29-25h0m13 22h0m-10-7h0m17-20h0m9 7h0m-8 22h0m-25 10h0m-14-32h0m63-3h0m-15-3h0m49-5h0m-43 36h0m24-36h0m-3 15h0m7-8h0m-7-8h0m-7 2h0m-14 29h0m19 15h0m18-39h0m2 5h0m-1 10h0m-21 9h0m-7-21h0m8 32h0m-23-29h0m40 16h0m-27 14h0m29-29h0m-21-7h0m-9 13h0m34 15h0m-46-20h0m6-3h0m40 21h0m-20-4h0m-17-7h0m24-1h0m-4-18h0m-25 13h0m8 4h0m-8-14h0m36-5h0m-30 30h0m54 1h0m24 11h0m-1-14h0m-9-13h0m12-1h0m-41 8h0m17-13h0m31-11h0m-46 46h0m43-10h0m-26 0h0m24-9h0m-10-8h0m-15 1h0m9 27h0m1-6h0m20 0h0m-29-9h0m24 3h0m-4 3h0m-5-10h0m-21-24h0m31 39h0m-1-27h0m-27 0h0m28-3h0m-4 20h0m9 2h0m-41 6h0m24-28h0m7-11h0m-32 19h0m24-9h0m-9-9h0m13 42h0m-14-30h0m-3 19h0m25-17h0m-15 5h0m-22 22h0m42-3h0m-1 8h0m-13-17h0m-12 11h0m-9-25h0m29-6h0m-37 15h0m27-13h0m-4 4h0m-10-8h0m31 34h0m-27-34h0m22 0h0m25 17h0m-13 2h0m5 17h0m-9-46h0m2 2h0m7 4h0m5 0h0m-4 21h0m16-27h0m10 35h0m-14-35h0m-8 5h0m1 44h0m21-26h0m-22 26h0m-14-43h0m23-5h0m-20 33h0m38-21h0m-15 32h0m-25-40h0m21 10h0m-10 33h0m35-3h0m-8-25h0m-36 28h0m20-20h0m-6-28h0m1 29h0m4 0h0m2-23h0m23 14h0m-42 29h0m33-45h0m-10 20h0m3 1h0m-20 0h0m30-11h0m-19 32h0m5-29h0m19-16h0m-48 17h0m30 4h0m-5 1h0m16-9h0m8-12h0m-43 16h0m35 25h0m-38-38h0m40 44h0m-36-25h0m20 2h0m12-25h0m6 44h0m-24-2h0m-9-2h0m36-24h0m-29 17h0m-7-17h0m17 31h0m51-30h0m-20-17h0m33 44h0m-31-45h0m6 41h0m31 7h0m-31-2h0m-16-45h0m27 1h0m18 10h0m-11 11h0m-8 15h0m10-31h0m8 4h0m-28-2h0m20 17h0m-34 21h0m26-38h0m-11 26h0m25-16h0m5-11h0m-35 11h0m-6-5h0m40 6h0m-46 3h0m42-10h0m-17 0h0m8 34h0m-24-19h0m-2 2h0m-5 19h0m26-47h0m19 38h0m-13-10h0m-32 3h0m16-23h0m11 32h0m13-19h0m-22-12h0m21 10h0m-24-1h0m25 16h0m-4-29h0m9 23h0m-29 7h0m-4 4h0m-14-39h0m34 10h0m-32 11h0m-1-4h0m32 17h0m1-24h0m-17-1h0m6 38h0m22-18h0m17 0h0m31 9h0m-28-38h0m1 45h0m29-46h0m-18 38h0m10-3h0m4 1h0m-12-25h0m4 22h0m-26-31h0m4 27h0m-13-26h0m6 16h0m32-1h0m-10-7h0m-20 4h0m19 13h0m2 8h0m-27 0h0m21-20h0m12-4h0m-30 21h0m29 14h0m-1-43h0m6 40h0m-5-41h0m2 32h0m-9-7h0m18 19h0m-15-2h0m-27-36h0m36 23h0m-14-30h0m9 25h0m-30 18h0m13-19h0m-3 20h0m-13-13h0m9-1h0m-3-14h0m22-15h0m-9 17h0m17-15h0m10 34h0m-32-31h0m-1 11h0m-11-2h0m26 19h0m-15 7h0m-1-2h0m29-31h0m-8-11h0m11 18h0m-15 4h0m1-15h0m3 36h0m-13-14h0m-16-25h0m37 20h0m-26-20h0m26 39h0m-4-30h0m-23-10h0m14 29h0m-16-15h0m32-12h0m-22 41h0m20-6h0m-42 2h0m25-41h0m-24 4h0m17 32h0m-15-36h0m29 16h0m-28 20h0m18-34h0m-23 38h0m81-19h0m-1 13h0m-22-14h0m21 8h0m11 1h0m-12 1h0m-28-24h0m49 3h0m-21 24h0m4-1h0m-32-4h0m20 20h0m27-24h0m-35-4h0m3 15h0m23 10h0m7-7h0m-7-22h0m-36 17h0m19-33h0m19 39h0m-39-16h0m47-22h0m-22 9h0m17 2h0m-24 6h0m29-10h0m-30-5h0m19 24h0m-26 16h0m17-32h0m9 2h0m-7-2h0m3-2h0m-26-9h0m-6 34h0m46-7h0m-6 7h0m-7-4h0m4-10h0m-9 21h0m-17 0h0m0-38h0m-2 14h0m28-8h0m-8 34h0m-6-38h0m-3 16h0m-7 6h0m3-19h0m28 35h0m-28-40h0m9 26h0m-17-22h0m-8 29h0m42-12h0m-42-10h0m39-7h0m7 26h0m-32 4h0m20-5h0m3-21h0m11 33h0m-32-11h0m-10-21h0m25 19h0m3-12h0m-8 19h0m21-21h0m0 24h0m-12 4h0m-26-38h0m24 19h0m14 18h0m-21-3h0m-22 6h0m6-45h0m25 45h0m-22-13h0m-7 4h0m0 5h0m62-12h0m17-7h0m-34-15h0m47 23h0m-4 1h0m-8-26h0m-17 9h0m16 3h0m-5 26h0m-16-22h0m-9 4h0m-3 20h0m45-18h0m1-1h0m-5 3h0m0 9h0m-41-16h0m36 5h0m-16-8h0m19 19h0m4-5h0m-17-4h0m4-18h0m-5 16h0m4 10h0m-1-19h0m-18 10h0m-9-14h0m10-16h0m8 16h0m-11 9h0m17-7h0m-17-4h0m31 18h0m-13 10h0m17-19h0m-13-13h0m-4 22h0m-11-16h0m-1 27h0m-5-15h0m28 7h0m-25-36h0m0 33h0m32-11h0m-17 10h0m-24-15h0m15 26h0m-5-31h0m15-3h0m10 30h0m-32-35h0m37 20h0m-18-13h0m12 13h0m-30-21h0m-7 28h0m35-10h0m3 19h0m6-6h0m-8-15h0m-4-19h0m-4 17h0m-15 10h0m11-17h0m-2 39h0m-4-29h0m22 3h0m-32 7h0m19 17h0m13-18h0m-25-6h0m10-13h0m21-3h0m-20 35h0m18-29h0m-44 10h0m15-8h0m24 22h0m-40-25h0m-1 28h0m45 4h0m-5-43h0m-2 40h0m9-12h0m-5-26h0m-36 22h0m37 20h0m4 0h0m-10-10h0m1-6h0m-36-24h0m27 44h0m19-46h0m-46 26h0m91 12h0m-28-7h0m27 5h0m-33-38h0m-8 47h0m32-24h0m-1-22h0m-32 1h0m48 8h0m-22 38h0m-24-6h0m20-37h0m-23 4h0m46 34h0m-35-16h0m37 9h0m-16-34h0m-3 20h0m-1 1h0m13-1h0m-33 8h0m33 17h0m-2 0h0m-17-8h0m-6-27h0m-4 30h0m34-15h0m-42 20h0m0-47h0m45 41h0m-11-39h0m-7 7h0m5 23h0m-19 15h0m-16 1h0m19-42h0m-14 22h0m26-27h0m8-2h0m-31 43h0m18-14h0m-22 3h0m6-21h0m-5-11h0m40 4h0m-41 41h0m40-23h0m-5 9h0m-25-6h0m32-25h0m-37 10h0m4-2h0m5 14h0m26-17h0m-40 35h0m7-6h0m10 4h0m11-14h0m9-22h0m-25 10h0m20 2h0m-20-1h0m24 10h0m-14 4h0m22 8h0m-21 6h0m-10 8h0m-6-48h0m-11 25h0m4 2h0m29 8h0m-22-32h0m1 7h0m34 15h0m-17 21h0m-10-5h0m27-4h0m-8-38h0m-31 46h0m5-21h0m26-22h0m30 4h0m-13 3h0m18 3h0m21 22h0m-21-27h0m7 38h0m-24-38h0m38 4h0m-19-5h0m12 32h0m-6-9h0m12-14h0m-13 3h0m-5 17h0m3-3h0m-3-11h0m-20-14h0m15 5h0m-12 17h0m29-18h0m9 37h0m-35-5h0m17-16h0m-17 12h0m29 6h0m-15-18h0m-17-13h0m1-7h0m0 4h0m2 8h0m-9-15h0m43-1h0m-9 39h0m11-35h0m-12 21h0m-13 11h0m-14 2h0m9-31h0m30 22h0m-11-26h0m-19 27h0m20 2h0m9-35h0m-30 11h0m3-5h0m-13 18h0m15 0h0m15 2h0m-12-7h0m1 17h0m-7-7h0m15-7h0m-27 17h0m28 0h0m-16-17h0m-17 25h0m14-20h0m-15-4h0m4 24h0m23-15h0m-7-15h0m11 11h0m-15-16h0m27 10h0m-35 21h0m18-1h0m8-28h0m-25 28h0m0-34h0m7 0h0m-4 11h0m36 14h0m-1-16h0m-21 20h0m-1 2h0m0-12h0m-24-17h0m30 29h0m-11-26h0m27 18h0m-45-30h0m10-1h0m10 35h0m24-35h0m-10 3h0m-19 19h0m-16 17h0m26-26h0m-1 20h0m-21 11h0m24-44h0m-5 13h0m22 20h0m-23 6h0m-8-37h0m-9 0h0m5 36h0m-3-17h0m13-19h0m24 29h0m-36-19h0m39 0h0m-33-9h0m-14 35h0m31-27h0m-1 23h0m-15-16h0m-7-5h0m37 24h0m-2-20h0m0 13h0m-23 6h0m-21 4h0m20-32h0m-4-5h0m-11 10h0m20 35h0m58-40h0m-6-1h0m-15-1h0m26 5h0m-8 22h0m-1-34h0m-9 6h0m20 29h0m-15-1h0m16-34h0m-26 27h0m-3-17h0m1 36h0m-5-1h0m27 4h0m-36-6h0m9 3h0m26-31h0m-13 2h0m-11 18h0m-4-31h0m10 2h0m14 2h0m1 39h0m-12 0h0m-5-6h0m1-7h0m20-28h0m-24 41h0m26-41h0m-21 6h0m27 35h0m-31-19h0m12-24h0m-4 45h0m-4-2h0m-1-3h0m-14-35h0m35 18h0m10-24h0m-38 20h0m-3 13h0m18-26h0m-21 15h0m13 12h0m-11-4h0m4 7h0m32-31h0m-5 19h0m-19-2h0m20-6h0m-23 29h0m23-3h0m-14-17h0m5 17h0m-4-9h0m-11-13h0m0-22h0m-12 24h0m45 5h0m-26-17h0m14 26h0m-34-14h0m14 14h0m23 3h0m-19-33h0m25 20h0m-28 7h0m-13 8h0m12-32h0m-4-8h0m-6 44h0m13-21h0m13-4h0m5 22h0m-6-37h0m12 25h0m-26-33h0m20 14h0m6-3h0m-2-6h0m-26-1h0m22-5h0m8 38h0m-7-31h0m-28 6h0m-2 6h0m1 0h0m5-13h0m15 22h0m-10-21h0m-5 19h0m-9-19h0m32 30h0m-5-16h0m11 23h0m-35-12h0m9 6h0m26-10h0m30 6h0m13 2h0m-16-14h0m-8-18h0m20 7h0m-17 1h0m23 23h0m-8-7h0m21 13h0m-47-38h0m2 40h0m10 1h0m8-28h0m13 6h0m-17 26h0m-18-16h0m15-6h0m5-20h0m5 22h0m-18 12h0m19 0h0m20 0h0m-2-2h0m-4-17h0m-16 22h0m-10-22h0m7-3h0m-15 5h0m17-5h0m13-11h0m-34 39h0m32 2h0m-10-25h0m6 19h0m-16-5h0m20-13h0m-31 9h0m23-2h0m17-25h0m-21 33h0m2-14h0m7 15h0m-2 9h0m-15-3h0m26-20h0m-23-25h0m13 25h0m12 4h0m-17 0h0m-19 15h0m-2-5h0m44-25h0m-13 33h0m-3-9h0m-14 1h0m17-11h0m-3-15h0m13-5h0m-23-6h0m3 3h0m-9 11h0m4 15h0m-14-10h0m7-10h0m31 24h0m-22-21h0m-15-15h0m9 2h0m-6 46h0m37-18h0m-18-23h0m20 13h0m-23-10h0m-24 30h0m32-12h0m15-17h0m-28 11h0m6 16h0m11 2h0m-17-28h0m-1 13h0m16-18h0m9 18h0m-1 19h0m-9-44h0m-10 46h0m20-24h0m-21 10h0m-13 2h0m-8 1h0m46-1h0m-12-27h0m-32 22h0m22-1h0m-18 9h0m7 3h0m1-24h0m20 11h0m3 19h0m-34-14h0m38 6h0m-18-14h0m8-9h0m14 17h0m-32 9h0m33-13h0m-20-7h0m-3 0h0m-20 27h0m0-1h0m20-7h0m18 2h0m-38-28h0m0 14h0m21 18h0m9-23h0m12-21h0m-37 41h0m10 3h0m16-40h0m45 2h0m-1 32h0m7-5h0m-7 12h0m4-7h0m9-1h0m-14-9h0m-27-12h0m36-12h0m-3 27h0m-4-29h0m-1 34h0m-1-2h0m-30-13h0m25 5h0m-21 0h0m34-20h0m-9 7h0m17-11h0m-24 19h0m14 22h0m-30-9h0m18 1h0m15-19h0m-7 26h0m16-15h0m1-29h0m-43 15h0m29 21h0m-8-9h0m4-6h0m-22 18h0m19-37h0m5 27h0m-11 6h0m-11-9h0m9-15h0m-14 7h0m31 24h0m-15 7h0m-14-9h0m16-11h0m17-18h0m-41 33h0m10-38h0m3 18h0m18-20h0m16 21h0m-41 17h0m25-17h0m-26-1h0m20-19h0m14 1h0m-6 7h0m-29 22h0m0 5h0m16-16h0m2-21h0m11 2h0m-17 23h0m-4-25h0m-6 42h0m7-10h0m17-17h0m6-17h0m3 8h0m-31 34h0m-7-41h0m38 11h0m7 20h0m-23-7h0m18 23h0m-39-3h0m25-6h0m-7-10h0m-11 8h0m28 0h0m-19 4h0m10-9h0m0-22h0m11 29h0m-30 0h0m22 1h0m-17 3h0m18-18h0m-16-18h0m15 1h0m9 12h0m-3-8h0m4-3h0m-16 17h0m24-11h0m-36 24h0m4-26h0m9 30h0m8-9h0m-27-4h0m5 17h0m36-23h0m-44 14h0m35-12h0m-22-7h0m15-14h0m59-5h0m-24 12h0m26 21h0m-7-8h0m-3-4h0m-25 23h0m20-39h0m4 41h0m4-36h0m-9 1h0m-9 4h0m21 32h0m-37-9h0m24 5h0m-26-24h0m21 19h0m-5-21h0m-3 7h0m18-9h0m-6 0h0m16-7h0m-17 40h0m-15-25h0m-7-21h0m2-3h0m42 37h0m-32-3h0m1-1h0m6-17h0m-3 18h0m-1-11h0m12-9h0m-21 15h0m18-26h0m-21 9h0m13 37h0m5-20h0m25-22h0m1 17h0m-28 18h0m17 3h0m7-33h0m-18 34h0m14-11h0m-20-17h0m-2-12h0m16 16h0m-16-20h0m18 14h0m-6 12h0m10 16h0m6-23h0m-19-21h0m-5 7h0m-12 32h0m-4-16h0m3-16h0m9 8h0m-15-10h0m28 34h0m-29-18h0m32-21h0m-21 6h0m3 23h0m29-10h0m-36 7h0m-5 18h0m41-41h0m-2 6h0m-2 15h0m-38 4h0m-4 13h0m9-2h0m-1-34h0m14 42h0m4-30h0m2-2h0m-2-15h0m21 23h0m-11-23h0m-16 21h0m14 22h0m-12-35h0m21 31h0m-17-33h0m-17 42h0m4-32h0m19-1h0m-17 5h0m-11 19h0m45-17h0m-8 26h0m-14-31h0m16 13h0m-31-10h0m2 8h0m25-23h0m-26 44h0m-1-31h0m-10 21h0m47-8h0m0-20h0m-12-10h0m6 8h0m-42-8h0m29 29h0m1-9h0m-11 12h0m21-2h0m3-22h0m-4 25h0m-32-21h0m23 19h0m0-27h0m-6 1h0m23 8h0m-32 10h0m-4 5h0m-10 2h0m38 4h0m-4 9h0m-8-3h0m-21-28h0m38 15h0m25-14h0m1 27h0m23-34h0m-38-5h0m16 6h0m20 13h0m-12 4h0m-15 4h0m3 3h0m4 13h0m-9-4h0m21 6h0m-4-29h0m14 17h0m-11-29h0m10 2h0m-15 4h0m-5-3h0m6-7h0m-18 1h0m4 4h0m-10 23h0m0 4h0m9-10h0m7 20h0m-4-40h0m28-3h0m-29 35h0m-11-1h0m-4 6h0m25-37h0m1 19h0m16-9h0m-34 10h0m3-23h0m-8 21h0m26 20h0m5-20h0m11 0h0m-44 10h0m-1-30h0m41 21h0m-22-12h0m-1 10h0m26 14h0m-3-4h0m-26 9h0m30-3h0m-37-24h0m-1 15h0m2-28h0m2 48h0m30-19h0m-2 8h0m-34-31h0m40 36h0m-37 5h0m35-25h0m-35 23h0m17-44h0m15 35h0m-27-7h0m5-9h0m-2 4h0m-10 0h0m32-18h0m-12-1h0m-13 34h0m22-30h0m-20 12h0m11 19h0m10-10h0m-31-2h0m-5 4h0m44 15h0m-20-18h0m20-15h0m-39-10h0m24 36h0m4-25h0m-30-8h0m45 24h0m-8-29h0m-34 41h0m10-12h0m5-24h0m-12 20h0m-8-25h0m21 35h0m19 10h0m15-44h0m3-1h0m30 9h0m-32 3h0m35 2h0m-31 16h0m-8 6h0m3-28h0m23 25h0m1 9h0m8-33h0m-11-6h0m-2 21h0m-2-2h0m4-19h0m-28 8h0m22 2h0m14 16h0m-26-2h0m3-22h0m10 23h0m-16 13h0m14-35h0m5-1h0m5 13h0m-11 18h0m5-2h0m-25-28h0m21 33h0m2-30h0m1-11h0m22 46h0m-6-7h0m-32-11h0m16 12h0m13-7h0m-7 3h0m13-15h0m-15-18h0m9 40h0m9 5h0m-20-2h0m-12-44h0m13 23h0m5-4h0m11-14h0m-3 16h0m-14-23h0m23 47h0m-42-24h0m-4 17h0m-1-32h0m8 13h0m34-15h0m-20-2h0m-1 1h0m21 34h0m-41-15h0m23 11h0m9-12h0m11-9h0m-31 8h0m31-18h0m-15-4h0m-30 34h0m22-1h0m7-16h0m-20 20h0m-10 6h0m49-14h0m-4-28h0m-32 47h0m29-22h0m-21-14h0m-21 3h0m34 4h0m-20 8h0m25-24h0m0 1h0m-10 33h0m5-21h0m-16-7h0m10 2h0m-12-11h0m-1 36h0m40-19h0m9 31h0m10-40h0m-24 4h0m22 9h0m-7-7h0m28 33h0m6-27h0m-31 6h0m-15-4h0m21-3h0m-22 25h0m35-11h0m-13 2h0m15 11h0m-26-8h0m23-21h0m-6-7h0m12 25h0m-21-3h0m8 3h0m7 11h0m1 0h0m-10-12h0m-19 14h0m34-16h0m-33 0h0m29-4h0m0 4h0m11-25h0m-40 23h0m-2 17h0m2-16h0m-8-13h0m40 29h0m6-16h0m-22-25h0m-3-3h0m-20 39h0m10-6h0m17-32h0m-12 33h0m4-36h0m11 8h0m-19 20h0m21 8h0m-2-19h0m-28-5h0m3 0h0m28 11h0m4-16h0m-11 17h0m1-23h0m20 30h0m-49-17h0m11-15h0m27 37h0m-1-12h0m-9 2h0m-25-22h0m14 38h0m23-15h0m-37 21h0m17-42h0m25 6h0m-30 35h0m11-43h0m13 25h0m-28 14h0m31-24h0m-23-19h0m20 29h0m3-9h0m-12-2h0m-30 29h0m34-39h0m-15-5h0m-2 35h0m5-29h0m70 32h0m5-11h0m-34 3h0m20-13h0m5-1h0m11-8h0m-3 18h0m-40-21h0m18 26h0m6 9h0m-14 5h0m12-36h0m13 22h0m-34 5h0m34-17h0m-34 22h0m13-10h0m1-14h0m-8 15h0m-7 2h0m3-25h0m23 32h0m5-27h0m-25-8h0m17 39h0m4-3h0m12-24h0m0 25h0m-31-43h0m28 33h0m-36 9h0m36-8h0m-31-37h0m33 22h0m-27-11h0m-1-3h0m30-3h0m-44 13h0m5 27h0m20 0h0m0-8h0m-6 11h0m-15-33h0m1-2h0m16-5h0m-16 21h0m8-2h0m-1-7h0m21 26h0m4-12h0m-12-7h0m-7-18h0m-9 34h0m-2-21h0m35-19h0m-5 17h0m-34-13h0m24-3h0m13 11h0m-24 17h0m-14-6h0m10-14h0m31-7h0m-33 3h0m24 22h0m-26-23h0m-8 14h0m24-11h0m14 38h0m-29-34h0m8 27h0m34-1h0m39-3h0m-36-25h0m32 18h0m-28-7h0m5-2h0m-10-22h0m-3 13h0m-2-7h0m46 4h0m-5-6h0m-41 33h0m9-20h0m7 5h0m19 13h0m-34-7h0m48-18h0m-40-3h0m6 29h0m-3 2h0m8-3h0m-7-14h0m31-5h0m-33-15h0m9 45h0m-1-36h0m0 10h0m2-11h0m-11 21h0m-4-29h0m24 6h0m-3-1h0m-3 21h0m-1 0h0m-11 22h0m15-30h0m22 2h0m-27 16h0m23-20h0m-9 13h0m-36 6h0m47-11h0m-14-7h0m-29-1h0m38 16h0m-14-31h0m16 7h0m-34 16h0m5-21h0m24 32h0m-37-18h0m1-4h0m20 15h0m2-29h0m5 30h0m-14 2h0m29-17h0m4 16h0m-25 0h0m14-6h0m-34-10h0m9 18h0m12 3h0m17-7h0m15-4h0m17 7h0m16-15h0m-6 13h0m0-27h0m14 37h0m-35 2h0m22-37h0m1 28h0m13-12h0m-47-12h0m17 36h0m-2-24h0m3-12h0m1 29h0m17 5h0m-32 5h0m29-15h0m11 3h0m-34-35h0m-7 26h0m31-25h0m12 5h0m-46 0h0m3 0h0m16 36h0m1-2h0m-7-38h0m-3 45h0m25-46h0m-37 42h0m26-37h0m22 28h0m-33-10h0m-2-23h0m5 10h0m7 0h0m10 11h0m-14-23h0m-20 35h0m44-6h0m-1-15h0m-24-7h0m5 15h0m-20-2h0m15-4h0m25 9h0m-20 11h0m-14-22h0m35 16h0m-43 1h0m8-10h0m31-16h0m-42 27h0m37-29h0m-5 4h0m-7-3h0m-21 15h0m14-15h0m30 4h0m-34 11h0m18 29h0m54-19h0m-8-9h0m-23-17h0m22-1h0m16 7h0m-10-1h0m-30 25h0m27-31h0m4 29h0m-4 15h0m-6-6h0m-20 4h0m28-2h0m-4-40h0m-25 30h0m-3 7h0m19-9h0m1 16h0m15 3h0m-11-13h0m-18-10h0m16 6h0m25-27h0m-33 42h0m25-7h0m-20-1h0m-5-17h0m28 3h0m-36 9h0m32-17h0m-7 21h0m-17-14h0m2-9h0m-9 18h0m36 0h0m-5-13h0m-20 19h0m-3-25h0m27 27h0m-31-40h0m13 38h0m60-16h0m-11-8h0m14 26h0m8-30h0m-29 38h0m-8-25h0m-3 11h0m-3-21h0m15 3h0m-7 8h0m39-20h0m-46 14h0m13-2h0m-11 28h0m22-18h0m17 4h0m-35-1h0m19 2h0m-16-23h0m5 6h0m19 34h0m3-48h0m-34 16h0m6-13h0m21 23h0m-19 3h0m-8 2h0m-3-32h0m46 28h0m-16-2h0m-22-24h0m20 20h0m13 22h0m-28-40h0m-10 14h0m5 7h0m39-6h0m-2-5h0m-36 35h0m53-24h0m-13 17h0m6-5h0m0-21h0m30-8h0m5 16h0m-17 5h0m-23 16h0m11-15h0m7-6h0m-17-5h0m31 22h0m-18 4h0m21-43h0m-13 0h0m19 38h0m-30-8h0m19-24h0m16 3h0m-44 9h0m-4 25h0m3-4h0m26-14h0m10-5h0m21-7h0m12 20h0m6-10h0m-10-6h0m28 13h0m-4 0h0m-36 16h0m4-33h0m8-11h0m3 7h0m18 35h0m-6 20h0m-27-3h0m11 11h0m-5-9h0m27-2h0m-18-2h0m11 13h0m-31 18h0m8-7h0m27-6h0m-17 18h0m-13-29h0m22-18h0m-23 39h0m-52-10h0m17 16h0m17-22h0m-14-22h0m-13 48h0m22-13h0m7-8h0m-37-8h0m33 16h0m-29-33h0m17 38h0m12-20h0m6-11h0m-33 22h0m-2 15h0m-39-21h0m24-2h0m-33-16h0m12 33h0m0-39h0m18 37h0m-14 10h0m-12-30h0m9 27h0m-11 3h0m9-44h0m21 9h0m3 10h0m-29 1h0m33-3h0m-40 14h0m-1 0h0m6-9h0m6 9h0m-15-2h0m-3 9h0m28-27h0m-26 14h0m22 0h0m4-28h0m-13 43h0m-5-23h0m-2 19h0m-4 4h0m17-5h0m1-20h0m11 13h0m-5 3h0m-35-16h0m3-17h0m-28 36h0m3-32h0m16 23h0m-2 6h0m-12 5h0m-23-35h0m1 23h0m40 7h0m-18-28h0m20-7h0m-5 24h0m-18 7h0m25-13h0m-31-6h0m-8 4h0m5-16h0m-10 41h0m45-19h0m-21 2h0m7 18h0m12-14h0m-31 5h0m2-32h0m15 14h0m1 32h0m-24-44h0m6 38h0m29 2h0m-30-6h0m16-31h0m-27 2h0m19 16h0m4 23h0m-18-9h0m-55-39h0m14 21h0m33 2h0m-6-1h0m2 16h0m-13-12h0m1-19h0m5 18h0m-23 7h0m13-29h0m-7 1h0m23 23h0m0-1h0m-10-15h0m12 29h0m-17 2h0m3-40h0m-26 2h0m26 35h0m3-25h0m9 34h0m-26-10h0m8-13h0m6-3h0m-11-17h0m-17 33h0m4-28h0m1 24h0m19-23h0m19-11h0m-33 45h0m24-45h0m8 31h0m-38 11h0m15-9h0m9-15h0m-16 20h0m-9-26h0m21-6h0m13 33h0m-7-18h0m-27-7h0m32 35h0m-34-10h0m38-20h0m-24 7h0m-9-23h0m7 14h0m31 23h0m-14-12h0m-25 21h0m26-43h0m-23 20h0m20 3h0m-73-16h0m7-11h0m5 19h0m10 17h0m-22-28h0m-1 32h0m26-35h0m3 22h0m-8-6h0m9-18h0m6 27h0m-2-7h0m-21-17h0m-9-1h0m-1 18h0m1-7h0m36 23h0m-39-27h0m-3 31h0m20-36h0m11-3h0m-26 16h0m17 11h0m-23-20h0m41 25h0m1-18h0m-33-16h0m8 23h0m15-16h0m-35 9h0m16 0h0m19 11h0m-13-4h0m-12 14h0m36-38h0m-37 39h0m-9-19h0m17 4h0m4 22h0m10-47h0m-18 8h0m-4 24h0m23 10h0m-4 1h0m-7-22h0m27 7h0m-39 16h0m33 3h0m-1-6h0m-21 6h0m15-24h0m-18 23h0m9-20h0m6-9h0m-27 22h0m37-16h0m3 7h0m3 6h0m-28-14h0m-58 12h0m12-29h0m7 14h0m-30 27h0m39-2h0m-10-35h0m-23 14h0m33-18h0m-7 40h0m7 1h0m-21-9h0m1-2h0m26-18h0m-44-4h0m45 19h0m-32-1h0m-12 2h0m45-12h0m-46 6h0m24 16h0m-11-42h0m-13 43h0m38-38h0m-5-6h0m-13 29h0m-17 5h0m16-31h0m-15 37h0m42-20h0m-10 7h0m-18-22h0m-1 31h0m-13-6h0m26-2h0m-17 18h0m6-20h0m10-14h0m-7 32h0m12-45h0m5 17h0m-9 28h0m-9-40h0m2 38h0m-15-3h0m15-39h0m20 12h0m-38 32h0m11-44h0m8 8h0m6 1h0m-27 3h0m3-6h0m3 22h0m34 4h0m-46-7h0m12 8h0m-10-33h0m1 46h0m32-26h0m-18 14h0m-16 13h0m-30-13h0m11 4h0m15 2h0m-23-34h0m-20 29h0m38 8h0m-1-43h0m-21 45h0m21-21h0m-19-5h0m-10-19h0m8 24h0m26 2h0m-39 20h0m8-3h0m33-31h0m-9 33h0m-23-22h0m-15-20h0m1 37h0m12-13h0m3 17h0m-16-18h0m27-13h0m-27-4h0m19 24h0m-6-28h0m22 25h0m-14-8h0m24-6h0m-5-9h0m-23 36h0m20-38h0m-4 11h0m8 7h0m0 1h0m-9 16h0m-26-20h0m-4 18h0m36-3h0m1 11h0m-36-38h0m44 25h0m-19-26h0m6 9h0m2 27h0m-29-23h0m-8 21h0m13-19h0m34-11h0m-38-11h0m-3 42h0m1-12h0m35-23h0m-27 15h0m18 14h0m16 9h0m-5-34h0m-10 27h0m-10-38h0m-16 42h0m40-34h0m-25 33h0m14-14h0m-5-5h0m-13-13h0m26 5h0m-26 2h0m25-13h0m-22 41h0m14-4h0m-27-26h0m9-6h0m7 14h0m-9 13h0m9 1h0m-21 8h0m29-30h0m3 22h0m-19 7h0m5-34h0m1 1h0m23-1h0m2 28h0m0 1h0m-25-3h0m-22-32h0m4 29h0m16-27h0m-7 36h0m-4-14h0m39-10h0m-17-1h0m-7 26h0m10 4h0m-47-15h0m-24-8h0m0 13h0m-2-31h0m-4 6h0m34-9h0m-1 23h0m-8-17h0m-1 30h0m-13-35h0m-9 3h0m7 40h0m24-12h0m-31-13h0m23 22h0m2 4h0m-35-11h0m42-2h0m-41-18h0m35-17h0m-32 28h0m2 8h0m11 1h0m0-12h0m9-19h0m-2 10h0m6 7h0m12 15h0m-31 2h0m7 4h0m-6-35h0m24-10h0m-17 24h0m18 0h0m-3-5h0m9 4h0m-38-18h0m6 35h0m8-21h0m22 13h0m7 13h0m-26-15h0m-1-28h0m-13 45h0m12-46h0m-1 48h0m15-25h0m-12 14h0m-14 7h0m26-38h0m-2 15h0m-24-12h0m18 36h0m-7-2h0m13-11h0m-22 3h0m-6 7h0m0-16h0m29-15h0m10 32h0m-22-16h0m-20-20h0m-1 11h0m8 5h0m-5 19h0m10-14h0m15-28h0m-2 2h0m22 18h0m-4-11h0m0 11h0m-11-17h0m-20 45h0m-10-6h0m14-28h0m-8-14h0m7 10h0m-11-7h0m13 24h0m-4-15h0m11-9h0m9 31h0m-25-25h0m9 18h0m-29 19h0m-17-31h0m-20 20h0m29 6h0m-21-6h0m15 7h0m-8-34h0m18 7h0m-25 0h0m6 3h0m11 30h0m-16-36h0m13 0h0m-19 15h0m4 9h0m21 6h0m7-21h0m3 3h0m7 13h0m-41-8h0m-4-30h0m12 7h0m8 30h0m-10-28h0m6 1h0m31 34h0m-14-19h0m3 10h0m-24 3h0m-13-25h0m23 26h0m23 9h0m-30-32h0m32-5h0m-40-1h0m15 39h0m-23-46h0m19 9h0m12 2h0m10 18h0m0-22h0m-42 0h0m43 36h0m-8-17h0m-9 20h0m-23-4h0m7-15h0m25-17h0m14 10h0m-32 25h0m13-27h0m-18 26h0m17-44h0m-22 13h0m25-12h0m0 9h0m-30 16h0m26-15h0m-28 16h0m31-15h0m-19 4h0m-7 1h0m35 8h0m-1-21h0m-25-1h0m7 34h0m14-28h0m-19 5h0m10 26h0m-1-41h0m7 44h0m-17-28h0m16 21h0m-8-2h0m13-19h0m9-3h0m-18 29h0m12 4h0m-33-23h0m-2 17h0m5-28h0m35-9h0m-19 6h0m21-1h0m0 35h0m-23-37h0m23 18h0m-24-14h0m-20 32h0m41-21h0m-22 23h0m9-19h0m-26-10h0m-28 1h0m-15 20h0m23-30h0m-27 21h0m29-22h0m-5 23h0m14-3h0m-22-16h0m13 26h0m-7-37h0m15 23h0m-43 8h0m28-21h0m0 12h0m10 3h0m-3-3h0m-15 15h0m4-17h0m12 11h0m-14 16h0m-2-36h0m-16-5h0m-5 1h0m1 39h0m7-40h0m17 26h0m15-23h0m-17-2h0m8 26h0m-11 12h0m-16-38h0m11 40h0m14-31h0m-26 26h0m43-14h0m-46-10h0m45 24h0m-10-19h0m0 23h0m-2-43h0m-15 32h0m-9-19h0m14 12h0m-16-23h0m3 20h0m27-23h0m-27 0h0m-10-2h0m47 4h0m-6 21h0m-23-19h0m-10 30h0m0-1h0m3-16h0m0 5h0m29-7h0m-4 8h0m-3-16h0m4 15h0m-18 16h0m-5-29h0m-10-9h0m9 27h0m31-3h0m-3 9h0m-13-34h0m21 48h0m-27-21h0m11-15h0m-16 7h0m20-20h0m8 13h0m-27-4h0m-9-4h0m-9 25h0m34-17h0m-17 8h0m3 23h0m-12-9h0m40-1h0m-48 13h0m11-11h0m35-16h0m-22-3h0m2 24h0m-10 3h0m25-4h0m8 0h0m-8-6h0m-34-16h0m0-17h0m17 41h0m17-3h0m-39 0h0m16 0h0m15 5h0m-18-23h0m34-13h0m-30-5h0m-3 13h0m-8 16h0m6 3h0m35-30h0m-69-5h0m-6 37h0m-14-12h0m36-20h0m-10 30h0m3-34h0m-29 24h0m35 10h0m-27-20h0m30 11h0m-3-26h0m-1 21h0m-15 3h0m7 7h0m11-9h0m-8-12h0m-19 14h0m-4-17h0m13 33h0m-15-26h0m-1 14h0m9 18h0m12-36h0m-28 13h0m27 8h0m-17-12h0m24 21h0m-31-20h0m9 24h0m23-3h0m-35-17h0m-3-14h0m16-2h0m-1 6h0m19 28h0m-1-21h0m2 14h0m-18-16h0m-5-3h0m3 20h0m-4 13h0m-12-6h0m23-12h0m11-6h0m7 24h0m-35-49h0m7 24h0m29 17h0m0-16h0m-5 7h0m-15 9h0m-20-36h0m42 6h0m-18-5h0m1 31h0m20-33h0m-39 39h0m-7-18h0m39-5h0m-40 20h0m44-20h0m-46 15h0m43 9h0m-6-19h0m-31-16h0m10-2h0m26 1h0m2 17h0m4-13h0m-21 5h0m-14 13h0m34-2h0m-18-27h0m-23 35h0m-6-24h0m39 2h0m-5 14h0m-26-19h0m21 26h0m12-4h0m-26-21h0m0 4h0m8 21h0m13 7h0m-25-38h0m-3 35h0m16-33h0m14-2h0m-6-4h0m-23 5h0m15 39h0m19-30h0m-58 11h0m-25-1h0m-8 11h0m31 14h0m-6-6h0m-1-32h0m-23 6h0m34-7h0m-11 1h0m-9 34h0m-17 3h0m21-9h0m-6-37h0m3 2h0m-14 20h0m25 8h0m3-25h0m-26-7h0m40 38h0m-13-33h0m-17 26h0m5-7h0m-9-6h0m31 26h0m-18-4h0m-8-27h0m31 2h0m-5 17h0m-10 15h0m3 1h0m-11-32h0m6-4h0m-16 30h0m24 7h0m-32-4h0m42-21h0m-16-5h0m-27 17h0m41 2h0m-12-12h0m-11 16h0m3-20h0m-27-5h0m39 3h0m-21 26h0m1 3h0m-8-13h0m35-16h0m1 9h0m-45-13h0m9-5h0m28 29h0m-34-34h0m13-3h0m26 6h0m-27 40h0m-14-22h0m28-7h0m6 20h0m-31-23h0m4 10h0m36 4h0m-27-24h0m23 41h0m3-32h0m2 1h0m-46-15h0m37 25h0m-16-8h0m-1-14h0m-18 44h0m44 0h0m-30-10h0m26-14h0m4 5h0m-23 7h0m-4-33h0m19 13h0m-3 2h0m-23-7h0m-8 11h0m0 13h0m24-11h0m-21-24h0m23 7h0m17 26h0m-24 7h0m23-38h0m-30 5h0m6 34h0m-6-30h0m8 6h0m12-4h0m-24 20h0m19 9h0m8 3h0m-33-41h0m36-5h0m-81 8h0m10 11h0m-9-1h0m9 10h0m12-8h0m-14-9h0m4 23h0m-1-32h0m9 38h0m4 6h0m-23-7h0m1-39h0m34 12h0m-37-3h0m25 4h0m9-5h0m-6 5h0m-36 34h0m41 0h0m-8-13h0m-11-5h0m12 16h0m-27-37h0m12 1h0m1 16h0m-16-25h0m31 3h0m-19 23h0m29 8h0m-31-1h0m-9-20h0m10 5h0m22-10h0m-26 9h0m-11-5h0m12 28h0m11-16h0m17 14h0m-12-18h0m-13 5h0m-5-21h0m-4 27h0m20 17h0m6-34h0m-2-7h0m-1-3h0m-17 41h0m2 0h0m8-3h0m12-11h0m-22 12h0m21-13h0m-33 5h0m-3-25h0m4 1h0m35-6h0m8 16h0m-32-8h0m-12 4h0m5 12h0m36 17h0m-16 0h0m-1-22h0m16 9h0m-17 6h0m14-10h0m-38-21h0m40-5h0m-33 12h0m0-13h0m23 41h0m-24-24h0m-6-4h0m7 14h0m-2-2h0m42 1h0m-8-9h0m6-6h0m-28-8h0m21 15h0m-35-13h0m-1 0h0m10 30h0m23-8h0m-25 7h0m4-17h0m16 12h0m17-30h0m-5 0h0m-40 11h0m39 27h0m-41-8h0m-1 3h0m2-28h0m20 0h0m21-5h0m-31 4h0m-1-5h0m22 6h0m-69 32h0m0-2h0m27-4h0m-11 9h0m-15-11h0m6 0h0m14 14h0m-15 2h0m-12-40h0m32 28h0m-4-6h0m-26-27h0m17 11h0m-12 29h0m14 3h0m5-40h0m-18 14h0m2-14h0m12 1h0m-27 9h0m38 22h0m-37-20h0m18 14h0m-4-11h0m20 16h0m-7 4h0m-13 7h0m27 3h0m-26-43h0m1-4h0m4 29h0m-18-15h0m29 15h0m-20-7h0m8-2h0m-6 19h0m28-3h0m-7-15h0m-17 6h0m-17-17h0m37 36h0m2-31h0m-20 2h0m-24-14h0m24 33h0m15 7h0m-38-3h0m15-1h0m-13-17h0m39-9h0m-27 13h0m30 15h0m-37-2h0m-1-22h0m7 5h0m31-7h0m-32-9h0m26 35h0m-9-13h0m-3-28h0m-16 38h0m22-26h0m-9 29h0m24-5h0m-44-12h0m0 12h0m7-33h0m-2 43h0m27-26h0m7-18h0m3 26h0m-31-5h0m-4-10h0m-6 9h0m18 8h0m-20-16h0m30-7h0m-17-3h0m9-6h0m-1 19h0m9-1h0m-23 11h0m27-22h0m-27 10h0m31 27h0m-8-35h0m-31 22h0m46-1h0m-15 8h0m-18-24h0m13 32h0m14-42h0m-6 16h0m12-15h0m-29 2h0m13 3h0m-3 24h0m3 6h0m11-31h0m-27 26h0m-12-21h0m38 8h0m-20-20h0m1 40h0m-9-5h0m18 0h0m-21-8h0m-7-8h0m-10 9h0m-1 14h0m6-44h0m-34 39h0m-12-4h0m19-26h0m-2-6h0m-4 30h0m-10-20h0m18 0h0m2 21h0m-8 15h0m17-1h0m-2-47h0m-6 24h0m8-10h0m3 7h0m10-13h0m-2 31h0m-35-10h0m26 14h0m-12-11h0m-7 9h0m6-25h0m25 0h0m-7 28h0m4 0h0m2-8h0m-37 5h0m22 0h0m-6-1h0m-12-9h0m25 3h0m-16-19h0m-14 10h0m20-15h0m-24 36h0m29-13h0m7-19h0m-15 19h0m18-19h0m-19 5h0m12-5h0m-26 21h0m18 3h0m-15-25h0m-8-7h0m20 37h0m16-13h0m-43 2h0m36-27h0m6 4h0m5 29h0m-42 0h0m-4-23h0m21 4h0m-18-11h0m4-5h0m40 27h0m-37 6h0m1-32h0m30 19h0m-38-20h0m41 18h0m-5-9h0m7-12h0m-26 16h0m-10 32h0m30-46h0m2 29h0m-27 1h0m7-31h0m9 0h0m-32 13h0m15 33h0m3-33h0m-1 18h0m-8 9h0m40-9h0m-39-33h0m-6 5h0m36 15h0m-17-15h0m-1-2h0m6 43h0m-14-7h0m-7-4h0m41-7h0m-42 8h0m20-36h0m14 19h0m-22 5h0m13-20h0m-25 18h0m-5 22h0m36-11h0m-22 10h0m9-30h0m8-12h0m-8 10h0m6 27h0m15 2h0m-41-1h0m39-1h0m6 8h0m-96-14h0m19 4h0m17-25h0m-27 9h0m23-12h0m-33-5h0m29-1h0m15 10h0m-15 31h0m17-38h0m-8 31h0m8-15h0m-13-21h0m-2 44h0m-2-44h0m1 20h0m-26 14h0m20 6h0m-10 4h0m0-26h0m-13-8h0m11 12h0m14 13h0m17 4h0m-24-20h0m-16 1h0m26-14h0m18 16h0m-35 17h0m17-38h0m1 36h0m-20-34h0m33 9h0m-22-8h0m3 43h0m11-4h0m-10-1h0m-27-10h0m35 4h0m14-29h0m-42 27h0m8-33h0m14 10h0m3 17h0m-4-12h0m1-1h0m-27-12h0m4 8h0m3-3h0m21 6h0m6 26h0m-35-20h0m8-10h0m21 20h0m12 14h0m-23-21h0m12 10h0m17-6h0m-16-25h0m3 31h0m-4-3h0m-18 5h0m-8-23h0m28 13h0m-9 12h0m-24-12h0m42 6h0m-1-24h0m-27 12h0m-1-6h0m3-2h0m-13-8h0m19 14h0m15-15h0m-2 33h0m-6 14h0m1-27h0m16-12h0m-12 33h0m-34-27h0m-6-13h0m-19 10h0m-3 34h0m-17-46h0m11 15h0m-9 20h0m31-35h0m-23 29h0m16-6h0m-8-17h0m0 42h0m26-24h0m-34 20h0m-11-25h0m32 0h0m-19 19h0m12-38h0m-14 6h0m15 14h0m-9-13h0m15-6h0m-3 8h0m7 30h0m-9-30h0m-31 12h0m39 6h0m-10 14h0m1-25h0m-27 5h0m33 16h0m-1-18h0m14-18h0m-11 37h0m-36-20h0m6 3h0m36-10h0m-39 28h0m20-15h0m-1 19h0m-24-37h0m43 23h0m0 7h0m-40-36h0m9 29h0m32 15h0m-35-16h0m15 13h0m-20-34h0m3-3h0m12 21h0m29 13h0m-40-15h0m33-12h0m-15 17h0m-24 8h0m26-29h0m-11 30h0m31-1h0m-4 7h0m-13-27h0m-11-6h0m15 20h0m5 16h0m-40-33h0m49 10h0m-27 9h0m-1-4h0m-5 18h0m7-17h0m-6 4h0m22-27h0m-28 11h0m4 16h0m10-17h0m19 13h0m-9-11h0m9 6h0m-25-12h0m20 33h0m-73-38h0m-4 1h0m23-8h0m10 14h0m-30-13h0m11 29h0m13 0h0m-18-24h0m5 42h0m-25-33h0m20 6h0m28-6h0m-27-1h0m-4-6h0m4-7h0m25 9h0m-44 37h0m37-17h0m-4 15h0m12-24h0m-9-9h0m-11 18h0m-12-9h0m12-21h0m21 22h0m-29 9h0m17-22h0m-16 25h0m11-26h0m16-2h0m0-4h0m-28 38h0m5-37h0m-15 34h0m33-37h0m-40 27h0m16-21h0m-7 35h0m15-16h0m0 14h0m-20-18h0m-6 2h0m46 14h0m-43-30h0m23 30h0m15-34h0m-35 26h0m36 15h0m2 1h0m-25-1h0m-12-34h0m7-8h0m32 17h0m-44-20h0m46 33h0m-4 12h0m-27 2h0m4-32h0m8-3h0m3 25h0m5 0h0m-3-9h0m-10-8h0m-25 19h0m35-21h0m-1 16h0m13-34h0m-1 0h0m1 23h0m-16 5h0m10-19h0m-1 3h0m-21 20h0m0 1h0m7-27h0m6 37h0m11 5h0m-66-36h0m-6-9h0m-17 14h0m40 4h0m-22 20h0m-18-22h0m11 27h0m-9-37h0m8 0h0m25 10h0m-14-14h0m22 17h0m-4-9h0m-21 10h0m19 20h0m-26-43h0m8 25h0m-20-13h0m31 17h0m-19-8h0m22-5h0m-4 21h0m-24-22h0m-6 24h0m2 2h0m23-21h0m3 29h0m-6-25h0m12 2h0m-4 13h0m-6 5h0m-16-21h0m38-22h0m-48 22h0m32-11h0m-11 8h0m-15 25h0m-5-26h0m32-13h0m-12 37h0m11-12h0m12 17h0m-43-40h0m10 14h0m20 7h0m-19-21h0m18 41h0m13-14h0m-5-14h0m4 20h0m-17 8h0m15-28h0m-25 23h0m32-20h0m-17 0h0m-17-1h0m2 12h0m25-11h0m-34-7h0m11 2h0m19-11h0m-4-8h0m15 2h0m-48 18h0m29-14h0m-28 31h0m41 8h0m-40-32h0m26 13h0m14 17h0m5-36h0m-49 16h0m-40 12h0m20-6h0m-18-8h0m25 28h0m-28-26h0m4-7h0m38 14h0m-45 13h0m18-9h0m-14 1h0m18 4h0m20-23h0m-35 6h0m-4 23h0m9-33h0m-16-11h0m40 13h0m-14-10h0m1 28h0m7 13h0m14-40h0m-14-5h0m-6 2h0m2 37h0m16-29h0m-30 6h0m26 16h0m-24-29h0m16 33h0m-30-36h0m30 10h0m-28 28h0m-4 2h0m35-8h0m-7-7h0m-2 20h0m-5-19h0m7-18h0m-29 21h0m45-7h0m-18-21h0m-1 42h0m-8-4h0m-14 5h0m34 3h0m-10-39h0m-2 20h0m-23-6h0m-49 1h0m8-6h0m-5 1h0m5 10h0m33-16h0m-21 3h0m16 29h0m-6-30h0m-11 33h0m4-20h0m-8 6h0m-1 11h0m2-27h0m8 28h0m-16-24h0m-7 28h0m22-44h0m-27 38h0m12-43h0m0 20h0m2 27h0m1-12h0m25-11h0m4-9h0m-33 27h0m3-41h0m12 39h0m1-27h0m-5 27h0m-12-36h0m5 23h0m-9 13h0m-1 4h0m36-22h0m4 8h0m-41 9h0m21-12h0m16 7h0m-41-7h0m-23 11h0m-10-22h0m6 18h0m-12 10h0m29-8h0m-29-3h0m16 4h0m4-8h0m10 10h0m-1-12h0m-41 15h0m38-25h0m10-6h0m0 1h0m-44 9h0m30-9h0m-32 0h0m4-5h0m19 32h0m18-20h0m-24-16h0m30 21h0m-16 7h0m-7-1h0m12-4h0m-2 1h0m-34-12h0m5-11h0m36 4h0m-3 41h0m-24-22h0m27 19h0m-30-22h0m35 22h0m-20 3h0m-1-26h0m-17 0h0m23 14h0m4-7h0m0-9h0m-5 27h0m15-25h0m-37 24h0m14 2h0m4-29h0m-42 27h0m-21-27h0m23-16h0m-15 22h0m1 11h0m-3-11h0m-4-21h0m26-4h0m-33 13h0m28 29h0m8-6h0m-46-33h0m38 1h0m-22 17h0m-4-10h0m34 14h0m-46 13h0m48-20h0m-4 11h0m-31-21h0m11-4h0m-19 5h0m9 14h0m29-4h0m-35 1h0m14 5h0m26 17h0m-30-23h0m-7-5h0m-59 4h0m36 6h0m3-24h0m-6 46h0m11-8h0m-38 7h0m41-45h0m-25 33h0m-4-33h0m-3 4h0m17 32h0m-12-14h0m-17-21h0m7 22h0m-16 6h0m-26-16h0m9 14h0m-10-16h0m-16 17h0m16-12h0m-10 51h0m35-2h0m-9 3h0m-24-9h0m8 39h0m-4-37h0m18 21h0m-30 5h0m41-26h0m0 13h0m33-19h0m-12 10h0m-9 19h0m6 5h0m35-19h0m-22-5h0m-4 25h0m24-4h0m-38 8h0m6-12h0m19 9h0m14-9h0m0 12h0m-13 3h0m-18-16h0m0 2h0m24-2h0m34-5h0m5 7h0m17-11h0m-3 23h0m-9-6h0m15-23h0m-7 7h0m0 6h0m-24-29h0m26 18h0m0-15h0m1 20h0m-19-12h0m-20 5h0m37 16h0m-16 5h0m19-35h0m-18 9h0m-2 9h0m8 10h0m15 16h0m-8 2h0m-6-12h0m-23-13h0m5-19h0m24-2h0m-12 43h0m36 0h0m27-36h0m-33 21h0m0-3h0m41-26h0m-14 35h0m-10-3h0m15-22h0m-23 25h0m23-11h0m-19-9h0m24 13h0m-1-22h0m-24 2h0m-1 11h0m21 5h0m-21 12h0m-11-1h0m7-10h0m-5-12h0m-2-15h0m10 20h0m-9 28h0m7-40h0m33-2h0m-40 43h0m29-3h0m-17-21h0m5-20h0m-11 31h0m-11-25h0m25-3h0m-28 37h0m11-12h0m23-17h0m9-15h0m-22 35h0m27-14h0m-12 24h0m13-27h0m32-3h0m-18 7h0m25-13h0m3 3h0m-5 13h0m-19-10h0m5-6h0m-7 10h0m22-16h0m-9 1h0m-10-3h0m18 38h0m-19-35h0m19 31h0m-9 5h0m-18-5h0m9-32h0m-5 17h0m21 14h0m-1-17h0m-24-16h0m-9 28h0m26-9h0m1 10h0m-20-6h0m26 5h0m-22-15h0m9 31h0m-9-9h0m11 1h0m-18-22h0m16-15h0m-21 4h0m21 23h0m-15 15h0m14-21h0m-17-13h0m45 6h0m-25 30h0m-5-16h0m13-4h0m17-3h0m-33 17h0m-4-9h0m37-16h0m-22-6h0m12 38h0m-25-20h0m79-2h0m-41-20h0m35 6h0m-18 38h0m-14-39h0m40 38h0m-18-2h0m8-30h0m-5 25h0m14-22h0m-21 11h0m-1 8h0m-11-2h0m5-14h0m5 28h0m2-11h0m-16-5h0m0 1h0m37-8h0m5 1h0m-25-11h0m-22 12h0m14-15h0m-14 29h0m1-25h0m7 11h0m40-5h0m-45-5h0m25-16h0m-23 15h0m7 6h0m30-19h0m1 26h0m3 11h0m-40-19h0m40 9h0m-19-27h0m8 12h0m-20 30h0m26 2h0m-6-43h0m-25 6h0m0-8h0m38 33h0m-7-15h0m-35 8h0m18-3h0m6-4h0m11-16h0m3 32h0m-37 5h0m43-6h0m8-30h0m6 1h0m12 32h0m-27-22h0m49 6h0m-44 20h0m14-21h0m2 14h0m-13-35h0m25 12h0m-18-4h0m15 23h0m9 0h0m-26-6h0m-9 22h0m1-19h0m34-20h0m-26 2h0m1-6h0m8 16h0m-14 25h0m-7-6h0m29-10h0m-5 8h0m13-36h0m-20 46h0m25 0h0m-5-39h0m-35 37h0m21-8h0m2 8h0m-11-47h0m-10 36h0m35-10h0m-40-10h0m11-7h0m-3 10h0m-7-2h0m15-6h0m-15-1h0m35 30h0m-31-2h0m21-32h0m5 3h0m-17-9h0m35 45h0m-8-32h0m-10 36h0m11-31h0m-34 10h0m27 2h0m-3-13h0m-7 31h0m21-30h0m-32-16h0m0 35h0m30-26h0m-26 24h0m14-13h0m13 19h0m-1-14h0m-10-8h0m-32 4h0m30-17h0m-1 37h0m-7-33h0m24 6h0m-1 26h0m-6-27h0m13 19h0m33 0h0m-4-10h0m-23 22h0m-9-27h0m32-9h0m-19-2h0m-6 25h0m-1-26h0m11 27h0m7 1h0m-16-25h0m7 8h0m18 16h0m-9-26h0m-9 28h0m-11-11h0m6-5h0m17 23h0m6-40h0m8 23h0m-8 20h0m-3-20h0m-11 20h0m-20-40h0m27 21h0m9 19h0m-24-44h0m18 10h0m-12 2h0m-6 3h0m-12-4h0m19 26h0m21 9h0m-26 0h0m34-17h0m-9-26h0m-36 24h0m18 14h0m-21-29h0m25 20h0m21 3h0m-19-6h0m15-25h0m-12 43h0m-18-35h0m-2 28h0m14-7h0m15-26h0m-32 5h0m11 29h0m-15-39h0m40 11h0m-20 27h0m10-32h0m-3 33h0m-21-19h0m6-13h0m23-7h0m-18-4h0m28 3h0m-25 11h0m-3-14h0m21 17h0m8 10h0m-2-4h0m2 17h0m-35 6h0m-9-22h0m30-8h0m-5 2h0m69 4h0m-38 8h0m-2 12h0m36-18h0m-31 3h0m19-24h0m9 10h0m-26 13h0m20 19h0m-11-12h0m-14-25h0m4 0h0m-5 25h0m-5 15h0m37-8h0m-40-20h0m37 13h0m-31-25h0m10-8h0m9 24h0m10-10h0m-7 5h0m-22 20h0m1-35h0m7 37h0m30-5h0m-43-30h0m19 26h0m22 6h0m-25 8h0m23-38h0m-32 26h0m7-16h0m-3 7h0m20 5h0m6 17h0m1-46h0m-13 9h0m0 35h0m-12-28h0m0-3h0m11-1h0m9-4h0m10 15h0m-46-1h0m26 4h0m10 11h0m-35-20h0m11 13h0m14-20h0m15 12h0m-38 4h0m3 9h0m2 7h0m10-31h0m15 27h0m-10-27h0m12 23h0m-34 5h0m48 0h0m-28 5h0m10-40h0m9 25h0m-12-22h0m-2 14h0m17 19h0m0-25h0m-26 14h0m-2 2h0m22-32h0m12 23h0m-35-6h0m22 26h0m-31-17h0m87-12h0m-42 12h0m20-25h0m6 45h0m-17-33h0m27 10h0m12-12h0m-30-6h0m0-2h0m19 28h0m-3 4h0m-12 1h0m4 0h0m17-18h0m-34 4h0m-5 15h0m20-20h0m0 12h0m-23-17h0m37-5h0m-25 13h0m-13-12h0m27 1h0m-14 11h0m23-5h0m7 32h0m-30-30h0m20 29h0m-1-19h0m-31 8h0m28-9h0m-16 12h0m9 9h0m1-37h0m10 38h0m0-40h0m-28 17h0m16-15h0m26 1h0m-43 3h0m-1-13h0m29 28h0m14-29h0m-10 46h0m7-5h0m-35 5h0m26-22h0m3-24h0m-9 25h0m-4 19h0m0-19h0m17 9h0m-39-33h0m8 8h0m21 10h0m-1 25h0m-9-13h0m-3 10h0m25-18h0m-7 26h0m6-18h0m5-3h0m-30-20h0m25-6h0m-22 34h0m-18-34h0m5 6h0m18-4h0m-11 12h0m27-5h0m3 5h0m-26 27h0m22-31h0m-7-10h0m-9 14h0m7-4h0m-30-3h0m19 3h0m-2 7h0m6 29h0m-21-13h0m26-30h0m70 1h0m-46 7h0m35 21h0m5-9h0m-16 16h0m-23-18h0m-3 7h0m10-25h0m-10 1h0m48 29h0m-33 12h0m27 1h0m4-35h0m-26 4h0m-15-7h0m20 17h0m-10 14h0m2-26h0m1-3h0m-8 17h0m33-17h0m-42 17h0m8-25h0m3 9h0m34 10h0m-33-11h0m-13-7h0m35 10h0m6 12h0m-3-9h0m-16 17h0m20-30h0m-27 23h0m-13 16h0m0-26h0m9 14h0m4-18h0m16 26h0m15-31h0m-19 4h0m-10 11h0m15-2h0m10 15h0m6 1h0m-13-5h0m2-10h0m-37 25h0m37-21h0m-8 13h0m-7-33h0m3 36h0m11-27h0m-12 31h0m15-29h0m-17 23h0m7-32h0m-21 37h0m8-46h0m-17 38h0m15-37h0m17 18h0m4 9h0m-1 2h0m-18-21h0m2 33h0m20-37h0m-17 44h0m-21-2h0m20-16h0m-1-31h0m18 0h0m-31 15h0m5-8h0m30-4h0m2 36h0m-9-32h0m-17 14h0m5 1h0m26-4h0m-22 1h0m-6-14h0m9 12h0m10 10h0m-35 20h0m27 0h0m-6-13h0m-6-33h0m11 5h0m17 16h0m-27-11h0m39 24h0m23 13h0m-7-44h0m16 36h0m-20-23h0m3 13h0m12-13h0m-23 18h0m13-1h0m-22 13h0m21-5h0m15-10h0m-8-17h0m-21 14h0m28 15h0m-32-16h0m34-21h0m-11-1h0m-26 38h0m7-17h0m-7-4h0m-1 10h0m4-23h0m22 14h0m-24-12h0m14-9h0m21 9h0m-2-4h0m-11 27h0m-28 12h0m16-18h0m-12 2h0m43-17h0m-44 20h0m3-1h0m43 13h0m-35-36h0m8 26h0m-22-26h0m39-6h0m-34 18h0m13 12h0m-15-28h0m32 7h0m-5 27h0m-7-18h0m25-10h0m-17 17h0m-17 4h0m2 6h0m-4-12h0m27-24h0m-28 37h0m32-15h0m6 0h0m-27-25h0m-20 46h0m40-4h0m-38-9h0m27-1h0m-19-4h0m2-22h0m-10 26h0m44-15h0m-12 9h0m13-14h0m-40 28h0m8 1h0m7-9h0m15-24h0m-25-2h0m13 7h0m-20 20h0m18-13h0m21 21h0m-15-32h0m-30-4h0m61 20h0m28-18h0m-12-5h0m-26 11h0m10-4h0m16 40h0m-27-40h0m18 34h0m14-34h0m-26 36h0m24-5h0m-29-27h0m46 30h0m-36-35h0m11 4h0m-12-9h0m24-2h0m-18 6h0m-14 20h0m10 5h0m-13-1h0m14-17h0m25 7h0m-28 27h0m34-14h0m-7-4h0m6-10h0m1 20h0m3-17h0m-29-19h0m10 0h0m-25 0h0m30-2h0m-29 46h0m6-21h0m36 10h0m-7-29h0m-20 0h0m-17 38h0m-1 3h0m37-13h0m-31-33h0m2 22h0m-5-7h0m38 1h0m-37 25h0m23-34h0m-23-4h0m33 38h0m-3-44h0m-25 29h0m13-28h0m4 18h0m-11 13h0m20 5h0m-24-14h0m36 16h0m-5-11h0m-2-22h0m-23 30h0m3-10h0m-11-10h0m-4 29h0m-7-30h0m45-9h0m-42 26h0m42-30h0m-21 14h0m-9 24h0m-4-40h0m6 20h0m-1-13h0m24 30h0m-10 10h0m13-35h0m-40-7h0m18 4h0m-1-8h0m4 41h0m-22-30h0m21 31h0m21-4h0m5-6h0m-22 13h0m3-37h0m-7 3h0m-14 3h0m3 11h0m17-5h0m-27 13h0m28 6h0m-30 7h0m17-46h0m14 32h0m-25 0h0m32-23h0m-18 35h0m18-11h0m-19-5h0m1 5h0m45-4h0m-6 7h0m14-18h0m-18 15h0m14 14h0m-19-6h0m28-6h0m-9-8h0m17 21h0m-26-32h0m16-5h0m-23 13h0m10-4h0m33-17h0m-29 13h0m2 9h0m-18-3h0m47-12h0m-11-3h0m5 38h0m-40-43h0m36-1h0m4 27h0m-27-5h0m29-5h0m-32-13h0m7 38h0m1-37h0m6 5h0m0-6h0m-6-4h0m22 6h0m-21 39h0m28-6h0m-21-26h0m15 19h0m-7-23h0m-29 28h0m9-25h0m11 21h0m8-19h0m6-3h0m-17-2h0m-3 13h0m1-12h0m26 13h0m-16 18h0m1-34h0m-23-3h0m38 24h0m-10-23h0m-12 35h0m5-22h0m6 28h0m-32-19h0m-1 17h0m22-8h0m-22-19h0m3-12h0m22 13h0m-9 9h0m-10-6h0m8-16h0m-5 15h0m29 11h0m-3-23h0m-31 0h0m26-8h0m-11 15h0m3-9h0m0 33h0m-20-1h0m-6-2h0m4-3h0m29 4h0m-13-38h0m-8 38h0m9-10h0m-19-27h0m12-2h0m14 3h0m18 12h0m-25-14h0m13 23h0m14 12h0m-7-11h0m6-16h0m-42 2h0m66 1h0m24-10h0m-35 10h0m14-3h0m0 37h0m20 2h0m-5-34h0m9 14h0m-34-11h0m10 25h0m24 7h0m-43-13h0m16-9h0m-17 11h0m40 4h0m-31-39h0m32 35h0m-20-6h0m21 12h0m-1-11h0m-14-2h0m15-9h0m-20-16h0m7-4h0m-32 26h0m35-12h0m-5 1h0m-18 16h0m-13-29h0m31 11h0m-3 18h0m9 2h0m-5-27h0m7 40h0m-32-27h0m8 7h0m-7 18h0m19-21h0m-17 5h0m-8-14h0m39 25h0m-37 8h0m6-45h0m-1 15h0m34-8h0m-32 7h0m7 31h0m12-44h0m4 25h0m2 1h0m3 13h0m-5-17h0m-19-1h0m-11-25h0m25 12h0m-29-4h0m7 6h0m31 1h0m-25-2h0m16 5h0m16 29h0m-40-40h0m6 30h0m11-27h0m21 26h0m-38-30h0m32-5h0m11 3h0m-1 11h0m-25 3h0m10 6h0m-21-16h0m21-7h0m8 20h0m-2 23h0m-7-32h0m-30-7h0m90 12h0m-11-2h0m6 32h0m-22-21h0m33-9h0m-21 3h0m5 10h0m1-2h0m10-19h0m5 29h0m-40-29h0m7 14h0m8 19h0m-18-30h0m44 17h0m-3-5h0m-3 23h0m-36-42h0m6 1h0m15 2h0m18 14h0m-24-6h0m18-17h0m-19 41h0m-11-9h0m-3 1h0m31-5h0m9-18h0m-34 4h0m29 32h0m-41-4h0m14-37h0m7-3h0m20-2h0m-13 12h0m-11 32h0m11-6h0m18 11h0m-2-33h0m-15 18h0m-20-26h0m4 14h0m33 2h0m-42 21h0m12-22h0m16-17h0m-32 39h0m47 3h0m-5-2h0m-22 3h0m18-46h0m-21 26h0m19-19h0m-18 24h0m-16-5h0m6-14h0m22 26h0m-1-37h0m13 44h0m-8-32h0m-31 11h0m38-9h0m-28 7h0m-7 15h0m3 4h0m18-32h0m-6 29h0m4 2h0m15-23h0m-33 6h0m4-17h0m-7 37h0m45 0h0m-35-7h0m18-6h0m1-32h0m-19 18h0m30 9h0m4 20h0m-48-22h0m38 16h0m-19-4h0m10 11h0m-2-1h0m-7-2h0m9-45h0m20 13h0m-15 35h0m-12-4h0m13-36h0m-31-7h0m39 26h0m-12-15h0m-7-13h0m-14 44h0m23 4h0m-19-5h0m26-23h0m24 14h0m34-28h0m-14-6h0m-5 35h0m6-16h0m-7 18h0m-1-1h0m-15 2h0m31-14h0m-16-22h0m-2-2h0m17 35h0m5-27h0m-1 3h0m-15 31h0m-21-40h0m0 36h0m-5-6h0m43 10h0m-34 3h0m-6-1h0m18-43h0m20 0h0m-1 20h0m-28 5h0m15 13h0m-22-5h0m14-7h0m12 4h0m7-30h0m-31 47h0m13-45h0m21 8h0m-9 11h0m-22 15h0m3-19h0m-16 4h0m44-4h0m0-18h0m-43 11h0m16 8h0m-14 20h0m7 5h0m7-26h0m10-5h0m9 25h0m-10 5h0m8-36h0m12-6h0m-46 28h0m45-5h0m-13 8h0m-32-23h0m29-7h0m5 4h0m7 7h0m-16 13h0m15 0h0m-20 9h0m23 5h0m-1-40h0m4 11h0m-38-4h0m4 7h0m31 25h0m-6-24h0m-26 5h0m-12 25h0m26-27h0m11 14h0m10-26h0m-20 42h0m7 0h0m4-42h0m-30 26h0m80 9h0m-26-33h0m-5 13h0m20 13h0m3-21h0m11 19h0m3-18h0m-9-14h0m7 26h0m-24 10h0m16-33h0m-21 12h0m22 12h0m5-16h0m0-9h0m-16 19h0m18 16h0m-32 11h0m-4-10h0m20 8h0m-4-2h0m-6-12h0m-15-8h0m32-11h0m-33 27h0m43-24h0m-31 16h0m-6-11h0m29 0h0m0 23h0m9-2h0m-41-7h0m8-27h0m34 33h0m-9-6h0m4-16h0m5 10h0m-12-3h0m-11-12h0m14 0h0m-33 29h0m1-15h0m-3-13h0m35-10h0m-5 9h0m-1 34h0m-22-39h0m8 26h0m19 3h0m-12-11h0m7-1h0m16 10h0m-18-20h0m-22 21h0m25-33h0m-14 9h0m-13-3h0m44 30h0m-26-37h0m-5 39h0m25-22h0m-2 12h0m0-9h0m0 20h0m-9-31h0m-22 15h0m26 10h0m-1-20h0m-4-2h0m16-5h0m-46 26h0m34-27h0m3 27h0m2-2h0m-4-6h0m11 17h0m-16-37h0m12 34h0m55-35h0m-18 23h0m8-16h0m-4 3h0m13 20h0m-39-16h0m-2-8h0m19 24h0m-14-6h0m34 16h0m-15-24h0m17-6h0m-19 6h0m19-6h0m-19 17h0m-15 9h0m36-40h0m-22 22h0m-15 12h0m37-8h0m-15-27h0m5 22h0m-25 4h0m22 9h0m-17-30h0m20 15h0m-10-20h0m-22 6h0m40 26h0m-2 0h0m-28-2h0m-6-24h0m7 0h0m28 28h0m-40 4h0m9-37h0m3 3h0m-7 14h0m31-1h0m-33-18h0m35 8h0m-17 28h0m-13-5h0m7-19h0m-2 10h0m-11-10h0m28 11h0m8-17h0m-30 27h0m17-25h0m-12 23h0m22-28h0m-12-1h0m-19 39h0m-9-23h0m19-12h0m-3 14h0m-11-7h0m37 21h0m-25-20h0m6-6h0m18 35h0m-21-5h0m-21-6h0m3 16h0m38-14h0m2 4h0m-20-22h0m14 14h0m8-10h0m-21-14h0m-12-4h0m-4 11h0m46 21h0m14-15h0m20 0h0m-16-13h0m-14 37h0m18 0h0m-12-32h0m16 12h0m6 13h0m-6 3h0m19-23h0m-22-12h0m5 35h0m-25 5h0m-2-30h0m26-15h0m-5 49h0m8-26h0m-17-22h0m-11 32h0m42-19h0m-21-5h0m9 22h0m-15 5h0m20-25h0m-31-11h0m33 42h0m-41-11h0m41 7h0m2 2h0m-24-7h0m2-9h0m-10 16h0m-6-31h0m12 15h0m29-21h0m-5 10h0m5 32h0m-39-3h0m11-8h0m-2-33h0m29 9h0m-13 24h0m-4-7h0m1-19h0m-14 31h0m-10 9h0m24-22h0m-3 14h0m-15-39h0m-8 38h0m-4-17h0m23-18h0m6-4h0m7 18h0m-29 31h0m-1-21h0m11 4h0m3-27h0m-13 2h0m7-7h0m-14 32h0m33-26h0m-22 2h0m4 23h0m1 14h0m-6-34h0m-7 23h0m41 1h0m-44-8h0m5 13h0m27-22h0m10 20h0m-5 5h0m3-2h0m-32-24h0m11 20h0m23-11h0m-43-24h0m3 2h0m20 33h0m16-3h0m49-34h0m-22 12h0m22 22h0m10-31h0m-37 19h0m21-3h0m-20 27h0m30-39h0m5-5h0m-6 16h0m-39 11h0m15-20h0m-1-9h0m30 32h0m-24-18h0m1 2h0m-22 5h0m38 22h0m7 2h0m-6-28h0m-12 8h0m-13-22h0m25 2h0m-19 6h0m-20-2h0m10 8h0m5 16h0m20-5h0m-14 11h0m9-34h0m-30 1h0m8 43h0m18-24h0m-15-23h0m36 7h0m-9-1h0m-22 28h0m-16-9h0m15-17h0m20 10h0m-6-8h0m11 0h0m-5 4h0m-12 11h0m3 17h0m-2-38h0m22 8h0m-25 29h0m-8-16h0m-12 16h0m20-37h0m10 11h0m-4-7h0m9 16h0m-10-10h0m6 5h0m-21-11h0m35 3h0m-44 17h0m17 3h0m3-32h0m-13 37h0m31 7h0m-37-29h0m56 23h0m31-34h0m-23 44h0m5-11h0m0-32h0m-11 13h0m13 24h0m-7-19h0m-7 13h0m4-8h0m-5-9h0m37-14h0m-20 31h0m-13 4h0m23-39h0m-32 38h0m26-5h0m-15-7h0m27 8h0m1-9h0m-18-24h0m19 33h0m-14-9h0m-12-15h0m4 31h0m-7 3h0m-7-7h0m21-23h0m7-4h0m-35 1h0m38 20h0m-28-20h0m0 11h0m21 2h0m-32 4h0m6 17h0m42-1h0m-28-27h0m28 8h0m-1 21h0m-43-48h0m-1 16h0m-4 25h0m26 3h0m21-44h0m-11 44h0m4 5h0m-14-48h0m-20 9h0m29 38h0m1-18h0m-9-3h0m-16-13h0m12 29h0m-19-40h0m6 45h0m24-8h0m-31-24h0m29 18h0m14-25h0m-12 28h0m-28 10h0m23-40h0m-9 7h0m24 26h0m-6-14h0m48 9h0m-30-6h0m21-5h0m11 6h0m-28-13h0m27-15h0m-8 27h0m0-21h0m-21 20h0m32-27h0m2 1h0m-22 2h0m26-1h0m-6 16h0m2 18h0m6 0h0m-21 11h0m-19-19h0m34 3h0m-10-13h0m3 26h0m-19-21h0m-8 15h0m17-11h0m5 17h0m-14-5h0m8-1h0m8-7h0m-5-22h0m-14 12h0m33-3h0m-23 23h0m-15 7h0m33-12h0m-13-35h0m66 19h0m-8 9h0m-27-16h0m10-14h0m-3 17h0m-4-6h0m26 22h0m2 16h0m-16-34h0m23 17h0m-18-31h0m13 29h0m0-6h0m-31-12h0m1 37h0m1-21h0m16-14h0m3 29h0m-20 4h0m2-26h0m-5 25h0m39 3h0m-12-49h0m-27 29h0m29 7h0m-17-17h0m-16 25h0m44-4h0m-18-34h0m-12 33h0m-3-35h0m-4 25h0m-6-29h0m35 42h0m8-14h0m-28-17h0m15 9h0m54-9h0m-25 38h0m2-36h0m24-7h0m4 20h0m-10-11h0m-20 11h0m22 1h0m-14 22h0m21-46h0m-3-1h0m-24 21h0m-13 17h0m42-15h0m-39-8h0m7 15h0m3-24h0m24 27h0m-35 2h0m5-28h0m15 2h0m18 36h0m-4 2h0m-18-21h0m73-16h0m-20 14h0m-16-5h0m32 10h0m-9-29h0m-1 26h0m-11-8h0m-6 16h0m13 13h0m-14-25h0m22-9h0m20 16h0m3-29h0m-8 17h0m6 60h0m0 17h0m-52-29h0m13-10h0m28 38h0m-41-41h0m6 29h0m-2-14h0m-6-13h0m-52 22h0m14 13h0m24-12h0m-1 0h0m-32-19h0m38 28h0m1 5h0m-6 0h0m-27-16h0m17-5h0m-26 17h0m45-28h0m-7 28h0m-7-11h0m-29 10h0m11-20h0m-15 21h0m35 4h0m5-33h0m-5 25h0m-7-34h0m-7 8h0m-21-7h0m14 5h0m-1 11h0m-18-4h0m-3 17h0m-6-17h0m-22-3h0m12 28h0m9-24h0m-13 6h0m-13 17h0m15-6h0m7-1h0m-17-31h0m20 18h0m-26-13h0m41 35h0m-14-27h0m-32-11h0m43 5h0m-7 29h0m-30-8h0m18 21h0m2-2h0m-24-7h0m19-9h0m-18-24h0m28 4h0m11 22h0m-9-2h0m-6-10h0m-19 2h0m-23-1h0m-6 27h0m-29-14h0m2-28h0m14 39h0m-1-28h0m21 5h0m10 0h0m-32-9h0m15 2h0m-20 13h0m5-9h0m7-16h0m-23 36h0m41-15h0m-32 10h0m24 2h0m-8-19h0m-11-15h0m10 18h0m8 8h0m-4-8h0m-11 25h0m-5-35h0m-2 6h0m-4-8h0m-5 34h0m20-42h0m3 41h0m4-27h0m-3 3h0m6-13h0m-5 2h0m4-2h0m0 38h0m9 2h0m-17-36h0m-22-4h0m38 15h0m-35-6h0m12-8h0m19 29h0m6-8h0m-35-1h0m6-6h0m-10 11h0m29 18h0m-23-3h0m-6-19h0m28-1h0m10 9h0m-24-19h0m-9-13h0m2 21h0m-10 13h0m-14-25h0m11-7h0m-42 38h0m19-18h0m-22 1h0m5 8h0m-6 11h0m14-10h0m3-11h0m13-8h0m-12-1h0m-11 17h0m34 16h0m-17-22h0m-23 0h0m21-4h0m-9 19h0m-9-19h0m29-18h0m16-3h0m-37 1h0m-8 33h0m30-26h0m-20 23h0m-8-31h0m12 3h0m1-2h0m29 25h0m-14 10h0m-4-18h0m7 10h0m-2 18h0m-30-33h0m5 6h0m27-7h0m-7 23h0m14-8h0m-31-21h0m33 28h0m-43 2h0m6 12h0m31-48h0m-15 21h0m-20-10h0m25-11h0m16 45h0m-43 2h0m4 0h0m0-14h0m4-31h0m18 14h0m-20-6h0m32 16h0m-36-18h0m-12 0h0m6-3h0m-15 10h0m-24 10h0m14-16h0m5 30h0m-14-21h0m-4-1h0m24-3h0m-34 16h0m11 3h0m-3-24h0m10 14h0m19 15h0m-36-16h0m28 17h0m-13 8h0m5-44h0m24-2h0m-14 38h0m-1-4h0m-15-32h0m-14-2h0m25 8h0m-6 17h0m13 15h0m-16-29h0m17 3h0m-3 6h0m-30 5h0m38-1h0m-16 19h0m24-3h0m-47-23h0m30 20h0m-22 4h0m25-33h0m4 37h0m-2-4h0m-18-41h0m13 6h0m6 37h0m8-28h0m-34 14h0m29 16h0m-43-39h0m2 31h0m-41-24h0m-2-6h0m3 35h0m4-20h0m-4-7h0m21 11h0m-13 10h0m28-9h0m-5-19h0m4 28h0m-39-5h0m35-24h0m-28 5h0m3-8h0m18 37h0m10-34h0m-6 8h0m7 12h0m-1-27h0m-36 0h0m30 27h0m-4-25h0m11 37h0m-26-37h0m11 39h0m-17-21h0m-12 13h0m35-14h0m-30 15h0m37-28h0m-4 39h0m-9-17h0m18 16h0m-35-4h0m30-27h0m-28 29h0m25-14h0m-32-12h0m30 11h0m-9-25h0m-14 35h0m-14 4h0m13-1h0m19-17h0m-2 18h0m-3-20h0m13 26h0m-38-6h0m-27 2h0m-15 2h0m36-3h0m0-36h0m-27 15h0m27-6h0m-11-12h0m9 12h0m-13 6h0m2-6h0m-6-1h0m-21-12h0m41 4h0m-8 34h0m1-23h0m-18 29h0m24-46h0m-19 43h0m4-19h0m-9 21h0m-17-36h0m17 5h0m-14 9h0m-4 10h0m-3-33h0m1 7h0m23-9h0m19 37h0m-7-34h0m-32 23h0m8 8h0m16 2h0m19-21h0m-15-7h0m-7 34h0m23-22h0m-16 7h0m-14-24h0m-10 18h0m-3 2h0m40-17h0m-18 35h0m-18 7h0m37-7h0m-13 5h0m6-42h0m0 10h0m1-3h0m-11 26h0m-23-10h0m5 10h0m6-22h0m29 15h0m-3 4h0m-8 10h0m-24 3h0m8-9h0m7-19h0m3-18h0m-25 9h0m20 4h0m-12 26h0m13-35h0m20 2h0m-35-3h0m15 8h0m-10-6h0m24 1h0m-16 21h0m3-6h0m-22-12h0m11 38h0m-44-33h0m-5 15h0m12-19h0m-6 15h0m1-14h0m-22 30h0m13-15h0m-11 8h0m15-30h0m24 34h0m-6 10h0m-5-46h0m-24-3h0m15 45h0m-6-20h0m9 7h0m22-21h0m-13 30h0m-23-39h0m16 31h0m-16 4h0m-12-3h0m1-20h0m2 21h0m5-2h0m15-30h0m21 22h0m-1-19h0m-13 31h0m16 5h0m-33-27h0m-11 32h0m46-20h0m-35-12h0m3 6h0m-5-6h0m8 13h0m12-7h0m15-14h0m-32 39h0m27-4h0m-2 5h0m0-15h0m-5-2h0m-29 16h0m7 1h0m-3-46h0m16 25h0m15-9h0m-2 25h0m-21-21h0m-10-12h0m-51 18h0m9 21h0m-11-1h0m9-16h0m-6-2h0m16 13h0m-18-13h0m0-25h0m31-4h0m-8 39h0m9 5h0m8-7h0m1-16h0m-42-14h0m35 24h0m-37 4h0m12-22h0m-6 21h0m26 1h0m-8-24h0m15-2h0m1-9h0m-16 37h0m-12-29h0m27 7h0m-19-13h0m-16 33h0m23 6h0m-13-14h0m27-25h0m-39 11h0m38 14h0m2 7h0m-15-13h0m-8-15h0m10 22h0m-17-9h0m15 20h0m-11-8h0m28-30h0m-12 8h0m-21 34h0m4-43h0m2 9h0m4 38h0m-20-13h0m18 14h0m-20-45h0m22 30h0m16 12h0m-19-30h0m-5-11h0m27 43h0m-19-24h0m3 10h0m-2-22h0m-10-11h0m34 39h0m-4-38h0m-29 5h0m-14-4h0m14 13h0m34 6h0m-31 0h0m17-21h0m-1 35h0m2-4h0m-33-25h0m31-6h0m5 13h0m-38 8h0m3 28h0m42-6h0m-26-6h0m27-37h0m-3 28h0m-62-1h0m4-4h0m3-9h0m-14-6h0m-20 9h0m22 10h0m-14-16h0m15 13h0m-6-7h0m10 15h0m14 0h0m-17-17h0m-29 28h0m12-23h0m8 6h0m16 16h0m-27-17h0m38-22h0m-10 29h0m-4-19h0m-23 31h0m11-26h0m-8 22h0m23-15h0m-28 11h0m29-8h0m12-27h0m-23 41h0m-16-21h0m0-11h0m-10 20h0m25 1h0m-21-8h0m31 24h0m-14-36h0m9-6h0m-13 5h0m-9 25h0m9-13h0m3-19h0m12 7h0m8 17h0m-15-25h0m11 47h0m-4-20h0m-2 0h0m-9 0h0m19 0h0m-8-29h0m-1 33h0m-23 8h0m3 3h0m32-30h0m-40-10h0m24 34h0m-20-16h0m14-17h0m10 8h0m-29 29h0m21-32h0m-16 10h0m0 13h0m11 1h0m-8 6h0m4-6h0m31 4h0m-24-36h0m15 35h0m-26-19h0m-7 25h0m41 0h0m-23-27h0m10 22h0m-18-37h0m-13 10h0m30 5h0m13 11h0m-40 16h0m33-5h0m-3-19h0m7-5h0m4-14h0m-10 45h0m8-33h0m-7-4h0m-13 11h0m-55-12h0m21-5h0m-6 5h0m-31 40h0m-1-16h0m18 12h0m16-3h0m-21-31h0m26 15h0m-15-21h0m-11 46h0m4-14h0m29 13h0m-42-22h0m27-12h0m-29 11h0m37-25h0m7 44h0m-7-42h0m-31 24h0m17 10h0m7-35h0m-16 40h0m-11-18h0m12-22h0m2 22h0m-18-8h0m18-2h0m5 23h0m-20 4h0m21-34h0m4 23h0m19 2h0m-9-11h0m6-16h0m0 2h0m-12 6h0m-6 33h0m6-37h0m-3 28h0m-2-14h0m-8 26h0m1-17h0m-12-6h0m39 17h0m-6-19h0m-18 10h0m8-1h0m-23-19h0m-5 0h0m12-6h0m-14 0h0m16 15h0m31 27h0m-26-14h0m4 2h0m-24-9h0m-41-18h0m18 38h0m-8-47h0m12 20h0m-26 17h0m36-32h0m-19 5h0m-11 17h0m26-6h0m0 13h0m-18-22h0m-22-1h0m12 18h0m5 14h0m-14-13h0m41-23h0m-16 35h0m1-22h0m5-14h0m-19 42h0m23-22h0m8-10h0m2 14h0m-22-31h0m-11 23h0m17 26h0m10-22h0m-16-8h0m11 9h0m-2-11h0m-24-4h0m24-3h0m-29 13h0m-3 8h0m6-5h0m28 4h0m-9 10h0m7-12h0m10-13h0m-4 12h0m-32-25h0m25 10h0m-19 25h0m13 4h0m-23-27h0m41 3h0m-46 26h0m48-27h0m-28-14h0m-5 15h0m-11 28h0m0-40h0m1 39h0m-5-12h0m3 1h0m5-32h0m13 43h0m-14-2h0m-3-17h0m25 15h0m-13-28h0m19 8h0m-34 2h0m11 17h0m17-25h0m-9 18h0m-8-8h0m-1 13h0m38-26h0m-12 5h0m-16 24h0m25-34h0m-6 8h0m-3-7h0m-5 3h0m-11 10h0m25 5h0m-25-6h0m-13 4h0m1-17h0m-9 2h0m-45 1h0m22 28h0m14-19h0m-25-1h0m13 16h0m-25-3h0m14 2h0m7 14h0m1-44h0m-22 32h0m9 7h0m12 0h0m-17-37h0m18 3h0m10 29h0m-36-21h0m42 1h0m-42 0h0m26 1h0m12 26h0m-20-41h0m-17 37h0m29-20h0m7-1h0m-11 1h0m23-13h0m-3-4h0m3 28h0m-7-3h0m-26-3h0m-7 9h0m36-31h0m-23 35h0m23-27h0m-37 24h0m30-9h0m-35-23h0m8 27h0m18-6h0m1 22h0m-30-27h0m49-6h0m-47-3h0m47 0h0m-24 8h0m-2 26h0m17-12h0m3 3h0m-21-21h0m-6-9h0m-2 36h0m10 3h0m8 4h0m-8-6h0m-9-18h0m19 3h0m-5-21h0m-24 14h0m10 27h0m-1-15h0m-10 6h0m29-20h0m-27 15h0m8-29h0m16 35h0m16 0h0m-20 11h0m15-44h0m-28 38h0m0 5h0m4-23h0m30-24h0m-8 7h0m-16 6h0m11-5h0m-5 30h0m11-22h0m-24 26h0m21-26h0m-27-2h0m26 8h0m-37-15h0m-32 22h0m13 7h0m-24-28h0m32 31h0m2-15h0m7 22h0m-9-6h0m-20-30h0m11 27h0m2 9h0m-30-14h0m16-23h0m31-1h0m-42 13h0m26 1h0m2-21h0m-27 26h0m14 7h0m2-27h0m4 29h0m-18 11h0m-4-17h0m1 12h0m29-36h0m-28 15h0m-6-12h0m3-2h0m18 40h0m-2-33h0m16 7h0m-21 12h0m4-7h0m23 20h0m-25-29h0m32 22h0m-10-34h0m1 15h0m-31-5h0m7 7h0m9-6h0m9 26h0m-26-11h0m8 17h0m30-16h0m-26-5h0m6-17h0m-13-1h0m14 3h0m12 14h0m-38-19h0m29 27h0m1-24h0m16 19h0m-19-15h0m-18 0h0m1-1h0m8 4h0m-19-9h0m37 21h0m-21-3h0m-8 0h0m36 7h0m-26-28h0m-3 7h0m-14 21h0m5-16h0m41 24h0m-41-17h0m-3-17h0m29 23h0m-27 13h0m34 4h0m-4-42h0m5-2h0m-45 18h0m-33-3h0m23-19h0m8 18h0m-42-11h0m26-5h0m-7 10h0m7 7h0m-18-5h0m-6-14h0m23 14h0m-16-2h0m4 30h0m27 2h0m-15-35h0m-20 10h0m0-12h0m-3 8h0m32 12h0m0 11h0m2-18h0m-9 5h0m-22-13h0m24 15h0m4-9h0m11 19h0m-31-3h0m-12-33h0m5 28h0m8-6h0m-13-4h0m46 18h0m-21-18h0m-5-14h0m17 3h0m-1 17h0m-3-15h0m0 10h0m11-19h0m-34-1h0m9 24h0m8-9h0m7-13h0m-23 19h0m3-19h0m-15 10h0m35-9h0m-26 24h0m19-6h0m19-7h0m-31 7h0m-17 18h0m23-18h0m-14-1h0m-5 28h0m42-45h0m-32-2h0m-2 39h0m11-34h0m-13 34h0m-5 6h0m42-20h0m-16-12h0m-10-3h0m6 0h0m-16 37h0m23-18h0m-13-14h0m-2-4h0m16 23h0m-13-22h0m-21-9h0m33 5h0m-1 6h0m-19 23h0m21-4h0m6-33h0m-8 26h0m-15-5h0m-15 11h0m41 1h0m-15-27h0m-21 0h0m-8-1h0m4 30h0m15 2h0m14-22h0m-22-15h0m35 29h0m-18 4h0m-32 8h0m3-17h0m-14 1h0m-25 19h0m32 1h0m-42-2h0m3-40h0m37-1h0m-4 6h0m2 5h0m-20 28h0m24-17h0m-4-5h0m-9 29h0m-21-44h0m18 22h0m-7-27h0m30 48h0m-36-30h0m10 26h0m24-42h0m-12 14h0m13 11h0m-3-16h0m-20-11h0m-14 27h0m36 9h0m-35-2h0m34-2h0m-7-24h0m-23 40h0m-2-17h0m13-6h0m10 15h0m-6 8h0m2-20h0m-27-26h0m16 2h0m21 5h0m-2 40h0m-7-9h0m-1-36h0m-32 34h0m20-32h0m23 30h0m2-11h0m-27-21h0m10 1h0m-14 38h0m-15-12h0m32-23h0m-5 0h0m-1 7h0m21-7h0m-42 31h0m35-39h0m-11 16h0m-27 10h0m9-10h0m4 9h0m13 23h0m11-45h0m3 34h0m-32-12h0m-8 6h0m29-21h0m-8 17h0m-14 13h0m22-3h0m-28 1h0m39-1h0m-20 8h0m-14-31h0m22 11h0m-8 17h0m15-4h0m-37-36h0m31 0h0m15-1h0m-20 9h0m-17 18h0m40-22h0m-7-4h0m-33 6h0m-7 34h0m-24-20h0m15-16h0m4 0h0m-31 32h0m32-4h0m-46-28h0m3 27h0m-4-14h0m6-15h0m0-2h0m29 7h0m-10 9h0m-3 24h0m9-41h0m9 12h0m6-1h0m-1 19h0m-10-15h0m-27 8h0m32-9h0m-5-14h0m-32 16h0m21 32h0m14-36h0m-26 15h0m-10 5h0m7-2h0m-6 3h0m-2-26h0m41 16h0m4-13h0m-38-10h0m35 26h0m-33 19h0m17-34h0m-21 23h0m7-20h0m29-4h0m-34 26h0m5-34h0m2 42h0m4-22h0m-3 17h0m7 2h0m16-27h0m-36-11h0m45 6h0m-43 17h0m14-6h0m23-18h0m-40 34h0m21-20h0m-13 7h0m37 17h0m-24-41h0m-23 42h0m18 6h0m30-4h0m-11 4h0m3-16h0m-39 16h0m2-48h0m5 38h0m16 6h0m17-43h0m-46 44h0m-37-1h0m30 4h0m5-25h0m-17 3h0m22 3h0m-35-2h0m11-13h0m-16-14h0m-1 16h0m0 16h0m3-11h0m17 15h0m-2-19h0m12 27h0m-34-31h0m6 2h0m3 19h0m27 7h0m-26 0h0m2-2h0m-3 2h0m-11-19h0m12 1h0m6-1h0m6 22h0m-1-32h0m-15-11h0m-9 44h0m0-10h0m3-29h0m40 17h0m-2 10h0m-40-20h0m18 21h0m1-4h0m23 1h0m-28 5h0m5-30h0m2 12h0m-1 30h0m-4-47h0m4 16h0m-11-2h0m27 24h0m-35-37h0m26 36h0m11-1h0m-35-2h0m14 8h0m-7-22h0m7 24h0m-18 4h0m13-20h0m19 5h0m-19-8h0m15 0h0m-10 2h0m20-20h0m2 15h0m5-1h0m-1-16h0m-30 5h0m-5-7h0m39 28h0m-4-16h0m-21 18h0m-56-29h0m7 39h0m-9-33h0m-14 9h0m27 29h0m6-46h0m6 16h0m-9-16h0m-23 5h0m33 39h0m-38-44h0m35 19h0m-5-4h0m-17 10h0m20 6h0m8 2h0m1-26h0m-5-9h0m3 1h0m-28 8h0m-5 12h0m38 2h0m-47-12h0m35-11h0m-19-1h0m24 18h0m-33 0h0m1 31h0m11-28h0m-8 19h0m0-27h0m-4 27h0m33 7h0m-28-43h0m21-4h0m-11 39h0m12-38h0m-17 21h0m13 3h0m-14 24h0m-7-6h0m35-17h0m-44 22h0m30-43h0m12 32h0m-10-1h0m-15-34h0m3 18h0m13 10h0m-1-12h0m-27-6h0m13-1h0m-17-3h0m16-5h0m30 7h0m-26-2h0m-43 16h0m-2 1h0m16 9h0m-14 6h0m-20-6h0m18-32h0m-11 19h0m16 13h0m4-22h0m5 8h0m-4 13h0m-37-15h0m11 13h0m0-20h0m-1-10h0m3 1h0m34 23h0m-22 17h0m-8 0h0m-9 2h0m24-15h0m7 0h0m5 12h0m-28-6h0m17-27h0m9 39h0m-10-25h0m2-15h0m-6 13h0m20-15h0m-46 2h0m18 22h0m13-28h0m-32 23h0m47 18h0m-19-21h0m14-6h0m-11 14h0m-10-20h0m-23-3h0m46 21h0m2-12h0m-26 17h0m-2-4h0m15-4h0m-13 4h0m5 19h0m-15 2h0m-10-46h0m4 12h0m-54 13h0m-1-15h0m33 14h0m-15 15h0m9-2h0m-9-3h0m12-26h0m7 17h0m-32 21h0m42-45h0m-16 19h0m12-20h0m-43 11h0m31 21h0m-5-31h0m9 37h0m-17-13h0m-16-5h0m8 1h0m38-17h0m-9 33h0m2-7h0m7-11h0m-28-18h0m9-4h0m-3 31h0m-24 15h0m4-21h0m-1-17h0m18 30h0m0 10h0m16-30h0m-8 18h0m5-14h0m3-20h0m-16 22h0m-5-11h0m-2-4h0m5 14h0m-8 16h0m-12-37h0m-8 6h0m4 29h0m-10-12h0m10-17h0m-36 26h0m4-34h0m2 38h0m24 2h0m6-6h0m-32-3h0m3-11h0m-7-1h0m27 19h0m-11-26h0m17 5h0m-30-1h0m22-13h0m-9 12h0m-18 0h0m22 10h0m-19-21h0m23 11h0m-8 15h0m-18 7h0m38 6h0m-46-7h0m40-24h0m-17 16h0m-12-27h0m-12 24h0m43 11h0m-7-21h0m-5 6h0m10 5h0m-70-4h0m-10 11h0m9-28h0m-5 33h0m17-5h0m-8-6h0m16-9h0m7-3h0m-33-4h0m-12-3h0m6-3h0m34 16h0m-29-17h0m24 0h0m-13 45h0m16-39h0m-12 33h0m-16-4h0m36-24h0m-35-11h0m14 3h0m-27 17h0m14 21h0m28-22h0m5-19h0m-47 16h0m-18 0h0m-18-13h0m32 23h0m-28-8h0m-8-12h0m-10 23h0m3-16h0m27 5h0m13 6h0m3-1h0m-4 4h0m-3-11h0m8-1h0m-10-2h0m-30 28h0m-6-33h0m22 18h0m4 0h0m-43-19h0m-9 8h0m1 16h0m-4-27h0m-16 37h0m21-34h0m-26 19h0m22 28h0m19 10h0m42 0h0m3 20h0m-20-38h0m11 26h0m2 21h0m15-26h0m3 12h0m-38-6h0m34-15h0m-33 7h0m31 10h0m44 2h0m4-11h0m-23 23h0m20-14h0m-20-4h0m30 15h0m-24-23h0m18-5h0m-23 16h0m-4 8h0m19-11h0m-30-23h0m31 22h0m2 10h0m3-20h0m9 8h0m-9-19h0m-36-2h0m8 42h0m6-32h0m24-7h0m22 5h0m-3-8h0m34 24h0m-2-25h0m-28 18h0m-2 21h0m-6-29h0m32 4h0m-19 8h0m2-17h0m-12 37h0m22-11h0m-9 2h0m4-3h0m15-10h0m-6-10h0m36 4h0m-12 27h0m-5-5h0m20-1h0m-22-20h0m-2-13h0m10 9h0m33 10h0m-32-1h0m-3-1h0m33 18h0m5 1h0m-10-22h0m0 4h0m-28 5h0m34-21h0m1 16h0m4 21h0m-28-34h0m20 20h0m-21 11h0m23-11h0m-25-17h0m26 32h0m-3-24h0m-2 9h0m-8 9h0m-14-5h0m28-31h0m50 24h0m-23-16h0m16 15h0m-34-14h0m5 3h0m3 16h0m1-21h0m33-6h0m-36-1h0m-8 0h0m28 32h0m19-24h0m-28 5h0m2 32h0m-3 1h0m29-2h0m-5-38h0m-3 26h0m-26 3h0m-5-21h0m18 10h0m8 13h0m-13-32h0m12 38h0m-29-36h0m0-1h0m27 2h0m-9 37h0m43-39h0m32 0h0m-15 39h0m-6-9h0m-6-22h0m-11 0h0m34 12h0m-14 0h0m14-3h0m-30-16h0m21 0h0m7-4h0m-7 17h0m-30-18h0m44 21h0m-47-13h0m28 20h0m-7-21h0m-3 10h0m-11-4h0m37 29h0m1-38h0m-24 22h0m-20-20h0m30 22h0m-3-13h0m-14 15h0m-10-3h0m1 1h0m41-16h0m-29 15h0m5-7h0m72 6h0m-10-8h0m-34 8h0m28-1h0m6-1h0m-8-3h0m17 10h0m-7 14h0m7-42h0m-9 34h0m-10-29h0m-2 39h0m9-19h0m-24 8h0m17-24h0m-4-14h0m6 31h0m-3 6h0m19 1h0m-10-4h0m-26-17h0m33 5h0m-35 19h0m42-21h0m-3 21h0m-28-37h0m-12 7h0m6 26h0m9-25h0m24 34h0m-41-23h0m-1 8h0m33-29h0m-12 14h0m-13 2h0m14 24h0m24-25h0m-23-8h0m19 27h0m4-34h0m-31 45h0m-4-39h0m9 35h0m-15 6h0m39-9h0m-34-3h0m13-32h0m8 25h0m1 11h0m2 4h0m56-8h0m-19-12h0m-19 16h0m32-27h0m-19 30h0m12-7h0m-10-20h0m-15 24h0m27 5h0m-21-38h0m12 13h0m0-3h0m-16-1h0m-3 9h0m0 5h0m36-11h0m-2-5h0m-25 11h0m25 21h0m-37-41h0m14 17h0m31 5h0m-32-15h0m-10-2h0m13 38h0m0-3h0m5-12h0m-7-33h0m20 6h0m14 7h0m-26 1h0m-6-13h0m-12 42h0m12-2h0m-9-40h0m41 35h0m-5 11h0m-23-3h0m11-24h0m-11-1h0m17 8h0m-28-22h0m17 25h0m-14 8h0m8-31h0m-16 18h0m8 4h0m63-9h0m7 17h0m-24-23h0m-2 0h0m11 12h0m-3-23h0m0 28h0m-14-23h0m0-3h0m40 6h0m2-1h0m5 38h0m-44-2h0m-2-10h0m30-31h0m-19 43h0m33-33h0m-43-10h0m13 35h0m31-16h0m-27 21h0m28-6h0m-29-24h0m27-2h0m-4 10h0m2 10h0m0-31h0m-7 37h0m13-16h0m-29-24h0m-13 44h0m15-44h0m-6 9h0m13 10h0m-7-6h0m-6-6h0m15 38h0m-17-37h0m12 26h0m-1-31h0m11 41h0m-35-14h0m77-22h0m-5 1h0m-13 22h0m8-19h0m23-4h0m-20 28h0m3-9h0m15 17h0m-14-3h0m8 7h0m1-39h0m1 24h0m10-12h0m-21 6h0m12 8h0m-17 3h0m-14 10h0m18-8h0m-1-5h0m26-34h0m-24 17h0m5 17h0m-23-30h0m9 32h0m16-29h0m10-6h0m-41 46h0m43-10h0m-30 0h0m13-11h0m14 1h0m-38-12h0m0 30h0m-1-5h0m8-36h0m27 17h0m-18 1h0m15-20h0m8-3h0m-1 23h0m4 20h0m-6-6h0m10-1h0m-9-22h0m-23 23h0m-16-12h0m12-3h0m2-4h0m24 4h0m5 3h0m6-13h0m-46-5h0m35 32h0m-24-2h0m18-10h0m-8-2h0m8 10h0m-5-15h0m3 8h0m-4-4h0m-21 20h0m21-17h0m-23 7h0m24-10h0m64 15h0m-27 2h0m0 6h0m-8-35h0m0 9h0m7 25h0m35-46h0m-27 20h0m19 10h0m-18-10h0m-18-10h0m39-10h0m-17 31h0m-4 8h0m-9 5h0m2-37h0m27-7h0m-18 18h0m-20 4h0m8 27h0m1-17h0m13-10h0m-1 24h0m-1-26h0m7-10h0m-17 8h0m1 28h0m29-44h0m-29 37h0m9-27h0m9 14h0m-3 18h0m1 4h0m10-19h0m-27 5h0m30 5h0m-38-28h0m25 22h0m17-31h0m-45 16h0m40 0h0m-25 16h0m29-23h0m1 22h0m-21 0h0m19-32h0m-40 0h0m29 28h0m14-19h0m-23 11h0m16 3h0m-8-18h0m-20 11h0m33-13h0m-3 0h0m-34 17h0m2 23h0m33-19h0m-6 0h0m-29 7h0m18-13h0m10 6h0m-25 15h0m2-18h0m20 9h0m-28-1h0m27 2h0m53 14h0m4-29h0m7 29h0m-31-20h0m13-7h0m-7 5h0m24 1h0m-47 22h0m36-4h0m3-5h0m6-11h0m-3-9h0m-37-7h0m27 22h0m-2 11h0m-12-43h0m15 19h0m-8 2h0m10 9h0m-15-5h0m2-23h0m-21 36h0m10-30h0m18-4h0m-26 1h0m14 13h0m3 15h0m8-11h0m-25 9h0m29-22h0m-30 5h0m6-12h0m28 1h0m-32 5h0m28 37h0m-10-36h0m26 38h0m-19-27h0m10 27h0m-3-26h0m-35 11h0m35 1h0m-23 13h0m9-20h0m-22 18h0m44-45h0m4 25h0m-7 18h0m-28-15h0m14-15h0m7-3h0m-34 26h0m5-19h0m0-5h0m5 4h0m6 12h0m-13 14h0m17-20h0m15 14h0m2 1h0m9-22h0m-3-14h0m4 45h0m0-38h0m-19 40h0m-22-21h0m31-5h0m-23 8h0m30-18h0m-39 23h0m12-10h0m7 19h0m17-31h0m56 15h0m-31-4h0m-12 13h0m6 6h0m-9 4h0m39-45h0m-15 28h0m4 12h0m-17-9h0m-6 1h0m5 9h0m-10-29h0m11 10h0m35-17h0m-8-1h0m-23 33h0m33-12h0m-22 19h0m-17-45h0m-2 22h0m34 2h0m-14-1h0m11-22h0m6 26h0m-34-12h0m31 31h0m-38-32h0m24-2h0m17 4h0m-4 19h0m-19-22h0m14 26h0m-36 2h0m34-19h0m14-8h0m-17 29h0m-17-23h0m21-11h0m-22 2h0m-10 13h0m41-23h0m-19 15h0m-21 27h0m19-24h0m-12-1h0m6-7h0m20 33h0m-8-10h0m-9 12h0m-7-22h0m14-10h0m17 23h0m-8-32h0m6 9h0m-8 16h0m-4-11h0m-10 7h0m20-14h0m-15 23h0m6-1h0m-14-25h0m11 3h0m-12 12h0m20-15h0m10 13h0m-43-12h0m32 31h0m12-10h0m-12-29h0m12-1h0m-13 27h0m50 3h0m-18-19h0m16 33h0m6-10h0m-7-32h0m-22 7h0m-8 6h0m8-9h0m-8-7h0m46 5h0m-43 4h0m22 7h0m-7 29h0m25-26h0m-9-15h0m4 25h0m-24 6h0m-15-9h0m30-24h0m-29 2h0m34 9h0m4 23h0m-11-3h0m18-34h0m-43 25h0m4 11h0m4 8h0m38-31h0m-42 27h0m19-20h0m6-2h0m8-7h0m-35 13h0m22 12h0m-10-11h0m-10 4h0m31-20h0m8 38h0m-10-44h0m11 3h0m-12 4h0m-14 15h0m15 10h0m-15-35h0m-21 8h0m41 16h0m5-3h0m-26 2h0m-10 10h0m20-22h0m18 8h0m-48-19h0m41 12h0m-33 18h0m-4-2h0m1-16h0m30-11h0m-10 34h0m-11-18h0m0-5h0m25-1h0m-13 14h0m12-11h0m3 32h0m-33-43h0m13-1h0m4 41h0m-5-12h0m4-25h0m22 43h0m-34-44h0m30 32h0m-5-31h0m-33-2h0m3 2h0m28 39h0m0-16h0m-35 9h0m12-33h0m13 35h0m17-16h0m2-7h0m-10 18h0m-16-29h0m25 9h0m45 2h0m-5 8h0m-29 1h0m-4 17h0m49-13h0m-20-23h0m-19 36h0m28 3h0m-33-21h0m23-2h0m-9 7h0m-1 10h0m24 8h0m7-48h0m-7 27h0m-1 21h0m3-27h0m-43 16h0m42-33h0m-34 16h0m39 18h0m-45 8h0m4-10h0m-2-30h0m42-4h0m-4-2h0m-12 33h0m-11 1h0m15-21h0m7 32h0m6 1h0m-31-39h0m31 6h0m-8-13h0m-28 20h0m35 27h0m-11-17h0m-2-28h0m7 18h0m-38 5h0m27-22h0m-19 18h0m2 20h0m-12-7h0m34-11h0m-15 20h0m2-6h0m6 5h0m20-36h0m-21 22h0m7-5h0m8-20h0m-23 0h0m-10 46h0m39-12h0m-35-3h0m3-8h0m-14-3h0m3-8h0m36 6h0m-6-11h0m42 16h0m-3 2h0m1 13h0m3-23h0m-25 0h0m19-14h0m8 27h0m6-23h0m-1 5h0m-13 19h0m-14 8h0m14-8h0m-22 0h0m8-26h0m-7-1h0m8 26h0m11-8h0m-17-11h0m39-1h0m-16 22h0m-26-18h0m31 31h0m-18-42h0m24 22h0m1 22h0m-36-21h0m23 15h0m-2-29h0m9 10h0m-5 21h0m2-25h0m8-18h0m-24 40h0m29-30h0m2-6h0m-18 0h0m16-5h0m0 28h0m-4 8h0m-31-21h0m17-10h0m3 6h0m-27 27h0m49 1h0m-15-32h0m-8 34h0m10-35h0m-33 33h0m48-16h0m40 22h0m-25-25h0m13 28h0m-22-45h0m31 5h0m-24-6h0m21 16h0m5 5h0m-37-7h0m21 0h0m-16 0h0m9 11h0m6 12h0m15-4h0m-4 0h0m-10-18h0m2-13h0m-7 13h0m0 3h0m12 16h0m0-17h0m10 17h0m-16 0h0m-18 3h0m-3-30h0m45 15h0m-5 3h0m-32 18h0m5 4h0m-1-47h0m9 29h0m17-12h0m-28 1h0m32 18h0m-8-36h0m-28 19h0m8 24h0m5-6h0m24 8h0m-26-19h0m27-8h0m-6-18h0m5 7h0m-8 38h0m5-28h0m-27-18h0m14 26h0m-6-19h0m-9 27h0m-4-20h0m5 9h0m10-19h0m-1 29h0m18 5h0m-7-21h0m-18 21h0m-2-32h0m-16 27h0m33-30h0m3 40h0m11-23h0m30-12h0m-9 21h0m-1 19h0m1-47h0m4 25h0m-10 22h0m1-15h0m31-15h0m-29-13h0m5-3h0m4 9h0m17 2h0m-41-11h0m29 26h0m4 3h0m-14-24h0m-19 17h0m23 23h0m25-6h0m-13-38h0m-25 12h0m1 22h0m23 7h0m0-29h0m11 0h0m-4 24h0m-23-27h0m20 14h0m5 12h0m-39-3h0m2-28h0m42 17h0m-39 1h0m15-10h0m15 18h0m-26 0h0m18-27h0m-8 16h0m-5-4h0m27 3h0m-3-15h0m-31 41h0m16-21h0m38 14h0m-13-24h0m25-10h0m19 21h0m-12-11h0m-16 30h0m-9-42h0m28-5h0m0 19h0m2 25h0m-11-28h0m-8 12h0m-4-17h0m13 5h0m18 25h0m-22 2h0m-4-1h0m4-7h0m7-15h0m-7 23h0m-25-14h0m41 18h0m7-10h0m-23-6h0m16 9h0m-40-2h0m17 4h0m-2-32h0m23-10h0m-31 27h0m15-12h0m-21 27h0m18-37h0m23 1h0m2 39h0m-25-37h0m-20 31h0m16 4h0m32-3h0m-14-12h0m-6-11h0m0 3h0m19 22h0m-2-2h0m-12-35h0m-12 13h0m3 24h0m-24-7h0m48-20h0m-9 24h0m-1-22h0m-18-11h0m-10 32h0m-1-24h0m50 14h0m0 8h0m37-19h0m-45-17h0m46 9h0m-48 10h0m24-12h0m-7 24h0m-4-13h0m5 19h0m21-31h0m-27 10h0m26 8h0m-29 17h0m25-40h0m-21 17h0m32 10h0m-18-15h0m8 9h0m-1-20h0m-7 20h0m15-18h0m-23 24h0m9-25h0m-6 32h0m-4-17h0m6-8h0m18 39h0m-11-8h0m-30-21h0m41 15h0m-42-28h0m5 32h0m5-16h0m-10-14h0m5 1h0m38 39h0m-14-46h0m-17 6h0m6 37h0m31-20h0m-12-25h0m-28 15h0m6 26h0m24-37h0m-15 7h0m-10-9h0m67-2h0m-16 27h0m-2 1h0m32-10h0m-30 20h0m-9-9h0m14-12h0m29 16h0m-21 2h0m-25-10h0m-3 6h0m37-3h0m-31-28h0m9 23h0m0-19h0m26 1h0m-24-5h0m31 2h0m1 28h0m-45 10h0m38-14h0m-34 8h0m39-31h0m-2 0h0m-30-4h0m55 19h0m10 7h0m-10-18h0m21 31h0m-23-23h0m16 25h0m-17-26h0m5-1h0m0-3h0m-13 17h0m24-12h0m-29 1h0m44 16h0m-37 12h0m2-18h0m-4-6h0m13-10h0m27 12h0m-3-19h0m2 20h0m-31-14h0m8 6h0m23-3h0m-26-11h0m-5 29h0m24-4h0m7-7h0m-27 7h0m8 4h0m4-3h0m11-24h0m-41 4h0m41 5h0m-37-11h0m18 42h0m65 5h0m-19-41h0m-1 0h0m4 17h0m21 9h0m-7-17h0m-35 3h0m-3-2h0m5-17h0m19 4h0m-14 6h0m10 28h0m9-37h0m-17 10h0m2 6h0m32-15h0m-31 2h0m-1 8h0m53 7h0m8 2h0m-9 21h0m-10-25h0m6 29h0m2-13h0m29-22h0m-14 18h0m-26-18h0m41 0h0m4 31h0m-27-31h0m24 35h0m-24-41h0m10 20h0m1-24h0m-29 24h0m64-23h0m26 4h0m-37 40h0m16-47h0m20 34h0m-16 41h0m-9 0h0m16-15h0m-19 18h0m6-7h0m14 13h0m-29-32h0m30 22h0m-2 5h0m4 7h0m-30-15h0m-2 21h0m-42-27h0m-6-11h0m26 29h0m-8-15h0m-18-3h0m21-15h0m5 9h0m13-1h0m-13 40h0m9 0h0m-84-42h0m2-6h0m24 29h0m4-19h0m-8 34h0m-22-16h0m-4 0h0m24-17h0m-25 23h0m45-11h0m-6 15h0m-19 1h0m-5-3h0m30-32h0m-30 14h0m-5-14h0m-5 19h0m13-6h0m7 0h0m-9-14h0m5 9h0m-72 20h0m31-11h0m-1 20h0m-22-21h0m-8-7h0m2 4h0m21 27h0m-16-22h0m14-2h0m-21-6h0m14 18h0m-8-17h0m10 2h0m18-14h0m13 22h0m-29 10h0m21-1h0m-26-17h0m8-13h0m7 15h0m-10 17h0m29-35h0m-41 41h0m23-32h0m-2 19h0m-77 6h0m32-11h0m-20 15h0m12-8h0m-2-23h0m-17 30h0m1-4h0m-1-27h0m7 30h0m-4-10h0m8-3h0m21-21h0m-9 46h0m-15-26h0m8 7h0m-8-15h0m18 9h0m-1-22h0m-14 6h0m-5 30h0m34-9h0m-4-14h0m-11 19h0m-30-4h0m45-29h0m-32 25h0m15 20h0m-9-43h0m-53 25h0m-6 18h0m-3-44h0m29 0h0m-36 43h0m25-18h0m-7 22h0m-1-22h0m-12-6h0m19 11h0m10 13h0m-28-15h0m30-14h0m-23 2h0m-11 0h0m5 12h0m-5 6h0m36-32h0m7 33h0m-12 6h0m7-17h0m-39-18h0m33 31h0m-7-27h0m-60-1h0m13 7h0m-26 21h0m41-30h0m-40-9h0m15 12h0m-22-11h0m1 5h0m21-2h0m-15 20h0m4 4h0m-7 11h0m39-18h0m3 10h0m-32 1h0m23 13h0m-3-38h0m-21-3h0m9 24h0m27-23h0m-38 34h0m26 3h0m-36-7h0m18-20h0m18 2h0m-2-9h0m1 17h0m-15 21h0m-24-14h0m-13 6h0m8-6h0m-35-27h0m7 7h0m6 34h0m-15-24h0m-1 16h0m11-24h0m33 22h0m-38-35h0m8 26h0m-6-10h0m15 3h0m0 14h0m16-20h0m-17-8h0m4 24h0m2-2h0m-15 8h0m-15-35h0m36 31h0m-32-4h0m31 3h0m7 8h0m-25-16h0m-18-2h0m3-3h0m3 4h0m-44-2h0m27-1h0m-19 1h0m23 1h0m-23-19h0m-21 44h0m10-17h0m-2-14h0m4 16h0m11 11h0m-12-15h0m16 1h0m4-5h0m0-23h0m-6 39h0m2-1h0m17-9h0m4-28h0m-17 29h0m0 11h0m16-34h0m-15 37h0m-4-17h0m16-14h0m-18 16h0m19-21h0m-15 40h0m-24-1h0m18-23h0m16 7h0m-16 12h0m-9-22h0m-44 18h0m-16-39h0m8 23h0m28 11h0m-16-23h0m-14 1h0m-2 34h0m2-40h0m29 27h0m2-1h0m-2 9h0m-7-34h0m-11 4h0m-2 15h0m-6-15h0m1 24h0m-7 5h0m31-21h0m5-17h0m-22 31h0m9-12h0m3-21h0m-10 1h0m-23 18h0m46 6h0m1-1h0m-20 24h0m17-39h0m-2 32h0m5-23h0m-9-2h0m-28-12h0m-6 37h0m13-16h0m31-11h0m-82 7h0m5-13h0m-4 31h0m-4-28h0m-4 2h0m-2 14h0m38-17h0m-44-8h0m40-2h0m-1 41h0m-27-11h0m3 4h0m23 11h0m-30-17h0m39-26h0m-37 1h0m-1 10h0m9 3h0m-6 2h0m17-15h0m-28 5h0m46 26h0m-33-27h0m-9 31h0m5-26h0m-6 0h0m21 7h0m-19 3h0m18 20h0m-16-42h0m21 18h0m10 8h0m-13 4h0m-11 14h0m4-34h0m-13-3h0m-7 31h0m46-35h0m-6 4h0m-71 3h0m-9 30h0m12-40h0m22 48h0m-15-17h0m13 11h0m2-8h0m3-12h0m-6 1h0m-34-1h0m1 22h0m35-34h0m-38 24h0m38-11h0m-25 4h0m-19 15h0m14-29h0m-2 36h0m12-48h0m22 44h0m-35 1h0m26-19h0m-27-25h0m-10 26h0m26-2h0m-12-3h0m6 7h0m-5 18h0m23-27h0m-18 22h0m-17-26h0m5 27h0m41-35h0m-45 30h0m21 10h0m-25-30h0m28 30h0m19-30h0m-36-7h0m29 16h0m7-19h0m-35 10h0m-55-12h0m31 28h0m-28-12h0m2 8h0m16-24h0m-12 12h0m29 1h0m-45-3h0m42 5h0m-25 27h0m2-29h0m-12 6h0m10-13h0m8 27h0m-19-25h0m11-13h0m-16 3h0m41 18h0m-33-4h0m34 25h0m4-22h0m-41-9h0m30-11h0m6 26h0m-34-3h0m32-9h0m-15-11h0m6 2h0m-12 13h0m-4-13h0m28 17h0m0 1h0m6-18h0m-43-2h0m13 14h0m5 29h0m23-43h0m-32 22h0m12 11h0m-15-13h0m9-24h0m-70 0h0m47 13h0m-30 1h0m23 13h0m-29-23h0m20 32h0m-27 0h0m30-29h0m-27 21h0m6-20h0m13 3h0m-21 34h0m33-10h0m-23-36h0m-12 18h0m31 17h0m-35-22h0m11-9h0m30 19h0m-26-12h0m-9 2h0m16-6h0m4 36h0m-11-34h0m0 21h0m-5 10h0m9-33h0m25 6h0m4 2h0m-19-12h0m-21 37h0m4-30h0m13 28h0m-14-14h0m12-10h0m3 25h0m3-35h0m-22 15h0m21-2h0m-16 7h0m15-1h0m13-4h0m-6-6h0m7 15h0m-37-18h0m36 17h0m5-10h0m-1-6h0m-27 1h0m11 1h0m11 6h0m4 27h0m-30-27h0m-9 0h0m29 5h0m-19-4h0m21 2h0m-13 23h0m-38-34h0m-3-11h0m-13 22h0m-3 5h0m32 3h0m-9-12h0m-25 6h0m10-24h0m16 22h0m-4-20h0m-5 29h0m7-25h0m0 3h0m-10 3h0m-19 26h0m36 10h0m-25-32h0m4-16h0m-17 39h0m27-4h0m-14 6h0m4 1h0m12-25h0m-11-14h0m-18 23h0m-5 21h0m3-28h0m37 17h0m-5-35h0m-17 23h0m-15-9h0m33 8h0m-33-15h0m34 7h0m-35 21h0m11-22h0m22 20h0m13-5h0m-15 8h0m-11-33h0m18 4h0m6 8h0m0 19h0m-15-1h0m-7-23h0m-12 32h0m16-16h0m-15 8h0m7-12h0m20 24h0m-6-26h0m-28-12h0m15 2h0m-3 15h0m24-1h0m-31-9h0m-3-15h0m16 17h0m-8-4h0m22 15h0m8-6h0m-5 2h0m-43 10h0m-44-12h0m14-11h0m-11 0h0m30 32h0m8-12h0m-9-26h0m-18 17h0m2-22h0m-3 24h0m-2 1h0m8-7h0m14-1h0m-31-15h0m19 43h0m-16-26h0m39 12h0m-28-6h0m20 20h0m-34-28h0m7-7h0m-3-3h0m7 4h0m-17-5h0m29 29h0m14 10h0m-8-6h0m12-18h0m-29-11h0m-2-11h0m-10 12h0m21 6h0m9-3h0m-30-9h0m-5 35h0m36-30h0m4-5h0m-21 41h0m11-9h0m-3-26h0m7 6h0m7 10h0m-7-13h0m3 8h0m-36-14h0m11 1h0m15 34h0m4-3h0m-14-4h0m18 6h0m-5-11h0m-31-3h0m12 16h0m19-5h0m-2 5h0m16-40h0m-34 33h0m-8-30h0m17 8h0m-36 9h0m-3-8h0m-20-3h0m33 8h0m-23 20h0m-11-4h0m-3-15h0m28-23h0m5 11h0m-6 12h0m11 20h0m-44-43h0m30 41h0m5-13h0m-33 5h0m44-19h0m-13 31h0m2-33h0m-37 32h0m13-22h0m10 26h0m14-30h0m-10 26h0m0-3h0m1-24h0m-26-4h0m26 2h0m14 24h0m-21-31h0m16 1h0m-31 34h0m43-34h0m-5 30h0m-1-28h0m-7 20h0m0 1h0m-12-15h0m8-4h0m-32-6h0m34 10h0m6 9h0m-32 6h0m-1 11h0m-5 3h0m-44-23h0m37 16h0m-26-16h0m28 24h0m-32-44h0m-15-1h0m38 8h0m10-9h0m-38 1h0m27 47h0m-19-43h0m-16 32h0m9-26h0m38-1h0m-3-3h0m-28 41h0m-14-34h0m31 8h0m10-4h0m-18 23h0m-5-36h0m18-3h0m-3 24h0m7-9h0m-6 24h0m-9 5h0m-4-39h0m19 32h0m-4-27h0m-17 3h0m14-13h0m2 34h0m-39-20h0m24 8h0m21 4h0m2 0h0m-9-17h0m-35 31h0m36-17h0m-27 4h0m16-25h0m-4 32h0m17-10h0m-30-5h0m20-11h0m15-5h0m-12 4h0m-80 33h0m9-8h0m-2-34h0m22 8h0m-5 23h0m-11-30h0m-4 11h0m30-5h0m-38 13h0m2 15h0m-1-3h0m36 9h0m-10-39h0m-9-2h0m-15-1h0m4 24h0m13-15h0m-10-2h0m-11-4h0m26 26h0m-19-16h0m22 36h0m-23-43h0m6 11h0m20 31h0m-23-10h0m28 7h0m-24-6h0m15-39h0m10 8h0m-42 34h0m5-38h0m17 31h0m-1-27h0m-28 4h0m-27-6h0m3 1h0m14 33h0m-3-14h0m12 16h0m-23-24h0m28 28h0m-18-22h0m-12 14h0m7 8h0m10-19h0m12 16h0m0-39h0m-29 29h0m-6-12h0m2 13h0m28 7h0m-13-41h0m-7 9h0m-1 37h0m-17-37h0m8-9h0m-6 22h0m13-14h0m-1 9h0m-17-12h0m44 38h0m-30-32h0m6 8h0m-25 0h0m-13 21h0m-6 5h0m-23-33h0m-2 18h0m30 14h0m16-7h0m-1-37h0m1 22h0m-38 10h0m-2-3h0m3 9h0m-6-20h0m15-18h0m13 26h0m-26-23h0m41 43h0m-28-30h0m28 13h0m-14-25h0m-49 35h0m0-19h0m-18 13h0m25-21h0m-18 18h0m5-30h0m-19 33h0m-7-27h0m16-5h0m27 15h0m-57 8h0m-23 4h0m-3 14h0m9 0h0m18-34h0m-20 21h0m-5-8h0m-20-8h0m-1 2h0m-34-9h0m151 84h0m26-10h0m10-25h0m-13 17h0m-6-15h0m18 11h0m-38-17h0m16 42h0m9-23h0m-3 0h0m20-16h0m33 21h0m0 15h0m-30-17h0m34-23h0m-25 17h0m-1-15h0m0 30h0m1-18h0m19-10h0m-24 27h0m24 10h0m18-33h0m-32-4h0m19-4h0m12 2h0m-15 28h0m-14-19h0m55 15h0m-18-19h0m37-4h0m-1 9h0m-1 12h0m-16-12h0m-3 15h0m28-15h0m-15 7h0m13 19h0m-29-33h0m7 34h0m0-13h0m-12 19h0m-7-20h0m4 6h0m31-7h0m5-24h0m-18 18h0m-5 5h0m58 25h0m-10-10h0m-18 1h0m1-27h0m16-12h0m-6 47h0m-6-40h0m-6-1h0m38 38h0m-5-8h0m2-18h0m-6-12h0m-23 28h0m40-14h0m-34 1h0m-14-5h0m33-16h0m-30 5h0m43 35h0m-39-1h0m65-20h0m21-17h0m-37 31h0m12 2h0m23-15h0m5 20h0m0-34h0m-2 34h0m-37-14h0m13-12h0m8-5h0m-15 16h0m5-16h0m23 16h0m-15-23h0m-2 44h0m-13-40h0m12 40h0m-11-18h0m-11-16h0m8 23h0m25 5h0m-12-14h0m23-10h0m-12 27h0m-30-30h0m14 35h0m8-3h0m7-6h0m13-20h0m-22 17h0m19-13h0m-5-11h0m15 29h0m-2 7h0m42-10h0m-4 0h0m-7-38h0m10 7h0m-5 21h0m5 12h0m-27-34h0m7 23h0m9 11h0m-29 8h0m36-16h0m-19-9h0m20-23h0m-21 4h0m-8 33h0m6-33h0m3 3h0m7 27h0m-9-34h0m-10 47h0m30-5h0m10-38h0m-8 16h0m0-10h0m-6-5h0m5-2h0m-24 3h0m24 22h0m-7 5h0m-3-26h0m-27 15h0m24-16h0m5 14h0m-19 25h0m-4-35h0m40-8h0m-11 12h0m22 4h0m-7 25h0m6-7h0m5-19h0m11 27h0m19-31h0m-9 18h0m-10 5h0m9-34h0m-21 2h0m20 31h0m-11 5h0m23 2h0m-1-21h0m-41-7h0m44 3h0m-16 24h0m4-33h0m-16 16h0m24-24h0m-10 26h0m-25-12h0m8 32h0m-1-44h0m22 38h0m-8 2h0m-2-18h0m20 23h0m-1-38h0m3-8h0m-15 30h0m4 5h0m14-1h0m-1 10h0m-13-38h0m8 24h0m-28-13h0m-9 5h0m34 12h0m1-20h0m-9 6h0m-12 28h0m-16-12h0m22-20h0m-10 5h0m29 18h0m-24-15h0m24-17h0m-18 9h0m20 12h0m-22-9h0m-10-12h0m60 6h0m-11 22h0m27 5h0m-15 7h0m10-48h0m-5 3h0m-14 19h0m32-8h0m-8 20h0m-21-12h0m-7-17h0m28 28h0m-17 9h0m4 4h0m3-6h0m-12-13h0m-1-16h0m-9-3h0m36 16h0m-37-18h0m11 20h0m-11-4h0m7-21h0m33 9h0m-3 32h0m-41-28h0m39-4h0m-13-5h0m-10 12h0m20-12h0m-20-4h0m19 20h0m10 11h0m-3-17h0m-38 16h0m14-23h0m-15 3h0m8 7h0m-3 29h0m23-15h0m54-29h0m-23 22h0m19 8h0m12-7h0m-22 11h0m-5-9h0m4-25h0m24 46h0m-34-47h0m35 36h0m-12-18h0m-22-7h0m-2 24h0m16 3h0m-11-32h0m25 13h0m-18 18h0m-16-39h0m2 21h0m27 21h0m-3-32h0m-27 5h0m-5 19h0m35 13h0m-6-3h0m15 1h0m-27-22h0m10 20h0m17-15h0m-12 6h0m-13-19h0m21 27h0m-7-28h0m-23 14h0m18-4h0m-5 25h0m8-49h0m-34 31h0m42-25h0m-22 42h0m13-20h0m3 0h0m-34 9h0m44-16h0m-10 16h0m30 8h0m8-16h0m-18-12h0m41-5h0m-38-1h0m4 22h0m5-1h0m-11-14h0m21 31h0m-28-12h0m42-20h0m-13 19h0m-26-10h0m10-11h0m18-14h0m-23 32h0m9 15h0m21-25h0m-1-5h0m-28 16h0m9 11h0m30-2h0m-13 0h0m-33-31h0m27 24h0m6-15h0m-17 25h0m-4-10h0m3-19h0m1-12h0m11 23h0m-3-27h0m-5 14h0m25 29h0m-16-44h0m-12 11h0m9 2h0m-19 27h0m89 0h0m0-17h0m-37-9h0m18-8h0m16 11h0m-40-8h0m31-5h0m-32 13h0m20 1h0m8-13h0m-12 2h0m26 40h0m-36-32h0m2 6h0m19 4h0m8 13h0m-1 6h0m-35-34h0m41 21h0m-34-15h0m24-11h0m-32 35h0m30-13h0m11-14h0m-1 22h0m-24-24h0m4 24h0m20-12h0m-24-18h0m11 40h0m16-8h0m-6-23h0m-10 16h0m-24 17h0m37-11h0m4-18h0m-18 23h0m0-25h0m67-6h0m-29 23h0m16-29h0m-16 34h0m28-31h0m0 2h0m-6-1h0m-17 3h0m-8 15h0m-8-6h0m0-19h0m-4 3h0m4-2h0m29 19h0m-1-6h0m11-11h0m-26 38h0m27-15h0m-2 21h0m-3-30h0m-5 0h0m2 27h0m-27 2h0m19-23h0m-6-19h0m18 24h0m-14 5h0m72-18h0m-41 28h0m-2-4h0m-5-22h0m3-14h0m19 13h0m1-4h0m24 36h0m-5-24h0m2 15h0m-37-10h0m-3-19h0m12 7h0m8 3h0m13 27h0m-34-22h0m21 16h0m-7-27h0m25 27h0m-37-38h0m42 23h0m-42 22h0m4-39h0m54-6h0m11 2h0m4 13h0m-18 27h0m23-17h0m-29-15h0m35 23h0m-8-33h0m-23-3h0m-7 29h0m41-10h0m1-9h0m-11 11h0m7 8h0m-2-16h0m-25 10h0m43-16h0m27 18h0m-16-24h0m8 17h0m25 13h0m-22 15h0m7-43h0m-26-4h0m6 16h0m34 11h0m-1-3h0m-28 16h0m22-12h0m-19-24h0m62 34h0m0-19h0m-20 17h0m-8-14h0m17-16h0m-17 22h0m26-2h0m-5-26h0m-20 14h0m23 10h0m-18 12h0m24-28h0m-30 8h0m46-13h0m25 44h0m-13-24h0m82-9h0m-43 2h0m44-4h0m-39 17h0m38-10h0m-13-16h0m-30 15h0m3 29h0m45-46h0m2 7h0m50-7h0m37 11h0m16-9h0m-300 75h0m-1-28h0m-39 25h0m18 0h0m-34-14h0m24 4h0m-9 21h0m20-19h0m-21 6h0m-53-10h0m26 12h0m-33 3h0m30 10h0m0-35h0m-10 33h0m-12-9h0m13-11h0m-5 16h0m-6-4h0m20-24h0m-64 8h0m13 12h0m-16 1h0m5-13h0m25 17h0m-19-2h0m-15-27h0m14 23h0m22-5h0m-42-12h0m-7-4h0m49 33h0m-2 1h0m-4-15h0m-5-20h0m-1 14h0m-30 19h0m-8-28h0m-1-3h0m-28 16h0m-5-16h0m16 13h0m-9 28h0m20-28h0m-13-16h0m20 31h0m-18-14h0m-13-5h0m-15 32h0m20-13h0m5-25h0m-6 12h0m-9 24h0m7-28h0m-7-6h0m12 1h0m-8 20h0m30-17h0m-26-9h0m-53 17h0m13-2h0m-14-7h0m7 30h0m0-11h0m-21-16h0m-1 1h0m36-2h0m3 25h0m-30-15h0m9-18h0m-20-3h0m8 18h0m27 9h0m-5 8h0m7-3h0m-21-8h0m-1 21h0m31-39h0m-43 36h0m20-30h0m17 13h0m-21-5h0m11-12h0m-5 39h0m-47-49h0m16 1h0m-16 10h0m-21-4h0m27 15h0m-34-4h0m16-14h0m5 42h0m0-38h0m-21 9h0m41 17h0m-7-6h0m6 1h0m-29 15h0m37-14h0m-41 6h0m9-22h0m26 30h0m-39-36h0m44 28h0m-86 6h0m8-4h0m24 8h0m-12-23h0m5 24h0m8-32h0m-14 24h0m12-18h0m-21-15h0m-10-2h0m5-4h0m16 32h0m-16-1h0m10-11h0m-25-2h0m46-16h0m-40 38h0m17-39h0m10 8h0m-33 27h0m15-30h0m19 28h0m-1-25h0m-23-7h0m-13 33h0m-2-18h0m-21-17h0m-1 14h0m7 21h0m-7-34h0m19 1h0m-20 6h0m-16 18h0m-7 22h0m41-1h0m-23-27h0m1 1h0m14-14h0m-6 41h0m-16-22h0m-5 18h0m12-29h0m12-9h0m-11 12h0m12 10h0m18-6h0m-28-11h0m10 0h0m6 5h0m-9-6h0m1-1h0m-10-2h0m12 21h0m-16-28h0m-27 7h0m-19 2h0m-9 13h0m3 17h0m12-20h0m-17-9h0m18 0h0m-20 33h0m23-30h0m14-12h0m-9 7h0m14 10h0m-34-14h0m3 4h0m24 34h0m-18-39h0m-4 33h0m-3-11h0m-7-3h0m26 1h0m-4-15h0m0-5h0m14 9h0m-36-11h0m24 39h0m-16-29h0m22 34h0m-21-29h0m-24 8h0m-43 1h0m36 0h0m7-17h0m-3 38h0m-23-23h0m-16-1h0m44-1h0m-32-21h0m28 32h0m-7-26h0m12 3h0m-43 8h0m41-9h0m-8 40h0m8-44h0m-32 3h0m12 1h0m17-3h0m-34 12h0m-1-14h0m-40 0h0m32 34h0m-13-32h0m7 7h0m-26 37h0m5-29h0m-1 18h0m7-16h0m0-4h0m-24 17h0m28-31h0m-70 9h0m14-2h0m-9 25h0m-3-34h0m13 19h0m88 36h0m8 28h0m7-32h0m6 22h0m61 5h0m-26 1h0m17-5h0m11 16h0m-49-38h0m18 18h0m-17-21h0m34 16h0m1-12h0m-17 39h0m57-43h0m-10 17h0m24 11h0m-14-11h0m-11-13h0m28 34h0m-9-9h0m-31-7h0m34-19h0m-14 35h0m62-35h0m4 18h0m-37-3h0m22-12h0m-1 18h0m9 7h0m-21 14h0m36-42h0m-1 26h0m-21-5h0m-7-16h0m21 12h0m-30 13h0m40-21h0m-45 3h0m44 12h0m12-18h0m17 29h0m-18-37h0m3-1h0m65 7h0m20-1h0m-2-3h0m-41-1h0m1 4h0m11 4h0m0-11h0m0 3h0m-13 30h0m17-18h0m4-2h0m67-4h0m-5-5h0m3-3h0m-25 0h0m57 6h0m56-7h0m-240 53h0m-85 11h0m35 0h0m-37-14h0m19 9h0"/>
<use href="#pc" transform="rotate(180 401.00 246.75)"/></g>
<path d="M334.4 213.5L334.4 272L392 299L468 279.5" fill="none" stroke="#5a5a5a" stroke-width="0.6"/>
<text class="t" x="331.5" y="215.5" text-anchor="end">1</text>
<text class="t" x="331.5" y="244.5" text-anchor="end">0.5</text>
<text class="t" x="331.5" y="273" text-anchor="end">0</text>
<text class="t" x="332" y="279.5" text-anchor="end">1</text>
<text class="t" x="361" y="293" text-anchor="end">0.5</text>
<text class="t" x="389.5" y="306.5" text-anchor="end">0</text>
<text class="t" x="395" y="306.5" text-anchor="start">0</text>
<text class="t" x="433" y="296.5" text-anchor="start">0.5</text>
<text class="t" x="470" y="286" text-anchor="start">1</text>
<text class="i" x="359" y="310" text-anchor="middle">y</text>
<text class="i" x="427" y="310.5" text-anchor="middle">x</text>
<text class="i" transform="translate(317 243) rotate(-90)" text-anchor="middle">z</text>
</svg></body></html>
